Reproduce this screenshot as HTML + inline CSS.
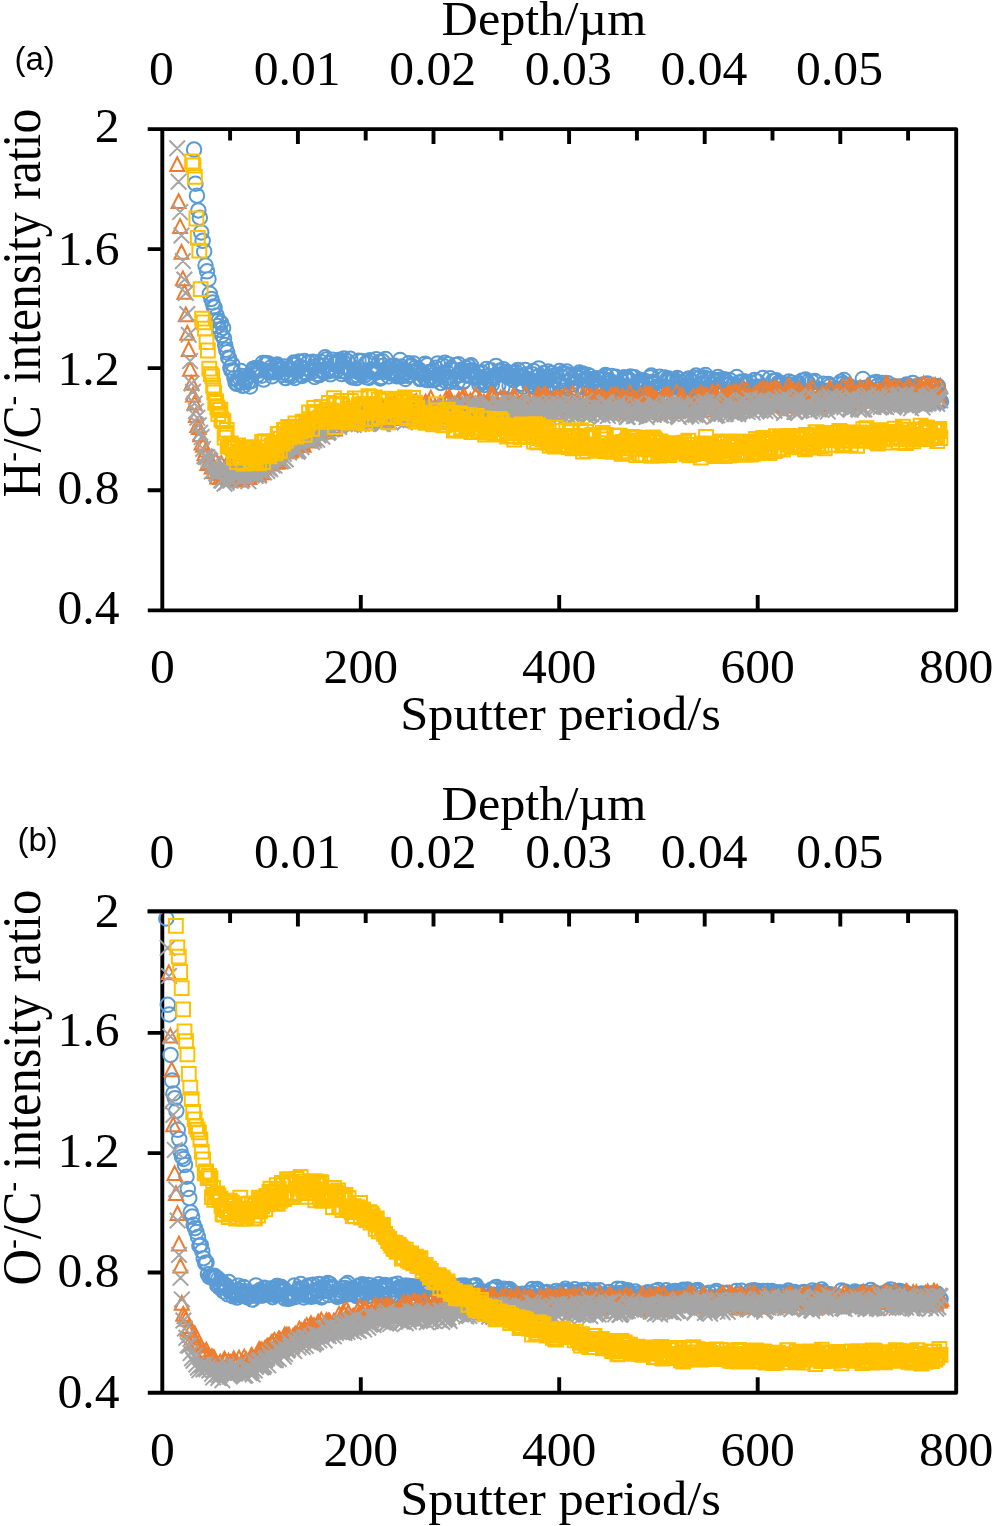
<!DOCTYPE html>
<html><head><meta charset="utf-8"><title>Figure</title>
<style>html,body{margin:0;padding:0;background:#fff}svg{display:block}</style></head>
<body><svg width="995" height="1526" viewBox="0 0 995 1526">
<rect width="995" height="1526" fill="#fff"/>
<defs><clipPath id="clipa"><rect x="152.3" y="127.14999999999999" width="803.9000000000001" height="485.19999999999993"/></clipPath></defs><g fill="none" stroke-width="2.0" stroke-linejoin="miter" clip-path="url(#clipa)"><path d="M186.8 149.6a7.25 7.25 0 1 0 14.5 0a7.25 7.25 0 1 0 -14.5 0zM188.2 183.7a7.25 7.25 0 1 0 14.5 0a7.25 7.25 0 1 0 -14.5 0zM189.7 195.7a7.25 7.25 0 1 0 14.5 0a7.25 7.25 0 1 0 -14.5 0zM191.1 210.4a7.25 7.25 0 1 0 14.5 0a7.25 7.25 0 1 0 -14.5 0zM192.6 217.7a7.25 7.25 0 1 0 14.5 0a7.25 7.25 0 1 0 -14.5 0zM194 232.4a7.25 7.25 0 1 0 14.5 0a7.25 7.25 0 1 0 -14.5 0zM195.4 240.8a7.25 7.25 0 1 0 14.5 0a7.25 7.25 0 1 0 -14.5 0zM196.9 251.3a7.25 7.25 0 1 0 14.5 0a7.25 7.25 0 1 0 -14.5 0zM198.3 265.5a7.25 7.25 0 1 0 14.5 0a7.25 7.25 0 1 0 -14.5 0zM199.8 271.3a7.25 7.25 0 1 0 14.5 0a7.25 7.25 0 1 0 -14.5 0zM201.2 279.2a7.25 7.25 0 1 0 14.5 0a7.25 7.25 0 1 0 -14.5 0zM202.6 293.8a7.25 7.25 0 1 0 14.5 0a7.25 7.25 0 1 0 -14.5 0zM204.1 298.9a7.25 7.25 0 1 0 14.5 0a7.25 7.25 0 1 0 -14.5 0zM205.4 302.6a7.25 7.25 0 1 0 14.5 0a7.25 7.25 0 1 0 -14.5 0zM206.4 306.5a7.25 7.25 0 1 0 14.5 0a7.25 7.25 0 1 0 -14.5 0zM207.4 307.6a7.25 7.25 0 1 0 14.5 0a7.25 7.25 0 1 0 -14.5 0zM208.5 320.3a7.25 7.25 0 1 0 14.5 0a7.25 7.25 0 1 0 -14.5 0zM209.5 315.6a7.25 7.25 0 1 0 14.5 0a7.25 7.25 0 1 0 -14.5 0zM210.6 326.1a7.25 7.25 0 1 0 14.5 0a7.25 7.25 0 1 0 -14.5 0zM211.6 320.5a7.25 7.25 0 1 0 14.5 0a7.25 7.25 0 1 0 -14.5 0zM212.7 330a7.25 7.25 0 1 0 14.5 0a7.25 7.25 0 1 0 -14.5 0zM213.7 322.8a7.25 7.25 0 1 0 14.5 0a7.25 7.25 0 1 0 -14.5 0zM214.7 335.1a7.25 7.25 0 1 0 14.5 0a7.25 7.25 0 1 0 -14.5 0zM215.8 327.9a7.25 7.25 0 1 0 14.5 0a7.25 7.25 0 1 0 -14.5 0zM216.8 338.4a7.25 7.25 0 1 0 14.5 0a7.25 7.25 0 1 0 -14.5 0zM217.9 345a7.25 7.25 0 1 0 14.5 0a7.25 7.25 0 1 0 -14.5 0zM218.9 349.8a7.25 7.25 0 1 0 14.5 0a7.25 7.25 0 1 0 -14.5 0zM220 352.3a7.25 7.25 0 1 0 14.5 0a7.25 7.25 0 1 0 -14.5 0zM221 357.7a7.25 7.25 0 1 0 14.5 0a7.25 7.25 0 1 0 -14.5 0zM222 358.5a7.25 7.25 0 1 0 14.5 0a7.25 7.25 0 1 0 -14.5 0zM223.1 367.5a7.25 7.25 0 1 0 14.5 0a7.25 7.25 0 1 0 -14.5 0zM224.1 370.5a7.25 7.25 0 1 0 14.5 0a7.25 7.25 0 1 0 -14.5 0zM225.2 364.6a7.25 7.25 0 1 0 14.5 0a7.25 7.25 0 1 0 -14.5 0zM226.2 371.5a7.25 7.25 0 1 0 14.5 0a7.25 7.25 0 1 0 -14.5 0zM227.2 377.9a7.25 7.25 0 1 0 14.5 0a7.25 7.25 0 1 0 -14.5 0zM228.3 382.6a7.25 7.25 0 1 0 14.5 0a7.25 7.25 0 1 0 -14.5 0zM229.3 383.8a7.25 7.25 0 1 0 14.5 0a7.25 7.25 0 1 0 -14.5 0zM230.4 383.9a7.25 7.25 0 1 0 14.5 0a7.25 7.25 0 1 0 -14.5 0zM231.4 381.2a7.25 7.25 0 1 0 14.5 0a7.25 7.25 0 1 0 -14.5 0zM232.5 378a7.25 7.25 0 1 0 14.5 0a7.25 7.25 0 1 0 -14.5 0zM233.5 371a7.25 7.25 0 1 0 14.5 0a7.25 7.25 0 1 0 -14.5 0zM234.5 376a7.25 7.25 0 1 0 14.5 0a7.25 7.25 0 1 0 -14.5 0zM235.6 385.8a7.25 7.25 0 1 0 14.5 0a7.25 7.25 0 1 0 -14.5 0zM236.6 385.6a7.25 7.25 0 1 0 14.5 0a7.25 7.25 0 1 0 -14.5 0zM237.7 381.1a7.25 7.25 0 1 0 14.5 0a7.25 7.25 0 1 0 -14.5 0zM238.7 380.2a7.25 7.25 0 1 0 14.5 0a7.25 7.25 0 1 0 -14.5 0zM239.7 377.7a7.25 7.25 0 1 0 14.5 0a7.25 7.25 0 1 0 -14.5 0zM240.8 382.1a7.25 7.25 0 1 0 14.5 0a7.25 7.25 0 1 0 -14.5 0zM241.8 376.5a7.25 7.25 0 1 0 14.5 0a7.25 7.25 0 1 0 -14.5 0zM242.9 386.5a7.25 7.25 0 1 0 14.5 0a7.25 7.25 0 1 0 -14.5 0zM243.9 381a7.25 7.25 0 1 0 14.5 0a7.25 7.25 0 1 0 -14.5 0zM245 371.3a7.25 7.25 0 1 0 14.5 0a7.25 7.25 0 1 0 -14.5 0zM246 368.8a7.25 7.25 0 1 0 14.5 0a7.25 7.25 0 1 0 -14.5 0zM247 369a7.25 7.25 0 1 0 14.5 0a7.25 7.25 0 1 0 -14.5 0zM248.1 368a7.25 7.25 0 1 0 14.5 0a7.25 7.25 0 1 0 -14.5 0zM249.1 370.6a7.25 7.25 0 1 0 14.5 0a7.25 7.25 0 1 0 -14.5 0zM250.2 375.2a7.25 7.25 0 1 0 14.5 0a7.25 7.25 0 1 0 -14.5 0zM251.2 367.9a7.25 7.25 0 1 0 14.5 0a7.25 7.25 0 1 0 -14.5 0zM252.3 370.4a7.25 7.25 0 1 0 14.5 0a7.25 7.25 0 1 0 -14.5 0zM253.3 370.3a7.25 7.25 0 1 0 14.5 0a7.25 7.25 0 1 0 -14.5 0zM254.3 375.7a7.25 7.25 0 1 0 14.5 0a7.25 7.25 0 1 0 -14.5 0zM255.4 363a7.25 7.25 0 1 0 14.5 0a7.25 7.25 0 1 0 -14.5 0zM256.4 379.6a7.25 7.25 0 1 0 14.5 0a7.25 7.25 0 1 0 -14.5 0zM257.5 364.6a7.25 7.25 0 1 0 14.5 0a7.25 7.25 0 1 0 -14.5 0zM258.5 363a7.25 7.25 0 1 0 14.5 0a7.25 7.25 0 1 0 -14.5 0zM259.5 371.6a7.25 7.25 0 1 0 14.5 0a7.25 7.25 0 1 0 -14.5 0zM260.6 363.2a7.25 7.25 0 1 0 14.5 0a7.25 7.25 0 1 0 -14.5 0zM261.6 372.6a7.25 7.25 0 1 0 14.5 0a7.25 7.25 0 1 0 -14.5 0zM262.7 370.9a7.25 7.25 0 1 0 14.5 0a7.25 7.25 0 1 0 -14.5 0zM263.7 367.5a7.25 7.25 0 1 0 14.5 0a7.25 7.25 0 1 0 -14.5 0zM264.8 376.3a7.25 7.25 0 1 0 14.5 0a7.25 7.25 0 1 0 -14.5 0zM265.8 371.2a7.25 7.25 0 1 0 14.5 0a7.25 7.25 0 1 0 -14.5 0zM266.8 372.3a7.25 7.25 0 1 0 14.5 0a7.25 7.25 0 1 0 -14.5 0zM267.9 368.7a7.25 7.25 0 1 0 14.5 0a7.25 7.25 0 1 0 -14.5 0zM268.9 365.9a7.25 7.25 0 1 0 14.5 0a7.25 7.25 0 1 0 -14.5 0zM270 364.6a7.25 7.25 0 1 0 14.5 0a7.25 7.25 0 1 0 -14.5 0zM271 367.1a7.25 7.25 0 1 0 14.5 0a7.25 7.25 0 1 0 -14.5 0zM272.1 369.7a7.25 7.25 0 1 0 14.5 0a7.25 7.25 0 1 0 -14.5 0zM273.1 369.9a7.25 7.25 0 1 0 14.5 0a7.25 7.25 0 1 0 -14.5 0zM274.1 369.7a7.25 7.25 0 1 0 14.5 0a7.25 7.25 0 1 0 -14.5 0zM275.2 374.9a7.25 7.25 0 1 0 14.5 0a7.25 7.25 0 1 0 -14.5 0zM276.2 372.7a7.25 7.25 0 1 0 14.5 0a7.25 7.25 0 1 0 -14.5 0zM277.3 366.6a7.25 7.25 0 1 0 14.5 0a7.25 7.25 0 1 0 -14.5 0zM278.3 378.1a7.25 7.25 0 1 0 14.5 0a7.25 7.25 0 1 0 -14.5 0zM279.3 368.8a7.25 7.25 0 1 0 14.5 0a7.25 7.25 0 1 0 -14.5 0zM280.4 373.8a7.25 7.25 0 1 0 14.5 0a7.25 7.25 0 1 0 -14.5 0zM281.4 375.6a7.25 7.25 0 1 0 14.5 0a7.25 7.25 0 1 0 -14.5 0zM282.5 369.5a7.25 7.25 0 1 0 14.5 0a7.25 7.25 0 1 0 -14.5 0zM283.5 368.9a7.25 7.25 0 1 0 14.5 0a7.25 7.25 0 1 0 -14.5 0zM284.6 376.2a7.25 7.25 0 1 0 14.5 0a7.25 7.25 0 1 0 -14.5 0zM285.6 364.7a7.25 7.25 0 1 0 14.5 0a7.25 7.25 0 1 0 -14.5 0zM286.6 362.6a7.25 7.25 0 1 0 14.5 0a7.25 7.25 0 1 0 -14.5 0zM287.7 378a7.25 7.25 0 1 0 14.5 0a7.25 7.25 0 1 0 -14.5 0zM288.7 364.4a7.25 7.25 0 1 0 14.5 0a7.25 7.25 0 1 0 -14.5 0zM289.8 371.7a7.25 7.25 0 1 0 14.5 0a7.25 7.25 0 1 0 -14.5 0zM290.8 370.5a7.25 7.25 0 1 0 14.5 0a7.25 7.25 0 1 0 -14.5 0zM291.8 361.5a7.25 7.25 0 1 0 14.5 0a7.25 7.25 0 1 0 -14.5 0zM292.9 366.8a7.25 7.25 0 1 0 14.5 0a7.25 7.25 0 1 0 -14.5 0zM293.9 374.6a7.25 7.25 0 1 0 14.5 0a7.25 7.25 0 1 0 -14.5 0zM295 376a7.25 7.25 0 1 0 14.5 0a7.25 7.25 0 1 0 -14.5 0zM296 372a7.25 7.25 0 1 0 14.5 0a7.25 7.25 0 1 0 -14.5 0zM297.1 361.1a7.25 7.25 0 1 0 14.5 0a7.25 7.25 0 1 0 -14.5 0zM298.1 372.5a7.25 7.25 0 1 0 14.5 0a7.25 7.25 0 1 0 -14.5 0zM299.1 368.7a7.25 7.25 0 1 0 14.5 0a7.25 7.25 0 1 0 -14.5 0zM300.2 373.7a7.25 7.25 0 1 0 14.5 0a7.25 7.25 0 1 0 -14.5 0zM301.2 362.4a7.25 7.25 0 1 0 14.5 0a7.25 7.25 0 1 0 -14.5 0zM302.3 370.2a7.25 7.25 0 1 0 14.5 0a7.25 7.25 0 1 0 -14.5 0zM303.3 369.3a7.25 7.25 0 1 0 14.5 0a7.25 7.25 0 1 0 -14.5 0zM304.4 372.2a7.25 7.25 0 1 0 14.5 0a7.25 7.25 0 1 0 -14.5 0zM305.4 361.8a7.25 7.25 0 1 0 14.5 0a7.25 7.25 0 1 0 -14.5 0zM306.4 366.7a7.25 7.25 0 1 0 14.5 0a7.25 7.25 0 1 0 -14.5 0zM307.5 377a7.25 7.25 0 1 0 14.5 0a7.25 7.25 0 1 0 -14.5 0zM308.5 362.2a7.25 7.25 0 1 0 14.5 0a7.25 7.25 0 1 0 -14.5 0zM309.6 374a7.25 7.25 0 1 0 14.5 0a7.25 7.25 0 1 0 -14.5 0zM310.6 374a7.25 7.25 0 1 0 14.5 0a7.25 7.25 0 1 0 -14.5 0zM311.6 375.3a7.25 7.25 0 1 0 14.5 0a7.25 7.25 0 1 0 -14.5 0zM312.7 365.6a7.25 7.25 0 1 0 14.5 0a7.25 7.25 0 1 0 -14.5 0zM313.7 361.9a7.25 7.25 0 1 0 14.5 0a7.25 7.25 0 1 0 -14.5 0zM314.8 371.4a7.25 7.25 0 1 0 14.5 0a7.25 7.25 0 1 0 -14.5 0zM315.8 370.1a7.25 7.25 0 1 0 14.5 0a7.25 7.25 0 1 0 -14.5 0zM316.9 365.6a7.25 7.25 0 1 0 14.5 0a7.25 7.25 0 1 0 -14.5 0zM317.9 357.3a7.25 7.25 0 1 0 14.5 0a7.25 7.25 0 1 0 -14.5 0zM318.9 359.5a7.25 7.25 0 1 0 14.5 0a7.25 7.25 0 1 0 -14.5 0zM320 369.6a7.25 7.25 0 1 0 14.5 0a7.25 7.25 0 1 0 -14.5 0zM321 371.4a7.25 7.25 0 1 0 14.5 0a7.25 7.25 0 1 0 -14.5 0zM322.1 370a7.25 7.25 0 1 0 14.5 0a7.25 7.25 0 1 0 -14.5 0zM323.1 374.3a7.25 7.25 0 1 0 14.5 0a7.25 7.25 0 1 0 -14.5 0zM324.2 362.7a7.25 7.25 0 1 0 14.5 0a7.25 7.25 0 1 0 -14.5 0zM325.2 359.8a7.25 7.25 0 1 0 14.5 0a7.25 7.25 0 1 0 -14.5 0zM326.2 370.4a7.25 7.25 0 1 0 14.5 0a7.25 7.25 0 1 0 -14.5 0zM327.3 364.4a7.25 7.25 0 1 0 14.5 0a7.25 7.25 0 1 0 -14.5 0zM328.3 362.5a7.25 7.25 0 1 0 14.5 0a7.25 7.25 0 1 0 -14.5 0zM329.4 370.5a7.25 7.25 0 1 0 14.5 0a7.25 7.25 0 1 0 -14.5 0zM330.4 361a7.25 7.25 0 1 0 14.5 0a7.25 7.25 0 1 0 -14.5 0zM331.4 360.6a7.25 7.25 0 1 0 14.5 0a7.25 7.25 0 1 0 -14.5 0zM332.5 359.7a7.25 7.25 0 1 0 14.5 0a7.25 7.25 0 1 0 -14.5 0zM333.5 371a7.25 7.25 0 1 0 14.5 0a7.25 7.25 0 1 0 -14.5 0zM334.6 374.1a7.25 7.25 0 1 0 14.5 0a7.25 7.25 0 1 0 -14.5 0zM335.6 361.7a7.25 7.25 0 1 0 14.5 0a7.25 7.25 0 1 0 -14.5 0zM336.7 358.5a7.25 7.25 0 1 0 14.5 0a7.25 7.25 0 1 0 -14.5 0zM337.7 367.4a7.25 7.25 0 1 0 14.5 0a7.25 7.25 0 1 0 -14.5 0zM338.7 372.2a7.25 7.25 0 1 0 14.5 0a7.25 7.25 0 1 0 -14.5 0zM339.8 360.9a7.25 7.25 0 1 0 14.5 0a7.25 7.25 0 1 0 -14.5 0zM340.8 361.6a7.25 7.25 0 1 0 14.5 0a7.25 7.25 0 1 0 -14.5 0zM341.9 369.6a7.25 7.25 0 1 0 14.5 0a7.25 7.25 0 1 0 -14.5 0zM342.9 358.8a7.25 7.25 0 1 0 14.5 0a7.25 7.25 0 1 0 -14.5 0zM343.9 370.5a7.25 7.25 0 1 0 14.5 0a7.25 7.25 0 1 0 -14.5 0zM345 377.5a7.25 7.25 0 1 0 14.5 0a7.25 7.25 0 1 0 -14.5 0zM346 375.9a7.25 7.25 0 1 0 14.5 0a7.25 7.25 0 1 0 -14.5 0zM347.1 369.7a7.25 7.25 0 1 0 14.5 0a7.25 7.25 0 1 0 -14.5 0zM348.1 370.8a7.25 7.25 0 1 0 14.5 0a7.25 7.25 0 1 0 -14.5 0zM349.2 378.1a7.25 7.25 0 1 0 14.5 0a7.25 7.25 0 1 0 -14.5 0zM350.2 375.3a7.25 7.25 0 1 0 14.5 0a7.25 7.25 0 1 0 -14.5 0zM351.2 360.8a7.25 7.25 0 1 0 14.5 0a7.25 7.25 0 1 0 -14.5 0zM352.3 373a7.25 7.25 0 1 0 14.5 0a7.25 7.25 0 1 0 -14.5 0zM353.3 373.1a7.25 7.25 0 1 0 14.5 0a7.25 7.25 0 1 0 -14.5 0zM354.4 361a7.25 7.25 0 1 0 14.5 0a7.25 7.25 0 1 0 -14.5 0zM355.4 374a7.25 7.25 0 1 0 14.5 0a7.25 7.25 0 1 0 -14.5 0zM356.5 370.7a7.25 7.25 0 1 0 14.5 0a7.25 7.25 0 1 0 -14.5 0zM357.5 375.3a7.25 7.25 0 1 0 14.5 0a7.25 7.25 0 1 0 -14.5 0zM358.5 363.5a7.25 7.25 0 1 0 14.5 0a7.25 7.25 0 1 0 -14.5 0zM359.6 377.3a7.25 7.25 0 1 0 14.5 0a7.25 7.25 0 1 0 -14.5 0zM360.6 362.2a7.25 7.25 0 1 0 14.5 0a7.25 7.25 0 1 0 -14.5 0zM361.7 377.8a7.25 7.25 0 1 0 14.5 0a7.25 7.25 0 1 0 -14.5 0zM362.7 360.2a7.25 7.25 0 1 0 14.5 0a7.25 7.25 0 1 0 -14.5 0zM363.7 369.5a7.25 7.25 0 1 0 14.5 0a7.25 7.25 0 1 0 -14.5 0zM364.8 371.5a7.25 7.25 0 1 0 14.5 0a7.25 7.25 0 1 0 -14.5 0zM365.8 369.9a7.25 7.25 0 1 0 14.5 0a7.25 7.25 0 1 0 -14.5 0zM366.9 371.2a7.25 7.25 0 1 0 14.5 0a7.25 7.25 0 1 0 -14.5 0zM367.9 373a7.25 7.25 0 1 0 14.5 0a7.25 7.25 0 1 0 -14.5 0zM369 359.2a7.25 7.25 0 1 0 14.5 0a7.25 7.25 0 1 0 -14.5 0zM370 370.8a7.25 7.25 0 1 0 14.5 0a7.25 7.25 0 1 0 -14.5 0zM371 372a7.25 7.25 0 1 0 14.5 0a7.25 7.25 0 1 0 -14.5 0zM372.1 362.1a7.25 7.25 0 1 0 14.5 0a7.25 7.25 0 1 0 -14.5 0zM373.1 378.4a7.25 7.25 0 1 0 14.5 0a7.25 7.25 0 1 0 -14.5 0zM374.2 377.1a7.25 7.25 0 1 0 14.5 0a7.25 7.25 0 1 0 -14.5 0zM375.2 361.3a7.25 7.25 0 1 0 14.5 0a7.25 7.25 0 1 0 -14.5 0zM376.3 365.7a7.25 7.25 0 1 0 14.5 0a7.25 7.25 0 1 0 -14.5 0zM377.3 372a7.25 7.25 0 1 0 14.5 0a7.25 7.25 0 1 0 -14.5 0zM378.3 359a7.25 7.25 0 1 0 14.5 0a7.25 7.25 0 1 0 -14.5 0zM379.4 368.7a7.25 7.25 0 1 0 14.5 0a7.25 7.25 0 1 0 -14.5 0zM380.4 369a7.25 7.25 0 1 0 14.5 0a7.25 7.25 0 1 0 -14.5 0zM381.5 376.4a7.25 7.25 0 1 0 14.5 0a7.25 7.25 0 1 0 -14.5 0zM382.5 366.7a7.25 7.25 0 1 0 14.5 0a7.25 7.25 0 1 0 -14.5 0zM383.5 373.5a7.25 7.25 0 1 0 14.5 0a7.25 7.25 0 1 0 -14.5 0zM384.6 365.7a7.25 7.25 0 1 0 14.5 0a7.25 7.25 0 1 0 -14.5 0zM385.6 373.5a7.25 7.25 0 1 0 14.5 0a7.25 7.25 0 1 0 -14.5 0zM386.7 365.4a7.25 7.25 0 1 0 14.5 0a7.25 7.25 0 1 0 -14.5 0zM387.7 371.2a7.25 7.25 0 1 0 14.5 0a7.25 7.25 0 1 0 -14.5 0zM388.8 373.9a7.25 7.25 0 1 0 14.5 0a7.25 7.25 0 1 0 -14.5 0zM389.8 376.3a7.25 7.25 0 1 0 14.5 0a7.25 7.25 0 1 0 -14.5 0zM390.8 375.2a7.25 7.25 0 1 0 14.5 0a7.25 7.25 0 1 0 -14.5 0zM391.9 371a7.25 7.25 0 1 0 14.5 0a7.25 7.25 0 1 0 -14.5 0zM392.9 360a7.25 7.25 0 1 0 14.5 0a7.25 7.25 0 1 0 -14.5 0zM394 366.5a7.25 7.25 0 1 0 14.5 0a7.25 7.25 0 1 0 -14.5 0zM395 376.1a7.25 7.25 0 1 0 14.5 0a7.25 7.25 0 1 0 -14.5 0zM396 369.8a7.25 7.25 0 1 0 14.5 0a7.25 7.25 0 1 0 -14.5 0zM397.1 372a7.25 7.25 0 1 0 14.5 0a7.25 7.25 0 1 0 -14.5 0zM398.1 379a7.25 7.25 0 1 0 14.5 0a7.25 7.25 0 1 0 -14.5 0zM399.2 373.2a7.25 7.25 0 1 0 14.5 0a7.25 7.25 0 1 0 -14.5 0zM400.2 375.8a7.25 7.25 0 1 0 14.5 0a7.25 7.25 0 1 0 -14.5 0zM401.3 363.3a7.25 7.25 0 1 0 14.5 0a7.25 7.25 0 1 0 -14.5 0zM402.3 366.8a7.25 7.25 0 1 0 14.5 0a7.25 7.25 0 1 0 -14.5 0zM403.3 374.8a7.25 7.25 0 1 0 14.5 0a7.25 7.25 0 1 0 -14.5 0zM404.4 365.8a7.25 7.25 0 1 0 14.5 0a7.25 7.25 0 1 0 -14.5 0zM405.4 371.5a7.25 7.25 0 1 0 14.5 0a7.25 7.25 0 1 0 -14.5 0zM406.5 363.6a7.25 7.25 0 1 0 14.5 0a7.25 7.25 0 1 0 -14.5 0zM407.5 368.1a7.25 7.25 0 1 0 14.5 0a7.25 7.25 0 1 0 -14.5 0zM408.6 371.5a7.25 7.25 0 1 0 14.5 0a7.25 7.25 0 1 0 -14.5 0zM409.6 370a7.25 7.25 0 1 0 14.5 0a7.25 7.25 0 1 0 -14.5 0zM410.6 370.8a7.25 7.25 0 1 0 14.5 0a7.25 7.25 0 1 0 -14.5 0zM411.7 369.5a7.25 7.25 0 1 0 14.5 0a7.25 7.25 0 1 0 -14.5 0zM412.7 379.1a7.25 7.25 0 1 0 14.5 0a7.25 7.25 0 1 0 -14.5 0zM413.8 378.6a7.25 7.25 0 1 0 14.5 0a7.25 7.25 0 1 0 -14.5 0zM414.8 374.3a7.25 7.25 0 1 0 14.5 0a7.25 7.25 0 1 0 -14.5 0zM415.8 372.5a7.25 7.25 0 1 0 14.5 0a7.25 7.25 0 1 0 -14.5 0zM416.9 377a7.25 7.25 0 1 0 14.5 0a7.25 7.25 0 1 0 -14.5 0zM417.9 363.7a7.25 7.25 0 1 0 14.5 0a7.25 7.25 0 1 0 -14.5 0zM419 379.9a7.25 7.25 0 1 0 14.5 0a7.25 7.25 0 1 0 -14.5 0zM420 365.3a7.25 7.25 0 1 0 14.5 0a7.25 7.25 0 1 0 -14.5 0zM421.1 380.1a7.25 7.25 0 1 0 14.5 0a7.25 7.25 0 1 0 -14.5 0zM422.1 372a7.25 7.25 0 1 0 14.5 0a7.25 7.25 0 1 0 -14.5 0zM423.1 377.7a7.25 7.25 0 1 0 14.5 0a7.25 7.25 0 1 0 -14.5 0zM424.2 372.5a7.25 7.25 0 1 0 14.5 0a7.25 7.25 0 1 0 -14.5 0zM425.2 380.3a7.25 7.25 0 1 0 14.5 0a7.25 7.25 0 1 0 -14.5 0zM426.3 370.7a7.25 7.25 0 1 0 14.5 0a7.25 7.25 0 1 0 -14.5 0zM427.3 379.9a7.25 7.25 0 1 0 14.5 0a7.25 7.25 0 1 0 -14.5 0zM428.4 367.8a7.25 7.25 0 1 0 14.5 0a7.25 7.25 0 1 0 -14.5 0zM429.4 379.1a7.25 7.25 0 1 0 14.5 0a7.25 7.25 0 1 0 -14.5 0zM430.4 363.4a7.25 7.25 0 1 0 14.5 0a7.25 7.25 0 1 0 -14.5 0zM431.5 374.4a7.25 7.25 0 1 0 14.5 0a7.25 7.25 0 1 0 -14.5 0zM432.5 377.7a7.25 7.25 0 1 0 14.5 0a7.25 7.25 0 1 0 -14.5 0zM433.6 382.9a7.25 7.25 0 1 0 14.5 0a7.25 7.25 0 1 0 -14.5 0zM434.6 376.1a7.25 7.25 0 1 0 14.5 0a7.25 7.25 0 1 0 -14.5 0zM435.6 365.7a7.25 7.25 0 1 0 14.5 0a7.25 7.25 0 1 0 -14.5 0zM436.7 374a7.25 7.25 0 1 0 14.5 0a7.25 7.25 0 1 0 -14.5 0zM437.7 362.7a7.25 7.25 0 1 0 14.5 0a7.25 7.25 0 1 0 -14.5 0zM438.8 381.4a7.25 7.25 0 1 0 14.5 0a7.25 7.25 0 1 0 -14.5 0zM439.8 378.5a7.25 7.25 0 1 0 14.5 0a7.25 7.25 0 1 0 -14.5 0zM440.9 364.2a7.25 7.25 0 1 0 14.5 0a7.25 7.25 0 1 0 -14.5 0zM441.9 377.9a7.25 7.25 0 1 0 14.5 0a7.25 7.25 0 1 0 -14.5 0zM442.9 382a7.25 7.25 0 1 0 14.5 0a7.25 7.25 0 1 0 -14.5 0zM444 368a7.25 7.25 0 1 0 14.5 0a7.25 7.25 0 1 0 -14.5 0zM445 369.3a7.25 7.25 0 1 0 14.5 0a7.25 7.25 0 1 0 -14.5 0zM446.1 378.8a7.25 7.25 0 1 0 14.5 0a7.25 7.25 0 1 0 -14.5 0zM447.1 370.2a7.25 7.25 0 1 0 14.5 0a7.25 7.25 0 1 0 -14.5 0zM448.1 364.9a7.25 7.25 0 1 0 14.5 0a7.25 7.25 0 1 0 -14.5 0zM449.2 376.3a7.25 7.25 0 1 0 14.5 0a7.25 7.25 0 1 0 -14.5 0zM450.2 382.1a7.25 7.25 0 1 0 14.5 0a7.25 7.25 0 1 0 -14.5 0zM451.3 364.3a7.25 7.25 0 1 0 14.5 0a7.25 7.25 0 1 0 -14.5 0zM452.3 374.9a7.25 7.25 0 1 0 14.5 0a7.25 7.25 0 1 0 -14.5 0zM453.4 372a7.25 7.25 0 1 0 14.5 0a7.25 7.25 0 1 0 -14.5 0zM454.4 369.7a7.25 7.25 0 1 0 14.5 0a7.25 7.25 0 1 0 -14.5 0zM455.4 382.4a7.25 7.25 0 1 0 14.5 0a7.25 7.25 0 1 0 -14.5 0zM456.5 381.1a7.25 7.25 0 1 0 14.5 0a7.25 7.25 0 1 0 -14.5 0zM457.5 370.6a7.25 7.25 0 1 0 14.5 0a7.25 7.25 0 1 0 -14.5 0zM458.6 367.9a7.25 7.25 0 1 0 14.5 0a7.25 7.25 0 1 0 -14.5 0zM459.6 375.7a7.25 7.25 0 1 0 14.5 0a7.25 7.25 0 1 0 -14.5 0zM460.7 374.3a7.25 7.25 0 1 0 14.5 0a7.25 7.25 0 1 0 -14.5 0zM461.7 366.5a7.25 7.25 0 1 0 14.5 0a7.25 7.25 0 1 0 -14.5 0zM462.7 371.8a7.25 7.25 0 1 0 14.5 0a7.25 7.25 0 1 0 -14.5 0zM463.8 365.3a7.25 7.25 0 1 0 14.5 0a7.25 7.25 0 1 0 -14.5 0zM464.8 370.2a7.25 7.25 0 1 0 14.5 0a7.25 7.25 0 1 0 -14.5 0zM465.9 371.8a7.25 7.25 0 1 0 14.5 0a7.25 7.25 0 1 0 -14.5 0zM466.9 375a7.25 7.25 0 1 0 14.5 0a7.25 7.25 0 1 0 -14.5 0zM467.9 376.3a7.25 7.25 0 1 0 14.5 0a7.25 7.25 0 1 0 -14.5 0zM469 377.6a7.25 7.25 0 1 0 14.5 0a7.25 7.25 0 1 0 -14.5 0zM470 377.1a7.25 7.25 0 1 0 14.5 0a7.25 7.25 0 1 0 -14.5 0zM471.1 372.9a7.25 7.25 0 1 0 14.5 0a7.25 7.25 0 1 0 -14.5 0zM472.1 384.6a7.25 7.25 0 1 0 14.5 0a7.25 7.25 0 1 0 -14.5 0zM473.2 381.9a7.25 7.25 0 1 0 14.5 0a7.25 7.25 0 1 0 -14.5 0zM474.2 372.2a7.25 7.25 0 1 0 14.5 0a7.25 7.25 0 1 0 -14.5 0zM475.2 377.2a7.25 7.25 0 1 0 14.5 0a7.25 7.25 0 1 0 -14.5 0zM476.3 381.2a7.25 7.25 0 1 0 14.5 0a7.25 7.25 0 1 0 -14.5 0zM477.3 385a7.25 7.25 0 1 0 14.5 0a7.25 7.25 0 1 0 -14.5 0zM478.4 382.1a7.25 7.25 0 1 0 14.5 0a7.25 7.25 0 1 0 -14.5 0zM479.4 368.9a7.25 7.25 0 1 0 14.5 0a7.25 7.25 0 1 0 -14.5 0zM480.4 375.9a7.25 7.25 0 1 0 14.5 0a7.25 7.25 0 1 0 -14.5 0zM481.5 380.7a7.25 7.25 0 1 0 14.5 0a7.25 7.25 0 1 0 -14.5 0zM482.5 382.7a7.25 7.25 0 1 0 14.5 0a7.25 7.25 0 1 0 -14.5 0zM483.6 370.2a7.25 7.25 0 1 0 14.5 0a7.25 7.25 0 1 0 -14.5 0zM484.6 384.5a7.25 7.25 0 1 0 14.5 0a7.25 7.25 0 1 0 -14.5 0zM485.7 377.7a7.25 7.25 0 1 0 14.5 0a7.25 7.25 0 1 0 -14.5 0zM486.7 378a7.25 7.25 0 1 0 14.5 0a7.25 7.25 0 1 0 -14.5 0zM487.7 375.4a7.25 7.25 0 1 0 14.5 0a7.25 7.25 0 1 0 -14.5 0zM488.8 365.9a7.25 7.25 0 1 0 14.5 0a7.25 7.25 0 1 0 -14.5 0zM489.8 375.8a7.25 7.25 0 1 0 14.5 0a7.25 7.25 0 1 0 -14.5 0zM490.9 385.7a7.25 7.25 0 1 0 14.5 0a7.25 7.25 0 1 0 -14.5 0zM491.9 371.4a7.25 7.25 0 1 0 14.5 0a7.25 7.25 0 1 0 -14.5 0zM493 370.6a7.25 7.25 0 1 0 14.5 0a7.25 7.25 0 1 0 -14.5 0zM494 371.2a7.25 7.25 0 1 0 14.5 0a7.25 7.25 0 1 0 -14.5 0zM495 387.4a7.25 7.25 0 1 0 14.5 0a7.25 7.25 0 1 0 -14.5 0zM496.1 369.2a7.25 7.25 0 1 0 14.5 0a7.25 7.25 0 1 0 -14.5 0zM497.1 372.7a7.25 7.25 0 1 0 14.5 0a7.25 7.25 0 1 0 -14.5 0zM498.2 374.8a7.25 7.25 0 1 0 14.5 0a7.25 7.25 0 1 0 -14.5 0zM499.2 372.1a7.25 7.25 0 1 0 14.5 0a7.25 7.25 0 1 0 -14.5 0zM500.2 375.7a7.25 7.25 0 1 0 14.5 0a7.25 7.25 0 1 0 -14.5 0zM501.3 376.3a7.25 7.25 0 1 0 14.5 0a7.25 7.25 0 1 0 -14.5 0zM502.3 386a7.25 7.25 0 1 0 14.5 0a7.25 7.25 0 1 0 -14.5 0zM503.4 378.2a7.25 7.25 0 1 0 14.5 0a7.25 7.25 0 1 0 -14.5 0zM504.4 373.1a7.25 7.25 0 1 0 14.5 0a7.25 7.25 0 1 0 -14.5 0zM505.5 372.4a7.25 7.25 0 1 0 14.5 0a7.25 7.25 0 1 0 -14.5 0zM506.5 380.2a7.25 7.25 0 1 0 14.5 0a7.25 7.25 0 1 0 -14.5 0zM507.5 376.8a7.25 7.25 0 1 0 14.5 0a7.25 7.25 0 1 0 -14.5 0zM508.6 372a7.25 7.25 0 1 0 14.5 0a7.25 7.25 0 1 0 -14.5 0zM509.6 375.5a7.25 7.25 0 1 0 14.5 0a7.25 7.25 0 1 0 -14.5 0zM510.7 369.9a7.25 7.25 0 1 0 14.5 0a7.25 7.25 0 1 0 -14.5 0zM511.7 377.1a7.25 7.25 0 1 0 14.5 0a7.25 7.25 0 1 0 -14.5 0zM512.8 377.6a7.25 7.25 0 1 0 14.5 0a7.25 7.25 0 1 0 -14.5 0zM513.8 383.7a7.25 7.25 0 1 0 14.5 0a7.25 7.25 0 1 0 -14.5 0zM514.8 377.6a7.25 7.25 0 1 0 14.5 0a7.25 7.25 0 1 0 -14.5 0zM515.9 386.6a7.25 7.25 0 1 0 14.5 0a7.25 7.25 0 1 0 -14.5 0zM516.9 377.2a7.25 7.25 0 1 0 14.5 0a7.25 7.25 0 1 0 -14.5 0zM518 370.1a7.25 7.25 0 1 0 14.5 0a7.25 7.25 0 1 0 -14.5 0zM519 374.4a7.25 7.25 0 1 0 14.5 0a7.25 7.25 0 1 0 -14.5 0zM520 378.6a7.25 7.25 0 1 0 14.5 0a7.25 7.25 0 1 0 -14.5 0zM521.1 379.1a7.25 7.25 0 1 0 14.5 0a7.25 7.25 0 1 0 -14.5 0zM522.1 384.9a7.25 7.25 0 1 0 14.5 0a7.25 7.25 0 1 0 -14.5 0zM523.2 381.1a7.25 7.25 0 1 0 14.5 0a7.25 7.25 0 1 0 -14.5 0zM524.2 386.5a7.25 7.25 0 1 0 14.5 0a7.25 7.25 0 1 0 -14.5 0zM525.3 374.3a7.25 7.25 0 1 0 14.5 0a7.25 7.25 0 1 0 -14.5 0zM526.3 371.1a7.25 7.25 0 1 0 14.5 0a7.25 7.25 0 1 0 -14.5 0zM527.3 382.3a7.25 7.25 0 1 0 14.5 0a7.25 7.25 0 1 0 -14.5 0zM528.4 387.6a7.25 7.25 0 1 0 14.5 0a7.25 7.25 0 1 0 -14.5 0zM529.4 377.2a7.25 7.25 0 1 0 14.5 0a7.25 7.25 0 1 0 -14.5 0zM530.5 381.6a7.25 7.25 0 1 0 14.5 0a7.25 7.25 0 1 0 -14.5 0zM531.5 368.4a7.25 7.25 0 1 0 14.5 0a7.25 7.25 0 1 0 -14.5 0zM532.5 375.4a7.25 7.25 0 1 0 14.5 0a7.25 7.25 0 1 0 -14.5 0zM533.6 389.3a7.25 7.25 0 1 0 14.5 0a7.25 7.25 0 1 0 -14.5 0zM534.6 378.2a7.25 7.25 0 1 0 14.5 0a7.25 7.25 0 1 0 -14.5 0zM535.7 381.7a7.25 7.25 0 1 0 14.5 0a7.25 7.25 0 1 0 -14.5 0zM536.7 373a7.25 7.25 0 1 0 14.5 0a7.25 7.25 0 1 0 -14.5 0zM537.8 377.4a7.25 7.25 0 1 0 14.5 0a7.25 7.25 0 1 0 -14.5 0zM538.8 389.7a7.25 7.25 0 1 0 14.5 0a7.25 7.25 0 1 0 -14.5 0zM539.8 380.6a7.25 7.25 0 1 0 14.5 0a7.25 7.25 0 1 0 -14.5 0zM540.9 371.4a7.25 7.25 0 1 0 14.5 0a7.25 7.25 0 1 0 -14.5 0zM541.9 377.1a7.25 7.25 0 1 0 14.5 0a7.25 7.25 0 1 0 -14.5 0zM543 384.7a7.25 7.25 0 1 0 14.5 0a7.25 7.25 0 1 0 -14.5 0zM544 387.1a7.25 7.25 0 1 0 14.5 0a7.25 7.25 0 1 0 -14.5 0zM545.1 373.3a7.25 7.25 0 1 0 14.5 0a7.25 7.25 0 1 0 -14.5 0zM546.1 389.3a7.25 7.25 0 1 0 14.5 0a7.25 7.25 0 1 0 -14.5 0zM547.1 379.3a7.25 7.25 0 1 0 14.5 0a7.25 7.25 0 1 0 -14.5 0zM548.2 375.1a7.25 7.25 0 1 0 14.5 0a7.25 7.25 0 1 0 -14.5 0zM549.2 375.4a7.25 7.25 0 1 0 14.5 0a7.25 7.25 0 1 0 -14.5 0zM550.3 390a7.25 7.25 0 1 0 14.5 0a7.25 7.25 0 1 0 -14.5 0zM551.3 381.8a7.25 7.25 0 1 0 14.5 0a7.25 7.25 0 1 0 -14.5 0zM552.3 371.1a7.25 7.25 0 1 0 14.5 0a7.25 7.25 0 1 0 -14.5 0zM553.4 384a7.25 7.25 0 1 0 14.5 0a7.25 7.25 0 1 0 -14.5 0zM554.4 376.5a7.25 7.25 0 1 0 14.5 0a7.25 7.25 0 1 0 -14.5 0zM555.5 373.1a7.25 7.25 0 1 0 14.5 0a7.25 7.25 0 1 0 -14.5 0zM556.5 381.6a7.25 7.25 0 1 0 14.5 0a7.25 7.25 0 1 0 -14.5 0zM557.6 385.8a7.25 7.25 0 1 0 14.5 0a7.25 7.25 0 1 0 -14.5 0zM558.6 373.9a7.25 7.25 0 1 0 14.5 0a7.25 7.25 0 1 0 -14.5 0zM559.6 371.5a7.25 7.25 0 1 0 14.5 0a7.25 7.25 0 1 0 -14.5 0zM560.7 382.1a7.25 7.25 0 1 0 14.5 0a7.25 7.25 0 1 0 -14.5 0zM561.7 375.4a7.25 7.25 0 1 0 14.5 0a7.25 7.25 0 1 0 -14.5 0zM562.8 374.9a7.25 7.25 0 1 0 14.5 0a7.25 7.25 0 1 0 -14.5 0zM563.8 389.8a7.25 7.25 0 1 0 14.5 0a7.25 7.25 0 1 0 -14.5 0zM564.9 378.6a7.25 7.25 0 1 0 14.5 0a7.25 7.25 0 1 0 -14.5 0zM565.9 384.2a7.25 7.25 0 1 0 14.5 0a7.25 7.25 0 1 0 -14.5 0zM566.9 381.3a7.25 7.25 0 1 0 14.5 0a7.25 7.25 0 1 0 -14.5 0zM568 375a7.25 7.25 0 1 0 14.5 0a7.25 7.25 0 1 0 -14.5 0zM569 388.1a7.25 7.25 0 1 0 14.5 0a7.25 7.25 0 1 0 -14.5 0zM570.1 391.3a7.25 7.25 0 1 0 14.5 0a7.25 7.25 0 1 0 -14.5 0zM571.1 378.2a7.25 7.25 0 1 0 14.5 0a7.25 7.25 0 1 0 -14.5 0zM572.1 372.6a7.25 7.25 0 1 0 14.5 0a7.25 7.25 0 1 0 -14.5 0zM573.2 386.9a7.25 7.25 0 1 0 14.5 0a7.25 7.25 0 1 0 -14.5 0zM574.2 374.2a7.25 7.25 0 1 0 14.5 0a7.25 7.25 0 1 0 -14.5 0zM575.3 373.4a7.25 7.25 0 1 0 14.5 0a7.25 7.25 0 1 0 -14.5 0zM576.3 375.2a7.25 7.25 0 1 0 14.5 0a7.25 7.25 0 1 0 -14.5 0zM577.4 378.9a7.25 7.25 0 1 0 14.5 0a7.25 7.25 0 1 0 -14.5 0zM578.4 380.4a7.25 7.25 0 1 0 14.5 0a7.25 7.25 0 1 0 -14.5 0zM579.4 378.9a7.25 7.25 0 1 0 14.5 0a7.25 7.25 0 1 0 -14.5 0zM580.5 374.9a7.25 7.25 0 1 0 14.5 0a7.25 7.25 0 1 0 -14.5 0zM581.5 388.8a7.25 7.25 0 1 0 14.5 0a7.25 7.25 0 1 0 -14.5 0zM582.6 376a7.25 7.25 0 1 0 14.5 0a7.25 7.25 0 1 0 -14.5 0zM583.6 390.4a7.25 7.25 0 1 0 14.5 0a7.25 7.25 0 1 0 -14.5 0zM584.6 379.7a7.25 7.25 0 1 0 14.5 0a7.25 7.25 0 1 0 -14.5 0zM585.7 381.7a7.25 7.25 0 1 0 14.5 0a7.25 7.25 0 1 0 -14.5 0zM586.7 378.7a7.25 7.25 0 1 0 14.5 0a7.25 7.25 0 1 0 -14.5 0zM587.8 384.6a7.25 7.25 0 1 0 14.5 0a7.25 7.25 0 1 0 -14.5 0zM588.8 389.4a7.25 7.25 0 1 0 14.5 0a7.25 7.25 0 1 0 -14.5 0zM589.9 378.3a7.25 7.25 0 1 0 14.5 0a7.25 7.25 0 1 0 -14.5 0zM590.9 386.2a7.25 7.25 0 1 0 14.5 0a7.25 7.25 0 1 0 -14.5 0zM591.9 379.6a7.25 7.25 0 1 0 14.5 0a7.25 7.25 0 1 0 -14.5 0zM593 386.6a7.25 7.25 0 1 0 14.5 0a7.25 7.25 0 1 0 -14.5 0zM594 383.3a7.25 7.25 0 1 0 14.5 0a7.25 7.25 0 1 0 -14.5 0zM595.1 378.2a7.25 7.25 0 1 0 14.5 0a7.25 7.25 0 1 0 -14.5 0zM596.1 389.1a7.25 7.25 0 1 0 14.5 0a7.25 7.25 0 1 0 -14.5 0zM597.2 379.2a7.25 7.25 0 1 0 14.5 0a7.25 7.25 0 1 0 -14.5 0zM598.2 375.1a7.25 7.25 0 1 0 14.5 0a7.25 7.25 0 1 0 -14.5 0zM599.2 376.3a7.25 7.25 0 1 0 14.5 0a7.25 7.25 0 1 0 -14.5 0zM600.3 390.4a7.25 7.25 0 1 0 14.5 0a7.25 7.25 0 1 0 -14.5 0zM601.3 386.6a7.25 7.25 0 1 0 14.5 0a7.25 7.25 0 1 0 -14.5 0zM602.4 380.4a7.25 7.25 0 1 0 14.5 0a7.25 7.25 0 1 0 -14.5 0zM603.4 382.6a7.25 7.25 0 1 0 14.5 0a7.25 7.25 0 1 0 -14.5 0zM604.4 376a7.25 7.25 0 1 0 14.5 0a7.25 7.25 0 1 0 -14.5 0zM605.5 390.3a7.25 7.25 0 1 0 14.5 0a7.25 7.25 0 1 0 -14.5 0zM606.5 388.4a7.25 7.25 0 1 0 14.5 0a7.25 7.25 0 1 0 -14.5 0zM607.6 395.3a7.25 7.25 0 1 0 14.5 0a7.25 7.25 0 1 0 -14.5 0zM608.6 376.8a7.25 7.25 0 1 0 14.5 0a7.25 7.25 0 1 0 -14.5 0zM609.7 392.6a7.25 7.25 0 1 0 14.5 0a7.25 7.25 0 1 0 -14.5 0zM610.7 386.9a7.25 7.25 0 1 0 14.5 0a7.25 7.25 0 1 0 -14.5 0zM611.7 384a7.25 7.25 0 1 0 14.5 0a7.25 7.25 0 1 0 -14.5 0zM612.8 395.7a7.25 7.25 0 1 0 14.5 0a7.25 7.25 0 1 0 -14.5 0zM613.8 385.2a7.25 7.25 0 1 0 14.5 0a7.25 7.25 0 1 0 -14.5 0zM614.9 381.3a7.25 7.25 0 1 0 14.5 0a7.25 7.25 0 1 0 -14.5 0zM615.9 390.4a7.25 7.25 0 1 0 14.5 0a7.25 7.25 0 1 0 -14.5 0zM617 377.2a7.25 7.25 0 1 0 14.5 0a7.25 7.25 0 1 0 -14.5 0zM618 378.6a7.25 7.25 0 1 0 14.5 0a7.25 7.25 0 1 0 -14.5 0zM619 387.8a7.25 7.25 0 1 0 14.5 0a7.25 7.25 0 1 0 -14.5 0zM620.1 378.4a7.25 7.25 0 1 0 14.5 0a7.25 7.25 0 1 0 -14.5 0zM621.1 381.1a7.25 7.25 0 1 0 14.5 0a7.25 7.25 0 1 0 -14.5 0zM622.2 379.8a7.25 7.25 0 1 0 14.5 0a7.25 7.25 0 1 0 -14.5 0zM623.2 376.5a7.25 7.25 0 1 0 14.5 0a7.25 7.25 0 1 0 -14.5 0zM624.2 391.9a7.25 7.25 0 1 0 14.5 0a7.25 7.25 0 1 0 -14.5 0zM625.3 386.7a7.25 7.25 0 1 0 14.5 0a7.25 7.25 0 1 0 -14.5 0zM626.3 377.3a7.25 7.25 0 1 0 14.5 0a7.25 7.25 0 1 0 -14.5 0zM627.4 377.3a7.25 7.25 0 1 0 14.5 0a7.25 7.25 0 1 0 -14.5 0zM628.4 386.4a7.25 7.25 0 1 0 14.5 0a7.25 7.25 0 1 0 -14.5 0zM629.5 383.6a7.25 7.25 0 1 0 14.5 0a7.25 7.25 0 1 0 -14.5 0zM630.5 388.3a7.25 7.25 0 1 0 14.5 0a7.25 7.25 0 1 0 -14.5 0zM631.5 382.9a7.25 7.25 0 1 0 14.5 0a7.25 7.25 0 1 0 -14.5 0zM632.6 381.8a7.25 7.25 0 1 0 14.5 0a7.25 7.25 0 1 0 -14.5 0zM633.6 380.1a7.25 7.25 0 1 0 14.5 0a7.25 7.25 0 1 0 -14.5 0zM634.7 381a7.25 7.25 0 1 0 14.5 0a7.25 7.25 0 1 0 -14.5 0zM635.7 385.8a7.25 7.25 0 1 0 14.5 0a7.25 7.25 0 1 0 -14.5 0zM636.7 388.7a7.25 7.25 0 1 0 14.5 0a7.25 7.25 0 1 0 -14.5 0zM637.8 380.9a7.25 7.25 0 1 0 14.5 0a7.25 7.25 0 1 0 -14.5 0zM638.8 392.8a7.25 7.25 0 1 0 14.5 0a7.25 7.25 0 1 0 -14.5 0zM639.9 393a7.25 7.25 0 1 0 14.5 0a7.25 7.25 0 1 0 -14.5 0zM640.9 388.3a7.25 7.25 0 1 0 14.5 0a7.25 7.25 0 1 0 -14.5 0zM642 392.3a7.25 7.25 0 1 0 14.5 0a7.25 7.25 0 1 0 -14.5 0zM643 377.4a7.25 7.25 0 1 0 14.5 0a7.25 7.25 0 1 0 -14.5 0zM644 375.5a7.25 7.25 0 1 0 14.5 0a7.25 7.25 0 1 0 -14.5 0zM645.1 381.7a7.25 7.25 0 1 0 14.5 0a7.25 7.25 0 1 0 -14.5 0zM646.1 382.9a7.25 7.25 0 1 0 14.5 0a7.25 7.25 0 1 0 -14.5 0zM647.2 384.2a7.25 7.25 0 1 0 14.5 0a7.25 7.25 0 1 0 -14.5 0zM648.2 390.7a7.25 7.25 0 1 0 14.5 0a7.25 7.25 0 1 0 -14.5 0zM649.3 388.6a7.25 7.25 0 1 0 14.5 0a7.25 7.25 0 1 0 -14.5 0zM650.3 386.2a7.25 7.25 0 1 0 14.5 0a7.25 7.25 0 1 0 -14.5 0zM651.3 393.1a7.25 7.25 0 1 0 14.5 0a7.25 7.25 0 1 0 -14.5 0zM652.4 376.7a7.25 7.25 0 1 0 14.5 0a7.25 7.25 0 1 0 -14.5 0zM653.4 388.6a7.25 7.25 0 1 0 14.5 0a7.25 7.25 0 1 0 -14.5 0zM654.5 386.7a7.25 7.25 0 1 0 14.5 0a7.25 7.25 0 1 0 -14.5 0zM655.5 393.4a7.25 7.25 0 1 0 14.5 0a7.25 7.25 0 1 0 -14.5 0zM656.5 389.7a7.25 7.25 0 1 0 14.5 0a7.25 7.25 0 1 0 -14.5 0zM657.6 377.6a7.25 7.25 0 1 0 14.5 0a7.25 7.25 0 1 0 -14.5 0zM658.6 387.1a7.25 7.25 0 1 0 14.5 0a7.25 7.25 0 1 0 -14.5 0zM659.7 379.5a7.25 7.25 0 1 0 14.5 0a7.25 7.25 0 1 0 -14.5 0zM660.7 378.3a7.25 7.25 0 1 0 14.5 0a7.25 7.25 0 1 0 -14.5 0zM661.8 388a7.25 7.25 0 1 0 14.5 0a7.25 7.25 0 1 0 -14.5 0zM662.8 378.9a7.25 7.25 0 1 0 14.5 0a7.25 7.25 0 1 0 -14.5 0zM663.8 387.8a7.25 7.25 0 1 0 14.5 0a7.25 7.25 0 1 0 -14.5 0zM664.9 379.4a7.25 7.25 0 1 0 14.5 0a7.25 7.25 0 1 0 -14.5 0zM665.9 392.4a7.25 7.25 0 1 0 14.5 0a7.25 7.25 0 1 0 -14.5 0zM667 379.5a7.25 7.25 0 1 0 14.5 0a7.25 7.25 0 1 0 -14.5 0zM668 393.8a7.25 7.25 0 1 0 14.5 0a7.25 7.25 0 1 0 -14.5 0zM669.1 387.6a7.25 7.25 0 1 0 14.5 0a7.25 7.25 0 1 0 -14.5 0zM670.1 378.1a7.25 7.25 0 1 0 14.5 0a7.25 7.25 0 1 0 -14.5 0zM671.1 378.8a7.25 7.25 0 1 0 14.5 0a7.25 7.25 0 1 0 -14.5 0zM672.2 384.1a7.25 7.25 0 1 0 14.5 0a7.25 7.25 0 1 0 -14.5 0zM673.2 387.9a7.25 7.25 0 1 0 14.5 0a7.25 7.25 0 1 0 -14.5 0zM674.3 386.8a7.25 7.25 0 1 0 14.5 0a7.25 7.25 0 1 0 -14.5 0zM675.3 386.4a7.25 7.25 0 1 0 14.5 0a7.25 7.25 0 1 0 -14.5 0zM676.3 388.4a7.25 7.25 0 1 0 14.5 0a7.25 7.25 0 1 0 -14.5 0zM677.4 385.3a7.25 7.25 0 1 0 14.5 0a7.25 7.25 0 1 0 -14.5 0zM678.4 380.4a7.25 7.25 0 1 0 14.5 0a7.25 7.25 0 1 0 -14.5 0zM679.5 392.2a7.25 7.25 0 1 0 14.5 0a7.25 7.25 0 1 0 -14.5 0zM680.5 385.5a7.25 7.25 0 1 0 14.5 0a7.25 7.25 0 1 0 -14.5 0zM681.6 378.4a7.25 7.25 0 1 0 14.5 0a7.25 7.25 0 1 0 -14.5 0zM682.6 391.6a7.25 7.25 0 1 0 14.5 0a7.25 7.25 0 1 0 -14.5 0zM683.6 381.1a7.25 7.25 0 1 0 14.5 0a7.25 7.25 0 1 0 -14.5 0zM684.7 394.9a7.25 7.25 0 1 0 14.5 0a7.25 7.25 0 1 0 -14.5 0zM685.7 389.3a7.25 7.25 0 1 0 14.5 0a7.25 7.25 0 1 0 -14.5 0zM686.8 377.8a7.25 7.25 0 1 0 14.5 0a7.25 7.25 0 1 0 -14.5 0zM687.8 382.6a7.25 7.25 0 1 0 14.5 0a7.25 7.25 0 1 0 -14.5 0zM688.8 375.6a7.25 7.25 0 1 0 14.5 0a7.25 7.25 0 1 0 -14.5 0zM689.9 385.5a7.25 7.25 0 1 0 14.5 0a7.25 7.25 0 1 0 -14.5 0zM690.9 392.4a7.25 7.25 0 1 0 14.5 0a7.25 7.25 0 1 0 -14.5 0zM692 397a7.25 7.25 0 1 0 14.5 0a7.25 7.25 0 1 0 -14.5 0zM693 377.6a7.25 7.25 0 1 0 14.5 0a7.25 7.25 0 1 0 -14.5 0zM694.1 394.6a7.25 7.25 0 1 0 14.5 0a7.25 7.25 0 1 0 -14.5 0zM695.1 380.1a7.25 7.25 0 1 0 14.5 0a7.25 7.25 0 1 0 -14.5 0zM696.1 384.5a7.25 7.25 0 1 0 14.5 0a7.25 7.25 0 1 0 -14.5 0zM697.2 377.4a7.25 7.25 0 1 0 14.5 0a7.25 7.25 0 1 0 -14.5 0zM698.2 375a7.25 7.25 0 1 0 14.5 0a7.25 7.25 0 1 0 -14.5 0zM699.3 388.5a7.25 7.25 0 1 0 14.5 0a7.25 7.25 0 1 0 -14.5 0zM700.3 390.7a7.25 7.25 0 1 0 14.5 0a7.25 7.25 0 1 0 -14.5 0zM701.4 379.6a7.25 7.25 0 1 0 14.5 0a7.25 7.25 0 1 0 -14.5 0zM702.4 389.4a7.25 7.25 0 1 0 14.5 0a7.25 7.25 0 1 0 -14.5 0zM703.4 395.8a7.25 7.25 0 1 0 14.5 0a7.25 7.25 0 1 0 -14.5 0zM704.5 378.9a7.25 7.25 0 1 0 14.5 0a7.25 7.25 0 1 0 -14.5 0zM705.5 384.2a7.25 7.25 0 1 0 14.5 0a7.25 7.25 0 1 0 -14.5 0zM706.6 380.6a7.25 7.25 0 1 0 14.5 0a7.25 7.25 0 1 0 -14.5 0zM707.6 393.1a7.25 7.25 0 1 0 14.5 0a7.25 7.25 0 1 0 -14.5 0zM708.6 387.8a7.25 7.25 0 1 0 14.5 0a7.25 7.25 0 1 0 -14.5 0zM709.7 380.2a7.25 7.25 0 1 0 14.5 0a7.25 7.25 0 1 0 -14.5 0zM710.7 377a7.25 7.25 0 1 0 14.5 0a7.25 7.25 0 1 0 -14.5 0zM711.8 389.1a7.25 7.25 0 1 0 14.5 0a7.25 7.25 0 1 0 -14.5 0zM712.8 387.8a7.25 7.25 0 1 0 14.5 0a7.25 7.25 0 1 0 -14.5 0zM713.9 379.6a7.25 7.25 0 1 0 14.5 0a7.25 7.25 0 1 0 -14.5 0zM714.9 395.3a7.25 7.25 0 1 0 14.5 0a7.25 7.25 0 1 0 -14.5 0zM715.9 391.9a7.25 7.25 0 1 0 14.5 0a7.25 7.25 0 1 0 -14.5 0zM717 379.3a7.25 7.25 0 1 0 14.5 0a7.25 7.25 0 1 0 -14.5 0zM718 379.9a7.25 7.25 0 1 0 14.5 0a7.25 7.25 0 1 0 -14.5 0zM719.1 381.4a7.25 7.25 0 1 0 14.5 0a7.25 7.25 0 1 0 -14.5 0zM720.1 395.2a7.25 7.25 0 1 0 14.5 0a7.25 7.25 0 1 0 -14.5 0zM721.2 389.6a7.25 7.25 0 1 0 14.5 0a7.25 7.25 0 1 0 -14.5 0zM722.2 379.9a7.25 7.25 0 1 0 14.5 0a7.25 7.25 0 1 0 -14.5 0zM723.2 383.9a7.25 7.25 0 1 0 14.5 0a7.25 7.25 0 1 0 -14.5 0zM724.3 396.2a7.25 7.25 0 1 0 14.5 0a7.25 7.25 0 1 0 -14.5 0zM725.3 385.3a7.25 7.25 0 1 0 14.5 0a7.25 7.25 0 1 0 -14.5 0zM726.4 390.6a7.25 7.25 0 1 0 14.5 0a7.25 7.25 0 1 0 -14.5 0zM727.4 395.7a7.25 7.25 0 1 0 14.5 0a7.25 7.25 0 1 0 -14.5 0zM728.4 395.1a7.25 7.25 0 1 0 14.5 0a7.25 7.25 0 1 0 -14.5 0zM729.5 377a7.25 7.25 0 1 0 14.5 0a7.25 7.25 0 1 0 -14.5 0zM730.5 392.1a7.25 7.25 0 1 0 14.5 0a7.25 7.25 0 1 0 -14.5 0zM731.6 386.6a7.25 7.25 0 1 0 14.5 0a7.25 7.25 0 1 0 -14.5 0zM732.6 382.3a7.25 7.25 0 1 0 14.5 0a7.25 7.25 0 1 0 -14.5 0zM733.7 396.5a7.25 7.25 0 1 0 14.5 0a7.25 7.25 0 1 0 -14.5 0zM734.7 381.6a7.25 7.25 0 1 0 14.5 0a7.25 7.25 0 1 0 -14.5 0zM735.7 393.5a7.25 7.25 0 1 0 14.5 0a7.25 7.25 0 1 0 -14.5 0zM736.8 381.2a7.25 7.25 0 1 0 14.5 0a7.25 7.25 0 1 0 -14.5 0zM737.8 391.8a7.25 7.25 0 1 0 14.5 0a7.25 7.25 0 1 0 -14.5 0zM738.9 382.5a7.25 7.25 0 1 0 14.5 0a7.25 7.25 0 1 0 -14.5 0zM739.9 383.6a7.25 7.25 0 1 0 14.5 0a7.25 7.25 0 1 0 -14.5 0zM740.9 396.4a7.25 7.25 0 1 0 14.5 0a7.25 7.25 0 1 0 -14.5 0zM742 395.4a7.25 7.25 0 1 0 14.5 0a7.25 7.25 0 1 0 -14.5 0zM743 382.2a7.25 7.25 0 1 0 14.5 0a7.25 7.25 0 1 0 -14.5 0zM744.1 390.1a7.25 7.25 0 1 0 14.5 0a7.25 7.25 0 1 0 -14.5 0zM745.1 387a7.25 7.25 0 1 0 14.5 0a7.25 7.25 0 1 0 -14.5 0zM746.2 388.9a7.25 7.25 0 1 0 14.5 0a7.25 7.25 0 1 0 -14.5 0zM747.2 379.9a7.25 7.25 0 1 0 14.5 0a7.25 7.25 0 1 0 -14.5 0zM748.2 394.8a7.25 7.25 0 1 0 14.5 0a7.25 7.25 0 1 0 -14.5 0zM749.3 389.6a7.25 7.25 0 1 0 14.5 0a7.25 7.25 0 1 0 -14.5 0zM750.3 381.6a7.25 7.25 0 1 0 14.5 0a7.25 7.25 0 1 0 -14.5 0zM751.4 390.4a7.25 7.25 0 1 0 14.5 0a7.25 7.25 0 1 0 -14.5 0zM752.4 388.2a7.25 7.25 0 1 0 14.5 0a7.25 7.25 0 1 0 -14.5 0zM753.5 386.6a7.25 7.25 0 1 0 14.5 0a7.25 7.25 0 1 0 -14.5 0zM754.5 389.2a7.25 7.25 0 1 0 14.5 0a7.25 7.25 0 1 0 -14.5 0zM755.5 378.1a7.25 7.25 0 1 0 14.5 0a7.25 7.25 0 1 0 -14.5 0zM756.6 395.4a7.25 7.25 0 1 0 14.5 0a7.25 7.25 0 1 0 -14.5 0zM757.6 394.2a7.25 7.25 0 1 0 14.5 0a7.25 7.25 0 1 0 -14.5 0zM758.7 395.3a7.25 7.25 0 1 0 14.5 0a7.25 7.25 0 1 0 -14.5 0zM759.7 389.3a7.25 7.25 0 1 0 14.5 0a7.25 7.25 0 1 0 -14.5 0zM760.7 396.7a7.25 7.25 0 1 0 14.5 0a7.25 7.25 0 1 0 -14.5 0zM761.8 390a7.25 7.25 0 1 0 14.5 0a7.25 7.25 0 1 0 -14.5 0zM762.8 378.3a7.25 7.25 0 1 0 14.5 0a7.25 7.25 0 1 0 -14.5 0zM763.9 395a7.25 7.25 0 1 0 14.5 0a7.25 7.25 0 1 0 -14.5 0zM764.9 393.9a7.25 7.25 0 1 0 14.5 0a7.25 7.25 0 1 0 -14.5 0zM766 380.9a7.25 7.25 0 1 0 14.5 0a7.25 7.25 0 1 0 -14.5 0zM767 388.1a7.25 7.25 0 1 0 14.5 0a7.25 7.25 0 1 0 -14.5 0zM768 381.1a7.25 7.25 0 1 0 14.5 0a7.25 7.25 0 1 0 -14.5 0zM769.1 380.3a7.25 7.25 0 1 0 14.5 0a7.25 7.25 0 1 0 -14.5 0zM770.1 385.5a7.25 7.25 0 1 0 14.5 0a7.25 7.25 0 1 0 -14.5 0zM771.2 382.9a7.25 7.25 0 1 0 14.5 0a7.25 7.25 0 1 0 -14.5 0zM772.2 385.7a7.25 7.25 0 1 0 14.5 0a7.25 7.25 0 1 0 -14.5 0zM773.3 397.9a7.25 7.25 0 1 0 14.5 0a7.25 7.25 0 1 0 -14.5 0zM774.3 383.2a7.25 7.25 0 1 0 14.5 0a7.25 7.25 0 1 0 -14.5 0zM775.3 397.6a7.25 7.25 0 1 0 14.5 0a7.25 7.25 0 1 0 -14.5 0zM776.4 394.5a7.25 7.25 0 1 0 14.5 0a7.25 7.25 0 1 0 -14.5 0zM777.4 393.6a7.25 7.25 0 1 0 14.5 0a7.25 7.25 0 1 0 -14.5 0zM778.5 386.6a7.25 7.25 0 1 0 14.5 0a7.25 7.25 0 1 0 -14.5 0zM779.5 395.3a7.25 7.25 0 1 0 14.5 0a7.25 7.25 0 1 0 -14.5 0zM780.5 390.1a7.25 7.25 0 1 0 14.5 0a7.25 7.25 0 1 0 -14.5 0zM781.6 381.6a7.25 7.25 0 1 0 14.5 0a7.25 7.25 0 1 0 -14.5 0zM782.6 385a7.25 7.25 0 1 0 14.5 0a7.25 7.25 0 1 0 -14.5 0zM783.7 387.6a7.25 7.25 0 1 0 14.5 0a7.25 7.25 0 1 0 -14.5 0zM784.7 382.7a7.25 7.25 0 1 0 14.5 0a7.25 7.25 0 1 0 -14.5 0zM785.8 391a7.25 7.25 0 1 0 14.5 0a7.25 7.25 0 1 0 -14.5 0zM786.8 398a7.25 7.25 0 1 0 14.5 0a7.25 7.25 0 1 0 -14.5 0zM787.8 393.5a7.25 7.25 0 1 0 14.5 0a7.25 7.25 0 1 0 -14.5 0zM788.9 394.8a7.25 7.25 0 1 0 14.5 0a7.25 7.25 0 1 0 -14.5 0zM789.9 384.5a7.25 7.25 0 1 0 14.5 0a7.25 7.25 0 1 0 -14.5 0zM791 383.1a7.25 7.25 0 1 0 14.5 0a7.25 7.25 0 1 0 -14.5 0zM792 388a7.25 7.25 0 1 0 14.5 0a7.25 7.25 0 1 0 -14.5 0zM793 396.6a7.25 7.25 0 1 0 14.5 0a7.25 7.25 0 1 0 -14.5 0zM794.1 390.3a7.25 7.25 0 1 0 14.5 0a7.25 7.25 0 1 0 -14.5 0zM795.1 380.4a7.25 7.25 0 1 0 14.5 0a7.25 7.25 0 1 0 -14.5 0zM796.2 391.1a7.25 7.25 0 1 0 14.5 0a7.25 7.25 0 1 0 -14.5 0zM797.2 380.4a7.25 7.25 0 1 0 14.5 0a7.25 7.25 0 1 0 -14.5 0zM798.3 379.6a7.25 7.25 0 1 0 14.5 0a7.25 7.25 0 1 0 -14.5 0zM799.3 396.5a7.25 7.25 0 1 0 14.5 0a7.25 7.25 0 1 0 -14.5 0zM800.3 382.1a7.25 7.25 0 1 0 14.5 0a7.25 7.25 0 1 0 -14.5 0zM801.4 398.4a7.25 7.25 0 1 0 14.5 0a7.25 7.25 0 1 0 -14.5 0zM802.4 391.5a7.25 7.25 0 1 0 14.5 0a7.25 7.25 0 1 0 -14.5 0zM803.5 393.8a7.25 7.25 0 1 0 14.5 0a7.25 7.25 0 1 0 -14.5 0zM804.5 381.7a7.25 7.25 0 1 0 14.5 0a7.25 7.25 0 1 0 -14.5 0zM805.6 389.2a7.25 7.25 0 1 0 14.5 0a7.25 7.25 0 1 0 -14.5 0zM806.6 392.1a7.25 7.25 0 1 0 14.5 0a7.25 7.25 0 1 0 -14.5 0zM807.6 381.1a7.25 7.25 0 1 0 14.5 0a7.25 7.25 0 1 0 -14.5 0zM808.7 396.1a7.25 7.25 0 1 0 14.5 0a7.25 7.25 0 1 0 -14.5 0zM809.7 395.7a7.25 7.25 0 1 0 14.5 0a7.25 7.25 0 1 0 -14.5 0zM810.8 390.8a7.25 7.25 0 1 0 14.5 0a7.25 7.25 0 1 0 -14.5 0zM811.8 393.9a7.25 7.25 0 1 0 14.5 0a7.25 7.25 0 1 0 -14.5 0zM812.8 389.5a7.25 7.25 0 1 0 14.5 0a7.25 7.25 0 1 0 -14.5 0zM813.9 398.3a7.25 7.25 0 1 0 14.5 0a7.25 7.25 0 1 0 -14.5 0zM814.9 395.5a7.25 7.25 0 1 0 14.5 0a7.25 7.25 0 1 0 -14.5 0zM816 383.8a7.25 7.25 0 1 0 14.5 0a7.25 7.25 0 1 0 -14.5 0zM817 390.5a7.25 7.25 0 1 0 14.5 0a7.25 7.25 0 1 0 -14.5 0zM818.1 395.4a7.25 7.25 0 1 0 14.5 0a7.25 7.25 0 1 0 -14.5 0zM819.1 392a7.25 7.25 0 1 0 14.5 0a7.25 7.25 0 1 0 -14.5 0zM820.1 395.1a7.25 7.25 0 1 0 14.5 0a7.25 7.25 0 1 0 -14.5 0zM821.2 383.9a7.25 7.25 0 1 0 14.5 0a7.25 7.25 0 1 0 -14.5 0zM822.2 386.3a7.25 7.25 0 1 0 14.5 0a7.25 7.25 0 1 0 -14.5 0zM823.3 396.3a7.25 7.25 0 1 0 14.5 0a7.25 7.25 0 1 0 -14.5 0zM824.3 399.3a7.25 7.25 0 1 0 14.5 0a7.25 7.25 0 1 0 -14.5 0zM825.3 390.7a7.25 7.25 0 1 0 14.5 0a7.25 7.25 0 1 0 -14.5 0zM826.4 392.9a7.25 7.25 0 1 0 14.5 0a7.25 7.25 0 1 0 -14.5 0zM827.4 389a7.25 7.25 0 1 0 14.5 0a7.25 7.25 0 1 0 -14.5 0zM828.5 389.4a7.25 7.25 0 1 0 14.5 0a7.25 7.25 0 1 0 -14.5 0zM829.5 394.7a7.25 7.25 0 1 0 14.5 0a7.25 7.25 0 1 0 -14.5 0zM830.6 388.8a7.25 7.25 0 1 0 14.5 0a7.25 7.25 0 1 0 -14.5 0zM831.6 389.2a7.25 7.25 0 1 0 14.5 0a7.25 7.25 0 1 0 -14.5 0zM832.6 392.2a7.25 7.25 0 1 0 14.5 0a7.25 7.25 0 1 0 -14.5 0zM833.7 381.7a7.25 7.25 0 1 0 14.5 0a7.25 7.25 0 1 0 -14.5 0zM834.7 389.8a7.25 7.25 0 1 0 14.5 0a7.25 7.25 0 1 0 -14.5 0zM835.8 383.7a7.25 7.25 0 1 0 14.5 0a7.25 7.25 0 1 0 -14.5 0zM836.8 380a7.25 7.25 0 1 0 14.5 0a7.25 7.25 0 1 0 -14.5 0zM837.9 388.2a7.25 7.25 0 1 0 14.5 0a7.25 7.25 0 1 0 -14.5 0zM838.9 384.6a7.25 7.25 0 1 0 14.5 0a7.25 7.25 0 1 0 -14.5 0zM839.9 390.3a7.25 7.25 0 1 0 14.5 0a7.25 7.25 0 1 0 -14.5 0zM841 385.4a7.25 7.25 0 1 0 14.5 0a7.25 7.25 0 1 0 -14.5 0zM842 396.1a7.25 7.25 0 1 0 14.5 0a7.25 7.25 0 1 0 -14.5 0zM843.1 394.5a7.25 7.25 0 1 0 14.5 0a7.25 7.25 0 1 0 -14.5 0zM844.1 391.8a7.25 7.25 0 1 0 14.5 0a7.25 7.25 0 1 0 -14.5 0zM845.1 393.9a7.25 7.25 0 1 0 14.5 0a7.25 7.25 0 1 0 -14.5 0zM846.2 391.1a7.25 7.25 0 1 0 14.5 0a7.25 7.25 0 1 0 -14.5 0zM847.2 389a7.25 7.25 0 1 0 14.5 0a7.25 7.25 0 1 0 -14.5 0zM848.3 396.6a7.25 7.25 0 1 0 14.5 0a7.25 7.25 0 1 0 -14.5 0zM849.3 393.8a7.25 7.25 0 1 0 14.5 0a7.25 7.25 0 1 0 -14.5 0zM850.4 388.5a7.25 7.25 0 1 0 14.5 0a7.25 7.25 0 1 0 -14.5 0zM851.4 394.6a7.25 7.25 0 1 0 14.5 0a7.25 7.25 0 1 0 -14.5 0zM852.4 395a7.25 7.25 0 1 0 14.5 0a7.25 7.25 0 1 0 -14.5 0zM853.5 388.1a7.25 7.25 0 1 0 14.5 0a7.25 7.25 0 1 0 -14.5 0zM854.5 398.8a7.25 7.25 0 1 0 14.5 0a7.25 7.25 0 1 0 -14.5 0zM855.6 379a7.25 7.25 0 1 0 14.5 0a7.25 7.25 0 1 0 -14.5 0zM856.6 399.6a7.25 7.25 0 1 0 14.5 0a7.25 7.25 0 1 0 -14.5 0zM857.7 400.1a7.25 7.25 0 1 0 14.5 0a7.25 7.25 0 1 0 -14.5 0zM858.7 391.5a7.25 7.25 0 1 0 14.5 0a7.25 7.25 0 1 0 -14.5 0zM859.7 387.4a7.25 7.25 0 1 0 14.5 0a7.25 7.25 0 1 0 -14.5 0zM860.8 396.8a7.25 7.25 0 1 0 14.5 0a7.25 7.25 0 1 0 -14.5 0zM861.8 395.6a7.25 7.25 0 1 0 14.5 0a7.25 7.25 0 1 0 -14.5 0zM862.9 390a7.25 7.25 0 1 0 14.5 0a7.25 7.25 0 1 0 -14.5 0zM863.9 395.9a7.25 7.25 0 1 0 14.5 0a7.25 7.25 0 1 0 -14.5 0zM864.9 384.1a7.25 7.25 0 1 0 14.5 0a7.25 7.25 0 1 0 -14.5 0zM866 398.5a7.25 7.25 0 1 0 14.5 0a7.25 7.25 0 1 0 -14.5 0zM867 382.5a7.25 7.25 0 1 0 14.5 0a7.25 7.25 0 1 0 -14.5 0zM868.1 401.1a7.25 7.25 0 1 0 14.5 0a7.25 7.25 0 1 0 -14.5 0zM869.1 382a7.25 7.25 0 1 0 14.5 0a7.25 7.25 0 1 0 -14.5 0zM870.2 385.9a7.25 7.25 0 1 0 14.5 0a7.25 7.25 0 1 0 -14.5 0zM871.2 389.4a7.25 7.25 0 1 0 14.5 0a7.25 7.25 0 1 0 -14.5 0zM872.2 394.9a7.25 7.25 0 1 0 14.5 0a7.25 7.25 0 1 0 -14.5 0zM873.3 400.1a7.25 7.25 0 1 0 14.5 0a7.25 7.25 0 1 0 -14.5 0zM874.3 393a7.25 7.25 0 1 0 14.5 0a7.25 7.25 0 1 0 -14.5 0zM875.4 383.1a7.25 7.25 0 1 0 14.5 0a7.25 7.25 0 1 0 -14.5 0zM876.4 390.3a7.25 7.25 0 1 0 14.5 0a7.25 7.25 0 1 0 -14.5 0zM877.4 388.8a7.25 7.25 0 1 0 14.5 0a7.25 7.25 0 1 0 -14.5 0zM878.5 393.9a7.25 7.25 0 1 0 14.5 0a7.25 7.25 0 1 0 -14.5 0zM879.5 385.5a7.25 7.25 0 1 0 14.5 0a7.25 7.25 0 1 0 -14.5 0zM880.6 383.3a7.25 7.25 0 1 0 14.5 0a7.25 7.25 0 1 0 -14.5 0zM881.6 395.9a7.25 7.25 0 1 0 14.5 0a7.25 7.25 0 1 0 -14.5 0zM882.7 387.7a7.25 7.25 0 1 0 14.5 0a7.25 7.25 0 1 0 -14.5 0zM883.7 397.5a7.25 7.25 0 1 0 14.5 0a7.25 7.25 0 1 0 -14.5 0zM884.7 393.5a7.25 7.25 0 1 0 14.5 0a7.25 7.25 0 1 0 -14.5 0zM885.8 400.6a7.25 7.25 0 1 0 14.5 0a7.25 7.25 0 1 0 -14.5 0zM886.8 402.9a7.25 7.25 0 1 0 14.5 0a7.25 7.25 0 1 0 -14.5 0zM887.9 386.3a7.25 7.25 0 1 0 14.5 0a7.25 7.25 0 1 0 -14.5 0zM888.9 403.3a7.25 7.25 0 1 0 14.5 0a7.25 7.25 0 1 0 -14.5 0zM890 387.7a7.25 7.25 0 1 0 14.5 0a7.25 7.25 0 1 0 -14.5 0zM891 389.2a7.25 7.25 0 1 0 14.5 0a7.25 7.25 0 1 0 -14.5 0zM892 386.5a7.25 7.25 0 1 0 14.5 0a7.25 7.25 0 1 0 -14.5 0zM893.1 394.9a7.25 7.25 0 1 0 14.5 0a7.25 7.25 0 1 0 -14.5 0zM894.1 387a7.25 7.25 0 1 0 14.5 0a7.25 7.25 0 1 0 -14.5 0zM895.2 388.4a7.25 7.25 0 1 0 14.5 0a7.25 7.25 0 1 0 -14.5 0zM896.2 392a7.25 7.25 0 1 0 14.5 0a7.25 7.25 0 1 0 -14.5 0zM897.2 391.1a7.25 7.25 0 1 0 14.5 0a7.25 7.25 0 1 0 -14.5 0zM898.3 390.3a7.25 7.25 0 1 0 14.5 0a7.25 7.25 0 1 0 -14.5 0zM899.3 384.6a7.25 7.25 0 1 0 14.5 0a7.25 7.25 0 1 0 -14.5 0zM900.4 385.2a7.25 7.25 0 1 0 14.5 0a7.25 7.25 0 1 0 -14.5 0zM901.4 388.6a7.25 7.25 0 1 0 14.5 0a7.25 7.25 0 1 0 -14.5 0zM902.5 391a7.25 7.25 0 1 0 14.5 0a7.25 7.25 0 1 0 -14.5 0zM903.5 392.6a7.25 7.25 0 1 0 14.5 0a7.25 7.25 0 1 0 -14.5 0zM904.5 392.5a7.25 7.25 0 1 0 14.5 0a7.25 7.25 0 1 0 -14.5 0zM905.6 382.9a7.25 7.25 0 1 0 14.5 0a7.25 7.25 0 1 0 -14.5 0zM906.6 396a7.25 7.25 0 1 0 14.5 0a7.25 7.25 0 1 0 -14.5 0zM907.7 388.9a7.25 7.25 0 1 0 14.5 0a7.25 7.25 0 1 0 -14.5 0zM908.7 401.3a7.25 7.25 0 1 0 14.5 0a7.25 7.25 0 1 0 -14.5 0zM909.8 386a7.25 7.25 0 1 0 14.5 0a7.25 7.25 0 1 0 -14.5 0zM910.8 387.1a7.25 7.25 0 1 0 14.5 0a7.25 7.25 0 1 0 -14.5 0zM911.8 389.1a7.25 7.25 0 1 0 14.5 0a7.25 7.25 0 1 0 -14.5 0zM912.9 385.1a7.25 7.25 0 1 0 14.5 0a7.25 7.25 0 1 0 -14.5 0zM913.9 393.2a7.25 7.25 0 1 0 14.5 0a7.25 7.25 0 1 0 -14.5 0zM915 402a7.25 7.25 0 1 0 14.5 0a7.25 7.25 0 1 0 -14.5 0zM916 395.9a7.25 7.25 0 1 0 14.5 0a7.25 7.25 0 1 0 -14.5 0zM917 384.3a7.25 7.25 0 1 0 14.5 0a7.25 7.25 0 1 0 -14.5 0zM918.1 400.3a7.25 7.25 0 1 0 14.5 0a7.25 7.25 0 1 0 -14.5 0zM919.1 402.6a7.25 7.25 0 1 0 14.5 0a7.25 7.25 0 1 0 -14.5 0zM920.2 383.5a7.25 7.25 0 1 0 14.5 0a7.25 7.25 0 1 0 -14.5 0zM921.2 401.6a7.25 7.25 0 1 0 14.5 0a7.25 7.25 0 1 0 -14.5 0zM922.3 403.2a7.25 7.25 0 1 0 14.5 0a7.25 7.25 0 1 0 -14.5 0zM923.3 402.9a7.25 7.25 0 1 0 14.5 0a7.25 7.25 0 1 0 -14.5 0zM924.3 387.4a7.25 7.25 0 1 0 14.5 0a7.25 7.25 0 1 0 -14.5 0zM925.4 401.5a7.25 7.25 0 1 0 14.5 0a7.25 7.25 0 1 0 -14.5 0zM926.4 386.3a7.25 7.25 0 1 0 14.5 0a7.25 7.25 0 1 0 -14.5 0zM927.5 388.5a7.25 7.25 0 1 0 14.5 0a7.25 7.25 0 1 0 -14.5 0zM928.5 394.4a7.25 7.25 0 1 0 14.5 0a7.25 7.25 0 1 0 -14.5 0zM929.5 392.1a7.25 7.25 0 1 0 14.5 0a7.25 7.25 0 1 0 -14.5 0zM930.6 386.1a7.25 7.25 0 1 0 14.5 0a7.25 7.25 0 1 0 -14.5 0zM931.6 400.4a7.25 7.25 0 1 0 14.5 0a7.25 7.25 0 1 0 -14.5 0zM932.7 401.2a7.25 7.25 0 1 0 14.5 0a7.25 7.25 0 1 0 -14.5 0zM933.7 401.7a7.25 7.25 0 1 0 14.5 0a7.25 7.25 0 1 0 -14.5 0z" stroke="#5B9BD5"/><path d="M177.2 157.2l7.0 13.8h-14zM178.6 194.3l7.0 13.8h-14zM180.1 219.1l7.0 13.8h-14zM181.5 245l7.0 13.8h-14zM182.9 271.4l7.0 13.8h-14zM184.4 285l7.0 13.8h-14zM185.8 307.4l7.0 13.8h-14zM187.3 325.9l7.0 13.8h-14zM188.7 342.3l7.0 13.8h-14zM190.1 361.9l7.0 13.8h-14zM191.6 375.9l7.0 13.8h-14zM193 387.7l7.0 13.8h-14zM194.5 395.8l7.0 13.8h-14zM195.9 408.2l7.0 13.8h-14zM197.3 418.2l7.0 13.8h-14zM198.8 420.3l7.0 13.8h-14zM200.2 427.5l7.0 13.8h-14zM201.6 435.6l7.0 13.8h-14zM203.1 438l7.0 13.8h-14zM204.5 446.4l7.0 13.8h-14zM206 442.7l7.0 13.8h-14zM207.4 456.3l7.0 13.8h-14zM208.8 454.7l7.0 13.8h-14zM210.3 454.9l7.0 13.8h-14zM211.7 459.7l7.0 13.8h-14zM213 457.5l7.0 13.8h-14zM214.1 464.2l7.0 13.8h-14zM215.1 452.7l7.0 13.8h-14zM216.1 453.1l7.0 13.8h-14zM217.2 469.6l7.0 13.8h-14zM218.2 462.1l7.0 13.8h-14zM219.3 466.2l7.0 13.8h-14zM220.3 470.1l7.0 13.8h-14zM221.3 456.1l7.0 13.8h-14zM222.4 465.8l7.0 13.8h-14zM223.4 468.6l7.0 13.8h-14zM224.5 461.3l7.0 13.8h-14zM225.5 469.3l7.0 13.8h-14zM226.6 457.2l7.0 13.8h-14zM227.6 469.8l7.0 13.8h-14zM228.6 471.7l7.0 13.8h-14zM229.7 469.2l7.0 13.8h-14zM230.7 467.8l7.0 13.8h-14zM231.8 465.9l7.0 13.8h-14zM232.8 457.5l7.0 13.8h-14zM233.9 459.7l7.0 13.8h-14zM234.9 467l7.0 13.8h-14zM235.9 472.7l7.0 13.8h-14zM237 470.6l7.0 13.8h-14zM238 455.3l7.0 13.8h-14zM239.1 464.4l7.0 13.8h-14zM240.1 462.3l7.0 13.8h-14zM241.1 469.9l7.0 13.8h-14zM242.2 472.6l7.0 13.8h-14zM243.2 457.6l7.0 13.8h-14zM244.3 460l7.0 13.8h-14zM245.3 466l7.0 13.8h-14zM246.4 465.8l7.0 13.8h-14zM247.4 470.3l7.0 13.8h-14zM248.4 469.7l7.0 13.8h-14zM249.5 470.2l7.0 13.8h-14zM250.5 454.2l7.0 13.8h-14zM251.6 462.9l7.0 13.8h-14zM252.6 466.3l7.0 13.8h-14zM253.6 457.6l7.0 13.8h-14zM254.7 466.6l7.0 13.8h-14zM255.7 467.2l7.0 13.8h-14zM256.8 457.7l7.0 13.8h-14zM257.8 451.2l7.0 13.8h-14zM258.9 467.5l7.0 13.8h-14zM259.9 453.5l7.0 13.8h-14zM260.9 464.6l7.0 13.8h-14zM262 465l7.0 13.8h-14zM263 465.5l7.0 13.8h-14zM264.1 460.4l7.0 13.8h-14zM265.1 450.3l7.0 13.8h-14zM266.2 454.7l7.0 13.8h-14zM267.2 449.1l7.0 13.8h-14zM268.2 454.8l7.0 13.8h-14zM269.3 455.9l7.0 13.8h-14zM270.3 456.6l7.0 13.8h-14zM271.4 440.7l7.0 13.8h-14zM272.4 440.7l7.0 13.8h-14zM273.4 453l7.0 13.8h-14zM274.5 451l7.0 13.8h-14zM275.5 452l7.0 13.8h-14zM276.6 441.6l7.0 13.8h-14zM277.6 454.9l7.0 13.8h-14zM278.7 454.3l7.0 13.8h-14zM279.7 446.9l7.0 13.8h-14zM280.7 447.7l7.0 13.8h-14zM281.8 439.2l7.0 13.8h-14zM282.8 439.3l7.0 13.8h-14zM283.9 443.1l7.0 13.8h-14zM284.9 436.6l7.0 13.8h-14zM285.9 435.8l7.0 13.8h-14zM287 434.4l7.0 13.8h-14zM288 432.3l7.0 13.8h-14zM289.1 444.4l7.0 13.8h-14zM290.1 438.2l7.0 13.8h-14zM291.2 443.4l7.0 13.8h-14zM292.2 439.2l7.0 13.8h-14zM293.2 432.5l7.0 13.8h-14zM294.3 429.2l7.0 13.8h-14zM295.3 430.5l7.0 13.8h-14zM296.4 441.5l7.0 13.8h-14zM297.4 435l7.0 13.8h-14zM298.5 438.2l7.0 13.8h-14zM299.5 424.1l7.0 13.8h-14zM300.5 436.7l7.0 13.8h-14zM301.6 435.1l7.0 13.8h-14zM302.6 431.1l7.0 13.8h-14zM303.7 437.9l7.0 13.8h-14zM304.7 425l7.0 13.8h-14zM305.7 426l7.0 13.8h-14zM306.8 431l7.0 13.8h-14zM307.8 426.2l7.0 13.8h-14zM308.9 433.7l7.0 13.8h-14zM309.9 422.6l7.0 13.8h-14zM311 429.1l7.0 13.8h-14zM312 432l7.0 13.8h-14zM313 431.1l7.0 13.8h-14zM314.1 422.2l7.0 13.8h-14zM315.1 420l7.0 13.8h-14zM316.2 425.9l7.0 13.8h-14zM317.2 420.2l7.0 13.8h-14zM318.3 423.5l7.0 13.8h-14zM319.3 425.9l7.0 13.8h-14zM320.3 422.4l7.0 13.8h-14zM321.4 420.6l7.0 13.8h-14zM322.4 410.9l7.0 13.8h-14zM323.5 422.2l7.0 13.8h-14zM324.5 424.6l7.0 13.8h-14zM325.5 414.8l7.0 13.8h-14zM326.6 406.2l7.0 13.8h-14zM327.6 408.6l7.0 13.8h-14zM328.7 411.5l7.0 13.8h-14zM329.7 421.4l7.0 13.8h-14zM330.8 407.1l7.0 13.8h-14zM331.8 410.2l7.0 13.8h-14zM332.8 419.2l7.0 13.8h-14zM333.9 413.3l7.0 13.8h-14zM334.9 421.6l7.0 13.8h-14zM336 405.2l7.0 13.8h-14zM337 407.7l7.0 13.8h-14zM338 407.3l7.0 13.8h-14zM339.1 406l7.0 13.8h-14zM340.1 416.1l7.0 13.8h-14zM341.2 405.6l7.0 13.8h-14zM342.2 413.8l7.0 13.8h-14zM343.3 416.4l7.0 13.8h-14zM344.3 409.5l7.0 13.8h-14zM345.3 410l7.0 13.8h-14zM346.4 411.6l7.0 13.8h-14zM347.4 405.3l7.0 13.8h-14zM348.5 404.2l7.0 13.8h-14zM349.5 411.1l7.0 13.8h-14zM350.6 404.7l7.0 13.8h-14zM351.6 409.5l7.0 13.8h-14zM352.6 402.7l7.0 13.8h-14zM353.7 409.3l7.0 13.8h-14zM354.7 402l7.0 13.8h-14zM355.8 407.5l7.0 13.8h-14zM356.8 405.5l7.0 13.8h-14zM357.8 402.9l7.0 13.8h-14zM358.9 406.1l7.0 13.8h-14zM359.9 408.1l7.0 13.8h-14zM361 398l7.0 13.8h-14zM362 412.8l7.0 13.8h-14zM363.1 408.6l7.0 13.8h-14zM364.1 404.1l7.0 13.8h-14zM365.1 413.6l7.0 13.8h-14zM366.2 411.2l7.0 13.8h-14zM367.2 398.9l7.0 13.8h-14zM368.3 401.8l7.0 13.8h-14zM369.3 402.7l7.0 13.8h-14zM370.4 399.2l7.0 13.8h-14zM371.4 400.2l7.0 13.8h-14zM372.4 409.9l7.0 13.8h-14zM373.5 403.3l7.0 13.8h-14zM374.5 407.7l7.0 13.8h-14zM375.6 398.7l7.0 13.8h-14zM376.6 406.1l7.0 13.8h-14zM377.6 410.5l7.0 13.8h-14zM378.7 396.2l7.0 13.8h-14zM379.7 402l7.0 13.8h-14zM380.8 402.2l7.0 13.8h-14zM381.8 403.7l7.0 13.8h-14zM382.9 399.4l7.0 13.8h-14zM383.9 403.8l7.0 13.8h-14zM384.9 400.6l7.0 13.8h-14zM386 413.4l7.0 13.8h-14zM387 400.3l7.0 13.8h-14zM388.1 396.6l7.0 13.8h-14zM389.1 399.2l7.0 13.8h-14zM390.1 397.9l7.0 13.8h-14zM391.2 401.2l7.0 13.8h-14zM392.2 396.7l7.0 13.8h-14zM393.3 411.2l7.0 13.8h-14zM394.3 396.6l7.0 13.8h-14zM395.4 407.3l7.0 13.8h-14zM396.4 410.3l7.0 13.8h-14zM397.4 401.3l7.0 13.8h-14zM398.5 403.7l7.0 13.8h-14zM399.5 404.1l7.0 13.8h-14zM400.6 397.9l7.0 13.8h-14zM401.6 408.1l7.0 13.8h-14zM402.7 401.9l7.0 13.8h-14zM403.7 403.5l7.0 13.8h-14zM404.7 404l7.0 13.8h-14zM405.8 402.3l7.0 13.8h-14zM406.8 410.1l7.0 13.8h-14zM407.9 402.3l7.0 13.8h-14zM408.9 396.6l7.0 13.8h-14zM409.9 410.7l7.0 13.8h-14zM411 412.3l7.0 13.8h-14zM412 409.9l7.0 13.8h-14zM413.1 402.2l7.0 13.8h-14zM414.1 395.1l7.0 13.8h-14zM415.2 412.5l7.0 13.8h-14zM416.2 394l7.0 13.8h-14zM417.2 401.4l7.0 13.8h-14zM418.3 409.3l7.0 13.8h-14zM419.3 404l7.0 13.8h-14zM420.4 405.9l7.0 13.8h-14zM421.4 396.6l7.0 13.8h-14zM422.5 399.8l7.0 13.8h-14zM423.5 406.1l7.0 13.8h-14zM424.5 405.5l7.0 13.8h-14zM425.6 394.7l7.0 13.8h-14zM426.6 397.8l7.0 13.8h-14zM427.7 401.2l7.0 13.8h-14zM428.7 402.5l7.0 13.8h-14zM429.7 397l7.0 13.8h-14zM430.8 390.7l7.0 13.8h-14zM431.8 407.4l7.0 13.8h-14zM432.9 405.7l7.0 13.8h-14zM433.9 401.6l7.0 13.8h-14zM435 399.4l7.0 13.8h-14zM436 409.4l7.0 13.8h-14zM437 408.7l7.0 13.8h-14zM438.1 404.1l7.0 13.8h-14zM439.1 402.9l7.0 13.8h-14zM440.2 395.6l7.0 13.8h-14zM441.2 397.4l7.0 13.8h-14zM442.2 406.7l7.0 13.8h-14zM443.3 406.5l7.0 13.8h-14zM444.3 399.5l7.0 13.8h-14zM445.4 392.9l7.0 13.8h-14zM446.4 390.9l7.0 13.8h-14zM447.5 401.2l7.0 13.8h-14zM448.5 392.4l7.0 13.8h-14zM449.5 389.9l7.0 13.8h-14zM450.6 400.2l7.0 13.8h-14zM451.6 395.4l7.0 13.8h-14zM452.7 400l7.0 13.8h-14zM453.7 405.4l7.0 13.8h-14zM454.8 396.7l7.0 13.8h-14zM455.8 407.8l7.0 13.8h-14zM456.8 395.7l7.0 13.8h-14zM457.9 393.9l7.0 13.8h-14zM458.9 392l7.0 13.8h-14zM460 401.3l7.0 13.8h-14zM461 402.8l7.0 13.8h-14zM462 391.1l7.0 13.8h-14zM463.1 391.2l7.0 13.8h-14zM464.1 388.4l7.0 13.8h-14zM465.2 396.4l7.0 13.8h-14zM466.2 394.2l7.0 13.8h-14zM467.3 401.6l7.0 13.8h-14zM468.3 403.2l7.0 13.8h-14zM469.3 401.9l7.0 13.8h-14zM470.4 393.1l7.0 13.8h-14zM471.4 400.5l7.0 13.8h-14zM472.5 395.5l7.0 13.8h-14zM473.5 399.3l7.0 13.8h-14zM474.6 399.3l7.0 13.8h-14zM475.6 388l7.0 13.8h-14zM476.6 402.7l7.0 13.8h-14zM477.7 396.9l7.0 13.8h-14zM478.7 405.3l7.0 13.8h-14zM479.8 392l7.0 13.8h-14zM480.8 397.8l7.0 13.8h-14zM481.8 400.2l7.0 13.8h-14zM482.9 403.4l7.0 13.8h-14zM483.9 394.6l7.0 13.8h-14zM485 398.6l7.0 13.8h-14zM486 404.6l7.0 13.8h-14zM487.1 405.9l7.0 13.8h-14zM488.1 398.2l7.0 13.8h-14zM489.1 394.8l7.0 13.8h-14zM490.2 396.1l7.0 13.8h-14zM491.2 386.6l7.0 13.8h-14zM492.3 389.1l7.0 13.8h-14zM493.3 388.2l7.0 13.8h-14zM494.3 391.8l7.0 13.8h-14zM495.4 396.9l7.0 13.8h-14zM496.4 395l7.0 13.8h-14zM497.5 397.2l7.0 13.8h-14zM498.5 397.9l7.0 13.8h-14zM499.6 403.7l7.0 13.8h-14zM500.6 390.4l7.0 13.8h-14zM501.6 402.4l7.0 13.8h-14zM502.7 407.8l7.0 13.8h-14zM503.7 393.8l7.0 13.8h-14zM504.8 390.8l7.0 13.8h-14zM505.8 396.8l7.0 13.8h-14zM506.9 399.9l7.0 13.8h-14zM507.9 394.1l7.0 13.8h-14zM508.9 400.1l7.0 13.8h-14zM510 407.3l7.0 13.8h-14zM511 394.1l7.0 13.8h-14zM512.1 393.9l7.0 13.8h-14zM513.1 388.6l7.0 13.8h-14zM514.1 396.1l7.0 13.8h-14zM515.2 390.3l7.0 13.8h-14zM516.2 401.4l7.0 13.8h-14zM517.3 404.9l7.0 13.8h-14zM518.3 395l7.0 13.8h-14zM519.4 399.9l7.0 13.8h-14zM520.4 401.5l7.0 13.8h-14zM521.4 402l7.0 13.8h-14zM522.5 396.3l7.0 13.8h-14zM523.5 398.7l7.0 13.8h-14zM524.6 395.3l7.0 13.8h-14zM525.6 386.6l7.0 13.8h-14zM526.7 395.9l7.0 13.8h-14zM527.7 399.2l7.0 13.8h-14zM528.7 394.2l7.0 13.8h-14zM529.8 405.4l7.0 13.8h-14zM530.8 398.5l7.0 13.8h-14zM531.9 398.7l7.0 13.8h-14zM532.9 396.5l7.0 13.8h-14zM533.9 402.7l7.0 13.8h-14zM535 395.7l7.0 13.8h-14zM536 392.7l7.0 13.8h-14zM537.1 390.6l7.0 13.8h-14zM538.1 386.8l7.0 13.8h-14zM539.2 397.8l7.0 13.8h-14zM540.2 392.5l7.0 13.8h-14zM541.2 395.5l7.0 13.8h-14zM542.3 400.1l7.0 13.8h-14zM543.3 387.9l7.0 13.8h-14zM544.4 391.4l7.0 13.8h-14zM545.4 386.7l7.0 13.8h-14zM546.4 389.5l7.0 13.8h-14zM547.5 389.9l7.0 13.8h-14zM548.5 401.3l7.0 13.8h-14zM549.6 404.2l7.0 13.8h-14zM550.6 399.6l7.0 13.8h-14zM551.7 396.9l7.0 13.8h-14zM552.7 391.9l7.0 13.8h-14zM553.7 396l7.0 13.8h-14zM554.8 394.9l7.0 13.8h-14zM555.8 390.9l7.0 13.8h-14zM556.9 404.8l7.0 13.8h-14zM557.9 389.9l7.0 13.8h-14zM559 405l7.0 13.8h-14zM560 400l7.0 13.8h-14zM561 390.4l7.0 13.8h-14zM562.1 391.4l7.0 13.8h-14zM563.1 396.2l7.0 13.8h-14zM564.2 398l7.0 13.8h-14zM565.2 387.8l7.0 13.8h-14zM566.2 398.9l7.0 13.8h-14zM567.3 400.5l7.0 13.8h-14zM568.3 400.8l7.0 13.8h-14zM569.4 403.5l7.0 13.8h-14zM570.4 389.9l7.0 13.8h-14zM571.5 402.5l7.0 13.8h-14zM572.5 386.3l7.0 13.8h-14zM573.5 398.7l7.0 13.8h-14zM574.6 399.4l7.0 13.8h-14zM575.6 394.4l7.0 13.8h-14zM576.7 397.8l7.0 13.8h-14zM577.7 396.7l7.0 13.8h-14zM578.8 400.2l7.0 13.8h-14zM579.8 396l7.0 13.8h-14zM580.8 403.5l7.0 13.8h-14zM581.9 400.5l7.0 13.8h-14zM582.9 387.5l7.0 13.8h-14zM584 399.3l7.0 13.8h-14zM585 400.8l7.0 13.8h-14zM586 391.9l7.0 13.8h-14zM587.1 388.4l7.0 13.8h-14zM588.1 399.1l7.0 13.8h-14zM589.2 397.8l7.0 13.8h-14zM590.2 389.4l7.0 13.8h-14zM591.3 389.1l7.0 13.8h-14zM592.3 392.1l7.0 13.8h-14zM593.3 401.6l7.0 13.8h-14zM594.4 402l7.0 13.8h-14zM595.4 390.8l7.0 13.8h-14zM596.5 391.1l7.0 13.8h-14zM597.5 388.4l7.0 13.8h-14zM598.5 390.3l7.0 13.8h-14zM599.6 395.5l7.0 13.8h-14zM600.6 401.4l7.0 13.8h-14zM601.7 389.2l7.0 13.8h-14zM602.7 392.1l7.0 13.8h-14zM603.8 394.5l7.0 13.8h-14zM604.8 391.7l7.0 13.8h-14zM605.8 398.5l7.0 13.8h-14zM606.9 398.2l7.0 13.8h-14zM607.9 393l7.0 13.8h-14zM609 395.4l7.0 13.8h-14zM610 392.4l7.0 13.8h-14zM611.1 387.9l7.0 13.8h-14zM612.1 388.7l7.0 13.8h-14zM613.1 396.6l7.0 13.8h-14zM614.2 396.5l7.0 13.8h-14zM615.2 387.6l7.0 13.8h-14zM616.3 398.5l7.0 13.8h-14zM617.3 388.2l7.0 13.8h-14zM618.3 402.2l7.0 13.8h-14zM619.4 395.6l7.0 13.8h-14zM620.4 394.5l7.0 13.8h-14zM621.5 390.7l7.0 13.8h-14zM622.5 388.7l7.0 13.8h-14zM623.6 401.1l7.0 13.8h-14zM624.6 391.9l7.0 13.8h-14zM625.6 392.7l7.0 13.8h-14zM626.7 404.8l7.0 13.8h-14zM627.7 389.4l7.0 13.8h-14zM628.8 393.8l7.0 13.8h-14zM629.8 385.4l7.0 13.8h-14zM630.8 400l7.0 13.8h-14zM631.9 392l7.0 13.8h-14zM632.9 396.8l7.0 13.8h-14zM634 391.1l7.0 13.8h-14zM635 392.2l7.0 13.8h-14zM636.1 396.4l7.0 13.8h-14zM637.1 397.4l7.0 13.8h-14zM638.1 394.4l7.0 13.8h-14zM639.2 398l7.0 13.8h-14zM640.2 387.5l7.0 13.8h-14zM641.3 395.4l7.0 13.8h-14zM642.3 396.1l7.0 13.8h-14zM643.4 399.6l7.0 13.8h-14zM644.4 399.9l7.0 13.8h-14zM645.4 386.7l7.0 13.8h-14zM646.5 399l7.0 13.8h-14zM647.5 387.9l7.0 13.8h-14zM648.6 395.5l7.0 13.8h-14zM649.6 386.8l7.0 13.8h-14zM650.6 403l7.0 13.8h-14zM651.7 387.7l7.0 13.8h-14zM652.7 389.7l7.0 13.8h-14zM653.8 393.9l7.0 13.8h-14zM654.8 391.5l7.0 13.8h-14zM655.9 391.1l7.0 13.8h-14zM656.9 394.4l7.0 13.8h-14zM657.9 393.9l7.0 13.8h-14zM659 399.1l7.0 13.8h-14zM660 405.4l7.0 13.8h-14zM661.1 392.5l7.0 13.8h-14zM662.1 395.4l7.0 13.8h-14zM663.2 388.7l7.0 13.8h-14zM664.2 399.2l7.0 13.8h-14zM665.2 388.6l7.0 13.8h-14zM666.3 387.6l7.0 13.8h-14zM667.3 388l7.0 13.8h-14zM668.4 387.1l7.0 13.8h-14zM669.4 403.3l7.0 13.8h-14zM670.4 401.3l7.0 13.8h-14zM671.5 400.8l7.0 13.8h-14zM672.5 396l7.0 13.8h-14zM673.6 402.9l7.0 13.8h-14zM674.6 399.4l7.0 13.8h-14zM675.7 404.2l7.0 13.8h-14zM676.7 385l7.0 13.8h-14zM677.7 396.8l7.0 13.8h-14zM678.8 392.1l7.0 13.8h-14zM679.8 394.8l7.0 13.8h-14zM680.9 389.4l7.0 13.8h-14zM681.9 387.7l7.0 13.8h-14zM682.9 394.9l7.0 13.8h-14zM684 394.4l7.0 13.8h-14zM685 403.3l7.0 13.8h-14zM686.1 401.4l7.0 13.8h-14zM687.1 400l7.0 13.8h-14zM688.2 397.1l7.0 13.8h-14zM689.2 397.2l7.0 13.8h-14zM690.2 393l7.0 13.8h-14zM691.3 397.8l7.0 13.8h-14zM692.3 398.2l7.0 13.8h-14zM693.4 388.6l7.0 13.8h-14zM694.4 402.6l7.0 13.8h-14zM695.5 405l7.0 13.8h-14zM696.5 401.4l7.0 13.8h-14zM697.5 389.1l7.0 13.8h-14zM698.6 391.8l7.0 13.8h-14zM699.6 390.6l7.0 13.8h-14zM700.7 386.1l7.0 13.8h-14zM701.7 400.1l7.0 13.8h-14zM702.7 387.5l7.0 13.8h-14zM703.8 398.7l7.0 13.8h-14zM704.8 394.6l7.0 13.8h-14zM705.9 387.8l7.0 13.8h-14zM706.9 388.7l7.0 13.8h-14zM708 398.8l7.0 13.8h-14zM709 394.5l7.0 13.8h-14zM710 402.8l7.0 13.8h-14zM711.1 399.9l7.0 13.8h-14zM712.1 385l7.0 13.8h-14zM713.2 385.7l7.0 13.8h-14zM714.2 393.4l7.0 13.8h-14zM715.3 388l7.0 13.8h-14zM716.3 387.2l7.0 13.8h-14zM717.3 396.1l7.0 13.8h-14zM718.4 383.9l7.0 13.8h-14zM719.4 393.3l7.0 13.8h-14zM720.5 398.6l7.0 13.8h-14zM721.5 393l7.0 13.8h-14zM722.5 390.1l7.0 13.8h-14zM723.6 389.7l7.0 13.8h-14zM724.6 389.2l7.0 13.8h-14zM725.7 400.1l7.0 13.8h-14zM726.7 390.3l7.0 13.8h-14zM727.8 386.2l7.0 13.8h-14zM728.8 388.6l7.0 13.8h-14zM729.8 384.9l7.0 13.8h-14zM730.9 393l7.0 13.8h-14zM731.9 387.8l7.0 13.8h-14zM733 397.7l7.0 13.8h-14zM734 385.1l7.0 13.8h-14zM735 395.5l7.0 13.8h-14zM736.1 384.3l7.0 13.8h-14zM737.1 392.8l7.0 13.8h-14zM738.2 387.6l7.0 13.8h-14zM739.2 386.1l7.0 13.8h-14zM740.3 387.7l7.0 13.8h-14zM741.3 388.9l7.0 13.8h-14zM742.3 382l7.0 13.8h-14zM743.4 398.8l7.0 13.8h-14zM744.4 399.7l7.0 13.8h-14zM745.5 389.6l7.0 13.8h-14zM746.5 382.4l7.0 13.8h-14zM747.6 389.3l7.0 13.8h-14zM748.6 395l7.0 13.8h-14zM749.6 397.8l7.0 13.8h-14zM750.7 391.9l7.0 13.8h-14zM751.7 390.7l7.0 13.8h-14zM752.8 390.6l7.0 13.8h-14zM753.8 388.1l7.0 13.8h-14zM754.8 395l7.0 13.8h-14zM755.9 385.3l7.0 13.8h-14zM756.9 393.8l7.0 13.8h-14zM758 396.1l7.0 13.8h-14zM759 391.1l7.0 13.8h-14zM760.1 382.6l7.0 13.8h-14zM761.1 396.6l7.0 13.8h-14zM762.1 392.8l7.0 13.8h-14zM763.2 381l7.0 13.8h-14zM764.2 392.6l7.0 13.8h-14zM765.3 383.2l7.0 13.8h-14zM766.3 399.1l7.0 13.8h-14zM767.4 382.4l7.0 13.8h-14zM768.4 395.6l7.0 13.8h-14zM769.4 395.9l7.0 13.8h-14zM770.5 385.6l7.0 13.8h-14zM771.5 381.5l7.0 13.8h-14zM772.6 383.8l7.0 13.8h-14zM773.6 386.1l7.0 13.8h-14zM774.6 381.8l7.0 13.8h-14zM775.7 380.9l7.0 13.8h-14zM776.7 389.1l7.0 13.8h-14zM777.8 395.5l7.0 13.8h-14zM778.8 382.4l7.0 13.8h-14zM779.9 390.4l7.0 13.8h-14zM780.9 393.7l7.0 13.8h-14zM781.9 389.3l7.0 13.8h-14zM783 398.1l7.0 13.8h-14zM784 398.9l7.0 13.8h-14zM785.1 395.1l7.0 13.8h-14zM786.1 387.6l7.0 13.8h-14zM787.1 385.6l7.0 13.8h-14zM788.2 378.5l7.0 13.8h-14zM789.2 383.4l7.0 13.8h-14zM790.3 381.3l7.0 13.8h-14zM791.3 387l7.0 13.8h-14zM792.4 382.7l7.0 13.8h-14zM793.4 388.4l7.0 13.8h-14zM794.4 396.6l7.0 13.8h-14zM795.5 397.6l7.0 13.8h-14zM796.5 384.3l7.0 13.8h-14zM797.6 394.2l7.0 13.8h-14zM798.6 382.3l7.0 13.8h-14zM799.7 390.9l7.0 13.8h-14zM800.7 397.6l7.0 13.8h-14zM801.7 385.8l7.0 13.8h-14zM802.8 390.2l7.0 13.8h-14zM803.8 396.5l7.0 13.8h-14zM804.9 393.8l7.0 13.8h-14zM805.9 394.8l7.0 13.8h-14zM806.9 391.4l7.0 13.8h-14zM808 383.4l7.0 13.8h-14zM809 394.9l7.0 13.8h-14zM810.1 391.4l7.0 13.8h-14zM811.1 386.1l7.0 13.8h-14zM812.2 380.1l7.0 13.8h-14zM813.2 394.1l7.0 13.8h-14zM814.2 394.8l7.0 13.8h-14zM815.3 394l7.0 13.8h-14zM816.3 392.8l7.0 13.8h-14zM817.4 396.1l7.0 13.8h-14zM818.4 394.5l7.0 13.8h-14zM819.5 393.1l7.0 13.8h-14zM820.5 391.8l7.0 13.8h-14zM821.5 387.2l7.0 13.8h-14zM822.6 385.6l7.0 13.8h-14zM823.6 390.5l7.0 13.8h-14zM824.7 394.8l7.0 13.8h-14zM825.7 397.4l7.0 13.8h-14zM826.7 392.2l7.0 13.8h-14zM827.8 393.5l7.0 13.8h-14zM828.8 389.2l7.0 13.8h-14zM829.9 380.2l7.0 13.8h-14zM830.9 383.6l7.0 13.8h-14zM832 392.5l7.0 13.8h-14zM833 396.8l7.0 13.8h-14zM834 397.3l7.0 13.8h-14zM835.1 387.8l7.0 13.8h-14zM836.1 389.3l7.0 13.8h-14zM837.2 384.3l7.0 13.8h-14zM838.2 395.4l7.0 13.8h-14zM839.2 392.1l7.0 13.8h-14zM840.3 384.1l7.0 13.8h-14zM841.3 386.6l7.0 13.8h-14zM842.4 389.2l7.0 13.8h-14zM843.4 379.2l7.0 13.8h-14zM844.5 395.8l7.0 13.8h-14zM845.5 393l7.0 13.8h-14zM846.5 386.3l7.0 13.8h-14zM847.6 385.7l7.0 13.8h-14zM848.6 380.2l7.0 13.8h-14zM849.7 377.1l7.0 13.8h-14zM850.7 384.7l7.0 13.8h-14zM851.8 381.5l7.0 13.8h-14zM852.8 382l7.0 13.8h-14zM853.8 394.4l7.0 13.8h-14zM854.9 388.4l7.0 13.8h-14zM855.9 390l7.0 13.8h-14zM857 388l7.0 13.8h-14zM858 391.7l7.0 13.8h-14zM859 396.2l7.0 13.8h-14zM860.1 380.5l7.0 13.8h-14zM861.1 382.5l7.0 13.8h-14zM862.2 384.1l7.0 13.8h-14zM863.2 391.2l7.0 13.8h-14zM864.3 388.8l7.0 13.8h-14zM865.3 390.7l7.0 13.8h-14zM866.3 385.4l7.0 13.8h-14zM867.4 378.7l7.0 13.8h-14zM868.4 381.4l7.0 13.8h-14zM869.5 380.4l7.0 13.8h-14zM870.5 388.3l7.0 13.8h-14zM871.6 383.8l7.0 13.8h-14zM872.6 392.4l7.0 13.8h-14zM873.6 383.8l7.0 13.8h-14zM874.7 393.9l7.0 13.8h-14zM875.7 386.9l7.0 13.8h-14zM876.8 384.4l7.0 13.8h-14zM877.8 388.9l7.0 13.8h-14zM878.8 390.2l7.0 13.8h-14zM879.9 383.5l7.0 13.8h-14zM880.9 386.9l7.0 13.8h-14zM882 386.7l7.0 13.8h-14zM883 393.4l7.0 13.8h-14zM884.1 389.3l7.0 13.8h-14zM885.1 378l7.0 13.8h-14zM886.1 376.1l7.0 13.8h-14zM887.2 386.7l7.0 13.8h-14zM888.2 377.9l7.0 13.8h-14zM889.3 380.9l7.0 13.8h-14zM890.3 389.6l7.0 13.8h-14zM891.3 389.6l7.0 13.8h-14zM892.4 382.4l7.0 13.8h-14zM893.4 390.5l7.0 13.8h-14zM894.5 379.3l7.0 13.8h-14zM895.5 389.4l7.0 13.8h-14zM896.6 381.6l7.0 13.8h-14zM897.6 383.2l7.0 13.8h-14zM898.6 391.7l7.0 13.8h-14zM899.7 379.7l7.0 13.8h-14zM900.7 388l7.0 13.8h-14zM901.8 392.9l7.0 13.8h-14zM902.8 393.8l7.0 13.8h-14zM903.9 385l7.0 13.8h-14zM904.9 383.4l7.0 13.8h-14zM905.9 389l7.0 13.8h-14zM907 380.4l7.0 13.8h-14zM908 389.3l7.0 13.8h-14zM909.1 379l7.0 13.8h-14zM910.1 393.6l7.0 13.8h-14zM911.1 390.1l7.0 13.8h-14zM912.2 392.6l7.0 13.8h-14zM913.2 386.6l7.0 13.8h-14zM914.3 388.5l7.0 13.8h-14zM915.3 386l7.0 13.8h-14zM916.4 377.9l7.0 13.8h-14zM917.4 385.1l7.0 13.8h-14zM918.4 382.6l7.0 13.8h-14zM919.5 387.7l7.0 13.8h-14zM920.5 379.1l7.0 13.8h-14zM921.6 385.6l7.0 13.8h-14zM922.6 382.2l7.0 13.8h-14zM923.7 376.5l7.0 13.8h-14zM924.7 382.5l7.0 13.8h-14zM925.7 387.5l7.0 13.8h-14zM926.8 391.3l7.0 13.8h-14zM927.8 378.1l7.0 13.8h-14zM928.9 381.5l7.0 13.8h-14zM929.9 379.9l7.0 13.8h-14zM930.9 389.3l7.0 13.8h-14zM932 384.4l7.0 13.8h-14zM933 378.3l7.0 13.8h-14zM934.1 387.9l7.0 13.8h-14zM935.1 377.9l7.0 13.8h-14zM936.2 384.6l7.0 13.8h-14zM937.2 391.7l7.0 13.8h-14zM938.2 386.1l7.0 13.8h-14zM939.3 391.7l7.0 13.8h-14zM940.3 379l7.0 13.8h-14z" stroke="#ED7D31"/><path d="M169.4 140.5l15.6 15.6m0 -15.6l-15.6 15.6M170.8 173.9l15.6 15.6m0 -15.6l-15.6 15.6M172.3 204.3l15.6 15.6m0 -15.6l-15.6 15.6M173.7 227.7l15.6 15.6m0 -15.6l-15.6 15.6M175.1 253.3l15.6 15.6m0 -15.6l-15.6 15.6M176.6 271.7l15.6 15.6m0 -15.6l-15.6 15.6M178 285.2l15.6 15.6m0 -15.6l-15.6 15.6M179.5 306.2l15.6 15.6m0 -15.6l-15.6 15.6M180.9 327l15.6 15.6m0 -15.6l-15.6 15.6M182.3 353.3l15.6 15.6m0 -15.6l-15.6 15.6M183.8 375.6l15.6 15.6m0 -15.6l-15.6 15.6M185.2 384l15.6 15.6m0 -15.6l-15.6 15.6M186.7 395.7l15.6 15.6m0 -15.6l-15.6 15.6M188.1 403.4l15.6 15.6m0 -15.6l-15.6 15.6M189.5 410l15.6 15.6m0 -15.6l-15.6 15.6M191 417.5l15.6 15.6m0 -15.6l-15.6 15.6M192.4 424.9l15.6 15.6m0 -15.6l-15.6 15.6M193.8 429.3l15.6 15.6m0 -15.6l-15.6 15.6M195.3 441l15.6 15.6m0 -15.6l-15.6 15.6M196.7 448.4l15.6 15.6m0 -15.6l-15.6 15.6M198.2 449.3l15.6 15.6m0 -15.6l-15.6 15.6M199.6 449.4l15.6 15.6m0 -15.6l-15.6 15.6M201 451.9l15.6 15.6m0 -15.6l-15.6 15.6M202.5 453.2l15.6 15.6m0 -15.6l-15.6 15.6M203.9 463.8l15.6 15.6m0 -15.6l-15.6 15.6M205.2 456l15.6 15.6m0 -15.6l-15.6 15.6M206.3 461.7l15.6 15.6m0 -15.6l-15.6 15.6M207.3 457.3l15.6 15.6m0 -15.6l-15.6 15.6M208.3 465.4l15.6 15.6m0 -15.6l-15.6 15.6M209.4 467.1l15.6 15.6m0 -15.6l-15.6 15.6M210.4 461l15.6 15.6m0 -15.6l-15.6 15.6M211.5 462.9l15.6 15.6m0 -15.6l-15.6 15.6M212.5 463.3l15.6 15.6m0 -15.6l-15.6 15.6M213.5 472.7l15.6 15.6m0 -15.6l-15.6 15.6M214.6 472.8l15.6 15.6m0 -15.6l-15.6 15.6M215.6 463.6l15.6 15.6m0 -15.6l-15.6 15.6M216.7 475.9l15.6 15.6m0 -15.6l-15.6 15.6M217.7 463.7l15.6 15.6m0 -15.6l-15.6 15.6M218.8 474.8l15.6 15.6m0 -15.6l-15.6 15.6M219.8 468.4l15.6 15.6m0 -15.6l-15.6 15.6M220.8 471.2l15.6 15.6m0 -15.6l-15.6 15.6M221.9 472.5l15.6 15.6m0 -15.6l-15.6 15.6M222.9 472.8l15.6 15.6m0 -15.6l-15.6 15.6M224 466.2l15.6 15.6m0 -15.6l-15.6 15.6M225 464.7l15.6 15.6m0 -15.6l-15.6 15.6M226.1 467.9l15.6 15.6m0 -15.6l-15.6 15.6M227.1 468.1l15.6 15.6m0 -15.6l-15.6 15.6M228.1 468.4l15.6 15.6m0 -15.6l-15.6 15.6M229.2 468.2l15.6 15.6m0 -15.6l-15.6 15.6M230.2 469l15.6 15.6m0 -15.6l-15.6 15.6M231.3 465l15.6 15.6m0 -15.6l-15.6 15.6M232.3 472.3l15.6 15.6m0 -15.6l-15.6 15.6M233.3 473.2l15.6 15.6m0 -15.6l-15.6 15.6M234.4 461.4l15.6 15.6m0 -15.6l-15.6 15.6M235.4 463.5l15.6 15.6m0 -15.6l-15.6 15.6M236.5 468.4l15.6 15.6m0 -15.6l-15.6 15.6M237.5 463.6l15.6 15.6m0 -15.6l-15.6 15.6M238.6 463.3l15.6 15.6m0 -15.6l-15.6 15.6M239.6 461.7l15.6 15.6m0 -15.6l-15.6 15.6M240.6 473.5l15.6 15.6m0 -15.6l-15.6 15.6M241.7 459.1l15.6 15.6m0 -15.6l-15.6 15.6M242.7 465.7l15.6 15.6m0 -15.6l-15.6 15.6M243.8 467.8l15.6 15.6m0 -15.6l-15.6 15.6M244.8 462.5l15.6 15.6m0 -15.6l-15.6 15.6M245.8 464.1l15.6 15.6m0 -15.6l-15.6 15.6M246.9 466.1l15.6 15.6m0 -15.6l-15.6 15.6M247.9 468.2l15.6 15.6m0 -15.6l-15.6 15.6M249 456.9l15.6 15.6m0 -15.6l-15.6 15.6M250 459.1l15.6 15.6m0 -15.6l-15.6 15.6M251.1 468l15.6 15.6m0 -15.6l-15.6 15.6M252.1 463.3l15.6 15.6m0 -15.6l-15.6 15.6M253.1 459l15.6 15.6m0 -15.6l-15.6 15.6M254.2 456.1l15.6 15.6m0 -15.6l-15.6 15.6M255.2 453l15.6 15.6m0 -15.6l-15.6 15.6M256.3 464.5l15.6 15.6m0 -15.6l-15.6 15.6M257.3 453.2l15.6 15.6m0 -15.6l-15.6 15.6M258.4 455.6l15.6 15.6m0 -15.6l-15.6 15.6M259.4 463.1l15.6 15.6m0 -15.6l-15.6 15.6M260.4 460.4l15.6 15.6m0 -15.6l-15.6 15.6M261.5 459.9l15.6 15.6m0 -15.6l-15.6 15.6M262.5 461.4l15.6 15.6m0 -15.6l-15.6 15.6M263.6 452l15.6 15.6m0 -15.6l-15.6 15.6M264.6 457.4l15.6 15.6m0 -15.6l-15.6 15.6M265.6 451.3l15.6 15.6m0 -15.6l-15.6 15.6M266.7 458l15.6 15.6m0 -15.6l-15.6 15.6M267.7 447.5l15.6 15.6m0 -15.6l-15.6 15.6M268.8 447.9l15.6 15.6m0 -15.6l-15.6 15.6M269.8 446.1l15.6 15.6m0 -15.6l-15.6 15.6M270.9 449.4l15.6 15.6m0 -15.6l-15.6 15.6M271.9 449.6l15.6 15.6m0 -15.6l-15.6 15.6M272.9 453.8l15.6 15.6m0 -15.6l-15.6 15.6M274 441.6l15.6 15.6m0 -15.6l-15.6 15.6M275 453l15.6 15.6m0 -15.6l-15.6 15.6M276.1 446l15.6 15.6m0 -15.6l-15.6 15.6M277.1 451l15.6 15.6m0 -15.6l-15.6 15.6M278.1 451.5l15.6 15.6m0 -15.6l-15.6 15.6M279.2 439.9l15.6 15.6m0 -15.6l-15.6 15.6M280.2 437.4l15.6 15.6m0 -15.6l-15.6 15.6M281.3 444.7l15.6 15.6m0 -15.6l-15.6 15.6M282.3 437.7l15.6 15.6m0 -15.6l-15.6 15.6M283.4 436.7l15.6 15.6m0 -15.6l-15.6 15.6M284.4 438.3l15.6 15.6m0 -15.6l-15.6 15.6M285.4 436l15.6 15.6m0 -15.6l-15.6 15.6M286.5 441.6l15.6 15.6m0 -15.6l-15.6 15.6M287.5 443.3l15.6 15.6m0 -15.6l-15.6 15.6M288.6 441.3l15.6 15.6m0 -15.6l-15.6 15.6M289.6 444l15.6 15.6m0 -15.6l-15.6 15.6M290.7 442.7l15.6 15.6m0 -15.6l-15.6 15.6M291.7 432.2l15.6 15.6m0 -15.6l-15.6 15.6M292.7 429.2l15.6 15.6m0 -15.6l-15.6 15.6M293.8 439.4l15.6 15.6m0 -15.6l-15.6 15.6M294.8 429.9l15.6 15.6m0 -15.6l-15.6 15.6M295.9 428.8l15.6 15.6m0 -15.6l-15.6 15.6M296.9 429.5l15.6 15.6m0 -15.6l-15.6 15.6M297.9 431.8l15.6 15.6m0 -15.6l-15.6 15.6M299 430.4l15.6 15.6m0 -15.6l-15.6 15.6M300 428.7l15.6 15.6m0 -15.6l-15.6 15.6M301.1 432.8l15.6 15.6m0 -15.6l-15.6 15.6M302.1 423.9l15.6 15.6m0 -15.6l-15.6 15.6M303.2 432.5l15.6 15.6m0 -15.6l-15.6 15.6M304.2 434.4l15.6 15.6m0 -15.6l-15.6 15.6M305.2 420.5l15.6 15.6m0 -15.6l-15.6 15.6M306.3 432.8l15.6 15.6m0 -15.6l-15.6 15.6M307.3 430.5l15.6 15.6m0 -15.6l-15.6 15.6M308.4 430.8l15.6 15.6m0 -15.6l-15.6 15.6M309.4 432l15.6 15.6m0 -15.6l-15.6 15.6M310.5 427.6l15.6 15.6m0 -15.6l-15.6 15.6M311.5 417l15.6 15.6m0 -15.6l-15.6 15.6M312.5 420.1l15.6 15.6m0 -15.6l-15.6 15.6M313.6 424.1l15.6 15.6m0 -15.6l-15.6 15.6M314.6 428.9l15.6 15.6m0 -15.6l-15.6 15.6M315.7 418.4l15.6 15.6m0 -15.6l-15.6 15.6M316.7 420.6l15.6 15.6m0 -15.6l-15.6 15.6M317.7 414.2l15.6 15.6m0 -15.6l-15.6 15.6M318.8 418.9l15.6 15.6m0 -15.6l-15.6 15.6M319.8 425.3l15.6 15.6m0 -15.6l-15.6 15.6M320.9 423.9l15.6 15.6m0 -15.6l-15.6 15.6M321.9 413.2l15.6 15.6m0 -15.6l-15.6 15.6M323 421.4l15.6 15.6m0 -15.6l-15.6 15.6M324 421.5l15.6 15.6m0 -15.6l-15.6 15.6M325 416.8l15.6 15.6m0 -15.6l-15.6 15.6M326.1 418.9l15.6 15.6m0 -15.6l-15.6 15.6M327.1 418.9l15.6 15.6m0 -15.6l-15.6 15.6M328.2 410.8l15.6 15.6m0 -15.6l-15.6 15.6M329.2 414.8l15.6 15.6m0 -15.6l-15.6 15.6M330.2 408.4l15.6 15.6m0 -15.6l-15.6 15.6M331.3 419.3l15.6 15.6m0 -15.6l-15.6 15.6M332.3 416.4l15.6 15.6m0 -15.6l-15.6 15.6M333.4 409.4l15.6 15.6m0 -15.6l-15.6 15.6M334.4 415l15.6 15.6m0 -15.6l-15.6 15.6M335.5 406.9l15.6 15.6m0 -15.6l-15.6 15.6M336.5 412.9l15.6 15.6m0 -15.6l-15.6 15.6M337.5 411.9l15.6 15.6m0 -15.6l-15.6 15.6M338.6 406.2l15.6 15.6m0 -15.6l-15.6 15.6M339.6 412.6l15.6 15.6m0 -15.6l-15.6 15.6M340.7 409.9l15.6 15.6m0 -15.6l-15.6 15.6M341.7 410.5l15.6 15.6m0 -15.6l-15.6 15.6M342.8 417.1l15.6 15.6m0 -15.6l-15.6 15.6M343.8 415.1l15.6 15.6m0 -15.6l-15.6 15.6M344.8 412.2l15.6 15.6m0 -15.6l-15.6 15.6M345.9 417.1l15.6 15.6m0 -15.6l-15.6 15.6M346.9 408l15.6 15.6m0 -15.6l-15.6 15.6M348 409.8l15.6 15.6m0 -15.6l-15.6 15.6M349 411.8l15.6 15.6m0 -15.6l-15.6 15.6M350 410.2l15.6 15.6m0 -15.6l-15.6 15.6M351.1 416.4l15.6 15.6m0 -15.6l-15.6 15.6M352.1 411.3l15.6 15.6m0 -15.6l-15.6 15.6M353.2 404.1l15.6 15.6m0 -15.6l-15.6 15.6M354.2 415.9l15.6 15.6m0 -15.6l-15.6 15.6M355.3 407l15.6 15.6m0 -15.6l-15.6 15.6M356.3 408l15.6 15.6m0 -15.6l-15.6 15.6M357.3 413.7l15.6 15.6m0 -15.6l-15.6 15.6M358.4 410.7l15.6 15.6m0 -15.6l-15.6 15.6M359.4 413.9l15.6 15.6m0 -15.6l-15.6 15.6M360.5 406.1l15.6 15.6m0 -15.6l-15.6 15.6M361.5 410.7l15.6 15.6m0 -15.6l-15.6 15.6M362.6 414.7l15.6 15.6m0 -15.6l-15.6 15.6M363.6 411.8l15.6 15.6m0 -15.6l-15.6 15.6M364.6 412.1l15.6 15.6m0 -15.6l-15.6 15.6M365.7 402.5l15.6 15.6m0 -15.6l-15.6 15.6M366.7 407l15.6 15.6m0 -15.6l-15.6 15.6M367.8 409.4l15.6 15.6m0 -15.6l-15.6 15.6M368.8 407.6l15.6 15.6m0 -15.6l-15.6 15.6M369.8 408l15.6 15.6m0 -15.6l-15.6 15.6M370.9 401.6l15.6 15.6m0 -15.6l-15.6 15.6M371.9 411.5l15.6 15.6m0 -15.6l-15.6 15.6M373 416.1l15.6 15.6m0 -15.6l-15.6 15.6M374 413.1l15.6 15.6m0 -15.6l-15.6 15.6M375.1 416.3l15.6 15.6m0 -15.6l-15.6 15.6M376.1 412.9l15.6 15.6m0 -15.6l-15.6 15.6M377.1 406.6l15.6 15.6m0 -15.6l-15.6 15.6M378.2 411.3l15.6 15.6m0 -15.6l-15.6 15.6M379.2 404.6l15.6 15.6m0 -15.6l-15.6 15.6M380.3 401.8l15.6 15.6m0 -15.6l-15.6 15.6M381.3 413l15.6 15.6m0 -15.6l-15.6 15.6M382.3 404.3l15.6 15.6m0 -15.6l-15.6 15.6M383.4 406.8l15.6 15.6m0 -15.6l-15.6 15.6M384.4 401.5l15.6 15.6m0 -15.6l-15.6 15.6M385.5 411l15.6 15.6m0 -15.6l-15.6 15.6M386.5 404l15.6 15.6m0 -15.6l-15.6 15.6M387.6 408.9l15.6 15.6m0 -15.6l-15.6 15.6M388.6 412.4l15.6 15.6m0 -15.6l-15.6 15.6M389.6 410.2l15.6 15.6m0 -15.6l-15.6 15.6M390.7 402.6l15.6 15.6m0 -15.6l-15.6 15.6M391.7 408.1l15.6 15.6m0 -15.6l-15.6 15.6M392.8 408.4l15.6 15.6m0 -15.6l-15.6 15.6M393.8 400.6l15.6 15.6m0 -15.6l-15.6 15.6M394.9 401.9l15.6 15.6m0 -15.6l-15.6 15.6M395.9 400.7l15.6 15.6m0 -15.6l-15.6 15.6M396.9 414.6l15.6 15.6m0 -15.6l-15.6 15.6M398 400.5l15.6 15.6m0 -15.6l-15.6 15.6M399 403.4l15.6 15.6m0 -15.6l-15.6 15.6M400.1 400.1l15.6 15.6m0 -15.6l-15.6 15.6M401.1 401.6l15.6 15.6m0 -15.6l-15.6 15.6M402.1 400.2l15.6 15.6m0 -15.6l-15.6 15.6M403.2 401.8l15.6 15.6m0 -15.6l-15.6 15.6M404.2 402.9l15.6 15.6m0 -15.6l-15.6 15.6M405.3 412.1l15.6 15.6m0 -15.6l-15.6 15.6M406.3 403.1l15.6 15.6m0 -15.6l-15.6 15.6M407.4 412.8l15.6 15.6m0 -15.6l-15.6 15.6M408.4 410.3l15.6 15.6m0 -15.6l-15.6 15.6M409.4 411.4l15.6 15.6m0 -15.6l-15.6 15.6M410.5 410.9l15.6 15.6m0 -15.6l-15.6 15.6M411.5 402.1l15.6 15.6m0 -15.6l-15.6 15.6M412.6 399.9l15.6 15.6m0 -15.6l-15.6 15.6M413.6 400.8l15.6 15.6m0 -15.6l-15.6 15.6M414.7 403.8l15.6 15.6m0 -15.6l-15.6 15.6M415.7 403.4l15.6 15.6m0 -15.6l-15.6 15.6M416.7 412.1l15.6 15.6m0 -15.6l-15.6 15.6M417.8 409.1l15.6 15.6m0 -15.6l-15.6 15.6M418.8 401.8l15.6 15.6m0 -15.6l-15.6 15.6M419.9 407.6l15.6 15.6m0 -15.6l-15.6 15.6M420.9 406.1l15.6 15.6m0 -15.6l-15.6 15.6M421.9 401.2l15.6 15.6m0 -15.6l-15.6 15.6M423 410.2l15.6 15.6m0 -15.6l-15.6 15.6M424 401.2l15.6 15.6m0 -15.6l-15.6 15.6M425.1 402.6l15.6 15.6m0 -15.6l-15.6 15.6M426.1 412.7l15.6 15.6m0 -15.6l-15.6 15.6M427.2 407.5l15.6 15.6m0 -15.6l-15.6 15.6M428.2 398.7l15.6 15.6m0 -15.6l-15.6 15.6M429.2 408.4l15.6 15.6m0 -15.6l-15.6 15.6M430.3 413.6l15.6 15.6m0 -15.6l-15.6 15.6M431.3 410.2l15.6 15.6m0 -15.6l-15.6 15.6M432.4 404.2l15.6 15.6m0 -15.6l-15.6 15.6M433.4 410.2l15.6 15.6m0 -15.6l-15.6 15.6M434.4 410.9l15.6 15.6m0 -15.6l-15.6 15.6M435.5 409.4l15.6 15.6m0 -15.6l-15.6 15.6M436.5 400.3l15.6 15.6m0 -15.6l-15.6 15.6M437.6 398.1l15.6 15.6m0 -15.6l-15.6 15.6M438.6 410.3l15.6 15.6m0 -15.6l-15.6 15.6M439.7 403l15.6 15.6m0 -15.6l-15.6 15.6M440.7 401.3l15.6 15.6m0 -15.6l-15.6 15.6M441.7 409.3l15.6 15.6m0 -15.6l-15.6 15.6M442.8 398.1l15.6 15.6m0 -15.6l-15.6 15.6M443.8 401.6l15.6 15.6m0 -15.6l-15.6 15.6M444.9 403.1l15.6 15.6m0 -15.6l-15.6 15.6M445.9 405.9l15.6 15.6m0 -15.6l-15.6 15.6M447 400.9l15.6 15.6m0 -15.6l-15.6 15.6M448 399l15.6 15.6m0 -15.6l-15.6 15.6M449 408.5l15.6 15.6m0 -15.6l-15.6 15.6M450.1 409.7l15.6 15.6m0 -15.6l-15.6 15.6M451.1 397.3l15.6 15.6m0 -15.6l-15.6 15.6M452.2 403.5l15.6 15.6m0 -15.6l-15.6 15.6M453.2 404.5l15.6 15.6m0 -15.6l-15.6 15.6M454.2 396.2l15.6 15.6m0 -15.6l-15.6 15.6M455.3 400.7l15.6 15.6m0 -15.6l-15.6 15.6M456.3 400.7l15.6 15.6m0 -15.6l-15.6 15.6M457.4 399.6l15.6 15.6m0 -15.6l-15.6 15.6M458.4 400l15.6 15.6m0 -15.6l-15.6 15.6M459.5 401.6l15.6 15.6m0 -15.6l-15.6 15.6M460.5 395.3l15.6 15.6m0 -15.6l-15.6 15.6M461.5 397.5l15.6 15.6m0 -15.6l-15.6 15.6M462.6 397.6l15.6 15.6m0 -15.6l-15.6 15.6M463.6 398.4l15.6 15.6m0 -15.6l-15.6 15.6M464.7 410.1l15.6 15.6m0 -15.6l-15.6 15.6M465.7 396l15.6 15.6m0 -15.6l-15.6 15.6M466.8 401.1l15.6 15.6m0 -15.6l-15.6 15.6M467.8 408.7l15.6 15.6m0 -15.6l-15.6 15.6M468.8 399.3l15.6 15.6m0 -15.6l-15.6 15.6M469.9 400.2l15.6 15.6m0 -15.6l-15.6 15.6M470.9 403.1l15.6 15.6m0 -15.6l-15.6 15.6M472 407.3l15.6 15.6m0 -15.6l-15.6 15.6M473 401.7l15.6 15.6m0 -15.6l-15.6 15.6M474 407.1l15.6 15.6m0 -15.6l-15.6 15.6M475.1 406.8l15.6 15.6m0 -15.6l-15.6 15.6M476.1 401.5l15.6 15.6m0 -15.6l-15.6 15.6M477.2 399.4l15.6 15.6m0 -15.6l-15.6 15.6M478.2 400.7l15.6 15.6m0 -15.6l-15.6 15.6M479.3 397.8l15.6 15.6m0 -15.6l-15.6 15.6M480.3 397l15.6 15.6m0 -15.6l-15.6 15.6M481.3 395.4l15.6 15.6m0 -15.6l-15.6 15.6M482.4 400.8l15.6 15.6m0 -15.6l-15.6 15.6M483.4 406.3l15.6 15.6m0 -15.6l-15.6 15.6M484.5 409.4l15.6 15.6m0 -15.6l-15.6 15.6M485.5 401.3l15.6 15.6m0 -15.6l-15.6 15.6M486.5 402.8l15.6 15.6m0 -15.6l-15.6 15.6M487.6 408.7l15.6 15.6m0 -15.6l-15.6 15.6M488.6 408.2l15.6 15.6m0 -15.6l-15.6 15.6M489.7 395l15.6 15.6m0 -15.6l-15.6 15.6M490.7 397.8l15.6 15.6m0 -15.6l-15.6 15.6M491.8 395.3l15.6 15.6m0 -15.6l-15.6 15.6M492.8 404.6l15.6 15.6m0 -15.6l-15.6 15.6M493.8 403.1l15.6 15.6m0 -15.6l-15.6 15.6M494.9 400.6l15.6 15.6m0 -15.6l-15.6 15.6M495.9 403.4l15.6 15.6m0 -15.6l-15.6 15.6M497 407.8l15.6 15.6m0 -15.6l-15.6 15.6M498 402.5l15.6 15.6m0 -15.6l-15.6 15.6M499.1 397.8l15.6 15.6m0 -15.6l-15.6 15.6M500.1 401.5l15.6 15.6m0 -15.6l-15.6 15.6M501.1 396.3l15.6 15.6m0 -15.6l-15.6 15.6M502.2 395.2l15.6 15.6m0 -15.6l-15.6 15.6M503.2 409.6l15.6 15.6m0 -15.6l-15.6 15.6M504.3 402.4l15.6 15.6m0 -15.6l-15.6 15.6M505.3 399.9l15.6 15.6m0 -15.6l-15.6 15.6M506.3 403.3l15.6 15.6m0 -15.6l-15.6 15.6M507.4 395.7l15.6 15.6m0 -15.6l-15.6 15.6M508.4 404.6l15.6 15.6m0 -15.6l-15.6 15.6M509.5 394.2l15.6 15.6m0 -15.6l-15.6 15.6M510.5 402.5l15.6 15.6m0 -15.6l-15.6 15.6M511.6 395.8l15.6 15.6m0 -15.6l-15.6 15.6M512.6 408l15.6 15.6m0 -15.6l-15.6 15.6M513.6 396.6l15.6 15.6m0 -15.6l-15.6 15.6M514.7 397.4l15.6 15.6m0 -15.6l-15.6 15.6M515.7 401.9l15.6 15.6m0 -15.6l-15.6 15.6M516.8 405.3l15.6 15.6m0 -15.6l-15.6 15.6M517.8 402.7l15.6 15.6m0 -15.6l-15.6 15.6M518.9 406.7l15.6 15.6m0 -15.6l-15.6 15.6M519.9 404.7l15.6 15.6m0 -15.6l-15.6 15.6M520.9 402.4l15.6 15.6m0 -15.6l-15.6 15.6M522 402.5l15.6 15.6m0 -15.6l-15.6 15.6M523 401.2l15.6 15.6m0 -15.6l-15.6 15.6M524.1 396.6l15.6 15.6m0 -15.6l-15.6 15.6M525.1 404.7l15.6 15.6m0 -15.6l-15.6 15.6M526.1 398.2l15.6 15.6m0 -15.6l-15.6 15.6M527.2 395.5l15.6 15.6m0 -15.6l-15.6 15.6M528.2 403.5l15.6 15.6m0 -15.6l-15.6 15.6M529.3 408.4l15.6 15.6m0 -15.6l-15.6 15.6M530.3 397.4l15.6 15.6m0 -15.6l-15.6 15.6M531.4 396.7l15.6 15.6m0 -15.6l-15.6 15.6M532.4 401l15.6 15.6m0 -15.6l-15.6 15.6M533.4 395.7l15.6 15.6m0 -15.6l-15.6 15.6M534.5 405l15.6 15.6m0 -15.6l-15.6 15.6M535.5 399.7l15.6 15.6m0 -15.6l-15.6 15.6M536.6 398l15.6 15.6m0 -15.6l-15.6 15.6M537.6 402.1l15.6 15.6m0 -15.6l-15.6 15.6M538.6 398l15.6 15.6m0 -15.6l-15.6 15.6M539.7 406.9l15.6 15.6m0 -15.6l-15.6 15.6M540.7 406.8l15.6 15.6m0 -15.6l-15.6 15.6M541.8 400.9l15.6 15.6m0 -15.6l-15.6 15.6M542.8 394.5l15.6 15.6m0 -15.6l-15.6 15.6M543.9 397.7l15.6 15.6m0 -15.6l-15.6 15.6M544.9 407.4l15.6 15.6m0 -15.6l-15.6 15.6M545.9 399.6l15.6 15.6m0 -15.6l-15.6 15.6M547 407.8l15.6 15.6m0 -15.6l-15.6 15.6M548 403.9l15.6 15.6m0 -15.6l-15.6 15.6M549.1 395.2l15.6 15.6m0 -15.6l-15.6 15.6M550.1 404.2l15.6 15.6m0 -15.6l-15.6 15.6M551.2 407.4l15.6 15.6m0 -15.6l-15.6 15.6M552.2 396.1l15.6 15.6m0 -15.6l-15.6 15.6M553.2 405.6l15.6 15.6m0 -15.6l-15.6 15.6M554.3 401.5l15.6 15.6m0 -15.6l-15.6 15.6M555.3 403.4l15.6 15.6m0 -15.6l-15.6 15.6M556.4 395.1l15.6 15.6m0 -15.6l-15.6 15.6M557.4 399l15.6 15.6m0 -15.6l-15.6 15.6M558.4 397.3l15.6 15.6m0 -15.6l-15.6 15.6M559.5 406.6l15.6 15.6m0 -15.6l-15.6 15.6M560.5 403.3l15.6 15.6m0 -15.6l-15.6 15.6M561.6 394.9l15.6 15.6m0 -15.6l-15.6 15.6M562.6 406l15.6 15.6m0 -15.6l-15.6 15.6M563.7 406.1l15.6 15.6m0 -15.6l-15.6 15.6M564.7 396.7l15.6 15.6m0 -15.6l-15.6 15.6M565.7 404.4l15.6 15.6m0 -15.6l-15.6 15.6M566.8 399l15.6 15.6m0 -15.6l-15.6 15.6M567.8 407.3l15.6 15.6m0 -15.6l-15.6 15.6M568.9 408.5l15.6 15.6m0 -15.6l-15.6 15.6M569.9 402.3l15.6 15.6m0 -15.6l-15.6 15.6M571 401.3l15.6 15.6m0 -15.6l-15.6 15.6M572 399.7l15.6 15.6m0 -15.6l-15.6 15.6M573 395.6l15.6 15.6m0 -15.6l-15.6 15.6M574.1 400.6l15.6 15.6m0 -15.6l-15.6 15.6M575.1 399.6l15.6 15.6m0 -15.6l-15.6 15.6M576.2 404.2l15.6 15.6m0 -15.6l-15.6 15.6M577.2 393l15.6 15.6m0 -15.6l-15.6 15.6M578.2 403.9l15.6 15.6m0 -15.6l-15.6 15.6M579.3 408.9l15.6 15.6m0 -15.6l-15.6 15.6M580.3 406.2l15.6 15.6m0 -15.6l-15.6 15.6M581.4 406.7l15.6 15.6m0 -15.6l-15.6 15.6M582.4 400.2l15.6 15.6m0 -15.6l-15.6 15.6M583.5 406.3l15.6 15.6m0 -15.6l-15.6 15.6M584.5 402.4l15.6 15.6m0 -15.6l-15.6 15.6M585.5 403.6l15.6 15.6m0 -15.6l-15.6 15.6M586.6 397.6l15.6 15.6m0 -15.6l-15.6 15.6M587.6 405.1l15.6 15.6m0 -15.6l-15.6 15.6M588.7 406.6l15.6 15.6m0 -15.6l-15.6 15.6M589.7 406.2l15.6 15.6m0 -15.6l-15.6 15.6M590.7 406.7l15.6 15.6m0 -15.6l-15.6 15.6M591.8 400.1l15.6 15.6m0 -15.6l-15.6 15.6M592.8 401.4l15.6 15.6m0 -15.6l-15.6 15.6M593.9 399.2l15.6 15.6m0 -15.6l-15.6 15.6M594.9 407.9l15.6 15.6m0 -15.6l-15.6 15.6M596 395.7l15.6 15.6m0 -15.6l-15.6 15.6M597 401.1l15.6 15.6m0 -15.6l-15.6 15.6M598 394.1l15.6 15.6m0 -15.6l-15.6 15.6M599.1 395.9l15.6 15.6m0 -15.6l-15.6 15.6M600.1 408.2l15.6 15.6m0 -15.6l-15.6 15.6M601.2 399.6l15.6 15.6m0 -15.6l-15.6 15.6M602.2 405.2l15.6 15.6m0 -15.6l-15.6 15.6M603.3 400l15.6 15.6m0 -15.6l-15.6 15.6M604.3 406.2l15.6 15.6m0 -15.6l-15.6 15.6M605.3 401.7l15.6 15.6m0 -15.6l-15.6 15.6M606.4 399.7l15.6 15.6m0 -15.6l-15.6 15.6M607.4 402.5l15.6 15.6m0 -15.6l-15.6 15.6M608.5 404.9l15.6 15.6m0 -15.6l-15.6 15.6M609.5 399l15.6 15.6m0 -15.6l-15.6 15.6M610.5 395.1l15.6 15.6m0 -15.6l-15.6 15.6M611.6 404.8l15.6 15.6m0 -15.6l-15.6 15.6M612.6 406.6l15.6 15.6m0 -15.6l-15.6 15.6M613.7 403.4l15.6 15.6m0 -15.6l-15.6 15.6M614.7 403.4l15.6 15.6m0 -15.6l-15.6 15.6M615.8 403.7l15.6 15.6m0 -15.6l-15.6 15.6M616.8 396.4l15.6 15.6m0 -15.6l-15.6 15.6M617.8 406.6l15.6 15.6m0 -15.6l-15.6 15.6M618.9 409.2l15.6 15.6m0 -15.6l-15.6 15.6M619.9 409l15.6 15.6m0 -15.6l-15.6 15.6M621 403.2l15.6 15.6m0 -15.6l-15.6 15.6M622 405.6l15.6 15.6m0 -15.6l-15.6 15.6M623 401.4l15.6 15.6m0 -15.6l-15.6 15.6M624.1 401.5l15.6 15.6m0 -15.6l-15.6 15.6M625.1 405.5l15.6 15.6m0 -15.6l-15.6 15.6M626.2 408.4l15.6 15.6m0 -15.6l-15.6 15.6M627.2 396.3l15.6 15.6m0 -15.6l-15.6 15.6M628.3 408.1l15.6 15.6m0 -15.6l-15.6 15.6M629.3 405.5l15.6 15.6m0 -15.6l-15.6 15.6M630.3 407.1l15.6 15.6m0 -15.6l-15.6 15.6M631.4 401.8l15.6 15.6m0 -15.6l-15.6 15.6M632.4 406.1l15.6 15.6m0 -15.6l-15.6 15.6M633.5 398.5l15.6 15.6m0 -15.6l-15.6 15.6M634.5 403.5l15.6 15.6m0 -15.6l-15.6 15.6M635.6 398.6l15.6 15.6m0 -15.6l-15.6 15.6M636.6 403.8l15.6 15.6m0 -15.6l-15.6 15.6M637.6 399.9l15.6 15.6m0 -15.6l-15.6 15.6M638.7 409.3l15.6 15.6m0 -15.6l-15.6 15.6M639.7 404.6l15.6 15.6m0 -15.6l-15.6 15.6M640.8 405.4l15.6 15.6m0 -15.6l-15.6 15.6M641.8 402.6l15.6 15.6m0 -15.6l-15.6 15.6M642.8 406.7l15.6 15.6m0 -15.6l-15.6 15.6M643.9 403.6l15.6 15.6m0 -15.6l-15.6 15.6M644.9 395.5l15.6 15.6m0 -15.6l-15.6 15.6M646 407l15.6 15.6m0 -15.6l-15.6 15.6M647 402l15.6 15.6m0 -15.6l-15.6 15.6M648.1 396.7l15.6 15.6m0 -15.6l-15.6 15.6M649.1 403.1l15.6 15.6m0 -15.6l-15.6 15.6M650.1 402.2l15.6 15.6m0 -15.6l-15.6 15.6M651.2 402.5l15.6 15.6m0 -15.6l-15.6 15.6M652.2 407.7l15.6 15.6m0 -15.6l-15.6 15.6M653.3 407.4l15.6 15.6m0 -15.6l-15.6 15.6M654.3 401.2l15.6 15.6m0 -15.6l-15.6 15.6M655.4 400.4l15.6 15.6m0 -15.6l-15.6 15.6M656.4 405.7l15.6 15.6m0 -15.6l-15.6 15.6M657.4 403.6l15.6 15.6m0 -15.6l-15.6 15.6M658.5 394.9l15.6 15.6m0 -15.6l-15.6 15.6M659.5 406.8l15.6 15.6m0 -15.6l-15.6 15.6M660.6 399.6l15.6 15.6m0 -15.6l-15.6 15.6M661.6 396.8l15.6 15.6m0 -15.6l-15.6 15.6M662.6 401.1l15.6 15.6m0 -15.6l-15.6 15.6M663.7 406.2l15.6 15.6m0 -15.6l-15.6 15.6M664.7 402.3l15.6 15.6m0 -15.6l-15.6 15.6M665.8 395.7l15.6 15.6m0 -15.6l-15.6 15.6M666.8 399.6l15.6 15.6m0 -15.6l-15.6 15.6M667.9 397.9l15.6 15.6m0 -15.6l-15.6 15.6M668.9 403.4l15.6 15.6m0 -15.6l-15.6 15.6M669.9 407.9l15.6 15.6m0 -15.6l-15.6 15.6M671 409.3l15.6 15.6m0 -15.6l-15.6 15.6M672 398.1l15.6 15.6m0 -15.6l-15.6 15.6M673.1 402.2l15.6 15.6m0 -15.6l-15.6 15.6M674.1 396.8l15.6 15.6m0 -15.6l-15.6 15.6M675.1 397.3l15.6 15.6m0 -15.6l-15.6 15.6M676.2 399.5l15.6 15.6m0 -15.6l-15.6 15.6M677.2 400.1l15.6 15.6m0 -15.6l-15.6 15.6M678.3 397.6l15.6 15.6m0 -15.6l-15.6 15.6M679.3 405.8l15.6 15.6m0 -15.6l-15.6 15.6M680.4 404.1l15.6 15.6m0 -15.6l-15.6 15.6M681.4 400.6l15.6 15.6m0 -15.6l-15.6 15.6M682.4 401.5l15.6 15.6m0 -15.6l-15.6 15.6M683.5 408.3l15.6 15.6m0 -15.6l-15.6 15.6M684.5 403.5l15.6 15.6m0 -15.6l-15.6 15.6M685.6 406.4l15.6 15.6m0 -15.6l-15.6 15.6M686.6 396.3l15.6 15.6m0 -15.6l-15.6 15.6M687.7 407.1l15.6 15.6m0 -15.6l-15.6 15.6M688.7 399.8l15.6 15.6m0 -15.6l-15.6 15.6M689.7 406.2l15.6 15.6m0 -15.6l-15.6 15.6M690.8 407.7l15.6 15.6m0 -15.6l-15.6 15.6M691.8 409l15.6 15.6m0 -15.6l-15.6 15.6M692.9 403.6l15.6 15.6m0 -15.6l-15.6 15.6M693.9 396.3l15.6 15.6m0 -15.6l-15.6 15.6M694.9 396l15.6 15.6m0 -15.6l-15.6 15.6M696 399.8l15.6 15.6m0 -15.6l-15.6 15.6M697 394l15.6 15.6m0 -15.6l-15.6 15.6M698.1 398.4l15.6 15.6m0 -15.6l-15.6 15.6M699.1 394.7l15.6 15.6m0 -15.6l-15.6 15.6M700.2 405.6l15.6 15.6m0 -15.6l-15.6 15.6M701.2 403.1l15.6 15.6m0 -15.6l-15.6 15.6M702.2 404l15.6 15.6m0 -15.6l-15.6 15.6M703.3 395.8l15.6 15.6m0 -15.6l-15.6 15.6M704.3 394.4l15.6 15.6m0 -15.6l-15.6 15.6M705.4 397.4l15.6 15.6m0 -15.6l-15.6 15.6M706.4 392.8l15.6 15.6m0 -15.6l-15.6 15.6M707.5 408.1l15.6 15.6m0 -15.6l-15.6 15.6M708.5 405.4l15.6 15.6m0 -15.6l-15.6 15.6M709.5 407.5l15.6 15.6m0 -15.6l-15.6 15.6M710.6 401.2l15.6 15.6m0 -15.6l-15.6 15.6M711.6 401.8l15.6 15.6m0 -15.6l-15.6 15.6M712.7 402l15.6 15.6m0 -15.6l-15.6 15.6M713.7 406.1l15.6 15.6m0 -15.6l-15.6 15.6M714.7 400.6l15.6 15.6m0 -15.6l-15.6 15.6M715.8 399.6l15.6 15.6m0 -15.6l-15.6 15.6M716.8 395.4l15.6 15.6m0 -15.6l-15.6 15.6M717.9 406.1l15.6 15.6m0 -15.6l-15.6 15.6M718.9 392.8l15.6 15.6m0 -15.6l-15.6 15.6M720 403.2l15.6 15.6m0 -15.6l-15.6 15.6M721 399.6l15.6 15.6m0 -15.6l-15.6 15.6M722 394.1l15.6 15.6m0 -15.6l-15.6 15.6M723.1 404.8l15.6 15.6m0 -15.6l-15.6 15.6M724.1 400.6l15.6 15.6m0 -15.6l-15.6 15.6M725.2 402.6l15.6 15.6m0 -15.6l-15.6 15.6M726.2 406l15.6 15.6m0 -15.6l-15.6 15.6M727.2 406.1l15.6 15.6m0 -15.6l-15.6 15.6M728.3 402.9l15.6 15.6m0 -15.6l-15.6 15.6M729.3 398.8l15.6 15.6m0 -15.6l-15.6 15.6M730.4 406.4l15.6 15.6m0 -15.6l-15.6 15.6M731.4 402.8l15.6 15.6m0 -15.6l-15.6 15.6M732.5 393.4l15.6 15.6m0 -15.6l-15.6 15.6M733.5 401l15.6 15.6m0 -15.6l-15.6 15.6M734.5 401.3l15.6 15.6m0 -15.6l-15.6 15.6M735.6 392.4l15.6 15.6m0 -15.6l-15.6 15.6M736.6 396.6l15.6 15.6m0 -15.6l-15.6 15.6M737.7 402.5l15.6 15.6m0 -15.6l-15.6 15.6M738.7 394.6l15.6 15.6m0 -15.6l-15.6 15.6M739.8 404.3l15.6 15.6m0 -15.6l-15.6 15.6M740.8 401.7l15.6 15.6m0 -15.6l-15.6 15.6M741.8 390.6l15.6 15.6m0 -15.6l-15.6 15.6M742.9 398.5l15.6 15.6m0 -15.6l-15.6 15.6M743.9 403.7l15.6 15.6m0 -15.6l-15.6 15.6M745 404.8l15.6 15.6m0 -15.6l-15.6 15.6M746 392.8l15.6 15.6m0 -15.6l-15.6 15.6M747 400.8l15.6 15.6m0 -15.6l-15.6 15.6M748.1 393.3l15.6 15.6m0 -15.6l-15.6 15.6M749.1 403.2l15.6 15.6m0 -15.6l-15.6 15.6M750.2 398.4l15.6 15.6m0 -15.6l-15.6 15.6M751.2 402l15.6 15.6m0 -15.6l-15.6 15.6M752.3 392.4l15.6 15.6m0 -15.6l-15.6 15.6M753.3 394.1l15.6 15.6m0 -15.6l-15.6 15.6M754.3 391.5l15.6 15.6m0 -15.6l-15.6 15.6M755.4 399.3l15.6 15.6m0 -15.6l-15.6 15.6M756.4 393.5l15.6 15.6m0 -15.6l-15.6 15.6M757.5 403.2l15.6 15.6m0 -15.6l-15.6 15.6M758.5 397.6l15.6 15.6m0 -15.6l-15.6 15.6M759.6 394.6l15.6 15.6m0 -15.6l-15.6 15.6M760.6 394.8l15.6 15.6m0 -15.6l-15.6 15.6M761.6 402.6l15.6 15.6m0 -15.6l-15.6 15.6M762.7 403.6l15.6 15.6m0 -15.6l-15.6 15.6M763.7 395.3l15.6 15.6m0 -15.6l-15.6 15.6M764.8 393.9l15.6 15.6m0 -15.6l-15.6 15.6M765.8 396.1l15.6 15.6m0 -15.6l-15.6 15.6M766.8 402.9l15.6 15.6m0 -15.6l-15.6 15.6M767.9 398.9l15.6 15.6m0 -15.6l-15.6 15.6M768.9 400.5l15.6 15.6m0 -15.6l-15.6 15.6M770 392.5l15.6 15.6m0 -15.6l-15.6 15.6M771 394.8l15.6 15.6m0 -15.6l-15.6 15.6M772.1 396.9l15.6 15.6m0 -15.6l-15.6 15.6M773.1 393.8l15.6 15.6m0 -15.6l-15.6 15.6M774.1 389.6l15.6 15.6m0 -15.6l-15.6 15.6M775.2 391.7l15.6 15.6m0 -15.6l-15.6 15.6M776.2 405.2l15.6 15.6m0 -15.6l-15.6 15.6M777.3 404.1l15.6 15.6m0 -15.6l-15.6 15.6M778.3 389.1l15.6 15.6m0 -15.6l-15.6 15.6M779.3 399.7l15.6 15.6m0 -15.6l-15.6 15.6M780.4 394.7l15.6 15.6m0 -15.6l-15.6 15.6M781.4 399.2l15.6 15.6m0 -15.6l-15.6 15.6M782.5 392l15.6 15.6m0 -15.6l-15.6 15.6M783.5 395l15.6 15.6m0 -15.6l-15.6 15.6M784.6 400.3l15.6 15.6m0 -15.6l-15.6 15.6M785.6 392.8l15.6 15.6m0 -15.6l-15.6 15.6M786.6 404.1l15.6 15.6m0 -15.6l-15.6 15.6M787.7 403.9l15.6 15.6m0 -15.6l-15.6 15.6M788.7 396.2l15.6 15.6m0 -15.6l-15.6 15.6M789.8 392.1l15.6 15.6m0 -15.6l-15.6 15.6M790.8 388.1l15.6 15.6m0 -15.6l-15.6 15.6M791.9 403.1l15.6 15.6m0 -15.6l-15.6 15.6M792.9 399.8l15.6 15.6m0 -15.6l-15.6 15.6M793.9 402.2l15.6 15.6m0 -15.6l-15.6 15.6M795 391.4l15.6 15.6m0 -15.6l-15.6 15.6M796 398.6l15.6 15.6m0 -15.6l-15.6 15.6M797.1 400.6l15.6 15.6m0 -15.6l-15.6 15.6M798.1 398l15.6 15.6m0 -15.6l-15.6 15.6M799.1 400l15.6 15.6m0 -15.6l-15.6 15.6M800.2 395.2l15.6 15.6m0 -15.6l-15.6 15.6M801.2 403.8l15.6 15.6m0 -15.6l-15.6 15.6M802.3 403.2l15.6 15.6m0 -15.6l-15.6 15.6M803.3 400.7l15.6 15.6m0 -15.6l-15.6 15.6M804.4 401.5l15.6 15.6m0 -15.6l-15.6 15.6M805.4 390l15.6 15.6m0 -15.6l-15.6 15.6M806.4 400.3l15.6 15.6m0 -15.6l-15.6 15.6M807.5 391.3l15.6 15.6m0 -15.6l-15.6 15.6M808.5 399.3l15.6 15.6m0 -15.6l-15.6 15.6M809.6 389.4l15.6 15.6m0 -15.6l-15.6 15.6M810.6 401.8l15.6 15.6m0 -15.6l-15.6 15.6M811.7 394.4l15.6 15.6m0 -15.6l-15.6 15.6M812.7 392.4l15.6 15.6m0 -15.6l-15.6 15.6M813.7 402.1l15.6 15.6m0 -15.6l-15.6 15.6M814.8 396.8l15.6 15.6m0 -15.6l-15.6 15.6M815.8 396l15.6 15.6m0 -15.6l-15.6 15.6M816.9 392.9l15.6 15.6m0 -15.6l-15.6 15.6M817.9 399.2l15.6 15.6m0 -15.6l-15.6 15.6M818.9 397.9l15.6 15.6m0 -15.6l-15.6 15.6M820 403.8l15.6 15.6m0 -15.6l-15.6 15.6M821 392.8l15.6 15.6m0 -15.6l-15.6 15.6M822.1 388.2l15.6 15.6m0 -15.6l-15.6 15.6M823.1 390.5l15.6 15.6m0 -15.6l-15.6 15.6M824.2 392.5l15.6 15.6m0 -15.6l-15.6 15.6M825.2 392.9l15.6 15.6m0 -15.6l-15.6 15.6M826.2 399.7l15.6 15.6m0 -15.6l-15.6 15.6M827.3 389.5l15.6 15.6m0 -15.6l-15.6 15.6M828.3 401.8l15.6 15.6m0 -15.6l-15.6 15.6M829.4 397.8l15.6 15.6m0 -15.6l-15.6 15.6M830.4 391.4l15.6 15.6m0 -15.6l-15.6 15.6M831.4 392l15.6 15.6m0 -15.6l-15.6 15.6M832.5 399.3l15.6 15.6m0 -15.6l-15.6 15.6M833.5 398.8l15.6 15.6m0 -15.6l-15.6 15.6M834.6 395.8l15.6 15.6m0 -15.6l-15.6 15.6M835.6 397.5l15.6 15.6m0 -15.6l-15.6 15.6M836.7 399.4l15.6 15.6m0 -15.6l-15.6 15.6M837.7 398.4l15.6 15.6m0 -15.6l-15.6 15.6M838.7 391.2l15.6 15.6m0 -15.6l-15.6 15.6M839.8 394.8l15.6 15.6m0 -15.6l-15.6 15.6M840.8 396.3l15.6 15.6m0 -15.6l-15.6 15.6M841.9 400.4l15.6 15.6m0 -15.6l-15.6 15.6M842.9 402l15.6 15.6m0 -15.6l-15.6 15.6M844 388.4l15.6 15.6m0 -15.6l-15.6 15.6M845 390.7l15.6 15.6m0 -15.6l-15.6 15.6M846 395.7l15.6 15.6m0 -15.6l-15.6 15.6M847.1 393.7l15.6 15.6m0 -15.6l-15.6 15.6M848.1 392.7l15.6 15.6m0 -15.6l-15.6 15.6M849.2 396.3l15.6 15.6m0 -15.6l-15.6 15.6M850.2 401.2l15.6 15.6m0 -15.6l-15.6 15.6M851.2 401.9l15.6 15.6m0 -15.6l-15.6 15.6M852.3 392l15.6 15.6m0 -15.6l-15.6 15.6M853.3 391.4l15.6 15.6m0 -15.6l-15.6 15.6M854.4 401.8l15.6 15.6m0 -15.6l-15.6 15.6M855.4 391.1l15.6 15.6m0 -15.6l-15.6 15.6M856.5 401.7l15.6 15.6m0 -15.6l-15.6 15.6M857.5 388.5l15.6 15.6m0 -15.6l-15.6 15.6M858.5 395.3l15.6 15.6m0 -15.6l-15.6 15.6M859.6 397.2l15.6 15.6m0 -15.6l-15.6 15.6M860.6 387.3l15.6 15.6m0 -15.6l-15.6 15.6M861.7 391.6l15.6 15.6m0 -15.6l-15.6 15.6M862.7 395.3l15.6 15.6m0 -15.6l-15.6 15.6M863.8 390.1l15.6 15.6m0 -15.6l-15.6 15.6M864.8 394l15.6 15.6m0 -15.6l-15.6 15.6M865.8 399.3l15.6 15.6m0 -15.6l-15.6 15.6M866.9 391.5l15.6 15.6m0 -15.6l-15.6 15.6M867.9 390.2l15.6 15.6m0 -15.6l-15.6 15.6M869 395.8l15.6 15.6m0 -15.6l-15.6 15.6M870 398.4l15.6 15.6m0 -15.6l-15.6 15.6M871 386.9l15.6 15.6m0 -15.6l-15.6 15.6M872.1 389.7l15.6 15.6m0 -15.6l-15.6 15.6M873.1 399.1l15.6 15.6m0 -15.6l-15.6 15.6M874.2 392.7l15.6 15.6m0 -15.6l-15.6 15.6M875.2 393.6l15.6 15.6m0 -15.6l-15.6 15.6M876.3 398.8l15.6 15.6m0 -15.6l-15.6 15.6M877.3 391.8l15.6 15.6m0 -15.6l-15.6 15.6M878.3 399.3l15.6 15.6m0 -15.6l-15.6 15.6M879.4 393l15.6 15.6m0 -15.6l-15.6 15.6M880.4 392.2l15.6 15.6m0 -15.6l-15.6 15.6M881.5 388.6l15.6 15.6m0 -15.6l-15.6 15.6M882.5 397.3l15.6 15.6m0 -15.6l-15.6 15.6M883.5 395.1l15.6 15.6m0 -15.6l-15.6 15.6M884.6 391.4l15.6 15.6m0 -15.6l-15.6 15.6M885.6 399.6l15.6 15.6m0 -15.6l-15.6 15.6M886.7 398.2l15.6 15.6m0 -15.6l-15.6 15.6M887.7 393.5l15.6 15.6m0 -15.6l-15.6 15.6M888.8 388.3l15.6 15.6m0 -15.6l-15.6 15.6M889.8 396.9l15.6 15.6m0 -15.6l-15.6 15.6M890.8 387.1l15.6 15.6m0 -15.6l-15.6 15.6M891.9 386.7l15.6 15.6m0 -15.6l-15.6 15.6M892.9 396.2l15.6 15.6m0 -15.6l-15.6 15.6M894 396.9l15.6 15.6m0 -15.6l-15.6 15.6M895 393.3l15.6 15.6m0 -15.6l-15.6 15.6M896.1 392.1l15.6 15.6m0 -15.6l-15.6 15.6M897.1 386.5l15.6 15.6m0 -15.6l-15.6 15.6M898.1 397.6l15.6 15.6m0 -15.6l-15.6 15.6M899.2 387.5l15.6 15.6m0 -15.6l-15.6 15.6M900.2 393.5l15.6 15.6m0 -15.6l-15.6 15.6M901.3 397.3l15.6 15.6m0 -15.6l-15.6 15.6M902.3 395l15.6 15.6m0 -15.6l-15.6 15.6M903.3 400.5l15.6 15.6m0 -15.6l-15.6 15.6M904.4 397.2l15.6 15.6m0 -15.6l-15.6 15.6M905.4 390.4l15.6 15.6m0 -15.6l-15.6 15.6M906.5 395.8l15.6 15.6m0 -15.6l-15.6 15.6M907.5 388.3l15.6 15.6m0 -15.6l-15.6 15.6M908.6 390.8l15.6 15.6m0 -15.6l-15.6 15.6M909.6 395.6l15.6 15.6m0 -15.6l-15.6 15.6M910.6 394.3l15.6 15.6m0 -15.6l-15.6 15.6M911.7 392.7l15.6 15.6m0 -15.6l-15.6 15.6M912.7 391.4l15.6 15.6m0 -15.6l-15.6 15.6M913.8 396.3l15.6 15.6m0 -15.6l-15.6 15.6M914.8 399.7l15.6 15.6m0 -15.6l-15.6 15.6M915.9 392.2l15.6 15.6m0 -15.6l-15.6 15.6M916.9 396.6l15.6 15.6m0 -15.6l-15.6 15.6M917.9 389.3l15.6 15.6m0 -15.6l-15.6 15.6M919 389l15.6 15.6m0 -15.6l-15.6 15.6M920 395.6l15.6 15.6m0 -15.6l-15.6 15.6M921.1 395.1l15.6 15.6m0 -15.6l-15.6 15.6M922.1 386.6l15.6 15.6m0 -15.6l-15.6 15.6M923.1 389.3l15.6 15.6m0 -15.6l-15.6 15.6M924.2 388.4l15.6 15.6m0 -15.6l-15.6 15.6M925.2 396l15.6 15.6m0 -15.6l-15.6 15.6M926.3 385.9l15.6 15.6m0 -15.6l-15.6 15.6M927.3 392.4l15.6 15.6m0 -15.6l-15.6 15.6M928.4 394l15.6 15.6m0 -15.6l-15.6 15.6M929.4 396.2l15.6 15.6m0 -15.6l-15.6 15.6M930.4 389.6l15.6 15.6m0 -15.6l-15.6 15.6M931.5 390.5l15.6 15.6m0 -15.6l-15.6 15.6M932.5 392.7l15.6 15.6m0 -15.6l-15.6 15.6" stroke="#A5A5A5"/><path d="M185.2 154.6h13.8v13.8h-13.8zM186.6 158.6h13.8v13.8h-13.8zM188 169.9h13.8v13.8h-13.8zM189.5 211.6h13.8v13.8h-13.8zM190.9 231h13.8v13.8h-13.8zM192.4 243.8h13.8v13.8h-13.8zM193.8 282.3h13.8v13.8h-13.8zM195.2 311.8h13.8v13.8h-13.8zM196.7 315.4h13.8v13.8h-13.8zM198.1 321.8h13.8v13.8h-13.8zM199.6 335.3h13.8v13.8h-13.8zM201 343.6h13.8v13.8h-13.8zM202.4 361.8h13.8v13.8h-13.8zM203.9 367.3h13.8v13.8h-13.8zM205.2 369.5h13.8v13.8h-13.8zM206.2 378.6h13.8v13.8h-13.8zM207.3 385.5h13.8v13.8h-13.8zM208.3 395.9h13.8v13.8h-13.8zM209.3 394.5h13.8v13.8h-13.8zM210.4 400.5h13.8v13.8h-13.8zM211.4 407.1h13.8v13.8h-13.8zM212.5 403.1h13.8v13.8h-13.8zM213.5 402.8h13.8v13.8h-13.8zM214.5 412.4h13.8v13.8h-13.8zM215.6 413.6h13.8v13.8h-13.8zM216.6 414.5h13.8v13.8h-13.8zM217.7 430.8h13.8v13.8h-13.8zM218.7 426h13.8v13.8h-13.8zM219.8 423h13.8v13.8h-13.8zM220.8 439.7h13.8v13.8h-13.8zM221.8 438.9h13.8v13.8h-13.8zM222.9 437.6h13.8v13.8h-13.8zM223.9 436.5h13.8v13.8h-13.8zM225 440.5h13.8v13.8h-13.8zM226 441.8h13.8v13.8h-13.8zM227 450.8h13.8v13.8h-13.8zM228.1 440.9h13.8v13.8h-13.8zM229.1 447.6h13.8v13.8h-13.8zM230.2 455.2h13.8v13.8h-13.8zM231.2 438.6h13.8v13.8h-13.8zM232.3 444.7h13.8v13.8h-13.8zM233.3 450.8h13.8v13.8h-13.8zM234.3 446.3h13.8v13.8h-13.8zM235.4 450.1h13.8v13.8h-13.8zM236.4 456.7h13.8v13.8h-13.8zM237.5 447.1h13.8v13.8h-13.8zM238.5 445.8h13.8v13.8h-13.8zM239.6 443.5h13.8v13.8h-13.8zM240.6 449.8h13.8v13.8h-13.8zM241.6 442.9h13.8v13.8h-13.8zM242.7 440.3h13.8v13.8h-13.8zM243.7 441.7h13.8v13.8h-13.8zM244.8 454.5h13.8v13.8h-13.8zM245.8 454.2h13.8v13.8h-13.8zM246.8 451h13.8v13.8h-13.8zM247.9 446.4h13.8v13.8h-13.8zM248.9 453.2h13.8v13.8h-13.8zM250 445.6h13.8v13.8h-13.8zM251 448.1h13.8v13.8h-13.8zM252.1 456.5h13.8v13.8h-13.8zM253.1 449.1h13.8v13.8h-13.8zM254.1 447.5h13.8v13.8h-13.8zM255.2 435.1h13.8v13.8h-13.8zM256.2 455.2h13.8v13.8h-13.8zM257.3 434.9h13.8v13.8h-13.8zM258.3 434.3h13.8v13.8h-13.8zM259.4 440.5h13.8v13.8h-13.8zM260.4 448.2h13.8v13.8h-13.8zM261.4 435.7h13.8v13.8h-13.8zM262.5 449.4h13.8v13.8h-13.8zM263.5 444h13.8v13.8h-13.8zM264.6 438.5h13.8v13.8h-13.8zM265.6 441.4h13.8v13.8h-13.8zM266.6 437.7h13.8v13.8h-13.8zM267.7 439.5h13.8v13.8h-13.8zM268.7 446.4h13.8v13.8h-13.8zM269.8 442.5h13.8v13.8h-13.8zM270.8 426.9h13.8v13.8h-13.8zM271.9 427.3h13.8v13.8h-13.8zM272.9 443.9h13.8v13.8h-13.8zM273.9 431.8h13.8v13.8h-13.8zM275 435.8h13.8v13.8h-13.8zM276 436.6h13.8v13.8h-13.8zM277.1 423.1h13.8v13.8h-13.8zM278.1 423.4h13.8v13.8h-13.8zM279.1 433.9h13.8v13.8h-13.8zM280.2 429.5h13.8v13.8h-13.8zM281.2 420.1h13.8v13.8h-13.8zM282.3 430.8h13.8v13.8h-13.8zM283.3 420h13.8v13.8h-13.8zM284.4 421.1h13.8v13.8h-13.8zM285.4 420.1h13.8v13.8h-13.8zM286.4 426.8h13.8v13.8h-13.8zM287.5 421.4h13.8v13.8h-13.8zM288.5 416.6h13.8v13.8h-13.8zM289.6 429.8h13.8v13.8h-13.8zM290.6 419.8h13.8v13.8h-13.8zM291.7 424.4h13.8v13.8h-13.8zM292.7 424.7h13.8v13.8h-13.8zM293.7 424.2h13.8v13.8h-13.8zM294.8 422h13.8v13.8h-13.8zM295.8 414.8h13.8v13.8h-13.8zM296.9 423.3h13.8v13.8h-13.8zM297.9 428h13.8v13.8h-13.8zM298.9 414.8h13.8v13.8h-13.8zM300 421.3h13.8v13.8h-13.8zM301 416.7h13.8v13.8h-13.8zM302.1 405.4h13.8v13.8h-13.8zM303.1 412.2h13.8v13.8h-13.8zM304.2 414.5h13.8v13.8h-13.8zM305.2 421.9h13.8v13.8h-13.8zM306.2 406.4h13.8v13.8h-13.8zM307.3 401h13.8v13.8h-13.8zM308.3 406.8h13.8v13.8h-13.8zM309.4 405.1h13.8v13.8h-13.8zM310.4 414.1h13.8v13.8h-13.8zM311.5 412.4h13.8v13.8h-13.8zM312.5 411.6h13.8v13.8h-13.8zM313.5 410.7h13.8v13.8h-13.8zM314.6 400.1h13.8v13.8h-13.8zM315.6 411.8h13.8v13.8h-13.8zM316.7 415h13.8v13.8h-13.8zM317.7 404.9h13.8v13.8h-13.8zM318.7 410.7h13.8v13.8h-13.8zM319.8 402.7h13.8v13.8h-13.8zM320.8 409h13.8v13.8h-13.8zM321.9 395.9h13.8v13.8h-13.8zM322.9 406.6h13.8v13.8h-13.8zM324 403.7h13.8v13.8h-13.8zM325 404.3h13.8v13.8h-13.8zM326 410.1h13.8v13.8h-13.8zM327.1 391.2h13.8v13.8h-13.8zM328.1 420.2h13.8v13.8h-13.8zM329.2 397.7h13.8v13.8h-13.8zM330.2 412h13.8v13.8h-13.8zM331.2 415h13.8v13.8h-13.8zM332.3 413.6h13.8v13.8h-13.8zM333.3 396.7h13.8v13.8h-13.8zM334.4 394h13.8v13.8h-13.8zM335.4 398.6h13.8v13.8h-13.8zM336.5 410.4h13.8v13.8h-13.8zM337.5 406.5h13.8v13.8h-13.8zM338.5 413.4h13.8v13.8h-13.8zM339.6 404.2h13.8v13.8h-13.8zM340.6 409.3h13.8v13.8h-13.8zM341.7 415.7h13.8v13.8h-13.8zM342.7 406.9h13.8v13.8h-13.8zM343.8 393.9h13.8v13.8h-13.8zM344.8 401.6h13.8v13.8h-13.8zM345.8 409.2h13.8v13.8h-13.8zM346.9 414.1h13.8v13.8h-13.8zM347.9 391.6h13.8v13.8h-13.8zM349 415.7h13.8v13.8h-13.8zM350 415.5h13.8v13.8h-13.8zM351 412.7h13.8v13.8h-13.8zM352.1 397.9h13.8v13.8h-13.8zM353.1 391.5h13.8v13.8h-13.8zM354.2 412.7h13.8v13.8h-13.8zM355.2 397.4h13.8v13.8h-13.8zM356.3 400h13.8v13.8h-13.8zM357.3 400.4h13.8v13.8h-13.8zM358.3 416.4h13.8v13.8h-13.8zM359.4 397.1h13.8v13.8h-13.8zM360.4 405.2h13.8v13.8h-13.8zM361.5 389.3h13.8v13.8h-13.8zM362.5 389.9h13.8v13.8h-13.8zM363.6 398h13.8v13.8h-13.8zM364.6 412h13.8v13.8h-13.8zM365.6 405.9h13.8v13.8h-13.8zM366.7 400.2h13.8v13.8h-13.8zM367.7 390.6h13.8v13.8h-13.8zM368.8 404.1h13.8v13.8h-13.8zM369.8 403.4h13.8v13.8h-13.8zM370.8 399.5h13.8v13.8h-13.8zM371.9 393h13.8v13.8h-13.8zM372.9 410.3h13.8v13.8h-13.8zM374 399.6h13.8v13.8h-13.8zM375 398.8h13.8v13.8h-13.8zM376.1 404.4h13.8v13.8h-13.8zM377.1 408.9h13.8v13.8h-13.8zM378.1 391.8h13.8v13.8h-13.8zM379.2 394h13.8v13.8h-13.8zM380.2 410.1h13.8v13.8h-13.8zM381.3 415.4h13.8v13.8h-13.8zM382.3 409.5h13.8v13.8h-13.8zM383.3 403.8h13.8v13.8h-13.8zM384.4 410.3h13.8v13.8h-13.8zM385.4 401.3h13.8v13.8h-13.8zM386.5 394.6h13.8v13.8h-13.8zM387.5 394.8h13.8v13.8h-13.8zM388.6 395.3h13.8v13.8h-13.8zM389.6 393.4h13.8v13.8h-13.8zM390.6 406.5h13.8v13.8h-13.8zM391.7 399.7h13.8v13.8h-13.8zM392.7 392h13.8v13.8h-13.8zM393.8 398.6h13.8v13.8h-13.8zM394.8 402.5h13.8v13.8h-13.8zM395.9 393.8h13.8v13.8h-13.8zM396.9 393h13.8v13.8h-13.8zM397.9 390.5h13.8v13.8h-13.8zM399 406.1h13.8v13.8h-13.8zM400 411.2h13.8v13.8h-13.8zM401.1 409.9h13.8v13.8h-13.8zM402.1 395.4h13.8v13.8h-13.8zM403.1 405.5h13.8v13.8h-13.8zM404.2 398.5h13.8v13.8h-13.8zM405.2 401.9h13.8v13.8h-13.8zM406.3 391.1h13.8v13.8h-13.8zM407.3 412.4h13.8v13.8h-13.8zM408.4 396h13.8v13.8h-13.8zM409.4 414.8h13.8v13.8h-13.8zM410.4 401h13.8v13.8h-13.8zM411.5 404.9h13.8v13.8h-13.8zM412.5 411.4h13.8v13.8h-13.8zM413.6 410.7h13.8v13.8h-13.8zM414.6 410h13.8v13.8h-13.8zM415.7 406.2h13.8v13.8h-13.8zM416.7 414.3h13.8v13.8h-13.8zM417.7 407.4h13.8v13.8h-13.8zM418.8 416h13.8v13.8h-13.8zM419.8 408.6h13.8v13.8h-13.8zM420.9 408.2h13.8v13.8h-13.8zM421.9 409.9h13.8v13.8h-13.8zM422.9 408.3h13.8v13.8h-13.8zM424 406.4h13.8v13.8h-13.8zM425 408.6h13.8v13.8h-13.8zM426.1 417.5h13.8v13.8h-13.8zM427.1 414.7h13.8v13.8h-13.8zM428.2 414.4h13.8v13.8h-13.8zM429.2 397.2h13.8v13.8h-13.8zM430.2 407.9h13.8v13.8h-13.8zM431.3 403.6h13.8v13.8h-13.8zM432.3 415.1h13.8v13.8h-13.8zM433.4 410.9h13.8v13.8h-13.8zM434.4 414.4h13.8v13.8h-13.8zM435.4 417.8h13.8v13.8h-13.8zM436.5 418.4h13.8v13.8h-13.8zM437.5 418.3h13.8v13.8h-13.8zM438.6 405.2h13.8v13.8h-13.8zM439.6 408.3h13.8v13.8h-13.8zM440.7 402.7h13.8v13.8h-13.8zM441.7 413.9h13.8v13.8h-13.8zM442.7 408.3h13.8v13.8h-13.8zM443.8 406.2h13.8v13.8h-13.8zM444.8 408.6h13.8v13.8h-13.8zM445.9 406h13.8v13.8h-13.8zM446.9 423.7h13.8v13.8h-13.8zM448 407.9h13.8v13.8h-13.8zM449 422.6h13.8v13.8h-13.8zM450 411.9h13.8v13.8h-13.8zM451.1 416.3h13.8v13.8h-13.8zM452.1 417.4h13.8v13.8h-13.8zM453.2 406.6h13.8v13.8h-13.8zM454.2 424h13.8v13.8h-13.8zM455.2 420.6h13.8v13.8h-13.8zM456.3 407.9h13.8v13.8h-13.8zM457.3 416.3h13.8v13.8h-13.8zM458.4 416.7h13.8v13.8h-13.8zM459.4 422.2h13.8v13.8h-13.8zM460.5 417.4h13.8v13.8h-13.8zM461.5 412.5h13.8v13.8h-13.8zM462.5 408.2h13.8v13.8h-13.8zM463.6 417.8h13.8v13.8h-13.8zM464.6 425.3h13.8v13.8h-13.8zM465.7 412.4h13.8v13.8h-13.8zM466.7 420.6h13.8v13.8h-13.8zM467.8 411.9h13.8v13.8h-13.8zM468.8 411.2h13.8v13.8h-13.8zM469.8 408.9h13.8v13.8h-13.8zM470.9 424.2h13.8v13.8h-13.8zM471.9 420.5h13.8v13.8h-13.8zM473 420.9h13.8v13.8h-13.8zM474 411.7h13.8v13.8h-13.8zM475 421.9h13.8v13.8h-13.8zM476.1 417.7h13.8v13.8h-13.8zM477.1 411.6h13.8v13.8h-13.8zM478.2 427.8h13.8v13.8h-13.8zM479.2 425.5h13.8v13.8h-13.8zM480.3 425.1h13.8v13.8h-13.8zM481.3 418.1h13.8v13.8h-13.8zM482.3 424.7h13.8v13.8h-13.8zM483.4 421.2h13.8v13.8h-13.8zM484.4 420.7h13.8v13.8h-13.8zM485.5 419.6h13.8v13.8h-13.8zM486.5 422.4h13.8v13.8h-13.8zM487.5 426.8h13.8v13.8h-13.8zM488.6 415.7h13.8v13.8h-13.8zM489.6 412.3h13.8v13.8h-13.8zM490.7 419.6h13.8v13.8h-13.8zM491.7 425.9h13.8v13.8h-13.8zM492.8 412.1h13.8v13.8h-13.8zM493.8 427.7h13.8v13.8h-13.8zM494.8 414.3h13.8v13.8h-13.8zM495.9 418h13.8v13.8h-13.8zM496.9 426.4h13.8v13.8h-13.8zM498 421h13.8v13.8h-13.8zM499 420.5h13.8v13.8h-13.8zM500.1 429.6h13.8v13.8h-13.8zM501.1 424h13.8v13.8h-13.8zM502.1 419.2h13.8v13.8h-13.8zM503.2 420.9h13.8v13.8h-13.8zM504.2 429.5h13.8v13.8h-13.8zM505.3 429.2h13.8v13.8h-13.8zM506.3 419.4h13.8v13.8h-13.8zM507.3 432.6h13.8v13.8h-13.8zM508.4 419h13.8v13.8h-13.8zM509.4 424.2h13.8v13.8h-13.8zM510.5 426.8h13.8v13.8h-13.8zM511.5 425.2h13.8v13.8h-13.8zM512.6 423.7h13.8v13.8h-13.8zM513.6 430.3h13.8v13.8h-13.8zM514.6 417.5h13.8v13.8h-13.8zM515.7 425.9h13.8v13.8h-13.8zM516.7 421.2h13.8v13.8h-13.8zM517.8 430.3h13.8v13.8h-13.8zM518.8 419.3h13.8v13.8h-13.8zM519.8 423h13.8v13.8h-13.8zM520.9 429.1h13.8v13.8h-13.8zM521.9 418.7h13.8v13.8h-13.8zM523 417.6h13.8v13.8h-13.8zM524 426.4h13.8v13.8h-13.8zM525.1 429.5h13.8v13.8h-13.8zM526.1 421.2h13.8v13.8h-13.8zM527.1 434.7h13.8v13.8h-13.8zM528.2 417.2h13.8v13.8h-13.8zM529.2 418.7h13.8v13.8h-13.8zM530.3 435.5h13.8v13.8h-13.8zM531.3 418.2h13.8v13.8h-13.8zM532.4 431.3h13.8v13.8h-13.8zM533.4 421.7h13.8v13.8h-13.8zM534.4 421.7h13.8v13.8h-13.8zM535.5 432.5h13.8v13.8h-13.8zM536.5 431.5h13.8v13.8h-13.8zM537.6 420.3h13.8v13.8h-13.8zM538.6 423h13.8v13.8h-13.8zM539.6 424.9h13.8v13.8h-13.8zM540.7 435.9h13.8v13.8h-13.8zM541.7 424h13.8v13.8h-13.8zM542.8 438.7h13.8v13.8h-13.8zM543.8 433.2h13.8v13.8h-13.8zM544.9 434.3h13.8v13.8h-13.8zM545.9 437.8h13.8v13.8h-13.8zM546.9 431h13.8v13.8h-13.8zM548 439.7h13.8v13.8h-13.8zM549 420.8h13.8v13.8h-13.8zM550.1 430.1h13.8v13.8h-13.8zM551.1 424.1h13.8v13.8h-13.8zM552.2 429.3h13.8v13.8h-13.8zM553.2 438.6h13.8v13.8h-13.8zM554.2 430.4h13.8v13.8h-13.8zM555.3 437.9h13.8v13.8h-13.8zM556.3 434.2h13.8v13.8h-13.8zM557.4 429h13.8v13.8h-13.8zM558.4 438.8h13.8v13.8h-13.8zM559.4 423.6h13.8v13.8h-13.8zM560.5 430.9h13.8v13.8h-13.8zM561.5 440.3h13.8v13.8h-13.8zM562.6 434h13.8v13.8h-13.8zM563.6 425.3h13.8v13.8h-13.8zM564.7 436.9h13.8v13.8h-13.8zM565.7 441.5h13.8v13.8h-13.8zM566.7 439.2h13.8v13.8h-13.8zM567.8 433.7h13.8v13.8h-13.8zM568.8 433.7h13.8v13.8h-13.8zM569.9 439.3h13.8v13.8h-13.8zM570.9 433h13.8v13.8h-13.8zM571.9 436h13.8v13.8h-13.8zM573 429.8h13.8v13.8h-13.8zM574 423.2h13.8v13.8h-13.8zM575.1 429.1h13.8v13.8h-13.8zM576.1 444.6h13.8v13.8h-13.8zM577.2 441.2h13.8v13.8h-13.8zM578.2 439.4h13.8v13.8h-13.8zM579.2 425.1h13.8v13.8h-13.8zM580.3 444h13.8v13.8h-13.8zM581.3 431.4h13.8v13.8h-13.8zM582.4 437.6h13.8v13.8h-13.8zM583.4 440.7h13.8v13.8h-13.8zM584.5 431.5h13.8v13.8h-13.8zM585.5 428h13.8v13.8h-13.8zM586.5 429.4h13.8v13.8h-13.8zM587.6 440.8h13.8v13.8h-13.8zM588.6 442.1h13.8v13.8h-13.8zM589.7 439.7h13.8v13.8h-13.8zM590.7 443.4h13.8v13.8h-13.8zM591.7 443.7h13.8v13.8h-13.8zM592.8 436.2h13.8v13.8h-13.8zM593.8 438.9h13.8v13.8h-13.8zM594.9 432.4h13.8v13.8h-13.8zM595.9 425.9h13.8v13.8h-13.8zM597 429.4h13.8v13.8h-13.8zM598 444.1h13.8v13.8h-13.8zM599 428h13.8v13.8h-13.8zM600.1 439.8h13.8v13.8h-13.8zM601.1 442.2h13.8v13.8h-13.8zM602.2 442.6h13.8v13.8h-13.8zM603.2 444.8h13.8v13.8h-13.8zM604.3 440h13.8v13.8h-13.8zM605.3 438.1h13.8v13.8h-13.8zM606.3 445h13.8v13.8h-13.8zM607.4 428.5h13.8v13.8h-13.8zM608.4 437.6h13.8v13.8h-13.8zM609.5 436.1h13.8v13.8h-13.8zM610.5 441.4h13.8v13.8h-13.8zM611.5 429.1h13.8v13.8h-13.8zM612.6 428.7h13.8v13.8h-13.8zM613.6 437.4h13.8v13.8h-13.8zM614.7 446.9h13.8v13.8h-13.8zM615.7 434.9h13.8v13.8h-13.8zM616.8 441.8h13.8v13.8h-13.8zM617.8 444.5h13.8v13.8h-13.8zM618.8 438.4h13.8v13.8h-13.8zM619.9 433.8h13.8v13.8h-13.8zM620.9 433.5h13.8v13.8h-13.8zM622 445.8h13.8v13.8h-13.8zM623 430.4h13.8v13.8h-13.8zM624 438.2h13.8v13.8h-13.8zM625.1 429.9h13.8v13.8h-13.8zM626.1 441.7h13.8v13.8h-13.8zM627.2 430.4h13.8v13.8h-13.8zM628.2 430.6h13.8v13.8h-13.8zM629.3 448.2h13.8v13.8h-13.8zM630.3 430.9h13.8v13.8h-13.8zM631.3 435.8h13.8v13.8h-13.8zM632.4 438.2h13.8v13.8h-13.8zM633.4 447.5h13.8v13.8h-13.8zM634.5 436.4h13.8v13.8h-13.8zM635.5 438.4h13.8v13.8h-13.8zM636.6 432.8h13.8v13.8h-13.8zM637.6 440h13.8v13.8h-13.8zM638.6 447.5h13.8v13.8h-13.8zM639.7 435.5h13.8v13.8h-13.8zM640.7 441.9h13.8v13.8h-13.8zM641.8 442.7h13.8v13.8h-13.8zM642.8 435.3h13.8v13.8h-13.8zM643.8 448.4h13.8v13.8h-13.8zM644.9 448.9h13.8v13.8h-13.8zM645.9 430.4h13.8v13.8h-13.8zM647 431.7h13.8v13.8h-13.8zM648 433.3h13.8v13.8h-13.8zM649.1 438.9h13.8v13.8h-13.8zM650.1 442.2h13.8v13.8h-13.8zM651.1 446.7h13.8v13.8h-13.8zM652.2 448.6h13.8v13.8h-13.8zM653.2 434.5h13.8v13.8h-13.8zM654.3 445.8h13.8v13.8h-13.8zM655.3 435.7h13.8v13.8h-13.8zM656.4 446.9h13.8v13.8h-13.8zM657.4 445h13.8v13.8h-13.8zM658.4 439.1h13.8v13.8h-13.8zM659.5 441.3h13.8v13.8h-13.8zM660.5 446.3h13.8v13.8h-13.8zM661.6 436.4h13.8v13.8h-13.8zM662.6 448.2h13.8v13.8h-13.8zM663.6 437.5h13.8v13.8h-13.8zM664.7 438.6h13.8v13.8h-13.8zM665.7 440.4h13.8v13.8h-13.8zM666.8 445.5h13.8v13.8h-13.8zM667.8 437h13.8v13.8h-13.8zM668.9 436.2h13.8v13.8h-13.8zM669.9 440.9h13.8v13.8h-13.8zM670.9 440.2h13.8v13.8h-13.8zM672 440.7h13.8v13.8h-13.8zM673 443.4h13.8v13.8h-13.8zM674.1 438.4h13.8v13.8h-13.8zM675.1 441h13.8v13.8h-13.8zM676.1 444.9h13.8v13.8h-13.8zM677.2 435.7h13.8v13.8h-13.8zM678.2 443.1h13.8v13.8h-13.8zM679.3 447h13.8v13.8h-13.8zM680.3 438.1h13.8v13.8h-13.8zM681.4 433.7h13.8v13.8h-13.8zM682.4 448.4h13.8v13.8h-13.8zM683.4 447.3h13.8v13.8h-13.8zM684.5 441.6h13.8v13.8h-13.8zM685.5 445.4h13.8v13.8h-13.8zM686.6 447.2h13.8v13.8h-13.8zM687.6 444.2h13.8v13.8h-13.8zM688.7 441.2h13.8v13.8h-13.8zM689.7 446.1h13.8v13.8h-13.8zM690.7 441.5h13.8v13.8h-13.8zM691.8 440.7h13.8v13.8h-13.8zM692.8 443.6h13.8v13.8h-13.8zM693.9 450.6h13.8v13.8h-13.8zM694.9 436.5h13.8v13.8h-13.8zM695.9 438.4h13.8v13.8h-13.8zM697 438.8h13.8v13.8h-13.8zM698 442.8h13.8v13.8h-13.8zM699.1 430.1h13.8v13.8h-13.8zM700.1 438.2h13.8v13.8h-13.8zM701.2 436.9h13.8v13.8h-13.8zM702.2 442h13.8v13.8h-13.8zM703.2 437.9h13.8v13.8h-13.8zM704.3 438.8h13.8v13.8h-13.8zM705.3 446.9h13.8v13.8h-13.8zM706.4 447.7h13.8v13.8h-13.8zM707.4 437h13.8v13.8h-13.8zM708.5 445.1h13.8v13.8h-13.8zM709.5 449.2h13.8v13.8h-13.8zM710.5 443.1h13.8v13.8h-13.8zM711.6 436.4h13.8v13.8h-13.8zM712.6 442.5h13.8v13.8h-13.8zM713.7 440.8h13.8v13.8h-13.8zM714.7 434.4h13.8v13.8h-13.8zM715.7 447.6h13.8v13.8h-13.8zM716.8 447.2h13.8v13.8h-13.8zM717.8 449.3h13.8v13.8h-13.8zM718.9 444.4h13.8v13.8h-13.8zM719.9 447.6h13.8v13.8h-13.8zM721 439.9h13.8v13.8h-13.8zM722 444.9h13.8v13.8h-13.8zM723 448.5h13.8v13.8h-13.8zM724.1 437.6h13.8v13.8h-13.8zM725.1 436.5h13.8v13.8h-13.8zM726.2 434.4h13.8v13.8h-13.8zM727.2 443.5h13.8v13.8h-13.8zM728.2 440.1h13.8v13.8h-13.8zM729.3 439.3h13.8v13.8h-13.8zM730.3 434.6h13.8v13.8h-13.8zM731.4 434.5h13.8v13.8h-13.8zM732.4 445.6h13.8v13.8h-13.8zM733.5 445.3h13.8v13.8h-13.8zM734.5 446.6h13.8v13.8h-13.8zM735.5 444.9h13.8v13.8h-13.8zM736.6 434.7h13.8v13.8h-13.8zM737.6 437.9h13.8v13.8h-13.8zM738.7 447.9h13.8v13.8h-13.8zM739.7 437.7h13.8v13.8h-13.8zM740.8 437.5h13.8v13.8h-13.8zM741.8 441.3h13.8v13.8h-13.8zM742.8 436.4h13.8v13.8h-13.8zM743.9 447.8h13.8v13.8h-13.8zM744.9 437.3h13.8v13.8h-13.8zM746 447h13.8v13.8h-13.8zM747 435.6h13.8v13.8h-13.8zM748 438.4h13.8v13.8h-13.8zM749.1 432.1h13.8v13.8h-13.8zM750.1 445.6h13.8v13.8h-13.8zM751.2 445.4h13.8v13.8h-13.8zM752.2 434.3h13.8v13.8h-13.8zM753.3 444.9h13.8v13.8h-13.8zM754.3 442.7h13.8v13.8h-13.8zM755.3 434h13.8v13.8h-13.8zM756.4 430.9h13.8v13.8h-13.8zM757.4 445.5h13.8v13.8h-13.8zM758.5 445.8h13.8v13.8h-13.8zM759.5 437h13.8v13.8h-13.8zM760.6 443.4h13.8v13.8h-13.8zM761.6 441.5h13.8v13.8h-13.8zM762.6 446.2h13.8v13.8h-13.8zM763.7 439.9h13.8v13.8h-13.8zM764.7 432.5h13.8v13.8h-13.8zM765.8 435.3h13.8v13.8h-13.8zM766.8 444.5h13.8v13.8h-13.8zM767.8 443.9h13.8v13.8h-13.8zM768.9 429.3h13.8v13.8h-13.8zM769.9 435h13.8v13.8h-13.8zM771 441.5h13.8v13.8h-13.8zM772 435.4h13.8v13.8h-13.8zM773.1 430.3h13.8v13.8h-13.8zM774.1 431.8h13.8v13.8h-13.8zM775.1 432.9h13.8v13.8h-13.8zM776.2 442.7h13.8v13.8h-13.8zM777.2 430.1h13.8v13.8h-13.8zM778.3 434.1h13.8v13.8h-13.8zM779.3 431.2h13.8v13.8h-13.8zM780.3 437h13.8v13.8h-13.8zM781.4 429.1h13.8v13.8h-13.8zM782.4 430h13.8v13.8h-13.8zM783.5 437.4h13.8v13.8h-13.8zM784.5 440.5h13.8v13.8h-13.8zM785.6 433.3h13.8v13.8h-13.8zM786.6 439.2h13.8v13.8h-13.8zM787.6 435.9h13.8v13.8h-13.8zM788.7 439.6h13.8v13.8h-13.8zM789.7 437.2h13.8v13.8h-13.8zM790.8 436.5h13.8v13.8h-13.8zM791.8 429.3h13.8v13.8h-13.8zM792.9 432.8h13.8v13.8h-13.8zM793.9 440h13.8v13.8h-13.8zM794.9 432.7h13.8v13.8h-13.8zM796 430.7h13.8v13.8h-13.8zM797 435.8h13.8v13.8h-13.8zM798.1 442.5h13.8v13.8h-13.8zM799.1 428.1h13.8v13.8h-13.8zM800.1 429h13.8v13.8h-13.8zM801.2 440.7h13.8v13.8h-13.8zM802.2 437.2h13.8v13.8h-13.8zM803.3 428.5h13.8v13.8h-13.8zM804.3 431.3h13.8v13.8h-13.8zM805.4 439.1h13.8v13.8h-13.8zM806.4 435.3h13.8v13.8h-13.8zM807.4 440.7h13.8v13.8h-13.8zM808.5 425.5h13.8v13.8h-13.8zM809.5 425.3h13.8v13.8h-13.8zM810.6 437.1h13.8v13.8h-13.8zM811.6 434h13.8v13.8h-13.8zM812.6 429.7h13.8v13.8h-13.8zM813.7 432.7h13.8v13.8h-13.8zM814.7 439.1h13.8v13.8h-13.8zM815.8 427.6h13.8v13.8h-13.8zM816.8 429.2h13.8v13.8h-13.8zM817.9 441.4h13.8v13.8h-13.8zM818.9 426.2h13.8v13.8h-13.8zM819.9 433.2h13.8v13.8h-13.8zM821 430.5h13.8v13.8h-13.8zM822 429.5h13.8v13.8h-13.8zM823.1 426h13.8v13.8h-13.8zM824.1 432.1h13.8v13.8h-13.8zM825.2 438h13.8v13.8h-13.8zM826.2 432.2h13.8v13.8h-13.8zM827.2 426.7h13.8v13.8h-13.8zM828.3 429.3h13.8v13.8h-13.8zM829.3 430.4h13.8v13.8h-13.8zM830.4 431.4h13.8v13.8h-13.8zM831.4 433h13.8v13.8h-13.8zM832.4 424h13.8v13.8h-13.8zM833.5 425.1h13.8v13.8h-13.8zM834.5 434h13.8v13.8h-13.8zM835.6 438.8h13.8v13.8h-13.8zM836.6 437.1h13.8v13.8h-13.8zM837.7 436.8h13.8v13.8h-13.8zM838.7 433.2h13.8v13.8h-13.8zM839.7 427.7h13.8v13.8h-13.8zM840.8 429.1h13.8v13.8h-13.8zM841.8 430.4h13.8v13.8h-13.8zM842.9 425.5h13.8v13.8h-13.8zM843.9 438h13.8v13.8h-13.8zM845 433.8h13.8v13.8h-13.8zM846 426.6h13.8v13.8h-13.8zM847 426.3h13.8v13.8h-13.8zM848.1 429.3h13.8v13.8h-13.8zM849.1 427.7h13.8v13.8h-13.8zM850.2 439h13.8v13.8h-13.8zM851.2 425.9h13.8v13.8h-13.8zM852.2 430.2h13.8v13.8h-13.8zM853.3 425.6h13.8v13.8h-13.8zM854.3 433.9h13.8v13.8h-13.8zM855.4 433h13.8v13.8h-13.8zM856.4 422.3h13.8v13.8h-13.8zM857.5 432.4h13.8v13.8h-13.8zM858.5 426.1h13.8v13.8h-13.8zM859.5 421.3h13.8v13.8h-13.8zM860.6 428.4h13.8v13.8h-13.8zM861.6 430.2h13.8v13.8h-13.8zM862.7 428.3h13.8v13.8h-13.8zM863.7 433.3h13.8v13.8h-13.8zM864.7 430.6h13.8v13.8h-13.8zM865.8 427.1h13.8v13.8h-13.8zM866.8 430.3h13.8v13.8h-13.8zM867.9 434.3h13.8v13.8h-13.8zM868.9 430.6h13.8v13.8h-13.8zM870 435.3h13.8v13.8h-13.8zM871 436.7h13.8v13.8h-13.8zM872 423.2h13.8v13.8h-13.8zM873.1 431.2h13.8v13.8h-13.8zM874.1 424.4h13.8v13.8h-13.8zM875.2 426h13.8v13.8h-13.8zM876.2 432.7h13.8v13.8h-13.8zM877.3 432.7h13.8v13.8h-13.8zM878.3 426.6h13.8v13.8h-13.8zM879.3 427.7h13.8v13.8h-13.8zM880.4 426.3h13.8v13.8h-13.8zM881.4 425.3h13.8v13.8h-13.8zM882.5 426.8h13.8v13.8h-13.8zM883.5 425.8h13.8v13.8h-13.8zM884.5 430.9h13.8v13.8h-13.8zM885.6 435.7h13.8v13.8h-13.8zM886.6 426.8h13.8v13.8h-13.8zM887.7 421.8h13.8v13.8h-13.8zM888.7 425.1h13.8v13.8h-13.8zM889.8 431.9h13.8v13.8h-13.8zM890.8 425.6h13.8v13.8h-13.8zM891.8 434.9h13.8v13.8h-13.8zM892.9 427.2h13.8v13.8h-13.8zM893.9 429.7h13.8v13.8h-13.8zM895 426.2h13.8v13.8h-13.8zM896 419.8h13.8v13.8h-13.8zM897.1 426.1h13.8v13.8h-13.8zM898.1 422.8h13.8v13.8h-13.8zM899.1 436.1h13.8v13.8h-13.8zM900.2 429.7h13.8v13.8h-13.8zM901.2 426.4h13.8v13.8h-13.8zM902.3 432.1h13.8v13.8h-13.8zM903.3 427.5h13.8v13.8h-13.8zM904.3 428.7h13.8v13.8h-13.8zM905.4 427.7h13.8v13.8h-13.8zM906.4 434.4h13.8v13.8h-13.8zM907.5 423.9h13.8v13.8h-13.8zM908.5 432.2h13.8v13.8h-13.8zM909.6 430.5h13.8v13.8h-13.8zM910.6 431.8h13.8v13.8h-13.8zM911.6 430.5h13.8v13.8h-13.8zM912.7 431.9h13.8v13.8h-13.8zM913.7 418.7h13.8v13.8h-13.8zM914.8 422.4h13.8v13.8h-13.8zM915.8 422.9h13.8v13.8h-13.8zM916.8 431.7h13.8v13.8h-13.8zM917.9 430.9h13.8v13.8h-13.8zM918.9 421.7h13.8v13.8h-13.8zM920 420.6h13.8v13.8h-13.8zM921 432.2h13.8v13.8h-13.8zM922.1 425.4h13.8v13.8h-13.8zM923.1 424h13.8v13.8h-13.8zM924.1 428.9h13.8v13.8h-13.8zM925.2 428.9h13.8v13.8h-13.8zM926.2 430.6h13.8v13.8h-13.8zM927.3 422.7h13.8v13.8h-13.8zM928.3 429.9h13.8v13.8h-13.8zM929.4 423.9h13.8v13.8h-13.8zM930.4 434.3h13.8v13.8h-13.8zM931.4 424.3h13.8v13.8h-13.8zM932.5 422h13.8v13.8h-13.8zM933.5 431.1h13.8v13.8h-13.8z" stroke="#FFC000"/></g><g fill="none" stroke="#000" stroke-width="3.9"><path d="M147.70000000000002 129.1H956.2V610.4H147.8M162.3 129.1V610.4" stroke-linejoin="round"/><path d="M230.1 129.1v11.5M297.9 129.1v15M365.7 129.1v11.5M433.5 129.1v15M501.3 129.1v11.5M569.1 129.1v15M636.9 129.1v11.5M704.7 129.1v15M772.5 129.1v11.5M840.3 129.1v15M908.1 129.1v11.5M360.8 610.4v-15.5M559.2 610.4v-15.5M757.7 610.4v-15.5M162.3 249.1h-14.6M162.3 368.1h-14.6M162.3 490.3h-14.6"/></g><g font-family="Liberation Serif, serif" font-size="48" fill="#000"><text x="14.5" y="70.4" font-family="Liberation Sans, sans-serif" font-size="33">(a)</text><text transform="translate(161.5 85.1) scale(1.035 1)" text-anchor="middle">0</text><text transform="translate(297.1 85.1) scale(1.035 1)" text-anchor="middle">0.01</text><text transform="translate(432.7 85.1) scale(1.035 1)" text-anchor="middle">0.02</text><text transform="translate(568.3 85.1) scale(1.035 1)" text-anchor="middle">0.03</text><text transform="translate(703.9 85.1) scale(1.035 1)" text-anchor="middle">0.04</text><text transform="translate(839.5 85.1) scale(1.035 1)" text-anchor="middle">0.05</text><text transform="translate(544.0 35.4) scale(1.047 1)" text-anchor="middle">Depth/µm</text><text transform="translate(162.3 683.0) scale(1.035 1)" text-anchor="middle">0</text><text transform="translate(360.8 683.0) scale(1.035 1)" text-anchor="middle">200</text><text transform="translate(559.2 683.0) scale(1.035 1)" text-anchor="middle">400</text><text transform="translate(757.7 683.0) scale(1.035 1)" text-anchor="middle">600</text><text transform="translate(956.2 683.0) scale(1.035 1)" text-anchor="middle">800</text><text transform="translate(560.5 730.4) scale(1.05 1)" text-anchor="middle">Sputter period/s</text><text transform="translate(119.5 142.3) scale(1.035 1)" text-anchor="end">2</text><text transform="translate(119.5 264.7) scale(1.035 1)" text-anchor="end">1.6</text><text transform="translate(119.5 384.6) scale(1.035 1)" text-anchor="end">1.2</text><text transform="translate(119.5 503.8) scale(1.035 1)" text-anchor="end">0.8</text><text transform="translate(119.5 623.9) scale(1.035 1)" text-anchor="end">0.4</text><text transform="translate(40.4 303.1) rotate(-90) scale(1.036 1.16)" text-anchor="middle">H<tspan font-size="27" dy="-15.5">-</tspan><tspan dy="15.5">/C</tspan><tspan font-size="27" dy="-15.5">-</tspan><tspan dy="15.5"> intensity ratio</tspan></text></g><defs><clipPath id="clipb"><rect x="152.3" y="909.4499999999999" width="803.9000000000001" height="485.29999999999995"/></clipPath></defs><g fill="none" stroke="#000" stroke-width="3.9"><path d="M147.70000000000002 911.4H956.2V1392.8H147.8M162.3 911.4V1392.8" stroke-linejoin="round"/><path d="M230.1 911.4v11.5M297.9 911.4v15M365.7 911.4v11.5M433.5 911.4v15M501.3 911.4v11.5M569.1 911.4v15M636.9 911.4v11.5M704.7 911.4v15M772.5 911.4v11.5M840.3 911.4v15M908.1 911.4v11.5M360.8 1392.8v-15.5M559.2 1392.8v-15.5M757.7 1392.8v-15.5M162.3 1032.9h-14.6M162.3 1153.1h-14.6M162.3 1272.5h-14.6"/></g><g fill="none" stroke-width="2.0" stroke-linejoin="miter" clip-path="url(#clipb)"><path d="M159 918.5a7.25 7.25 0 1 0 14.5 0a7.25 7.25 0 1 0 -14.5 0zM160.5 1004.8a7.25 7.25 0 1 0 14.5 0a7.25 7.25 0 1 0 -14.5 0zM161.9 1014.5a7.25 7.25 0 1 0 14.5 0a7.25 7.25 0 1 0 -14.5 0zM163.3 1054.9a7.25 7.25 0 1 0 14.5 0a7.25 7.25 0 1 0 -14.5 0zM164.8 1080.5a7.25 7.25 0 1 0 14.5 0a7.25 7.25 0 1 0 -14.5 0zM166.2 1093.5a7.25 7.25 0 1 0 14.5 0a7.25 7.25 0 1 0 -14.5 0zM167.7 1098.2a7.25 7.25 0 1 0 14.5 0a7.25 7.25 0 1 0 -14.5 0zM169.1 1110.8a7.25 7.25 0 1 0 14.5 0a7.25 7.25 0 1 0 -14.5 0zM170.5 1129.8a7.25 7.25 0 1 0 14.5 0a7.25 7.25 0 1 0 -14.5 0zM172 1139.1a7.25 7.25 0 1 0 14.5 0a7.25 7.25 0 1 0 -14.5 0zM173.4 1151.6a7.25 7.25 0 1 0 14.5 0a7.25 7.25 0 1 0 -14.5 0zM174.8 1156.7a7.25 7.25 0 1 0 14.5 0a7.25 7.25 0 1 0 -14.5 0zM176.3 1159a7.25 7.25 0 1 0 14.5 0a7.25 7.25 0 1 0 -14.5 0zM177.7 1164.9a7.25 7.25 0 1 0 14.5 0a7.25 7.25 0 1 0 -14.5 0zM179.2 1176.7a7.25 7.25 0 1 0 14.5 0a7.25 7.25 0 1 0 -14.5 0zM180.6 1189a7.25 7.25 0 1 0 14.5 0a7.25 7.25 0 1 0 -14.5 0zM182 1198.1a7.25 7.25 0 1 0 14.5 0a7.25 7.25 0 1 0 -14.5 0zM183.5 1212.3a7.25 7.25 0 1 0 14.5 0a7.25 7.25 0 1 0 -14.5 0zM184.9 1216.6a7.25 7.25 0 1 0 14.5 0a7.25 7.25 0 1 0 -14.5 0zM186.4 1224.7a7.25 7.25 0 1 0 14.5 0a7.25 7.25 0 1 0 -14.5 0zM187.8 1228.2a7.25 7.25 0 1 0 14.5 0a7.25 7.25 0 1 0 -14.5 0zM189.2 1232a7.25 7.25 0 1 0 14.5 0a7.25 7.25 0 1 0 -14.5 0zM190.7 1237a7.25 7.25 0 1 0 14.5 0a7.25 7.25 0 1 0 -14.5 0zM192.1 1245.7a7.25 7.25 0 1 0 14.5 0a7.25 7.25 0 1 0 -14.5 0zM193.6 1245a7.25 7.25 0 1 0 14.5 0a7.25 7.25 0 1 0 -14.5 0zM195 1251.2a7.25 7.25 0 1 0 14.5 0a7.25 7.25 0 1 0 -14.5 0zM196.4 1258.2a7.25 7.25 0 1 0 14.5 0a7.25 7.25 0 1 0 -14.5 0zM197.9 1263.1a7.25 7.25 0 1 0 14.5 0a7.25 7.25 0 1 0 -14.5 0zM199.3 1262.4a7.25 7.25 0 1 0 14.5 0a7.25 7.25 0 1 0 -14.5 0zM200.7 1274.3a7.25 7.25 0 1 0 14.5 0a7.25 7.25 0 1 0 -14.5 0zM202.2 1277a7.25 7.25 0 1 0 14.5 0a7.25 7.25 0 1 0 -14.5 0zM203.6 1276.1a7.25 7.25 0 1 0 14.5 0a7.25 7.25 0 1 0 -14.5 0zM204.9 1278a7.25 7.25 0 1 0 14.5 0a7.25 7.25 0 1 0 -14.5 0zM206 1276a7.25 7.25 0 1 0 14.5 0a7.25 7.25 0 1 0 -14.5 0zM207 1275.7a7.25 7.25 0 1 0 14.5 0a7.25 7.25 0 1 0 -14.5 0zM208 1278.2a7.25 7.25 0 1 0 14.5 0a7.25 7.25 0 1 0 -14.5 0zM209.1 1277.3a7.25 7.25 0 1 0 14.5 0a7.25 7.25 0 1 0 -14.5 0zM210.1 1285.4a7.25 7.25 0 1 0 14.5 0a7.25 7.25 0 1 0 -14.5 0zM211.2 1279a7.25 7.25 0 1 0 14.5 0a7.25 7.25 0 1 0 -14.5 0zM212.2 1287.5a7.25 7.25 0 1 0 14.5 0a7.25 7.25 0 1 0 -14.5 0zM213.3 1283.6a7.25 7.25 0 1 0 14.5 0a7.25 7.25 0 1 0 -14.5 0zM214.3 1287.6a7.25 7.25 0 1 0 14.5 0a7.25 7.25 0 1 0 -14.5 0zM215.3 1282.3a7.25 7.25 0 1 0 14.5 0a7.25 7.25 0 1 0 -14.5 0zM216.4 1291.4a7.25 7.25 0 1 0 14.5 0a7.25 7.25 0 1 0 -14.5 0zM217.4 1287.8a7.25 7.25 0 1 0 14.5 0a7.25 7.25 0 1 0 -14.5 0zM218.5 1285.8a7.25 7.25 0 1 0 14.5 0a7.25 7.25 0 1 0 -14.5 0zM219.5 1285.8a7.25 7.25 0 1 0 14.5 0a7.25 7.25 0 1 0 -14.5 0zM220.5 1294.3a7.25 7.25 0 1 0 14.5 0a7.25 7.25 0 1 0 -14.5 0zM221.6 1282.1a7.25 7.25 0 1 0 14.5 0a7.25 7.25 0 1 0 -14.5 0zM222.6 1291.4a7.25 7.25 0 1 0 14.5 0a7.25 7.25 0 1 0 -14.5 0zM223.7 1290.4a7.25 7.25 0 1 0 14.5 0a7.25 7.25 0 1 0 -14.5 0zM224.7 1292.4a7.25 7.25 0 1 0 14.5 0a7.25 7.25 0 1 0 -14.5 0zM225.8 1296.3a7.25 7.25 0 1 0 14.5 0a7.25 7.25 0 1 0 -14.5 0zM226.8 1293.6a7.25 7.25 0 1 0 14.5 0a7.25 7.25 0 1 0 -14.5 0zM227.8 1294.9a7.25 7.25 0 1 0 14.5 0a7.25 7.25 0 1 0 -14.5 0zM228.9 1290.6a7.25 7.25 0 1 0 14.5 0a7.25 7.25 0 1 0 -14.5 0zM229.9 1297.6a7.25 7.25 0 1 0 14.5 0a7.25 7.25 0 1 0 -14.5 0zM231 1285.7a7.25 7.25 0 1 0 14.5 0a7.25 7.25 0 1 0 -14.5 0zM232 1295.3a7.25 7.25 0 1 0 14.5 0a7.25 7.25 0 1 0 -14.5 0zM233.1 1290.7a7.25 7.25 0 1 0 14.5 0a7.25 7.25 0 1 0 -14.5 0zM234.1 1293.3a7.25 7.25 0 1 0 14.5 0a7.25 7.25 0 1 0 -14.5 0zM235.1 1293.6a7.25 7.25 0 1 0 14.5 0a7.25 7.25 0 1 0 -14.5 0zM236.2 1286.9a7.25 7.25 0 1 0 14.5 0a7.25 7.25 0 1 0 -14.5 0zM237.2 1287.7a7.25 7.25 0 1 0 14.5 0a7.25 7.25 0 1 0 -14.5 0zM238.3 1291.3a7.25 7.25 0 1 0 14.5 0a7.25 7.25 0 1 0 -14.5 0zM239.3 1294.1a7.25 7.25 0 1 0 14.5 0a7.25 7.25 0 1 0 -14.5 0zM240.3 1297.5a7.25 7.25 0 1 0 14.5 0a7.25 7.25 0 1 0 -14.5 0zM241.4 1293.3a7.25 7.25 0 1 0 14.5 0a7.25 7.25 0 1 0 -14.5 0zM242.4 1296a7.25 7.25 0 1 0 14.5 0a7.25 7.25 0 1 0 -14.5 0zM243.5 1292.5a7.25 7.25 0 1 0 14.5 0a7.25 7.25 0 1 0 -14.5 0zM244.5 1299.4a7.25 7.25 0 1 0 14.5 0a7.25 7.25 0 1 0 -14.5 0zM245.6 1299.5a7.25 7.25 0 1 0 14.5 0a7.25 7.25 0 1 0 -14.5 0zM246.6 1293.2a7.25 7.25 0 1 0 14.5 0a7.25 7.25 0 1 0 -14.5 0zM247.6 1295.7a7.25 7.25 0 1 0 14.5 0a7.25 7.25 0 1 0 -14.5 0zM248.7 1285.4a7.25 7.25 0 1 0 14.5 0a7.25 7.25 0 1 0 -14.5 0zM249.7 1292.9a7.25 7.25 0 1 0 14.5 0a7.25 7.25 0 1 0 -14.5 0zM250.8 1291.4a7.25 7.25 0 1 0 14.5 0a7.25 7.25 0 1 0 -14.5 0zM251.8 1295.3a7.25 7.25 0 1 0 14.5 0a7.25 7.25 0 1 0 -14.5 0zM252.8 1290.1a7.25 7.25 0 1 0 14.5 0a7.25 7.25 0 1 0 -14.5 0zM253.9 1293.6a7.25 7.25 0 1 0 14.5 0a7.25 7.25 0 1 0 -14.5 0zM254.9 1295.7a7.25 7.25 0 1 0 14.5 0a7.25 7.25 0 1 0 -14.5 0zM256 1292.8a7.25 7.25 0 1 0 14.5 0a7.25 7.25 0 1 0 -14.5 0zM257 1287.8a7.25 7.25 0 1 0 14.5 0a7.25 7.25 0 1 0 -14.5 0zM258.1 1292.7a7.25 7.25 0 1 0 14.5 0a7.25 7.25 0 1 0 -14.5 0zM259.1 1288.6a7.25 7.25 0 1 0 14.5 0a7.25 7.25 0 1 0 -14.5 0zM260.1 1291.8a7.25 7.25 0 1 0 14.5 0a7.25 7.25 0 1 0 -14.5 0zM261.2 1294.9a7.25 7.25 0 1 0 14.5 0a7.25 7.25 0 1 0 -14.5 0zM262.2 1292.6a7.25 7.25 0 1 0 14.5 0a7.25 7.25 0 1 0 -14.5 0zM263.3 1294.5a7.25 7.25 0 1 0 14.5 0a7.25 7.25 0 1 0 -14.5 0zM264.3 1288.2a7.25 7.25 0 1 0 14.5 0a7.25 7.25 0 1 0 -14.5 0zM265.4 1297.2a7.25 7.25 0 1 0 14.5 0a7.25 7.25 0 1 0 -14.5 0zM266.4 1289.3a7.25 7.25 0 1 0 14.5 0a7.25 7.25 0 1 0 -14.5 0zM267.4 1294.2a7.25 7.25 0 1 0 14.5 0a7.25 7.25 0 1 0 -14.5 0zM268.5 1295.4a7.25 7.25 0 1 0 14.5 0a7.25 7.25 0 1 0 -14.5 0zM269.5 1286.1a7.25 7.25 0 1 0 14.5 0a7.25 7.25 0 1 0 -14.5 0zM270.6 1286a7.25 7.25 0 1 0 14.5 0a7.25 7.25 0 1 0 -14.5 0zM271.6 1291.2a7.25 7.25 0 1 0 14.5 0a7.25 7.25 0 1 0 -14.5 0zM272.6 1288.2a7.25 7.25 0 1 0 14.5 0a7.25 7.25 0 1 0 -14.5 0zM273.7 1286.7a7.25 7.25 0 1 0 14.5 0a7.25 7.25 0 1 0 -14.5 0zM274.7 1288.6a7.25 7.25 0 1 0 14.5 0a7.25 7.25 0 1 0 -14.5 0zM275.8 1291.3a7.25 7.25 0 1 0 14.5 0a7.25 7.25 0 1 0 -14.5 0zM276.8 1289a7.25 7.25 0 1 0 14.5 0a7.25 7.25 0 1 0 -14.5 0zM277.9 1298.6a7.25 7.25 0 1 0 14.5 0a7.25 7.25 0 1 0 -14.5 0zM278.9 1295.6a7.25 7.25 0 1 0 14.5 0a7.25 7.25 0 1 0 -14.5 0zM279.9 1293.4a7.25 7.25 0 1 0 14.5 0a7.25 7.25 0 1 0 -14.5 0zM281 1298.9a7.25 7.25 0 1 0 14.5 0a7.25 7.25 0 1 0 -14.5 0zM282 1295.9a7.25 7.25 0 1 0 14.5 0a7.25 7.25 0 1 0 -14.5 0zM283.1 1298.3a7.25 7.25 0 1 0 14.5 0a7.25 7.25 0 1 0 -14.5 0zM284.1 1294.6a7.25 7.25 0 1 0 14.5 0a7.25 7.25 0 1 0 -14.5 0zM285.2 1294a7.25 7.25 0 1 0 14.5 0a7.25 7.25 0 1 0 -14.5 0zM286.2 1294.8a7.25 7.25 0 1 0 14.5 0a7.25 7.25 0 1 0 -14.5 0zM287.2 1285.4a7.25 7.25 0 1 0 14.5 0a7.25 7.25 0 1 0 -14.5 0zM288.3 1297a7.25 7.25 0 1 0 14.5 0a7.25 7.25 0 1 0 -14.5 0zM289.3 1291.3a7.25 7.25 0 1 0 14.5 0a7.25 7.25 0 1 0 -14.5 0zM290.4 1290.4a7.25 7.25 0 1 0 14.5 0a7.25 7.25 0 1 0 -14.5 0zM291.4 1288.6a7.25 7.25 0 1 0 14.5 0a7.25 7.25 0 1 0 -14.5 0zM292.4 1294.6a7.25 7.25 0 1 0 14.5 0a7.25 7.25 0 1 0 -14.5 0zM293.5 1284.1a7.25 7.25 0 1 0 14.5 0a7.25 7.25 0 1 0 -14.5 0zM294.5 1290.8a7.25 7.25 0 1 0 14.5 0a7.25 7.25 0 1 0 -14.5 0zM295.6 1288.4a7.25 7.25 0 1 0 14.5 0a7.25 7.25 0 1 0 -14.5 0zM296.6 1297.5a7.25 7.25 0 1 0 14.5 0a7.25 7.25 0 1 0 -14.5 0zM297.7 1293.3a7.25 7.25 0 1 0 14.5 0a7.25 7.25 0 1 0 -14.5 0zM298.7 1295.4a7.25 7.25 0 1 0 14.5 0a7.25 7.25 0 1 0 -14.5 0zM299.7 1286.6a7.25 7.25 0 1 0 14.5 0a7.25 7.25 0 1 0 -14.5 0zM300.8 1292.9a7.25 7.25 0 1 0 14.5 0a7.25 7.25 0 1 0 -14.5 0zM301.8 1295a7.25 7.25 0 1 0 14.5 0a7.25 7.25 0 1 0 -14.5 0zM302.9 1285.2a7.25 7.25 0 1 0 14.5 0a7.25 7.25 0 1 0 -14.5 0zM303.9 1296.8a7.25 7.25 0 1 0 14.5 0a7.25 7.25 0 1 0 -14.5 0zM304.9 1291.8a7.25 7.25 0 1 0 14.5 0a7.25 7.25 0 1 0 -14.5 0zM306 1284.7a7.25 7.25 0 1 0 14.5 0a7.25 7.25 0 1 0 -14.5 0zM307 1296.2a7.25 7.25 0 1 0 14.5 0a7.25 7.25 0 1 0 -14.5 0zM308.1 1295.6a7.25 7.25 0 1 0 14.5 0a7.25 7.25 0 1 0 -14.5 0zM309.1 1289.9a7.25 7.25 0 1 0 14.5 0a7.25 7.25 0 1 0 -14.5 0zM310.2 1291.3a7.25 7.25 0 1 0 14.5 0a7.25 7.25 0 1 0 -14.5 0zM311.2 1284.2a7.25 7.25 0 1 0 14.5 0a7.25 7.25 0 1 0 -14.5 0zM312.2 1284a7.25 7.25 0 1 0 14.5 0a7.25 7.25 0 1 0 -14.5 0zM313.3 1288.1a7.25 7.25 0 1 0 14.5 0a7.25 7.25 0 1 0 -14.5 0zM314.3 1297.4a7.25 7.25 0 1 0 14.5 0a7.25 7.25 0 1 0 -14.5 0zM315.4 1296a7.25 7.25 0 1 0 14.5 0a7.25 7.25 0 1 0 -14.5 0zM316.4 1289a7.25 7.25 0 1 0 14.5 0a7.25 7.25 0 1 0 -14.5 0zM317.5 1290.8a7.25 7.25 0 1 0 14.5 0a7.25 7.25 0 1 0 -14.5 0zM318.5 1285.4a7.25 7.25 0 1 0 14.5 0a7.25 7.25 0 1 0 -14.5 0zM319.5 1291.1a7.25 7.25 0 1 0 14.5 0a7.25 7.25 0 1 0 -14.5 0zM320.6 1283a7.25 7.25 0 1 0 14.5 0a7.25 7.25 0 1 0 -14.5 0zM321.6 1295a7.25 7.25 0 1 0 14.5 0a7.25 7.25 0 1 0 -14.5 0zM322.7 1284.1a7.25 7.25 0 1 0 14.5 0a7.25 7.25 0 1 0 -14.5 0zM323.7 1288.1a7.25 7.25 0 1 0 14.5 0a7.25 7.25 0 1 0 -14.5 0zM324.7 1286.4a7.25 7.25 0 1 0 14.5 0a7.25 7.25 0 1 0 -14.5 0zM325.8 1288.2a7.25 7.25 0 1 0 14.5 0a7.25 7.25 0 1 0 -14.5 0zM326.8 1287.9a7.25 7.25 0 1 0 14.5 0a7.25 7.25 0 1 0 -14.5 0zM327.9 1294.5a7.25 7.25 0 1 0 14.5 0a7.25 7.25 0 1 0 -14.5 0zM328.9 1294.9a7.25 7.25 0 1 0 14.5 0a7.25 7.25 0 1 0 -14.5 0zM330 1297a7.25 7.25 0 1 0 14.5 0a7.25 7.25 0 1 0 -14.5 0zM331 1295.5a7.25 7.25 0 1 0 14.5 0a7.25 7.25 0 1 0 -14.5 0zM332 1292.7a7.25 7.25 0 1 0 14.5 0a7.25 7.25 0 1 0 -14.5 0zM333.1 1293.9a7.25 7.25 0 1 0 14.5 0a7.25 7.25 0 1 0 -14.5 0zM334.1 1295.8a7.25 7.25 0 1 0 14.5 0a7.25 7.25 0 1 0 -14.5 0zM335.2 1291.2a7.25 7.25 0 1 0 14.5 0a7.25 7.25 0 1 0 -14.5 0zM336.2 1288.7a7.25 7.25 0 1 0 14.5 0a7.25 7.25 0 1 0 -14.5 0zM337.3 1288a7.25 7.25 0 1 0 14.5 0a7.25 7.25 0 1 0 -14.5 0zM338.3 1284.8a7.25 7.25 0 1 0 14.5 0a7.25 7.25 0 1 0 -14.5 0zM339.3 1294.6a7.25 7.25 0 1 0 14.5 0a7.25 7.25 0 1 0 -14.5 0zM340.4 1283.1a7.25 7.25 0 1 0 14.5 0a7.25 7.25 0 1 0 -14.5 0zM341.4 1289.1a7.25 7.25 0 1 0 14.5 0a7.25 7.25 0 1 0 -14.5 0zM342.5 1292.6a7.25 7.25 0 1 0 14.5 0a7.25 7.25 0 1 0 -14.5 0zM343.5 1288.7a7.25 7.25 0 1 0 14.5 0a7.25 7.25 0 1 0 -14.5 0zM344.5 1293.1a7.25 7.25 0 1 0 14.5 0a7.25 7.25 0 1 0 -14.5 0zM345.6 1288.5a7.25 7.25 0 1 0 14.5 0a7.25 7.25 0 1 0 -14.5 0zM346.6 1294.6a7.25 7.25 0 1 0 14.5 0a7.25 7.25 0 1 0 -14.5 0zM347.7 1290a7.25 7.25 0 1 0 14.5 0a7.25 7.25 0 1 0 -14.5 0zM348.7 1295.9a7.25 7.25 0 1 0 14.5 0a7.25 7.25 0 1 0 -14.5 0zM349.8 1286.6a7.25 7.25 0 1 0 14.5 0a7.25 7.25 0 1 0 -14.5 0zM350.8 1295.5a7.25 7.25 0 1 0 14.5 0a7.25 7.25 0 1 0 -14.5 0zM351.8 1285.4a7.25 7.25 0 1 0 14.5 0a7.25 7.25 0 1 0 -14.5 0zM352.9 1293.6a7.25 7.25 0 1 0 14.5 0a7.25 7.25 0 1 0 -14.5 0zM353.9 1293.2a7.25 7.25 0 1 0 14.5 0a7.25 7.25 0 1 0 -14.5 0zM355 1284.3a7.25 7.25 0 1 0 14.5 0a7.25 7.25 0 1 0 -14.5 0zM356 1296.1a7.25 7.25 0 1 0 14.5 0a7.25 7.25 0 1 0 -14.5 0zM357 1286.2a7.25 7.25 0 1 0 14.5 0a7.25 7.25 0 1 0 -14.5 0zM358.1 1287.8a7.25 7.25 0 1 0 14.5 0a7.25 7.25 0 1 0 -14.5 0zM359.1 1293a7.25 7.25 0 1 0 14.5 0a7.25 7.25 0 1 0 -14.5 0zM360.2 1296.2a7.25 7.25 0 1 0 14.5 0a7.25 7.25 0 1 0 -14.5 0zM361.2 1284.9a7.25 7.25 0 1 0 14.5 0a7.25 7.25 0 1 0 -14.5 0zM362.3 1289.1a7.25 7.25 0 1 0 14.5 0a7.25 7.25 0 1 0 -14.5 0zM363.3 1285.4a7.25 7.25 0 1 0 14.5 0a7.25 7.25 0 1 0 -14.5 0zM364.3 1291.9a7.25 7.25 0 1 0 14.5 0a7.25 7.25 0 1 0 -14.5 0zM365.4 1292.6a7.25 7.25 0 1 0 14.5 0a7.25 7.25 0 1 0 -14.5 0zM366.4 1288.2a7.25 7.25 0 1 0 14.5 0a7.25 7.25 0 1 0 -14.5 0zM367.5 1286.9a7.25 7.25 0 1 0 14.5 0a7.25 7.25 0 1 0 -14.5 0zM368.5 1293.6a7.25 7.25 0 1 0 14.5 0a7.25 7.25 0 1 0 -14.5 0zM369.6 1290.7a7.25 7.25 0 1 0 14.5 0a7.25 7.25 0 1 0 -14.5 0zM370.6 1291.6a7.25 7.25 0 1 0 14.5 0a7.25 7.25 0 1 0 -14.5 0zM371.6 1284.3a7.25 7.25 0 1 0 14.5 0a7.25 7.25 0 1 0 -14.5 0zM372.7 1295.5a7.25 7.25 0 1 0 14.5 0a7.25 7.25 0 1 0 -14.5 0zM373.7 1287.8a7.25 7.25 0 1 0 14.5 0a7.25 7.25 0 1 0 -14.5 0zM374.8 1290.8a7.25 7.25 0 1 0 14.5 0a7.25 7.25 0 1 0 -14.5 0zM375.8 1286.1a7.25 7.25 0 1 0 14.5 0a7.25 7.25 0 1 0 -14.5 0zM376.8 1294.7a7.25 7.25 0 1 0 14.5 0a7.25 7.25 0 1 0 -14.5 0zM377.9 1284.9a7.25 7.25 0 1 0 14.5 0a7.25 7.25 0 1 0 -14.5 0zM378.9 1285.6a7.25 7.25 0 1 0 14.5 0a7.25 7.25 0 1 0 -14.5 0zM380 1286a7.25 7.25 0 1 0 14.5 0a7.25 7.25 0 1 0 -14.5 0zM381 1287.4a7.25 7.25 0 1 0 14.5 0a7.25 7.25 0 1 0 -14.5 0zM382.1 1294.9a7.25 7.25 0 1 0 14.5 0a7.25 7.25 0 1 0 -14.5 0zM383.1 1293.7a7.25 7.25 0 1 0 14.5 0a7.25 7.25 0 1 0 -14.5 0zM384.1 1296.4a7.25 7.25 0 1 0 14.5 0a7.25 7.25 0 1 0 -14.5 0zM385.2 1289.4a7.25 7.25 0 1 0 14.5 0a7.25 7.25 0 1 0 -14.5 0zM386.2 1284.8a7.25 7.25 0 1 0 14.5 0a7.25 7.25 0 1 0 -14.5 0zM387.3 1295.9a7.25 7.25 0 1 0 14.5 0a7.25 7.25 0 1 0 -14.5 0zM388.3 1295.6a7.25 7.25 0 1 0 14.5 0a7.25 7.25 0 1 0 -14.5 0zM389.3 1290a7.25 7.25 0 1 0 14.5 0a7.25 7.25 0 1 0 -14.5 0zM390.4 1283.8a7.25 7.25 0 1 0 14.5 0a7.25 7.25 0 1 0 -14.5 0zM391.4 1288.7a7.25 7.25 0 1 0 14.5 0a7.25 7.25 0 1 0 -14.5 0zM392.5 1286.8a7.25 7.25 0 1 0 14.5 0a7.25 7.25 0 1 0 -14.5 0zM393.5 1289.9a7.25 7.25 0 1 0 14.5 0a7.25 7.25 0 1 0 -14.5 0zM394.6 1287a7.25 7.25 0 1 0 14.5 0a7.25 7.25 0 1 0 -14.5 0zM395.6 1289.9a7.25 7.25 0 1 0 14.5 0a7.25 7.25 0 1 0 -14.5 0zM396.6 1286.4a7.25 7.25 0 1 0 14.5 0a7.25 7.25 0 1 0 -14.5 0zM397.7 1294.2a7.25 7.25 0 1 0 14.5 0a7.25 7.25 0 1 0 -14.5 0zM398.7 1285.6a7.25 7.25 0 1 0 14.5 0a7.25 7.25 0 1 0 -14.5 0zM399.8 1287.4a7.25 7.25 0 1 0 14.5 0a7.25 7.25 0 1 0 -14.5 0zM400.8 1292.4a7.25 7.25 0 1 0 14.5 0a7.25 7.25 0 1 0 -14.5 0zM401.9 1293.8a7.25 7.25 0 1 0 14.5 0a7.25 7.25 0 1 0 -14.5 0zM402.9 1286a7.25 7.25 0 1 0 14.5 0a7.25 7.25 0 1 0 -14.5 0zM403.9 1292.6a7.25 7.25 0 1 0 14.5 0a7.25 7.25 0 1 0 -14.5 0zM405 1291.4a7.25 7.25 0 1 0 14.5 0a7.25 7.25 0 1 0 -14.5 0zM406 1286.3a7.25 7.25 0 1 0 14.5 0a7.25 7.25 0 1 0 -14.5 0zM407.1 1292.1a7.25 7.25 0 1 0 14.5 0a7.25 7.25 0 1 0 -14.5 0zM408.1 1289.6a7.25 7.25 0 1 0 14.5 0a7.25 7.25 0 1 0 -14.5 0zM409.1 1287.6a7.25 7.25 0 1 0 14.5 0a7.25 7.25 0 1 0 -14.5 0zM410.2 1292.9a7.25 7.25 0 1 0 14.5 0a7.25 7.25 0 1 0 -14.5 0zM411.2 1294.4a7.25 7.25 0 1 0 14.5 0a7.25 7.25 0 1 0 -14.5 0zM412.3 1286.7a7.25 7.25 0 1 0 14.5 0a7.25 7.25 0 1 0 -14.5 0zM413.3 1288.2a7.25 7.25 0 1 0 14.5 0a7.25 7.25 0 1 0 -14.5 0zM414.4 1291.8a7.25 7.25 0 1 0 14.5 0a7.25 7.25 0 1 0 -14.5 0zM415.4 1288.2a7.25 7.25 0 1 0 14.5 0a7.25 7.25 0 1 0 -14.5 0zM416.4 1288.4a7.25 7.25 0 1 0 14.5 0a7.25 7.25 0 1 0 -14.5 0zM417.5 1289.9a7.25 7.25 0 1 0 14.5 0a7.25 7.25 0 1 0 -14.5 0zM418.5 1286.6a7.25 7.25 0 1 0 14.5 0a7.25 7.25 0 1 0 -14.5 0zM419.6 1288.2a7.25 7.25 0 1 0 14.5 0a7.25 7.25 0 1 0 -14.5 0zM420.6 1286.9a7.25 7.25 0 1 0 14.5 0a7.25 7.25 0 1 0 -14.5 0zM421.7 1287.7a7.25 7.25 0 1 0 14.5 0a7.25 7.25 0 1 0 -14.5 0zM422.7 1296.8a7.25 7.25 0 1 0 14.5 0a7.25 7.25 0 1 0 -14.5 0zM423.7 1287.6a7.25 7.25 0 1 0 14.5 0a7.25 7.25 0 1 0 -14.5 0zM424.8 1295.5a7.25 7.25 0 1 0 14.5 0a7.25 7.25 0 1 0 -14.5 0zM425.8 1297.5a7.25 7.25 0 1 0 14.5 0a7.25 7.25 0 1 0 -14.5 0zM426.9 1297.2a7.25 7.25 0 1 0 14.5 0a7.25 7.25 0 1 0 -14.5 0zM427.9 1299.9a7.25 7.25 0 1 0 14.5 0a7.25 7.25 0 1 0 -14.5 0zM428.9 1296.9a7.25 7.25 0 1 0 14.5 0a7.25 7.25 0 1 0 -14.5 0zM430 1287.4a7.25 7.25 0 1 0 14.5 0a7.25 7.25 0 1 0 -14.5 0zM431 1289.7a7.25 7.25 0 1 0 14.5 0a7.25 7.25 0 1 0 -14.5 0zM432.1 1287.3a7.25 7.25 0 1 0 14.5 0a7.25 7.25 0 1 0 -14.5 0zM433.1 1292.7a7.25 7.25 0 1 0 14.5 0a7.25 7.25 0 1 0 -14.5 0zM434.2 1291.1a7.25 7.25 0 1 0 14.5 0a7.25 7.25 0 1 0 -14.5 0zM435.2 1289.5a7.25 7.25 0 1 0 14.5 0a7.25 7.25 0 1 0 -14.5 0zM436.2 1294.8a7.25 7.25 0 1 0 14.5 0a7.25 7.25 0 1 0 -14.5 0zM437.3 1297.9a7.25 7.25 0 1 0 14.5 0a7.25 7.25 0 1 0 -14.5 0zM438.3 1296.6a7.25 7.25 0 1 0 14.5 0a7.25 7.25 0 1 0 -14.5 0zM439.4 1294a7.25 7.25 0 1 0 14.5 0a7.25 7.25 0 1 0 -14.5 0zM440.4 1294.6a7.25 7.25 0 1 0 14.5 0a7.25 7.25 0 1 0 -14.5 0zM441.4 1287.3a7.25 7.25 0 1 0 14.5 0a7.25 7.25 0 1 0 -14.5 0zM442.5 1284.9a7.25 7.25 0 1 0 14.5 0a7.25 7.25 0 1 0 -14.5 0zM443.5 1296.2a7.25 7.25 0 1 0 14.5 0a7.25 7.25 0 1 0 -14.5 0zM444.6 1284.7a7.25 7.25 0 1 0 14.5 0a7.25 7.25 0 1 0 -14.5 0zM445.6 1286.2a7.25 7.25 0 1 0 14.5 0a7.25 7.25 0 1 0 -14.5 0zM446.7 1286.1a7.25 7.25 0 1 0 14.5 0a7.25 7.25 0 1 0 -14.5 0zM447.7 1292.6a7.25 7.25 0 1 0 14.5 0a7.25 7.25 0 1 0 -14.5 0zM448.7 1292.9a7.25 7.25 0 1 0 14.5 0a7.25 7.25 0 1 0 -14.5 0zM449.8 1293.6a7.25 7.25 0 1 0 14.5 0a7.25 7.25 0 1 0 -14.5 0zM450.8 1286.7a7.25 7.25 0 1 0 14.5 0a7.25 7.25 0 1 0 -14.5 0zM451.9 1299a7.25 7.25 0 1 0 14.5 0a7.25 7.25 0 1 0 -14.5 0zM452.9 1292.7a7.25 7.25 0 1 0 14.5 0a7.25 7.25 0 1 0 -14.5 0zM454 1285.4a7.25 7.25 0 1 0 14.5 0a7.25 7.25 0 1 0 -14.5 0zM455 1289.2a7.25 7.25 0 1 0 14.5 0a7.25 7.25 0 1 0 -14.5 0zM456 1288a7.25 7.25 0 1 0 14.5 0a7.25 7.25 0 1 0 -14.5 0zM457.1 1285.4a7.25 7.25 0 1 0 14.5 0a7.25 7.25 0 1 0 -14.5 0zM458.1 1295.3a7.25 7.25 0 1 0 14.5 0a7.25 7.25 0 1 0 -14.5 0zM459.2 1290.3a7.25 7.25 0 1 0 14.5 0a7.25 7.25 0 1 0 -14.5 0zM460.2 1296.9a7.25 7.25 0 1 0 14.5 0a7.25 7.25 0 1 0 -14.5 0zM461.2 1291.6a7.25 7.25 0 1 0 14.5 0a7.25 7.25 0 1 0 -14.5 0zM462.3 1294.9a7.25 7.25 0 1 0 14.5 0a7.25 7.25 0 1 0 -14.5 0zM463.3 1298.8a7.25 7.25 0 1 0 14.5 0a7.25 7.25 0 1 0 -14.5 0zM464.4 1286.3a7.25 7.25 0 1 0 14.5 0a7.25 7.25 0 1 0 -14.5 0zM465.4 1298.7a7.25 7.25 0 1 0 14.5 0a7.25 7.25 0 1 0 -14.5 0zM466.5 1295.4a7.25 7.25 0 1 0 14.5 0a7.25 7.25 0 1 0 -14.5 0zM467.5 1286.3a7.25 7.25 0 1 0 14.5 0a7.25 7.25 0 1 0 -14.5 0zM468.5 1285.2a7.25 7.25 0 1 0 14.5 0a7.25 7.25 0 1 0 -14.5 0zM469.6 1289.9a7.25 7.25 0 1 0 14.5 0a7.25 7.25 0 1 0 -14.5 0zM470.6 1294.3a7.25 7.25 0 1 0 14.5 0a7.25 7.25 0 1 0 -14.5 0zM471.7 1294.2a7.25 7.25 0 1 0 14.5 0a7.25 7.25 0 1 0 -14.5 0zM472.7 1295a7.25 7.25 0 1 0 14.5 0a7.25 7.25 0 1 0 -14.5 0zM473.8 1291a7.25 7.25 0 1 0 14.5 0a7.25 7.25 0 1 0 -14.5 0zM474.8 1291.2a7.25 7.25 0 1 0 14.5 0a7.25 7.25 0 1 0 -14.5 0zM475.8 1297.3a7.25 7.25 0 1 0 14.5 0a7.25 7.25 0 1 0 -14.5 0zM476.9 1292.8a7.25 7.25 0 1 0 14.5 0a7.25 7.25 0 1 0 -14.5 0zM477.9 1292.8a7.25 7.25 0 1 0 14.5 0a7.25 7.25 0 1 0 -14.5 0zM479 1299.6a7.25 7.25 0 1 0 14.5 0a7.25 7.25 0 1 0 -14.5 0zM480 1296.8a7.25 7.25 0 1 0 14.5 0a7.25 7.25 0 1 0 -14.5 0zM481 1293.8a7.25 7.25 0 1 0 14.5 0a7.25 7.25 0 1 0 -14.5 0zM482.1 1300.5a7.25 7.25 0 1 0 14.5 0a7.25 7.25 0 1 0 -14.5 0zM483.1 1296a7.25 7.25 0 1 0 14.5 0a7.25 7.25 0 1 0 -14.5 0zM484.2 1289.6a7.25 7.25 0 1 0 14.5 0a7.25 7.25 0 1 0 -14.5 0zM485.2 1296.3a7.25 7.25 0 1 0 14.5 0a7.25 7.25 0 1 0 -14.5 0zM486.3 1294.8a7.25 7.25 0 1 0 14.5 0a7.25 7.25 0 1 0 -14.5 0zM487.3 1289.3a7.25 7.25 0 1 0 14.5 0a7.25 7.25 0 1 0 -14.5 0zM488.3 1287.3a7.25 7.25 0 1 0 14.5 0a7.25 7.25 0 1 0 -14.5 0zM489.4 1287.1a7.25 7.25 0 1 0 14.5 0a7.25 7.25 0 1 0 -14.5 0zM490.4 1296.7a7.25 7.25 0 1 0 14.5 0a7.25 7.25 0 1 0 -14.5 0zM491.5 1297.2a7.25 7.25 0 1 0 14.5 0a7.25 7.25 0 1 0 -14.5 0zM492.5 1294.7a7.25 7.25 0 1 0 14.5 0a7.25 7.25 0 1 0 -14.5 0zM493.5 1295.2a7.25 7.25 0 1 0 14.5 0a7.25 7.25 0 1 0 -14.5 0zM494.6 1298.6a7.25 7.25 0 1 0 14.5 0a7.25 7.25 0 1 0 -14.5 0zM495.6 1293.6a7.25 7.25 0 1 0 14.5 0a7.25 7.25 0 1 0 -14.5 0zM496.7 1288.8a7.25 7.25 0 1 0 14.5 0a7.25 7.25 0 1 0 -14.5 0zM497.7 1298.6a7.25 7.25 0 1 0 14.5 0a7.25 7.25 0 1 0 -14.5 0zM498.8 1296.4a7.25 7.25 0 1 0 14.5 0a7.25 7.25 0 1 0 -14.5 0zM499.8 1291.6a7.25 7.25 0 1 0 14.5 0a7.25 7.25 0 1 0 -14.5 0zM500.8 1290.1a7.25 7.25 0 1 0 14.5 0a7.25 7.25 0 1 0 -14.5 0zM501.9 1288.9a7.25 7.25 0 1 0 14.5 0a7.25 7.25 0 1 0 -14.5 0zM502.9 1289.6a7.25 7.25 0 1 0 14.5 0a7.25 7.25 0 1 0 -14.5 0zM504 1293a7.25 7.25 0 1 0 14.5 0a7.25 7.25 0 1 0 -14.5 0zM505 1296.4a7.25 7.25 0 1 0 14.5 0a7.25 7.25 0 1 0 -14.5 0zM506.1 1300.5a7.25 7.25 0 1 0 14.5 0a7.25 7.25 0 1 0 -14.5 0zM507.1 1296.6a7.25 7.25 0 1 0 14.5 0a7.25 7.25 0 1 0 -14.5 0zM508.1 1293.6a7.25 7.25 0 1 0 14.5 0a7.25 7.25 0 1 0 -14.5 0zM509.2 1300.5a7.25 7.25 0 1 0 14.5 0a7.25 7.25 0 1 0 -14.5 0zM510.2 1297.6a7.25 7.25 0 1 0 14.5 0a7.25 7.25 0 1 0 -14.5 0zM511.3 1294.9a7.25 7.25 0 1 0 14.5 0a7.25 7.25 0 1 0 -14.5 0zM512.3 1298.3a7.25 7.25 0 1 0 14.5 0a7.25 7.25 0 1 0 -14.5 0zM513.3 1300a7.25 7.25 0 1 0 14.5 0a7.25 7.25 0 1 0 -14.5 0zM514.4 1300.7a7.25 7.25 0 1 0 14.5 0a7.25 7.25 0 1 0 -14.5 0zM515.4 1293.7a7.25 7.25 0 1 0 14.5 0a7.25 7.25 0 1 0 -14.5 0zM516.5 1298.8a7.25 7.25 0 1 0 14.5 0a7.25 7.25 0 1 0 -14.5 0zM517.5 1299.2a7.25 7.25 0 1 0 14.5 0a7.25 7.25 0 1 0 -14.5 0zM518.6 1296a7.25 7.25 0 1 0 14.5 0a7.25 7.25 0 1 0 -14.5 0zM519.6 1298.2a7.25 7.25 0 1 0 14.5 0a7.25 7.25 0 1 0 -14.5 0zM520.6 1300.1a7.25 7.25 0 1 0 14.5 0a7.25 7.25 0 1 0 -14.5 0zM521.7 1292.9a7.25 7.25 0 1 0 14.5 0a7.25 7.25 0 1 0 -14.5 0zM522.7 1292.7a7.25 7.25 0 1 0 14.5 0a7.25 7.25 0 1 0 -14.5 0zM523.8 1296.4a7.25 7.25 0 1 0 14.5 0a7.25 7.25 0 1 0 -14.5 0zM524.8 1289.1a7.25 7.25 0 1 0 14.5 0a7.25 7.25 0 1 0 -14.5 0zM525.9 1301.3a7.25 7.25 0 1 0 14.5 0a7.25 7.25 0 1 0 -14.5 0zM526.9 1298.2a7.25 7.25 0 1 0 14.5 0a7.25 7.25 0 1 0 -14.5 0zM527.9 1292.7a7.25 7.25 0 1 0 14.5 0a7.25 7.25 0 1 0 -14.5 0zM529 1290.3a7.25 7.25 0 1 0 14.5 0a7.25 7.25 0 1 0 -14.5 0zM530 1288.9a7.25 7.25 0 1 0 14.5 0a7.25 7.25 0 1 0 -14.5 0zM531.1 1299.4a7.25 7.25 0 1 0 14.5 0a7.25 7.25 0 1 0 -14.5 0zM532.1 1298.6a7.25 7.25 0 1 0 14.5 0a7.25 7.25 0 1 0 -14.5 0zM533.1 1296.5a7.25 7.25 0 1 0 14.5 0a7.25 7.25 0 1 0 -14.5 0zM534.2 1301.9a7.25 7.25 0 1 0 14.5 0a7.25 7.25 0 1 0 -14.5 0zM535.2 1301.5a7.25 7.25 0 1 0 14.5 0a7.25 7.25 0 1 0 -14.5 0zM536.3 1299.2a7.25 7.25 0 1 0 14.5 0a7.25 7.25 0 1 0 -14.5 0zM537.3 1292.7a7.25 7.25 0 1 0 14.5 0a7.25 7.25 0 1 0 -14.5 0zM538.4 1301.9a7.25 7.25 0 1 0 14.5 0a7.25 7.25 0 1 0 -14.5 0zM539.4 1291.9a7.25 7.25 0 1 0 14.5 0a7.25 7.25 0 1 0 -14.5 0zM540.4 1297.9a7.25 7.25 0 1 0 14.5 0a7.25 7.25 0 1 0 -14.5 0zM541.5 1301.8a7.25 7.25 0 1 0 14.5 0a7.25 7.25 0 1 0 -14.5 0zM542.5 1298.3a7.25 7.25 0 1 0 14.5 0a7.25 7.25 0 1 0 -14.5 0zM543.6 1296.4a7.25 7.25 0 1 0 14.5 0a7.25 7.25 0 1 0 -14.5 0zM544.6 1293.8a7.25 7.25 0 1 0 14.5 0a7.25 7.25 0 1 0 -14.5 0zM545.6 1295.2a7.25 7.25 0 1 0 14.5 0a7.25 7.25 0 1 0 -14.5 0zM546.7 1301.4a7.25 7.25 0 1 0 14.5 0a7.25 7.25 0 1 0 -14.5 0zM547.7 1301.4a7.25 7.25 0 1 0 14.5 0a7.25 7.25 0 1 0 -14.5 0zM548.8 1290.9a7.25 7.25 0 1 0 14.5 0a7.25 7.25 0 1 0 -14.5 0zM549.8 1297.5a7.25 7.25 0 1 0 14.5 0a7.25 7.25 0 1 0 -14.5 0zM550.9 1293a7.25 7.25 0 1 0 14.5 0a7.25 7.25 0 1 0 -14.5 0zM551.9 1299.8a7.25 7.25 0 1 0 14.5 0a7.25 7.25 0 1 0 -14.5 0zM552.9 1301.2a7.25 7.25 0 1 0 14.5 0a7.25 7.25 0 1 0 -14.5 0zM554 1299.9a7.25 7.25 0 1 0 14.5 0a7.25 7.25 0 1 0 -14.5 0zM555 1296.1a7.25 7.25 0 1 0 14.5 0a7.25 7.25 0 1 0 -14.5 0zM556.1 1298.2a7.25 7.25 0 1 0 14.5 0a7.25 7.25 0 1 0 -14.5 0zM557.1 1291.2a7.25 7.25 0 1 0 14.5 0a7.25 7.25 0 1 0 -14.5 0zM558.2 1288.8a7.25 7.25 0 1 0 14.5 0a7.25 7.25 0 1 0 -14.5 0zM559.2 1292.2a7.25 7.25 0 1 0 14.5 0a7.25 7.25 0 1 0 -14.5 0zM560.2 1293.2a7.25 7.25 0 1 0 14.5 0a7.25 7.25 0 1 0 -14.5 0zM561.3 1290.8a7.25 7.25 0 1 0 14.5 0a7.25 7.25 0 1 0 -14.5 0zM562.3 1291.1a7.25 7.25 0 1 0 14.5 0a7.25 7.25 0 1 0 -14.5 0zM563.4 1301.7a7.25 7.25 0 1 0 14.5 0a7.25 7.25 0 1 0 -14.5 0zM564.4 1298.1a7.25 7.25 0 1 0 14.5 0a7.25 7.25 0 1 0 -14.5 0zM565.4 1300.3a7.25 7.25 0 1 0 14.5 0a7.25 7.25 0 1 0 -14.5 0zM566.5 1293.7a7.25 7.25 0 1 0 14.5 0a7.25 7.25 0 1 0 -14.5 0zM567.5 1289.3a7.25 7.25 0 1 0 14.5 0a7.25 7.25 0 1 0 -14.5 0zM568.6 1302.7a7.25 7.25 0 1 0 14.5 0a7.25 7.25 0 1 0 -14.5 0zM569.6 1292.2a7.25 7.25 0 1 0 14.5 0a7.25 7.25 0 1 0 -14.5 0zM570.7 1297.4a7.25 7.25 0 1 0 14.5 0a7.25 7.25 0 1 0 -14.5 0zM571.7 1297.2a7.25 7.25 0 1 0 14.5 0a7.25 7.25 0 1 0 -14.5 0zM572.7 1300.5a7.25 7.25 0 1 0 14.5 0a7.25 7.25 0 1 0 -14.5 0zM573.8 1299.2a7.25 7.25 0 1 0 14.5 0a7.25 7.25 0 1 0 -14.5 0zM574.8 1290.3a7.25 7.25 0 1 0 14.5 0a7.25 7.25 0 1 0 -14.5 0zM575.9 1292a7.25 7.25 0 1 0 14.5 0a7.25 7.25 0 1 0 -14.5 0zM576.9 1303a7.25 7.25 0 1 0 14.5 0a7.25 7.25 0 1 0 -14.5 0zM578 1292.2a7.25 7.25 0 1 0 14.5 0a7.25 7.25 0 1 0 -14.5 0zM579 1299a7.25 7.25 0 1 0 14.5 0a7.25 7.25 0 1 0 -14.5 0zM580 1289.7a7.25 7.25 0 1 0 14.5 0a7.25 7.25 0 1 0 -14.5 0zM581.1 1299.7a7.25 7.25 0 1 0 14.5 0a7.25 7.25 0 1 0 -14.5 0zM582.1 1301.2a7.25 7.25 0 1 0 14.5 0a7.25 7.25 0 1 0 -14.5 0zM583.2 1302a7.25 7.25 0 1 0 14.5 0a7.25 7.25 0 1 0 -14.5 0zM584.2 1299.2a7.25 7.25 0 1 0 14.5 0a7.25 7.25 0 1 0 -14.5 0zM585.2 1300.8a7.25 7.25 0 1 0 14.5 0a7.25 7.25 0 1 0 -14.5 0zM586.3 1294.9a7.25 7.25 0 1 0 14.5 0a7.25 7.25 0 1 0 -14.5 0zM587.3 1290.2a7.25 7.25 0 1 0 14.5 0a7.25 7.25 0 1 0 -14.5 0zM588.4 1291.4a7.25 7.25 0 1 0 14.5 0a7.25 7.25 0 1 0 -14.5 0zM589.4 1292.8a7.25 7.25 0 1 0 14.5 0a7.25 7.25 0 1 0 -14.5 0zM590.5 1300.6a7.25 7.25 0 1 0 14.5 0a7.25 7.25 0 1 0 -14.5 0zM591.5 1296.6a7.25 7.25 0 1 0 14.5 0a7.25 7.25 0 1 0 -14.5 0zM592.5 1290.3a7.25 7.25 0 1 0 14.5 0a7.25 7.25 0 1 0 -14.5 0zM593.6 1297.2a7.25 7.25 0 1 0 14.5 0a7.25 7.25 0 1 0 -14.5 0zM594.6 1295.4a7.25 7.25 0 1 0 14.5 0a7.25 7.25 0 1 0 -14.5 0zM595.7 1301.3a7.25 7.25 0 1 0 14.5 0a7.25 7.25 0 1 0 -14.5 0zM596.7 1300.7a7.25 7.25 0 1 0 14.5 0a7.25 7.25 0 1 0 -14.5 0zM597.7 1296.2a7.25 7.25 0 1 0 14.5 0a7.25 7.25 0 1 0 -14.5 0zM598.8 1303.4a7.25 7.25 0 1 0 14.5 0a7.25 7.25 0 1 0 -14.5 0zM599.8 1295.2a7.25 7.25 0 1 0 14.5 0a7.25 7.25 0 1 0 -14.5 0zM600.9 1292.4a7.25 7.25 0 1 0 14.5 0a7.25 7.25 0 1 0 -14.5 0zM601.9 1292a7.25 7.25 0 1 0 14.5 0a7.25 7.25 0 1 0 -14.5 0zM603 1297.5a7.25 7.25 0 1 0 14.5 0a7.25 7.25 0 1 0 -14.5 0zM604 1294.6a7.25 7.25 0 1 0 14.5 0a7.25 7.25 0 1 0 -14.5 0zM605 1302a7.25 7.25 0 1 0 14.5 0a7.25 7.25 0 1 0 -14.5 0zM606.1 1298.1a7.25 7.25 0 1 0 14.5 0a7.25 7.25 0 1 0 -14.5 0zM607.1 1293.6a7.25 7.25 0 1 0 14.5 0a7.25 7.25 0 1 0 -14.5 0zM608.2 1303a7.25 7.25 0 1 0 14.5 0a7.25 7.25 0 1 0 -14.5 0zM609.2 1296.9a7.25 7.25 0 1 0 14.5 0a7.25 7.25 0 1 0 -14.5 0zM610.3 1288.7a7.25 7.25 0 1 0 14.5 0a7.25 7.25 0 1 0 -14.5 0zM611.3 1293.2a7.25 7.25 0 1 0 14.5 0a7.25 7.25 0 1 0 -14.5 0zM612.3 1295.2a7.25 7.25 0 1 0 14.5 0a7.25 7.25 0 1 0 -14.5 0zM613.4 1294.2a7.25 7.25 0 1 0 14.5 0a7.25 7.25 0 1 0 -14.5 0zM614.4 1288.9a7.25 7.25 0 1 0 14.5 0a7.25 7.25 0 1 0 -14.5 0zM615.5 1292.8a7.25 7.25 0 1 0 14.5 0a7.25 7.25 0 1 0 -14.5 0zM616.5 1296.7a7.25 7.25 0 1 0 14.5 0a7.25 7.25 0 1 0 -14.5 0zM617.5 1296.5a7.25 7.25 0 1 0 14.5 0a7.25 7.25 0 1 0 -14.5 0zM618.6 1300.9a7.25 7.25 0 1 0 14.5 0a7.25 7.25 0 1 0 -14.5 0zM619.6 1291.9a7.25 7.25 0 1 0 14.5 0a7.25 7.25 0 1 0 -14.5 0zM620.7 1290.2a7.25 7.25 0 1 0 14.5 0a7.25 7.25 0 1 0 -14.5 0zM621.7 1292.2a7.25 7.25 0 1 0 14.5 0a7.25 7.25 0 1 0 -14.5 0zM622.8 1293.9a7.25 7.25 0 1 0 14.5 0a7.25 7.25 0 1 0 -14.5 0zM623.8 1299.3a7.25 7.25 0 1 0 14.5 0a7.25 7.25 0 1 0 -14.5 0zM624.8 1295.3a7.25 7.25 0 1 0 14.5 0a7.25 7.25 0 1 0 -14.5 0zM625.9 1302.5a7.25 7.25 0 1 0 14.5 0a7.25 7.25 0 1 0 -14.5 0zM626.9 1297.4a7.25 7.25 0 1 0 14.5 0a7.25 7.25 0 1 0 -14.5 0zM628 1291.4a7.25 7.25 0 1 0 14.5 0a7.25 7.25 0 1 0 -14.5 0zM629 1296.6a7.25 7.25 0 1 0 14.5 0a7.25 7.25 0 1 0 -14.5 0zM630.1 1293.9a7.25 7.25 0 1 0 14.5 0a7.25 7.25 0 1 0 -14.5 0zM631.1 1298.7a7.25 7.25 0 1 0 14.5 0a7.25 7.25 0 1 0 -14.5 0zM632.1 1300.2a7.25 7.25 0 1 0 14.5 0a7.25 7.25 0 1 0 -14.5 0zM633.2 1302.3a7.25 7.25 0 1 0 14.5 0a7.25 7.25 0 1 0 -14.5 0zM634.2 1299.4a7.25 7.25 0 1 0 14.5 0a7.25 7.25 0 1 0 -14.5 0zM635.3 1294.5a7.25 7.25 0 1 0 14.5 0a7.25 7.25 0 1 0 -14.5 0zM636.3 1298.8a7.25 7.25 0 1 0 14.5 0a7.25 7.25 0 1 0 -14.5 0zM637.3 1303.4a7.25 7.25 0 1 0 14.5 0a7.25 7.25 0 1 0 -14.5 0zM638.4 1296.7a7.25 7.25 0 1 0 14.5 0a7.25 7.25 0 1 0 -14.5 0zM639.4 1300.4a7.25 7.25 0 1 0 14.5 0a7.25 7.25 0 1 0 -14.5 0zM640.5 1292.3a7.25 7.25 0 1 0 14.5 0a7.25 7.25 0 1 0 -14.5 0zM641.5 1293.4a7.25 7.25 0 1 0 14.5 0a7.25 7.25 0 1 0 -14.5 0zM642.6 1295.8a7.25 7.25 0 1 0 14.5 0a7.25 7.25 0 1 0 -14.5 0zM643.6 1296a7.25 7.25 0 1 0 14.5 0a7.25 7.25 0 1 0 -14.5 0zM644.6 1297.3a7.25 7.25 0 1 0 14.5 0a7.25 7.25 0 1 0 -14.5 0zM645.7 1296.3a7.25 7.25 0 1 0 14.5 0a7.25 7.25 0 1 0 -14.5 0zM646.7 1294.2a7.25 7.25 0 1 0 14.5 0a7.25 7.25 0 1 0 -14.5 0zM647.8 1291.2a7.25 7.25 0 1 0 14.5 0a7.25 7.25 0 1 0 -14.5 0zM648.8 1297.8a7.25 7.25 0 1 0 14.5 0a7.25 7.25 0 1 0 -14.5 0zM649.8 1297.3a7.25 7.25 0 1 0 14.5 0a7.25 7.25 0 1 0 -14.5 0zM650.9 1289.9a7.25 7.25 0 1 0 14.5 0a7.25 7.25 0 1 0 -14.5 0zM651.9 1300.9a7.25 7.25 0 1 0 14.5 0a7.25 7.25 0 1 0 -14.5 0zM653 1299.5a7.25 7.25 0 1 0 14.5 0a7.25 7.25 0 1 0 -14.5 0zM654 1301.2a7.25 7.25 0 1 0 14.5 0a7.25 7.25 0 1 0 -14.5 0zM655.1 1300.8a7.25 7.25 0 1 0 14.5 0a7.25 7.25 0 1 0 -14.5 0zM656.1 1293.7a7.25 7.25 0 1 0 14.5 0a7.25 7.25 0 1 0 -14.5 0zM657.1 1293.7a7.25 7.25 0 1 0 14.5 0a7.25 7.25 0 1 0 -14.5 0zM658.2 1295.2a7.25 7.25 0 1 0 14.5 0a7.25 7.25 0 1 0 -14.5 0zM659.2 1290.3a7.25 7.25 0 1 0 14.5 0a7.25 7.25 0 1 0 -14.5 0zM660.3 1296.6a7.25 7.25 0 1 0 14.5 0a7.25 7.25 0 1 0 -14.5 0zM661.3 1299.5a7.25 7.25 0 1 0 14.5 0a7.25 7.25 0 1 0 -14.5 0zM662.4 1299.3a7.25 7.25 0 1 0 14.5 0a7.25 7.25 0 1 0 -14.5 0zM663.4 1292a7.25 7.25 0 1 0 14.5 0a7.25 7.25 0 1 0 -14.5 0zM664.4 1295.2a7.25 7.25 0 1 0 14.5 0a7.25 7.25 0 1 0 -14.5 0zM665.5 1291.9a7.25 7.25 0 1 0 14.5 0a7.25 7.25 0 1 0 -14.5 0zM666.5 1292a7.25 7.25 0 1 0 14.5 0a7.25 7.25 0 1 0 -14.5 0zM667.6 1290.9a7.25 7.25 0 1 0 14.5 0a7.25 7.25 0 1 0 -14.5 0zM668.6 1300.5a7.25 7.25 0 1 0 14.5 0a7.25 7.25 0 1 0 -14.5 0zM669.6 1291.2a7.25 7.25 0 1 0 14.5 0a7.25 7.25 0 1 0 -14.5 0zM670.7 1293.3a7.25 7.25 0 1 0 14.5 0a7.25 7.25 0 1 0 -14.5 0zM671.7 1294.2a7.25 7.25 0 1 0 14.5 0a7.25 7.25 0 1 0 -14.5 0zM672.8 1294.5a7.25 7.25 0 1 0 14.5 0a7.25 7.25 0 1 0 -14.5 0zM673.8 1298a7.25 7.25 0 1 0 14.5 0a7.25 7.25 0 1 0 -14.5 0zM674.9 1295.9a7.25 7.25 0 1 0 14.5 0a7.25 7.25 0 1 0 -14.5 0zM675.9 1289.8a7.25 7.25 0 1 0 14.5 0a7.25 7.25 0 1 0 -14.5 0zM676.9 1291.2a7.25 7.25 0 1 0 14.5 0a7.25 7.25 0 1 0 -14.5 0zM678 1295.6a7.25 7.25 0 1 0 14.5 0a7.25 7.25 0 1 0 -14.5 0zM679 1293a7.25 7.25 0 1 0 14.5 0a7.25 7.25 0 1 0 -14.5 0zM680.1 1289.4a7.25 7.25 0 1 0 14.5 0a7.25 7.25 0 1 0 -14.5 0zM681.1 1298.6a7.25 7.25 0 1 0 14.5 0a7.25 7.25 0 1 0 -14.5 0zM682.1 1297.1a7.25 7.25 0 1 0 14.5 0a7.25 7.25 0 1 0 -14.5 0zM683.2 1291.3a7.25 7.25 0 1 0 14.5 0a7.25 7.25 0 1 0 -14.5 0zM684.2 1303.3a7.25 7.25 0 1 0 14.5 0a7.25 7.25 0 1 0 -14.5 0zM685.3 1301.5a7.25 7.25 0 1 0 14.5 0a7.25 7.25 0 1 0 -14.5 0zM686.3 1290.9a7.25 7.25 0 1 0 14.5 0a7.25 7.25 0 1 0 -14.5 0zM687.4 1300.6a7.25 7.25 0 1 0 14.5 0a7.25 7.25 0 1 0 -14.5 0zM688.4 1298.9a7.25 7.25 0 1 0 14.5 0a7.25 7.25 0 1 0 -14.5 0zM689.4 1291.2a7.25 7.25 0 1 0 14.5 0a7.25 7.25 0 1 0 -14.5 0zM690.5 1290a7.25 7.25 0 1 0 14.5 0a7.25 7.25 0 1 0 -14.5 0zM691.5 1303.5a7.25 7.25 0 1 0 14.5 0a7.25 7.25 0 1 0 -14.5 0zM692.6 1302.1a7.25 7.25 0 1 0 14.5 0a7.25 7.25 0 1 0 -14.5 0zM693.6 1294.7a7.25 7.25 0 1 0 14.5 0a7.25 7.25 0 1 0 -14.5 0zM694.7 1300.4a7.25 7.25 0 1 0 14.5 0a7.25 7.25 0 1 0 -14.5 0zM695.7 1302.6a7.25 7.25 0 1 0 14.5 0a7.25 7.25 0 1 0 -14.5 0zM696.7 1298.2a7.25 7.25 0 1 0 14.5 0a7.25 7.25 0 1 0 -14.5 0zM697.8 1298.2a7.25 7.25 0 1 0 14.5 0a7.25 7.25 0 1 0 -14.5 0zM698.8 1294.4a7.25 7.25 0 1 0 14.5 0a7.25 7.25 0 1 0 -14.5 0zM699.9 1299.6a7.25 7.25 0 1 0 14.5 0a7.25 7.25 0 1 0 -14.5 0zM700.9 1299.4a7.25 7.25 0 1 0 14.5 0a7.25 7.25 0 1 0 -14.5 0zM701.9 1292.7a7.25 7.25 0 1 0 14.5 0a7.25 7.25 0 1 0 -14.5 0zM703 1298.2a7.25 7.25 0 1 0 14.5 0a7.25 7.25 0 1 0 -14.5 0zM704 1301.5a7.25 7.25 0 1 0 14.5 0a7.25 7.25 0 1 0 -14.5 0zM705.1 1298.2a7.25 7.25 0 1 0 14.5 0a7.25 7.25 0 1 0 -14.5 0zM706.1 1302.6a7.25 7.25 0 1 0 14.5 0a7.25 7.25 0 1 0 -14.5 0zM707.2 1297.2a7.25 7.25 0 1 0 14.5 0a7.25 7.25 0 1 0 -14.5 0zM708.2 1292.9a7.25 7.25 0 1 0 14.5 0a7.25 7.25 0 1 0 -14.5 0zM709.2 1290.9a7.25 7.25 0 1 0 14.5 0a7.25 7.25 0 1 0 -14.5 0zM710.3 1301.3a7.25 7.25 0 1 0 14.5 0a7.25 7.25 0 1 0 -14.5 0zM711.3 1300a7.25 7.25 0 1 0 14.5 0a7.25 7.25 0 1 0 -14.5 0zM712.4 1297.3a7.25 7.25 0 1 0 14.5 0a7.25 7.25 0 1 0 -14.5 0zM713.4 1299.7a7.25 7.25 0 1 0 14.5 0a7.25 7.25 0 1 0 -14.5 0zM714.5 1304.3a7.25 7.25 0 1 0 14.5 0a7.25 7.25 0 1 0 -14.5 0zM715.5 1302.1a7.25 7.25 0 1 0 14.5 0a7.25 7.25 0 1 0 -14.5 0zM716.5 1293.3a7.25 7.25 0 1 0 14.5 0a7.25 7.25 0 1 0 -14.5 0zM717.6 1297a7.25 7.25 0 1 0 14.5 0a7.25 7.25 0 1 0 -14.5 0zM718.6 1299a7.25 7.25 0 1 0 14.5 0a7.25 7.25 0 1 0 -14.5 0zM719.7 1292.7a7.25 7.25 0 1 0 14.5 0a7.25 7.25 0 1 0 -14.5 0zM720.7 1300.9a7.25 7.25 0 1 0 14.5 0a7.25 7.25 0 1 0 -14.5 0zM721.7 1301.5a7.25 7.25 0 1 0 14.5 0a7.25 7.25 0 1 0 -14.5 0zM722.8 1300.5a7.25 7.25 0 1 0 14.5 0a7.25 7.25 0 1 0 -14.5 0zM723.8 1298a7.25 7.25 0 1 0 14.5 0a7.25 7.25 0 1 0 -14.5 0zM724.9 1296.1a7.25 7.25 0 1 0 14.5 0a7.25 7.25 0 1 0 -14.5 0zM725.9 1298.4a7.25 7.25 0 1 0 14.5 0a7.25 7.25 0 1 0 -14.5 0zM727 1299a7.25 7.25 0 1 0 14.5 0a7.25 7.25 0 1 0 -14.5 0zM728 1300.4a7.25 7.25 0 1 0 14.5 0a7.25 7.25 0 1 0 -14.5 0zM729 1290.9a7.25 7.25 0 1 0 14.5 0a7.25 7.25 0 1 0 -14.5 0zM730.1 1302.5a7.25 7.25 0 1 0 14.5 0a7.25 7.25 0 1 0 -14.5 0zM731.1 1298.6a7.25 7.25 0 1 0 14.5 0a7.25 7.25 0 1 0 -14.5 0zM732.2 1294.3a7.25 7.25 0 1 0 14.5 0a7.25 7.25 0 1 0 -14.5 0zM733.2 1297.1a7.25 7.25 0 1 0 14.5 0a7.25 7.25 0 1 0 -14.5 0zM734.2 1290.8a7.25 7.25 0 1 0 14.5 0a7.25 7.25 0 1 0 -14.5 0zM735.3 1297.2a7.25 7.25 0 1 0 14.5 0a7.25 7.25 0 1 0 -14.5 0zM736.3 1302.7a7.25 7.25 0 1 0 14.5 0a7.25 7.25 0 1 0 -14.5 0zM737.4 1302.4a7.25 7.25 0 1 0 14.5 0a7.25 7.25 0 1 0 -14.5 0zM738.4 1298.7a7.25 7.25 0 1 0 14.5 0a7.25 7.25 0 1 0 -14.5 0zM739.5 1300.4a7.25 7.25 0 1 0 14.5 0a7.25 7.25 0 1 0 -14.5 0zM740.5 1296.8a7.25 7.25 0 1 0 14.5 0a7.25 7.25 0 1 0 -14.5 0zM741.5 1303a7.25 7.25 0 1 0 14.5 0a7.25 7.25 0 1 0 -14.5 0zM742.6 1304.1a7.25 7.25 0 1 0 14.5 0a7.25 7.25 0 1 0 -14.5 0zM743.6 1290.7a7.25 7.25 0 1 0 14.5 0a7.25 7.25 0 1 0 -14.5 0zM744.7 1302.5a7.25 7.25 0 1 0 14.5 0a7.25 7.25 0 1 0 -14.5 0zM745.7 1291.5a7.25 7.25 0 1 0 14.5 0a7.25 7.25 0 1 0 -14.5 0zM746.8 1290.2a7.25 7.25 0 1 0 14.5 0a7.25 7.25 0 1 0 -14.5 0zM747.8 1302.9a7.25 7.25 0 1 0 14.5 0a7.25 7.25 0 1 0 -14.5 0zM748.8 1295a7.25 7.25 0 1 0 14.5 0a7.25 7.25 0 1 0 -14.5 0zM749.9 1290.8a7.25 7.25 0 1 0 14.5 0a7.25 7.25 0 1 0 -14.5 0zM750.9 1296.9a7.25 7.25 0 1 0 14.5 0a7.25 7.25 0 1 0 -14.5 0zM752 1302.9a7.25 7.25 0 1 0 14.5 0a7.25 7.25 0 1 0 -14.5 0zM753 1300.5a7.25 7.25 0 1 0 14.5 0a7.25 7.25 0 1 0 -14.5 0zM754 1300.2a7.25 7.25 0 1 0 14.5 0a7.25 7.25 0 1 0 -14.5 0zM755.1 1303.3a7.25 7.25 0 1 0 14.5 0a7.25 7.25 0 1 0 -14.5 0zM756.1 1291a7.25 7.25 0 1 0 14.5 0a7.25 7.25 0 1 0 -14.5 0zM757.2 1293.7a7.25 7.25 0 1 0 14.5 0a7.25 7.25 0 1 0 -14.5 0zM758.2 1297.8a7.25 7.25 0 1 0 14.5 0a7.25 7.25 0 1 0 -14.5 0zM759.3 1302.3a7.25 7.25 0 1 0 14.5 0a7.25 7.25 0 1 0 -14.5 0zM760.3 1291a7.25 7.25 0 1 0 14.5 0a7.25 7.25 0 1 0 -14.5 0zM761.3 1294.6a7.25 7.25 0 1 0 14.5 0a7.25 7.25 0 1 0 -14.5 0zM762.4 1301.1a7.25 7.25 0 1 0 14.5 0a7.25 7.25 0 1 0 -14.5 0zM763.4 1303.1a7.25 7.25 0 1 0 14.5 0a7.25 7.25 0 1 0 -14.5 0zM764.5 1291.1a7.25 7.25 0 1 0 14.5 0a7.25 7.25 0 1 0 -14.5 0zM765.5 1297.7a7.25 7.25 0 1 0 14.5 0a7.25 7.25 0 1 0 -14.5 0zM766.6 1295.2a7.25 7.25 0 1 0 14.5 0a7.25 7.25 0 1 0 -14.5 0zM767.6 1291.9a7.25 7.25 0 1 0 14.5 0a7.25 7.25 0 1 0 -14.5 0zM768.6 1294a7.25 7.25 0 1 0 14.5 0a7.25 7.25 0 1 0 -14.5 0zM769.7 1302.3a7.25 7.25 0 1 0 14.5 0a7.25 7.25 0 1 0 -14.5 0zM770.7 1303.4a7.25 7.25 0 1 0 14.5 0a7.25 7.25 0 1 0 -14.5 0zM771.8 1302.6a7.25 7.25 0 1 0 14.5 0a7.25 7.25 0 1 0 -14.5 0zM772.8 1292.3a7.25 7.25 0 1 0 14.5 0a7.25 7.25 0 1 0 -14.5 0zM773.8 1294.1a7.25 7.25 0 1 0 14.5 0a7.25 7.25 0 1 0 -14.5 0zM774.9 1294a7.25 7.25 0 1 0 14.5 0a7.25 7.25 0 1 0 -14.5 0zM775.9 1302.7a7.25 7.25 0 1 0 14.5 0a7.25 7.25 0 1 0 -14.5 0zM777 1303.2a7.25 7.25 0 1 0 14.5 0a7.25 7.25 0 1 0 -14.5 0zM778 1300.3a7.25 7.25 0 1 0 14.5 0a7.25 7.25 0 1 0 -14.5 0zM779.1 1300.1a7.25 7.25 0 1 0 14.5 0a7.25 7.25 0 1 0 -14.5 0zM780.1 1292.4a7.25 7.25 0 1 0 14.5 0a7.25 7.25 0 1 0 -14.5 0zM781.1 1290.5a7.25 7.25 0 1 0 14.5 0a7.25 7.25 0 1 0 -14.5 0zM782.2 1304.4a7.25 7.25 0 1 0 14.5 0a7.25 7.25 0 1 0 -14.5 0zM783.2 1292.3a7.25 7.25 0 1 0 14.5 0a7.25 7.25 0 1 0 -14.5 0zM784.3 1302a7.25 7.25 0 1 0 14.5 0a7.25 7.25 0 1 0 -14.5 0zM785.3 1292.6a7.25 7.25 0 1 0 14.5 0a7.25 7.25 0 1 0 -14.5 0zM786.3 1302a7.25 7.25 0 1 0 14.5 0a7.25 7.25 0 1 0 -14.5 0zM787.4 1292.1a7.25 7.25 0 1 0 14.5 0a7.25 7.25 0 1 0 -14.5 0zM788.4 1296.8a7.25 7.25 0 1 0 14.5 0a7.25 7.25 0 1 0 -14.5 0zM789.5 1297a7.25 7.25 0 1 0 14.5 0a7.25 7.25 0 1 0 -14.5 0zM790.5 1295.2a7.25 7.25 0 1 0 14.5 0a7.25 7.25 0 1 0 -14.5 0zM791.6 1301.6a7.25 7.25 0 1 0 14.5 0a7.25 7.25 0 1 0 -14.5 0zM792.6 1293.1a7.25 7.25 0 1 0 14.5 0a7.25 7.25 0 1 0 -14.5 0zM793.6 1292.9a7.25 7.25 0 1 0 14.5 0a7.25 7.25 0 1 0 -14.5 0zM794.7 1303.4a7.25 7.25 0 1 0 14.5 0a7.25 7.25 0 1 0 -14.5 0zM795.7 1301.9a7.25 7.25 0 1 0 14.5 0a7.25 7.25 0 1 0 -14.5 0zM796.8 1292.1a7.25 7.25 0 1 0 14.5 0a7.25 7.25 0 1 0 -14.5 0zM797.8 1299.5a7.25 7.25 0 1 0 14.5 0a7.25 7.25 0 1 0 -14.5 0zM798.9 1297a7.25 7.25 0 1 0 14.5 0a7.25 7.25 0 1 0 -14.5 0zM799.9 1297.9a7.25 7.25 0 1 0 14.5 0a7.25 7.25 0 1 0 -14.5 0zM800.9 1303.5a7.25 7.25 0 1 0 14.5 0a7.25 7.25 0 1 0 -14.5 0zM802 1293.4a7.25 7.25 0 1 0 14.5 0a7.25 7.25 0 1 0 -14.5 0zM803 1299.7a7.25 7.25 0 1 0 14.5 0a7.25 7.25 0 1 0 -14.5 0zM804.1 1294.2a7.25 7.25 0 1 0 14.5 0a7.25 7.25 0 1 0 -14.5 0zM805.1 1290.6a7.25 7.25 0 1 0 14.5 0a7.25 7.25 0 1 0 -14.5 0zM806.1 1292.7a7.25 7.25 0 1 0 14.5 0a7.25 7.25 0 1 0 -14.5 0zM807.2 1296.1a7.25 7.25 0 1 0 14.5 0a7.25 7.25 0 1 0 -14.5 0zM808.2 1298.8a7.25 7.25 0 1 0 14.5 0a7.25 7.25 0 1 0 -14.5 0zM809.3 1305.1a7.25 7.25 0 1 0 14.5 0a7.25 7.25 0 1 0 -14.5 0zM810.3 1291.8a7.25 7.25 0 1 0 14.5 0a7.25 7.25 0 1 0 -14.5 0zM811.4 1293.4a7.25 7.25 0 1 0 14.5 0a7.25 7.25 0 1 0 -14.5 0zM812.4 1301.8a7.25 7.25 0 1 0 14.5 0a7.25 7.25 0 1 0 -14.5 0zM813.4 1295.7a7.25 7.25 0 1 0 14.5 0a7.25 7.25 0 1 0 -14.5 0zM814.5 1289.5a7.25 7.25 0 1 0 14.5 0a7.25 7.25 0 1 0 -14.5 0zM815.5 1297.5a7.25 7.25 0 1 0 14.5 0a7.25 7.25 0 1 0 -14.5 0zM816.6 1292.1a7.25 7.25 0 1 0 14.5 0a7.25 7.25 0 1 0 -14.5 0zM817.6 1292.8a7.25 7.25 0 1 0 14.5 0a7.25 7.25 0 1 0 -14.5 0zM818.7 1302.9a7.25 7.25 0 1 0 14.5 0a7.25 7.25 0 1 0 -14.5 0zM819.7 1303.7a7.25 7.25 0 1 0 14.5 0a7.25 7.25 0 1 0 -14.5 0zM820.7 1300.4a7.25 7.25 0 1 0 14.5 0a7.25 7.25 0 1 0 -14.5 0zM821.8 1302.8a7.25 7.25 0 1 0 14.5 0a7.25 7.25 0 1 0 -14.5 0zM822.8 1294.3a7.25 7.25 0 1 0 14.5 0a7.25 7.25 0 1 0 -14.5 0zM823.9 1300.8a7.25 7.25 0 1 0 14.5 0a7.25 7.25 0 1 0 -14.5 0zM824.9 1302.5a7.25 7.25 0 1 0 14.5 0a7.25 7.25 0 1 0 -14.5 0zM825.9 1298.7a7.25 7.25 0 1 0 14.5 0a7.25 7.25 0 1 0 -14.5 0zM827 1300.8a7.25 7.25 0 1 0 14.5 0a7.25 7.25 0 1 0 -14.5 0zM828 1301.8a7.25 7.25 0 1 0 14.5 0a7.25 7.25 0 1 0 -14.5 0zM829.1 1296.1a7.25 7.25 0 1 0 14.5 0a7.25 7.25 0 1 0 -14.5 0zM830.1 1301a7.25 7.25 0 1 0 14.5 0a7.25 7.25 0 1 0 -14.5 0zM831.2 1302.7a7.25 7.25 0 1 0 14.5 0a7.25 7.25 0 1 0 -14.5 0zM832.2 1303.9a7.25 7.25 0 1 0 14.5 0a7.25 7.25 0 1 0 -14.5 0zM833.2 1303.7a7.25 7.25 0 1 0 14.5 0a7.25 7.25 0 1 0 -14.5 0zM834.3 1290.4a7.25 7.25 0 1 0 14.5 0a7.25 7.25 0 1 0 -14.5 0zM835.3 1300.9a7.25 7.25 0 1 0 14.5 0a7.25 7.25 0 1 0 -14.5 0zM836.4 1299.2a7.25 7.25 0 1 0 14.5 0a7.25 7.25 0 1 0 -14.5 0zM837.4 1291.5a7.25 7.25 0 1 0 14.5 0a7.25 7.25 0 1 0 -14.5 0zM838.4 1300.9a7.25 7.25 0 1 0 14.5 0a7.25 7.25 0 1 0 -14.5 0zM839.5 1298.6a7.25 7.25 0 1 0 14.5 0a7.25 7.25 0 1 0 -14.5 0zM840.5 1304.2a7.25 7.25 0 1 0 14.5 0a7.25 7.25 0 1 0 -14.5 0zM841.6 1292.7a7.25 7.25 0 1 0 14.5 0a7.25 7.25 0 1 0 -14.5 0zM842.6 1301.2a7.25 7.25 0 1 0 14.5 0a7.25 7.25 0 1 0 -14.5 0zM843.7 1302.3a7.25 7.25 0 1 0 14.5 0a7.25 7.25 0 1 0 -14.5 0zM844.7 1301.5a7.25 7.25 0 1 0 14.5 0a7.25 7.25 0 1 0 -14.5 0zM845.7 1292.7a7.25 7.25 0 1 0 14.5 0a7.25 7.25 0 1 0 -14.5 0zM846.8 1302.7a7.25 7.25 0 1 0 14.5 0a7.25 7.25 0 1 0 -14.5 0zM847.8 1291.6a7.25 7.25 0 1 0 14.5 0a7.25 7.25 0 1 0 -14.5 0zM848.9 1299.8a7.25 7.25 0 1 0 14.5 0a7.25 7.25 0 1 0 -14.5 0zM849.9 1293.3a7.25 7.25 0 1 0 14.5 0a7.25 7.25 0 1 0 -14.5 0zM851 1295.4a7.25 7.25 0 1 0 14.5 0a7.25 7.25 0 1 0 -14.5 0zM852 1293.3a7.25 7.25 0 1 0 14.5 0a7.25 7.25 0 1 0 -14.5 0zM853 1300.9a7.25 7.25 0 1 0 14.5 0a7.25 7.25 0 1 0 -14.5 0zM854.1 1293.8a7.25 7.25 0 1 0 14.5 0a7.25 7.25 0 1 0 -14.5 0zM855.1 1299.7a7.25 7.25 0 1 0 14.5 0a7.25 7.25 0 1 0 -14.5 0zM856.2 1292.1a7.25 7.25 0 1 0 14.5 0a7.25 7.25 0 1 0 -14.5 0zM857.2 1292.3a7.25 7.25 0 1 0 14.5 0a7.25 7.25 0 1 0 -14.5 0zM858.2 1297.3a7.25 7.25 0 1 0 14.5 0a7.25 7.25 0 1 0 -14.5 0zM859.3 1302.4a7.25 7.25 0 1 0 14.5 0a7.25 7.25 0 1 0 -14.5 0zM860.3 1298a7.25 7.25 0 1 0 14.5 0a7.25 7.25 0 1 0 -14.5 0zM861.4 1298.2a7.25 7.25 0 1 0 14.5 0a7.25 7.25 0 1 0 -14.5 0zM862.4 1303.7a7.25 7.25 0 1 0 14.5 0a7.25 7.25 0 1 0 -14.5 0zM863.5 1290.1a7.25 7.25 0 1 0 14.5 0a7.25 7.25 0 1 0 -14.5 0zM864.5 1298.4a7.25 7.25 0 1 0 14.5 0a7.25 7.25 0 1 0 -14.5 0zM865.5 1292.5a7.25 7.25 0 1 0 14.5 0a7.25 7.25 0 1 0 -14.5 0zM866.6 1294.9a7.25 7.25 0 1 0 14.5 0a7.25 7.25 0 1 0 -14.5 0zM867.6 1292.6a7.25 7.25 0 1 0 14.5 0a7.25 7.25 0 1 0 -14.5 0zM868.7 1303.7a7.25 7.25 0 1 0 14.5 0a7.25 7.25 0 1 0 -14.5 0zM869.7 1295.6a7.25 7.25 0 1 0 14.5 0a7.25 7.25 0 1 0 -14.5 0zM870.8 1293.9a7.25 7.25 0 1 0 14.5 0a7.25 7.25 0 1 0 -14.5 0zM871.8 1301.7a7.25 7.25 0 1 0 14.5 0a7.25 7.25 0 1 0 -14.5 0zM872.8 1302.3a7.25 7.25 0 1 0 14.5 0a7.25 7.25 0 1 0 -14.5 0zM873.9 1302.2a7.25 7.25 0 1 0 14.5 0a7.25 7.25 0 1 0 -14.5 0zM874.9 1294.2a7.25 7.25 0 1 0 14.5 0a7.25 7.25 0 1 0 -14.5 0zM876 1293.2a7.25 7.25 0 1 0 14.5 0a7.25 7.25 0 1 0 -14.5 0zM877 1300.1a7.25 7.25 0 1 0 14.5 0a7.25 7.25 0 1 0 -14.5 0zM878 1302.2a7.25 7.25 0 1 0 14.5 0a7.25 7.25 0 1 0 -14.5 0zM879.1 1291.9a7.25 7.25 0 1 0 14.5 0a7.25 7.25 0 1 0 -14.5 0zM880.1 1302.4a7.25 7.25 0 1 0 14.5 0a7.25 7.25 0 1 0 -14.5 0zM881.2 1291.5a7.25 7.25 0 1 0 14.5 0a7.25 7.25 0 1 0 -14.5 0zM882.2 1304.3a7.25 7.25 0 1 0 14.5 0a7.25 7.25 0 1 0 -14.5 0zM883.3 1289.4a7.25 7.25 0 1 0 14.5 0a7.25 7.25 0 1 0 -14.5 0zM884.3 1295.6a7.25 7.25 0 1 0 14.5 0a7.25 7.25 0 1 0 -14.5 0zM885.3 1296.4a7.25 7.25 0 1 0 14.5 0a7.25 7.25 0 1 0 -14.5 0zM886.4 1295a7.25 7.25 0 1 0 14.5 0a7.25 7.25 0 1 0 -14.5 0zM887.4 1302a7.25 7.25 0 1 0 14.5 0a7.25 7.25 0 1 0 -14.5 0zM888.5 1300.8a7.25 7.25 0 1 0 14.5 0a7.25 7.25 0 1 0 -14.5 0zM889.5 1291.7a7.25 7.25 0 1 0 14.5 0a7.25 7.25 0 1 0 -14.5 0zM890.5 1295.9a7.25 7.25 0 1 0 14.5 0a7.25 7.25 0 1 0 -14.5 0zM891.6 1290.9a7.25 7.25 0 1 0 14.5 0a7.25 7.25 0 1 0 -14.5 0zM892.6 1290.9a7.25 7.25 0 1 0 14.5 0a7.25 7.25 0 1 0 -14.5 0zM893.7 1293a7.25 7.25 0 1 0 14.5 0a7.25 7.25 0 1 0 -14.5 0zM894.7 1292.2a7.25 7.25 0 1 0 14.5 0a7.25 7.25 0 1 0 -14.5 0zM895.8 1293.3a7.25 7.25 0 1 0 14.5 0a7.25 7.25 0 1 0 -14.5 0zM896.8 1293.9a7.25 7.25 0 1 0 14.5 0a7.25 7.25 0 1 0 -14.5 0zM897.8 1292.3a7.25 7.25 0 1 0 14.5 0a7.25 7.25 0 1 0 -14.5 0zM898.9 1293.8a7.25 7.25 0 1 0 14.5 0a7.25 7.25 0 1 0 -14.5 0zM899.9 1293.7a7.25 7.25 0 1 0 14.5 0a7.25 7.25 0 1 0 -14.5 0zM901 1301a7.25 7.25 0 1 0 14.5 0a7.25 7.25 0 1 0 -14.5 0zM902 1300.1a7.25 7.25 0 1 0 14.5 0a7.25 7.25 0 1 0 -14.5 0zM903.1 1296.3a7.25 7.25 0 1 0 14.5 0a7.25 7.25 0 1 0 -14.5 0zM904.1 1295.8a7.25 7.25 0 1 0 14.5 0a7.25 7.25 0 1 0 -14.5 0zM905.1 1300.8a7.25 7.25 0 1 0 14.5 0a7.25 7.25 0 1 0 -14.5 0zM906.2 1302.3a7.25 7.25 0 1 0 14.5 0a7.25 7.25 0 1 0 -14.5 0zM907.2 1295.9a7.25 7.25 0 1 0 14.5 0a7.25 7.25 0 1 0 -14.5 0zM908.3 1301.3a7.25 7.25 0 1 0 14.5 0a7.25 7.25 0 1 0 -14.5 0zM909.3 1303.5a7.25 7.25 0 1 0 14.5 0a7.25 7.25 0 1 0 -14.5 0zM910.3 1304.3a7.25 7.25 0 1 0 14.5 0a7.25 7.25 0 1 0 -14.5 0zM911.4 1303.6a7.25 7.25 0 1 0 14.5 0a7.25 7.25 0 1 0 -14.5 0zM912.4 1298.4a7.25 7.25 0 1 0 14.5 0a7.25 7.25 0 1 0 -14.5 0zM913.5 1303.4a7.25 7.25 0 1 0 14.5 0a7.25 7.25 0 1 0 -14.5 0zM914.5 1293.6a7.25 7.25 0 1 0 14.5 0a7.25 7.25 0 1 0 -14.5 0zM915.6 1294a7.25 7.25 0 1 0 14.5 0a7.25 7.25 0 1 0 -14.5 0zM916.6 1298.4a7.25 7.25 0 1 0 14.5 0a7.25 7.25 0 1 0 -14.5 0zM917.6 1294.9a7.25 7.25 0 1 0 14.5 0a7.25 7.25 0 1 0 -14.5 0zM918.7 1303.8a7.25 7.25 0 1 0 14.5 0a7.25 7.25 0 1 0 -14.5 0zM919.7 1300.9a7.25 7.25 0 1 0 14.5 0a7.25 7.25 0 1 0 -14.5 0zM920.8 1302.6a7.25 7.25 0 1 0 14.5 0a7.25 7.25 0 1 0 -14.5 0zM921.8 1294.1a7.25 7.25 0 1 0 14.5 0a7.25 7.25 0 1 0 -14.5 0zM922.9 1301.7a7.25 7.25 0 1 0 14.5 0a7.25 7.25 0 1 0 -14.5 0zM923.9 1293.6a7.25 7.25 0 1 0 14.5 0a7.25 7.25 0 1 0 -14.5 0zM924.9 1303.8a7.25 7.25 0 1 0 14.5 0a7.25 7.25 0 1 0 -14.5 0zM926 1300.9a7.25 7.25 0 1 0 14.5 0a7.25 7.25 0 1 0 -14.5 0zM927 1295.9a7.25 7.25 0 1 0 14.5 0a7.25 7.25 0 1 0 -14.5 0zM928.1 1294.6a7.25 7.25 0 1 0 14.5 0a7.25 7.25 0 1 0 -14.5 0zM929.1 1301a7.25 7.25 0 1 0 14.5 0a7.25 7.25 0 1 0 -14.5 0zM930.1 1293.8a7.25 7.25 0 1 0 14.5 0a7.25 7.25 0 1 0 -14.5 0zM931.2 1302.2a7.25 7.25 0 1 0 14.5 0a7.25 7.25 0 1 0 -14.5 0zM932.2 1298a7.25 7.25 0 1 0 14.5 0a7.25 7.25 0 1 0 -14.5 0zM933.3 1299a7.25 7.25 0 1 0 14.5 0a7.25 7.25 0 1 0 -14.5 0z" stroke="#5B9BD5"/><path d="M168.8 965.4l7.0 13.8h-14zM170.3 1028.6l7.0 13.8h-14zM171.7 1062.5l7.0 13.8h-14zM173.2 1117.5l7.0 13.8h-14zM174.6 1166.1l7.0 13.8h-14zM176 1186.2l7.0 13.8h-14zM177.5 1206.2l7.0 13.8h-14zM178.9 1236.8l7.0 13.8h-14zM180.4 1258.8l7.0 13.8h-14zM181.8 1296l7.0 13.8h-14zM183.2 1306.9l7.0 13.8h-14zM184.7 1309.2l7.0 13.8h-14zM186.1 1311.6l7.0 13.8h-14zM187.6 1322l7.0 13.8h-14zM189 1319.2l7.0 13.8h-14zM190.4 1323.6l7.0 13.8h-14zM191.9 1330.8l7.0 13.8h-14zM193.3 1334.5l7.0 13.8h-14zM194.8 1326.5l7.0 13.8h-14zM196.2 1336.6l7.0 13.8h-14zM197.6 1337.4l7.0 13.8h-14zM199.1 1335.1l7.0 13.8h-14zM200.5 1338.6l7.0 13.8h-14zM201.9 1347.8l7.0 13.8h-14zM203.4 1345.1l7.0 13.8h-14zM204.8 1344.6l7.0 13.8h-14zM206.3 1342.7l7.0 13.8h-14zM207.7 1348.4l7.0 13.8h-14zM209.1 1352l7.0 13.8h-14zM210.6 1354.7l7.0 13.8h-14zM211.9 1349.1l7.0 13.8h-14zM212.9 1357.7l7.0 13.8h-14zM214 1350.2l7.0 13.8h-14zM215 1353.8l7.0 13.8h-14zM216 1354.4l7.0 13.8h-14zM217.1 1356.8l7.0 13.8h-14zM218.1 1358.9l7.0 13.8h-14zM219.2 1360l7.0 13.8h-14zM220.2 1354.6l7.0 13.8h-14zM221.2 1358.3l7.0 13.8h-14zM222.3 1362.5l7.0 13.8h-14zM223.3 1361.3l7.0 13.8h-14zM224.4 1351.7l7.0 13.8h-14zM225.4 1353.5l7.0 13.8h-14zM226.5 1358.3l7.0 13.8h-14zM227.5 1358.8l7.0 13.8h-14zM228.5 1353.8l7.0 13.8h-14zM229.6 1361.6l7.0 13.8h-14zM230.6 1355.3l7.0 13.8h-14zM231.7 1364.4l7.0 13.8h-14zM232.7 1353.4l7.0 13.8h-14zM233.8 1351.5l7.0 13.8h-14zM234.8 1354.6l7.0 13.8h-14zM235.8 1364.6l7.0 13.8h-14zM236.9 1355.2l7.0 13.8h-14zM237.9 1360l7.0 13.8h-14zM239 1350.7l7.0 13.8h-14zM240 1361.8l7.0 13.8h-14zM241 1361.5l7.0 13.8h-14zM242.1 1360.5l7.0 13.8h-14zM243.1 1356.1l7.0 13.8h-14zM244.2 1349.6l7.0 13.8h-14zM245.2 1353.9l7.0 13.8h-14zM246.3 1352.6l7.0 13.8h-14zM247.3 1358.9l7.0 13.8h-14zM248.3 1355.5l7.0 13.8h-14zM249.4 1354.1l7.0 13.8h-14zM250.4 1350l7.0 13.8h-14zM251.5 1348l7.0 13.8h-14zM252.5 1349.3l7.0 13.8h-14zM253.5 1354.6l7.0 13.8h-14zM254.6 1353.2l7.0 13.8h-14zM255.6 1349.2l7.0 13.8h-14zM256.7 1352.3l7.0 13.8h-14zM257.7 1345.1l7.0 13.8h-14zM258.8 1342.6l7.0 13.8h-14zM259.8 1342.1l7.0 13.8h-14zM260.8 1350.1l7.0 13.8h-14zM261.9 1342.5l7.0 13.8h-14zM262.9 1352.9l7.0 13.8h-14zM264 1349.4l7.0 13.8h-14zM265 1341l7.0 13.8h-14zM266.1 1345.3l7.0 13.8h-14zM267.1 1339l7.0 13.8h-14zM268.1 1339.2l7.0 13.8h-14zM269.2 1339l7.0 13.8h-14zM270.2 1341.3l7.0 13.8h-14zM271.3 1335.4l7.0 13.8h-14zM272.3 1335.2l7.0 13.8h-14zM273.3 1345.4l7.0 13.8h-14zM274.4 1333l7.0 13.8h-14zM275.4 1341.1l7.0 13.8h-14zM276.5 1341.4l7.0 13.8h-14zM277.5 1333.6l7.0 13.8h-14zM278.6 1331.7l7.0 13.8h-14zM279.6 1331.9l7.0 13.8h-14zM280.6 1333.4l7.0 13.8h-14zM281.7 1341.9l7.0 13.8h-14zM282.7 1338.8l7.0 13.8h-14zM283.8 1329.3l7.0 13.8h-14zM284.8 1327.5l7.0 13.8h-14zM285.9 1337.1l7.0 13.8h-14zM286.9 1327.7l7.0 13.8h-14zM287.9 1337.2l7.0 13.8h-14zM289 1327.8l7.0 13.8h-14zM290 1334.8l7.0 13.8h-14zM291.1 1335.3l7.0 13.8h-14zM292.1 1333.3l7.0 13.8h-14zM293.1 1329l7.0 13.8h-14zM294.2 1329.9l7.0 13.8h-14zM295.2 1326.8l7.0 13.8h-14zM296.3 1329.6l7.0 13.8h-14zM297.3 1327.9l7.0 13.8h-14zM298.4 1329l7.0 13.8h-14zM299.4 1321.8l7.0 13.8h-14zM300.4 1333.3l7.0 13.8h-14zM301.5 1323.5l7.0 13.8h-14zM302.5 1324.7l7.0 13.8h-14zM303.6 1331.8l7.0 13.8h-14zM304.6 1320.7l7.0 13.8h-14zM305.6 1322.9l7.0 13.8h-14zM306.7 1318.1l7.0 13.8h-14zM307.7 1328.6l7.0 13.8h-14zM308.8 1325.6l7.0 13.8h-14zM309.8 1318.5l7.0 13.8h-14zM310.9 1316.2l7.0 13.8h-14zM311.9 1319.1l7.0 13.8h-14zM312.9 1324.3l7.0 13.8h-14zM314 1318.2l7.0 13.8h-14zM315 1322.9l7.0 13.8h-14zM316.1 1320.8l7.0 13.8h-14zM317.1 1318.5l7.0 13.8h-14zM318.2 1314.6l7.0 13.8h-14zM319.2 1326.8l7.0 13.8h-14zM320.2 1316.7l7.0 13.8h-14zM321.3 1312.6l7.0 13.8h-14zM322.3 1320.1l7.0 13.8h-14zM323.4 1321.8l7.0 13.8h-14zM324.4 1318.3l7.0 13.8h-14zM325.4 1325l7.0 13.8h-14zM326.5 1313.3l7.0 13.8h-14zM327.5 1317.2l7.0 13.8h-14zM328.6 1313.8l7.0 13.8h-14zM329.6 1313.9l7.0 13.8h-14zM330.7 1322.3l7.0 13.8h-14zM331.7 1319.5l7.0 13.8h-14zM332.7 1316.4l7.0 13.8h-14zM333.8 1313.7l7.0 13.8h-14zM334.8 1315.7l7.0 13.8h-14zM335.9 1316.8l7.0 13.8h-14zM336.9 1319.3l7.0 13.8h-14zM338 1315.4l7.0 13.8h-14zM339 1307l7.0 13.8h-14zM340 1317.1l7.0 13.8h-14zM341.1 1309.9l7.0 13.8h-14zM342.1 1315.7l7.0 13.8h-14zM343.2 1304.5l7.0 13.8h-14zM344.2 1307.1l7.0 13.8h-14zM345.2 1312.6l7.0 13.8h-14zM346.3 1301.9l7.0 13.8h-14zM347.3 1311.1l7.0 13.8h-14zM348.4 1305.3l7.0 13.8h-14zM349.4 1311.5l7.0 13.8h-14zM350.5 1310.2l7.0 13.8h-14zM351.5 1313.7l7.0 13.8h-14zM352.5 1309.6l7.0 13.8h-14zM353.6 1309l7.0 13.8h-14zM354.6 1314.1l7.0 13.8h-14zM355.7 1314.5l7.0 13.8h-14zM356.7 1314.3l7.0 13.8h-14zM357.7 1303l7.0 13.8h-14zM358.8 1306.8l7.0 13.8h-14zM359.8 1299.6l7.0 13.8h-14zM360.9 1306.1l7.0 13.8h-14zM361.9 1304.6l7.0 13.8h-14zM363 1307.6l7.0 13.8h-14zM364 1301.6l7.0 13.8h-14zM365 1309l7.0 13.8h-14zM366.1 1301.4l7.0 13.8h-14zM367.1 1308.4l7.0 13.8h-14zM368.2 1311l7.0 13.8h-14zM369.2 1306.5l7.0 13.8h-14zM370.3 1311.8l7.0 13.8h-14zM371.3 1307.3l7.0 13.8h-14zM372.3 1305.3l7.0 13.8h-14zM373.4 1301l7.0 13.8h-14zM374.4 1298.1l7.0 13.8h-14zM375.5 1310.2l7.0 13.8h-14zM376.5 1303.2l7.0 13.8h-14zM377.5 1298.7l7.0 13.8h-14zM378.6 1303.1l7.0 13.8h-14zM379.6 1307l7.0 13.8h-14zM380.7 1305.1l7.0 13.8h-14zM381.7 1298.1l7.0 13.8h-14zM382.8 1302.5l7.0 13.8h-14zM383.8 1301.1l7.0 13.8h-14zM384.8 1306.4l7.0 13.8h-14zM385.9 1298.3l7.0 13.8h-14zM386.9 1303.8l7.0 13.8h-14zM388 1297.9l7.0 13.8h-14zM389 1306.9l7.0 13.8h-14zM390.1 1307.4l7.0 13.8h-14zM391.1 1306.1l7.0 13.8h-14zM392.1 1298.8l7.0 13.8h-14zM393.2 1307.6l7.0 13.8h-14zM394.2 1305.5l7.0 13.8h-14zM395.3 1302.1l7.0 13.8h-14zM396.3 1305.4l7.0 13.8h-14zM397.3 1305.7l7.0 13.8h-14zM398.4 1306.4l7.0 13.8h-14zM399.4 1302.7l7.0 13.8h-14zM400.5 1299.1l7.0 13.8h-14zM401.5 1304.5l7.0 13.8h-14zM402.6 1301.4l7.0 13.8h-14zM403.6 1295.1l7.0 13.8h-14zM404.6 1303.4l7.0 13.8h-14zM405.7 1304.4l7.0 13.8h-14zM406.7 1297.8l7.0 13.8h-14zM407.8 1294.9l7.0 13.8h-14zM408.8 1297.6l7.0 13.8h-14zM409.8 1304.9l7.0 13.8h-14zM410.9 1301l7.0 13.8h-14zM411.9 1304l7.0 13.8h-14zM413 1294.1l7.0 13.8h-14zM414 1306.6l7.0 13.8h-14zM415.1 1294l7.0 13.8h-14zM416.1 1303.9l7.0 13.8h-14zM417.1 1304.2l7.0 13.8h-14zM418.2 1296l7.0 13.8h-14zM419.2 1295.1l7.0 13.8h-14zM420.3 1305.8l7.0 13.8h-14zM421.3 1301.7l7.0 13.8h-14zM422.4 1304.6l7.0 13.8h-14zM423.4 1294.5l7.0 13.8h-14zM424.4 1293.3l7.0 13.8h-14zM425.5 1301.5l7.0 13.8h-14zM426.5 1299.1l7.0 13.8h-14zM427.6 1304.6l7.0 13.8h-14zM428.6 1303.9l7.0 13.8h-14zM429.6 1304.6l7.0 13.8h-14zM430.7 1294.5l7.0 13.8h-14zM431.7 1301.6l7.0 13.8h-14zM432.8 1297.3l7.0 13.8h-14zM433.8 1300.5l7.0 13.8h-14zM434.9 1296.2l7.0 13.8h-14zM435.9 1296.3l7.0 13.8h-14zM436.9 1297.5l7.0 13.8h-14zM438 1299.9l7.0 13.8h-14zM439 1290.3l7.0 13.8h-14zM440.1 1290l7.0 13.8h-14zM441.1 1297.7l7.0 13.8h-14zM442.1 1296.6l7.0 13.8h-14zM443.2 1296l7.0 13.8h-14zM444.2 1294.5l7.0 13.8h-14zM445.3 1291l7.0 13.8h-14zM446.3 1298.1l7.0 13.8h-14zM447.4 1299.3l7.0 13.8h-14zM448.4 1290.7l7.0 13.8h-14zM449.4 1293.6l7.0 13.8h-14zM450.5 1300.3l7.0 13.8h-14zM451.5 1295.3l7.0 13.8h-14zM452.6 1291l7.0 13.8h-14zM453.6 1294.7l7.0 13.8h-14zM454.7 1297.6l7.0 13.8h-14zM455.7 1296.2l7.0 13.8h-14zM456.7 1291.5l7.0 13.8h-14zM457.8 1293.5l7.0 13.8h-14zM458.8 1300.1l7.0 13.8h-14zM459.9 1296.7l7.0 13.8h-14zM460.9 1292.7l7.0 13.8h-14zM461.9 1301l7.0 13.8h-14zM463 1296.4l7.0 13.8h-14zM464 1293.3l7.0 13.8h-14zM465.1 1297.1l7.0 13.8h-14zM466.1 1291.4l7.0 13.8h-14zM467.2 1302l7.0 13.8h-14zM468.2 1287.5l7.0 13.8h-14zM469.2 1291.2l7.0 13.8h-14zM470.3 1288.7l7.0 13.8h-14zM471.3 1293.9l7.0 13.8h-14zM472.4 1295.8l7.0 13.8h-14zM473.4 1297.9l7.0 13.8h-14zM474.5 1299.6l7.0 13.8h-14zM475.5 1293.4l7.0 13.8h-14zM476.5 1297.9l7.0 13.8h-14zM477.6 1290.5l7.0 13.8h-14zM478.6 1300.9l7.0 13.8h-14zM479.7 1301.7l7.0 13.8h-14zM480.7 1291.1l7.0 13.8h-14zM481.7 1288.1l7.0 13.8h-14zM482.8 1295l7.0 13.8h-14zM483.8 1289.8l7.0 13.8h-14zM484.9 1292.4l7.0 13.8h-14zM485.9 1290.8l7.0 13.8h-14zM487 1293.3l7.0 13.8h-14zM488 1294.2l7.0 13.8h-14zM489 1292.5l7.0 13.8h-14zM490.1 1290.5l7.0 13.8h-14zM491.1 1287.7l7.0 13.8h-14zM492.2 1289.3l7.0 13.8h-14zM493.2 1292l7.0 13.8h-14zM494.2 1288.6l7.0 13.8h-14zM495.3 1299.4l7.0 13.8h-14zM496.3 1301.8l7.0 13.8h-14zM497.4 1295.8l7.0 13.8h-14zM498.4 1301.6l7.0 13.8h-14zM499.5 1292.9l7.0 13.8h-14zM500.5 1299.8l7.0 13.8h-14zM501.5 1289.2l7.0 13.8h-14zM502.6 1298.7l7.0 13.8h-14zM503.6 1291.5l7.0 13.8h-14zM504.7 1301l7.0 13.8h-14zM505.7 1288l7.0 13.8h-14zM506.8 1295.9l7.0 13.8h-14zM507.8 1298.5l7.0 13.8h-14zM508.8 1297.8l7.0 13.8h-14zM509.9 1291.2l7.0 13.8h-14zM510.9 1288.9l7.0 13.8h-14zM512 1291.3l7.0 13.8h-14zM513 1299.3l7.0 13.8h-14zM514 1295.4l7.0 13.8h-14zM515.1 1293.4l7.0 13.8h-14zM516.1 1298.3l7.0 13.8h-14zM517.2 1287.3l7.0 13.8h-14zM518.2 1290.7l7.0 13.8h-14zM519.3 1290.3l7.0 13.8h-14zM520.3 1298l7.0 13.8h-14zM521.3 1293.8l7.0 13.8h-14zM522.4 1297.8l7.0 13.8h-14zM523.4 1297l7.0 13.8h-14zM524.5 1289.5l7.0 13.8h-14zM525.5 1297.4l7.0 13.8h-14zM526.6 1292.4l7.0 13.8h-14zM527.6 1297.5l7.0 13.8h-14zM528.6 1290.9l7.0 13.8h-14zM529.7 1300.1l7.0 13.8h-14zM530.7 1289.6l7.0 13.8h-14zM531.8 1300.3l7.0 13.8h-14zM532.8 1297.9l7.0 13.8h-14zM533.8 1292l7.0 13.8h-14zM534.9 1295.6l7.0 13.8h-14zM535.9 1297.2l7.0 13.8h-14zM537 1299.8l7.0 13.8h-14zM538 1293.4l7.0 13.8h-14zM539.1 1296.5l7.0 13.8h-14zM540.1 1289.4l7.0 13.8h-14zM541.1 1291l7.0 13.8h-14zM542.2 1294l7.0 13.8h-14zM543.2 1291.9l7.0 13.8h-14zM544.3 1298.5l7.0 13.8h-14zM545.3 1294.3l7.0 13.8h-14zM546.3 1289.5l7.0 13.8h-14zM547.4 1287.9l7.0 13.8h-14zM548.4 1297.6l7.0 13.8h-14zM549.5 1297.5l7.0 13.8h-14zM550.5 1289.4l7.0 13.8h-14zM551.6 1296.5l7.0 13.8h-14zM552.6 1296.9l7.0 13.8h-14zM553.6 1299.6l7.0 13.8h-14zM554.7 1289.6l7.0 13.8h-14zM555.7 1300.3l7.0 13.8h-14zM556.8 1290.9l7.0 13.8h-14zM557.8 1300.2l7.0 13.8h-14zM558.9 1298.8l7.0 13.8h-14zM559.9 1287.4l7.0 13.8h-14zM560.9 1299.6l7.0 13.8h-14zM562 1289.7l7.0 13.8h-14zM563 1297.7l7.0 13.8h-14zM564.1 1289.7l7.0 13.8h-14zM565.1 1296.5l7.0 13.8h-14zM566.1 1295.4l7.0 13.8h-14zM567.2 1289.9l7.0 13.8h-14zM568.2 1300.5l7.0 13.8h-14zM569.3 1295.1l7.0 13.8h-14zM570.3 1288.9l7.0 13.8h-14zM571.4 1297.7l7.0 13.8h-14zM572.4 1292.9l7.0 13.8h-14zM573.4 1289.1l7.0 13.8h-14zM574.5 1291.6l7.0 13.8h-14zM575.5 1288.5l7.0 13.8h-14zM576.6 1292.8l7.0 13.8h-14zM577.6 1292.7l7.0 13.8h-14zM578.7 1299.3l7.0 13.8h-14zM579.7 1287.8l7.0 13.8h-14zM580.7 1295.3l7.0 13.8h-14zM581.8 1293.1l7.0 13.8h-14zM582.8 1292.6l7.0 13.8h-14zM583.9 1295.5l7.0 13.8h-14zM584.9 1288.3l7.0 13.8h-14zM585.9 1290.6l7.0 13.8h-14zM587 1293.4l7.0 13.8h-14zM588 1297.6l7.0 13.8h-14zM589.1 1291.5l7.0 13.8h-14zM590.1 1292l7.0 13.8h-14zM591.2 1287.7l7.0 13.8h-14zM592.2 1293.9l7.0 13.8h-14zM593.2 1296.5l7.0 13.8h-14zM594.3 1291.3l7.0 13.8h-14zM595.3 1297.8l7.0 13.8h-14zM596.4 1297l7.0 13.8h-14zM597.4 1292.5l7.0 13.8h-14zM598.4 1292.1l7.0 13.8h-14zM599.5 1285.7l7.0 13.8h-14zM600.5 1301.3l7.0 13.8h-14zM601.6 1289.5l7.0 13.8h-14zM602.6 1295.7l7.0 13.8h-14zM603.7 1300.1l7.0 13.8h-14zM604.7 1295.6l7.0 13.8h-14zM605.7 1291.8l7.0 13.8h-14zM606.8 1296.8l7.0 13.8h-14zM607.8 1295.1l7.0 13.8h-14zM608.9 1288l7.0 13.8h-14zM609.9 1294.1l7.0 13.8h-14zM611 1287.6l7.0 13.8h-14zM612 1297.6l7.0 13.8h-14zM613 1298.4l7.0 13.8h-14zM614.1 1295.3l7.0 13.8h-14zM615.1 1291.2l7.0 13.8h-14zM616.2 1297.1l7.0 13.8h-14zM617.2 1297.4l7.0 13.8h-14zM618.2 1291.4l7.0 13.8h-14zM619.3 1289.6l7.0 13.8h-14zM620.3 1291.8l7.0 13.8h-14zM621.4 1293.2l7.0 13.8h-14zM622.4 1295.6l7.0 13.8h-14zM623.5 1292l7.0 13.8h-14zM624.5 1289.2l7.0 13.8h-14zM625.5 1300.2l7.0 13.8h-14zM626.6 1287.6l7.0 13.8h-14zM627.6 1294.6l7.0 13.8h-14zM628.7 1293l7.0 13.8h-14zM629.7 1293.7l7.0 13.8h-14zM630.8 1289l7.0 13.8h-14zM631.8 1293.7l7.0 13.8h-14zM632.8 1292.4l7.0 13.8h-14zM633.9 1295.5l7.0 13.8h-14zM634.9 1297.5l7.0 13.8h-14zM636 1294.2l7.0 13.8h-14zM637 1298.8l7.0 13.8h-14zM638 1301.1l7.0 13.8h-14zM639.1 1291.7l7.0 13.8h-14zM640.1 1299.2l7.0 13.8h-14zM641.2 1291.9l7.0 13.8h-14zM642.2 1286.9l7.0 13.8h-14zM643.3 1288l7.0 13.8h-14zM644.3 1299.2l7.0 13.8h-14zM645.3 1293.9l7.0 13.8h-14zM646.4 1293.1l7.0 13.8h-14zM647.4 1296.8l7.0 13.8h-14zM648.5 1295.1l7.0 13.8h-14zM649.5 1287.8l7.0 13.8h-14zM650.5 1297.7l7.0 13.8h-14zM651.6 1289.1l7.0 13.8h-14zM652.6 1290.4l7.0 13.8h-14zM653.7 1297.6l7.0 13.8h-14zM654.7 1295.8l7.0 13.8h-14zM655.8 1294.2l7.0 13.8h-14zM656.8 1287.1l7.0 13.8h-14zM657.8 1300.2l7.0 13.8h-14zM658.9 1287.8l7.0 13.8h-14zM659.9 1299.6l7.0 13.8h-14zM661 1296.7l7.0 13.8h-14zM662 1302.6l7.0 13.8h-14zM663.1 1287.4l7.0 13.8h-14zM664.1 1287.4l7.0 13.8h-14zM665.1 1294l7.0 13.8h-14zM666.2 1291.6l7.0 13.8h-14zM667.2 1299.3l7.0 13.8h-14zM668.3 1292.6l7.0 13.8h-14zM669.3 1294.3l7.0 13.8h-14zM670.3 1293.3l7.0 13.8h-14zM671.4 1296.1l7.0 13.8h-14zM672.4 1290.9l7.0 13.8h-14zM673.5 1293.2l7.0 13.8h-14zM674.5 1292.4l7.0 13.8h-14zM675.6 1293.1l7.0 13.8h-14zM676.6 1296.6l7.0 13.8h-14zM677.6 1291.9l7.0 13.8h-14zM678.7 1291.9l7.0 13.8h-14zM679.7 1291l7.0 13.8h-14zM680.8 1297.3l7.0 13.8h-14zM681.8 1291.6l7.0 13.8h-14zM682.9 1297.5l7.0 13.8h-14zM683.9 1291.3l7.0 13.8h-14zM684.9 1290.9l7.0 13.8h-14zM686 1291l7.0 13.8h-14zM687 1290l7.0 13.8h-14zM688.1 1294.3l7.0 13.8h-14zM689.1 1286l7.0 13.8h-14zM690.1 1287l7.0 13.8h-14zM691.2 1291.7l7.0 13.8h-14zM692.2 1295.6l7.0 13.8h-14zM693.3 1286.8l7.0 13.8h-14zM694.3 1292.3l7.0 13.8h-14zM695.4 1298.1l7.0 13.8h-14zM696.4 1293.7l7.0 13.8h-14zM697.4 1297.8l7.0 13.8h-14zM698.5 1292.9l7.0 13.8h-14zM699.5 1296.4l7.0 13.8h-14zM700.6 1297.1l7.0 13.8h-14zM701.6 1290.4l7.0 13.8h-14zM702.6 1296.1l7.0 13.8h-14zM703.7 1286.6l7.0 13.8h-14zM704.7 1289.6l7.0 13.8h-14zM705.8 1295.7l7.0 13.8h-14zM706.8 1296.8l7.0 13.8h-14zM707.9 1299l7.0 13.8h-14zM708.9 1294.5l7.0 13.8h-14zM709.9 1291.7l7.0 13.8h-14zM711 1298.5l7.0 13.8h-14zM712 1290.2l7.0 13.8h-14zM713.1 1298l7.0 13.8h-14zM714.1 1297.8l7.0 13.8h-14zM715.2 1298.2l7.0 13.8h-14zM716.2 1296.8l7.0 13.8h-14zM717.2 1291.4l7.0 13.8h-14zM718.3 1296.8l7.0 13.8h-14zM719.3 1290.5l7.0 13.8h-14zM720.4 1293.3l7.0 13.8h-14zM721.4 1296.1l7.0 13.8h-14zM722.4 1286.1l7.0 13.8h-14zM723.5 1286.5l7.0 13.8h-14zM724.5 1297.4l7.0 13.8h-14zM725.6 1295.1l7.0 13.8h-14zM726.6 1294l7.0 13.8h-14zM727.7 1296.1l7.0 13.8h-14zM728.7 1294.4l7.0 13.8h-14zM729.7 1286l7.0 13.8h-14zM730.8 1291.5l7.0 13.8h-14zM731.8 1286.8l7.0 13.8h-14zM732.9 1297l7.0 13.8h-14zM733.9 1290.5l7.0 13.8h-14zM734.9 1292.7l7.0 13.8h-14zM736 1289l7.0 13.8h-14zM737 1297.5l7.0 13.8h-14zM738.1 1300.8l7.0 13.8h-14zM739.1 1287.9l7.0 13.8h-14zM740.2 1287.1l7.0 13.8h-14zM741.2 1299.9l7.0 13.8h-14zM742.2 1288.8l7.0 13.8h-14zM743.3 1293.6l7.0 13.8h-14zM744.3 1297.9l7.0 13.8h-14zM745.4 1295.7l7.0 13.8h-14zM746.4 1297.3l7.0 13.8h-14zM747.5 1291.7l7.0 13.8h-14zM748.5 1285.6l7.0 13.8h-14zM749.5 1294.9l7.0 13.8h-14zM750.6 1289.5l7.0 13.8h-14zM751.6 1295.5l7.0 13.8h-14zM752.7 1298.4l7.0 13.8h-14zM753.7 1285.1l7.0 13.8h-14zM754.7 1287l7.0 13.8h-14zM755.8 1299.3l7.0 13.8h-14zM756.8 1295.4l7.0 13.8h-14zM757.9 1291.9l7.0 13.8h-14zM758.9 1289.5l7.0 13.8h-14zM760 1295.6l7.0 13.8h-14zM761 1299.6l7.0 13.8h-14zM762 1296.9l7.0 13.8h-14zM763.1 1291.4l7.0 13.8h-14zM764.1 1287.2l7.0 13.8h-14zM765.2 1299.4l7.0 13.8h-14zM766.2 1289.4l7.0 13.8h-14zM767.3 1291.3l7.0 13.8h-14zM768.3 1295.1l7.0 13.8h-14zM769.3 1292.5l7.0 13.8h-14zM770.4 1298.5l7.0 13.8h-14zM771.4 1291.5l7.0 13.8h-14zM772.5 1289.1l7.0 13.8h-14zM773.5 1294.8l7.0 13.8h-14zM774.5 1291.7l7.0 13.8h-14zM775.6 1289.8l7.0 13.8h-14zM776.6 1296.7l7.0 13.8h-14zM777.7 1293.2l7.0 13.8h-14zM778.7 1295.9l7.0 13.8h-14zM779.8 1296.4l7.0 13.8h-14zM780.8 1291.5l7.0 13.8h-14zM781.8 1298.8l7.0 13.8h-14zM782.9 1292.7l7.0 13.8h-14zM783.9 1289.6l7.0 13.8h-14zM785 1296.4l7.0 13.8h-14zM786 1298.5l7.0 13.8h-14zM787 1287.9l7.0 13.8h-14zM788.1 1287.3l7.0 13.8h-14zM789.1 1294.5l7.0 13.8h-14zM790.2 1286.7l7.0 13.8h-14zM791.2 1295.8l7.0 13.8h-14zM792.3 1296l7.0 13.8h-14zM793.3 1289.1l7.0 13.8h-14zM794.3 1296.4l7.0 13.8h-14zM795.4 1294.3l7.0 13.8h-14zM796.4 1291.3l7.0 13.8h-14zM797.5 1295.2l7.0 13.8h-14zM798.5 1299.8l7.0 13.8h-14zM799.6 1288.3l7.0 13.8h-14zM800.6 1294.2l7.0 13.8h-14zM801.6 1295.4l7.0 13.8h-14zM802.7 1291.7l7.0 13.8h-14zM803.7 1287.2l7.0 13.8h-14zM804.8 1293.4l7.0 13.8h-14zM805.8 1290.8l7.0 13.8h-14zM806.8 1288.1l7.0 13.8h-14zM807.9 1285.8l7.0 13.8h-14zM808.9 1290.3l7.0 13.8h-14zM810 1289.3l7.0 13.8h-14zM811 1295.3l7.0 13.8h-14zM812.1 1297l7.0 13.8h-14zM813.1 1297.2l7.0 13.8h-14zM814.1 1295.3l7.0 13.8h-14zM815.2 1295.6l7.0 13.8h-14zM816.2 1288.3l7.0 13.8h-14zM817.3 1284.4l7.0 13.8h-14zM818.3 1299l7.0 13.8h-14zM819.4 1289.9l7.0 13.8h-14zM820.4 1285.9l7.0 13.8h-14zM821.4 1287.3l7.0 13.8h-14zM822.5 1294.8l7.0 13.8h-14zM823.5 1290.5l7.0 13.8h-14zM824.6 1287.4l7.0 13.8h-14zM825.6 1297.9l7.0 13.8h-14zM826.6 1297.3l7.0 13.8h-14zM827.7 1288.3l7.0 13.8h-14zM828.7 1292.7l7.0 13.8h-14zM829.8 1290.4l7.0 13.8h-14zM830.8 1296.1l7.0 13.8h-14zM831.9 1295.4l7.0 13.8h-14zM832.9 1288.5l7.0 13.8h-14zM833.9 1293.3l7.0 13.8h-14zM835 1291.8l7.0 13.8h-14zM836 1287.1l7.0 13.8h-14zM837.1 1297.2l7.0 13.8h-14zM838.1 1297.6l7.0 13.8h-14zM839.1 1291.1l7.0 13.8h-14zM840.2 1290l7.0 13.8h-14zM841.2 1293.6l7.0 13.8h-14zM842.3 1291.9l7.0 13.8h-14zM843.3 1290.6l7.0 13.8h-14zM844.4 1285.3l7.0 13.8h-14zM845.4 1295.8l7.0 13.8h-14zM846.4 1287.6l7.0 13.8h-14zM847.5 1295l7.0 13.8h-14zM848.5 1292.3l7.0 13.8h-14zM849.6 1289.2l7.0 13.8h-14zM850.6 1292.5l7.0 13.8h-14zM851.7 1289.7l7.0 13.8h-14zM852.7 1293.7l7.0 13.8h-14zM853.7 1289.5l7.0 13.8h-14zM854.8 1290.9l7.0 13.8h-14zM855.8 1292.4l7.0 13.8h-14zM856.9 1297.6l7.0 13.8h-14zM857.9 1293.6l7.0 13.8h-14zM858.9 1287.2l7.0 13.8h-14zM860 1296.9l7.0 13.8h-14zM861 1287.8l7.0 13.8h-14zM862.1 1287l7.0 13.8h-14zM863.1 1284.7l7.0 13.8h-14zM864.2 1289.8l7.0 13.8h-14zM865.2 1292.8l7.0 13.8h-14zM866.2 1291.3l7.0 13.8h-14zM867.3 1289.2l7.0 13.8h-14zM868.3 1287.3l7.0 13.8h-14zM869.4 1291.3l7.0 13.8h-14zM870.4 1289.5l7.0 13.8h-14zM871.5 1287.3l7.0 13.8h-14zM872.5 1294.4l7.0 13.8h-14zM873.5 1297.6l7.0 13.8h-14zM874.6 1284.7l7.0 13.8h-14zM875.6 1292.7l7.0 13.8h-14zM876.7 1291l7.0 13.8h-14zM877.7 1291.4l7.0 13.8h-14zM878.7 1288l7.0 13.8h-14zM879.8 1294.9l7.0 13.8h-14zM880.8 1294.2l7.0 13.8h-14zM881.9 1294.9l7.0 13.8h-14zM882.9 1287.2l7.0 13.8h-14zM884 1292.3l7.0 13.8h-14zM885 1284.6l7.0 13.8h-14zM886 1286.9l7.0 13.8h-14zM887.1 1285.2l7.0 13.8h-14zM888.1 1294.9l7.0 13.8h-14zM889.2 1295.2l7.0 13.8h-14zM890.2 1286.9l7.0 13.8h-14zM891.2 1289.9l7.0 13.8h-14zM892.3 1294.2l7.0 13.8h-14zM893.3 1294.1l7.0 13.8h-14zM894.4 1297.9l7.0 13.8h-14zM895.4 1283.6l7.0 13.8h-14zM896.5 1296l7.0 13.8h-14zM897.5 1287l7.0 13.8h-14zM898.5 1291.1l7.0 13.8h-14zM899.6 1287.6l7.0 13.8h-14zM900.6 1297.4l7.0 13.8h-14zM901.7 1291.3l7.0 13.8h-14zM902.7 1292l7.0 13.8h-14zM903.8 1287.7l7.0 13.8h-14zM904.8 1295.3l7.0 13.8h-14zM905.8 1284.5l7.0 13.8h-14zM906.9 1284.2l7.0 13.8h-14zM907.9 1293.3l7.0 13.8h-14zM909 1296.7l7.0 13.8h-14zM910 1289.9l7.0 13.8h-14zM911 1291.4l7.0 13.8h-14zM912.1 1287.9l7.0 13.8h-14zM913.1 1285.3l7.0 13.8h-14zM914.2 1287.2l7.0 13.8h-14zM915.2 1287.8l7.0 13.8h-14zM916.3 1285.3l7.0 13.8h-14zM917.3 1289.9l7.0 13.8h-14zM918.3 1293.6l7.0 13.8h-14zM919.4 1294.7l7.0 13.8h-14zM920.4 1293.1l7.0 13.8h-14zM921.5 1290.3l7.0 13.8h-14zM922.5 1294.1l7.0 13.8h-14zM923.6 1294.2l7.0 13.8h-14zM924.6 1287.1l7.0 13.8h-14zM925.6 1286l7.0 13.8h-14zM926.7 1292.8l7.0 13.8h-14zM927.7 1284.5l7.0 13.8h-14zM928.8 1286.7l7.0 13.8h-14zM929.8 1293.1l7.0 13.8h-14zM930.8 1292.1l7.0 13.8h-14zM931.9 1296l7.0 13.8h-14zM932.9 1285.6l7.0 13.8h-14zM934 1283.7l7.0 13.8h-14zM935 1287.1l7.0 13.8h-14zM936.1 1296.7l7.0 13.8h-14zM937.1 1284.9l7.0 13.8h-14zM938.1 1293.1l7.0 13.8h-14zM939.2 1290l7.0 13.8h-14zM940.2 1293.8l7.0 13.8h-14zM941.3 1292l7.0 13.8h-14z" stroke="#ED7D31"/><path d="M159.8 940.1l15.6 15.6m0 -15.6l-15.6 15.6M161.2 968.3l15.6 15.6m0 -15.6l-15.6 15.6M162.6 1028.6l15.6 15.6m0 -15.6l-15.6 15.6M164.1 1093.1l15.6 15.6m0 -15.6l-15.6 15.6M165.5 1107.1l15.6 15.6m0 -15.6l-15.6 15.6M167 1142.1l15.6 15.6m0 -15.6l-15.6 15.6M168.4 1181.6l15.6 15.6m0 -15.6l-15.6 15.6M169.8 1212.7l15.6 15.6m0 -15.6l-15.6 15.6M171.3 1247.1l15.6 15.6m0 -15.6l-15.6 15.6M172.7 1270l15.6 15.6m0 -15.6l-15.6 15.6M174.1 1291.6l15.6 15.6m0 -15.6l-15.6 15.6M175.6 1312.8l15.6 15.6m0 -15.6l-15.6 15.6M177 1320.8l15.6 15.6m0 -15.6l-15.6 15.6M178.5 1330l15.6 15.6m0 -15.6l-15.6 15.6M179.9 1337.5l15.6 15.6m0 -15.6l-15.6 15.6M181.3 1337.9l15.6 15.6m0 -15.6l-15.6 15.6M182.8 1345.3l15.6 15.6m0 -15.6l-15.6 15.6M184.2 1350.5l15.6 15.6m0 -15.6l-15.6 15.6M185.7 1352.9l15.6 15.6m0 -15.6l-15.6 15.6M187.1 1347.8l15.6 15.6m0 -15.6l-15.6 15.6M188.5 1356.6l15.6 15.6m0 -15.6l-15.6 15.6M190 1359.9l15.6 15.6m0 -15.6l-15.6 15.6M191.4 1362.5l15.6 15.6m0 -15.6l-15.6 15.6M192.9 1357.2l15.6 15.6m0 -15.6l-15.6 15.6M194.3 1357l15.6 15.6m0 -15.6l-15.6 15.6M195.7 1361.6l15.6 15.6m0 -15.6l-15.6 15.6M197.2 1356.4l15.6 15.6m0 -15.6l-15.6 15.6M198.6 1361.4l15.6 15.6m0 -15.6l-15.6 15.6M200.1 1358.9l15.6 15.6m0 -15.6l-15.6 15.6M201.5 1362.6l15.6 15.6m0 -15.6l-15.6 15.6M202.9 1361.6l15.6 15.6m0 -15.6l-15.6 15.6M204.2 1366l15.6 15.6m0 -15.6l-15.6 15.6M205.3 1369.8l15.6 15.6m0 -15.6l-15.6 15.6M206.3 1362.4l15.6 15.6m0 -15.6l-15.6 15.6M207.3 1360l15.6 15.6m0 -15.6l-15.6 15.6M208.4 1360.3l15.6 15.6m0 -15.6l-15.6 15.6M209.4 1366.4l15.6 15.6m0 -15.6l-15.6 15.6M210.5 1370.1l15.6 15.6m0 -15.6l-15.6 15.6M211.5 1367.5l15.6 15.6m0 -15.6l-15.6 15.6M212.6 1363.9l15.6 15.6m0 -15.6l-15.6 15.6M213.6 1363l15.6 15.6m0 -15.6l-15.6 15.6M214.6 1372.4l15.6 15.6m0 -15.6l-15.6 15.6M215.7 1361.2l15.6 15.6m0 -15.6l-15.6 15.6M216.7 1363.1l15.6 15.6m0 -15.6l-15.6 15.6M217.8 1363l15.6 15.6m0 -15.6l-15.6 15.6M218.8 1357.8l15.6 15.6m0 -15.6l-15.6 15.6M219.8 1363.2l15.6 15.6m0 -15.6l-15.6 15.6M220.9 1366.6l15.6 15.6m0 -15.6l-15.6 15.6M221.9 1368.8l15.6 15.6m0 -15.6l-15.6 15.6M223 1363.5l15.6 15.6m0 -15.6l-15.6 15.6M224 1361.2l15.6 15.6m0 -15.6l-15.6 15.6M225.1 1358l15.6 15.6m0 -15.6l-15.6 15.6M226.1 1358.9l15.6 15.6m0 -15.6l-15.6 15.6M227.1 1365.9l15.6 15.6m0 -15.6l-15.6 15.6M228.2 1359l15.6 15.6m0 -15.6l-15.6 15.6M229.2 1358.2l15.6 15.6m0 -15.6l-15.6 15.6M230.3 1365.3l15.6 15.6m0 -15.6l-15.6 15.6M231.3 1363l15.6 15.6m0 -15.6l-15.6 15.6M232.4 1363.7l15.6 15.6m0 -15.6l-15.6 15.6M233.4 1364.1l15.6 15.6m0 -15.6l-15.6 15.6M234.4 1365.4l15.6 15.6m0 -15.6l-15.6 15.6M235.5 1367.2l15.6 15.6m0 -15.6l-15.6 15.6M236.5 1368l15.6 15.6m0 -15.6l-15.6 15.6M237.6 1367.5l15.6 15.6m0 -15.6l-15.6 15.6M238.6 1361.6l15.6 15.6m0 -15.6l-15.6 15.6M239.6 1360.8l15.6 15.6m0 -15.6l-15.6 15.6M240.7 1358.6l15.6 15.6m0 -15.6l-15.6 15.6M241.7 1365.3l15.6 15.6m0 -15.6l-15.6 15.6M242.8 1361.1l15.6 15.6m0 -15.6l-15.6 15.6M243.8 1363.2l15.6 15.6m0 -15.6l-15.6 15.6M244.9 1366.7l15.6 15.6m0 -15.6l-15.6 15.6M245.9 1353.8l15.6 15.6m0 -15.6l-15.6 15.6M246.9 1362.7l15.6 15.6m0 -15.6l-15.6 15.6M248 1359.1l15.6 15.6m0 -15.6l-15.6 15.6M249 1357.2l15.6 15.6m0 -15.6l-15.6 15.6M250.1 1357.1l15.6 15.6m0 -15.6l-15.6 15.6M251.1 1353.8l15.6 15.6m0 -15.6l-15.6 15.6M252.1 1352.1l15.6 15.6m0 -15.6l-15.6 15.6M253.2 1359.7l15.6 15.6m0 -15.6l-15.6 15.6M254.2 1356l15.6 15.6m0 -15.6l-15.6 15.6M255.3 1359.4l15.6 15.6m0 -15.6l-15.6 15.6M256.3 1357.6l15.6 15.6m0 -15.6l-15.6 15.6M257.4 1352.1l15.6 15.6m0 -15.6l-15.6 15.6M258.4 1350.4l15.6 15.6m0 -15.6l-15.6 15.6M259.4 1350.4l15.6 15.6m0 -15.6l-15.6 15.6M260.5 1357.5l15.6 15.6m0 -15.6l-15.6 15.6M261.5 1346.2l15.6 15.6m0 -15.6l-15.6 15.6M262.6 1348.9l15.6 15.6m0 -15.6l-15.6 15.6M263.6 1350.5l15.6 15.6m0 -15.6l-15.6 15.6M264.7 1343.4l15.6 15.6m0 -15.6l-15.6 15.6M265.7 1352.1l15.6 15.6m0 -15.6l-15.6 15.6M266.7 1351.1l15.6 15.6m0 -15.6l-15.6 15.6M267.8 1352.4l15.6 15.6m0 -15.6l-15.6 15.6M268.8 1350.3l15.6 15.6m0 -15.6l-15.6 15.6M269.9 1341.2l15.6 15.6m0 -15.6l-15.6 15.6M270.9 1351l15.6 15.6m0 -15.6l-15.6 15.6M271.9 1341.2l15.6 15.6m0 -15.6l-15.6 15.6M273 1344.4l15.6 15.6m0 -15.6l-15.6 15.6M274 1346.7l15.6 15.6m0 -15.6l-15.6 15.6M275.1 1338.4l15.6 15.6m0 -15.6l-15.6 15.6M276.1 1349l15.6 15.6m0 -15.6l-15.6 15.6M277.2 1346.3l15.6 15.6m0 -15.6l-15.6 15.6M278.2 1341.3l15.6 15.6m0 -15.6l-15.6 15.6M279.2 1342.8l15.6 15.6m0 -15.6l-15.6 15.6M280.3 1341.7l15.6 15.6m0 -15.6l-15.6 15.6M281.3 1333.9l15.6 15.6m0 -15.6l-15.6 15.6M282.4 1338.8l15.6 15.6m0 -15.6l-15.6 15.6M283.4 1337.6l15.6 15.6m0 -15.6l-15.6 15.6M284.5 1338.5l15.6 15.6m0 -15.6l-15.6 15.6M285.5 1342.5l15.6 15.6m0 -15.6l-15.6 15.6M286.5 1343.3l15.6 15.6m0 -15.6l-15.6 15.6M287.6 1334.4l15.6 15.6m0 -15.6l-15.6 15.6M288.6 1333.1l15.6 15.6m0 -15.6l-15.6 15.6M289.7 1329.7l15.6 15.6m0 -15.6l-15.6 15.6M290.7 1339.6l15.6 15.6m0 -15.6l-15.6 15.6M291.7 1335.9l15.6 15.6m0 -15.6l-15.6 15.6M292.8 1337.4l15.6 15.6m0 -15.6l-15.6 15.6M293.8 1332.8l15.6 15.6m0 -15.6l-15.6 15.6M294.9 1339.1l15.6 15.6m0 -15.6l-15.6 15.6M295.9 1331.1l15.6 15.6m0 -15.6l-15.6 15.6M297 1329.4l15.6 15.6m0 -15.6l-15.6 15.6M298 1338l15.6 15.6m0 -15.6l-15.6 15.6M299 1329.4l15.6 15.6m0 -15.6l-15.6 15.6M300.1 1333.9l15.6 15.6m0 -15.6l-15.6 15.6M301.1 1333.5l15.6 15.6m0 -15.6l-15.6 15.6M302.2 1334.8l15.6 15.6m0 -15.6l-15.6 15.6M303.2 1328l15.6 15.6m0 -15.6l-15.6 15.6M304.2 1330.5l15.6 15.6m0 -15.6l-15.6 15.6M305.3 1336.6l15.6 15.6m0 -15.6l-15.6 15.6M306.3 1335.3l15.6 15.6m0 -15.6l-15.6 15.6M307.4 1325.8l15.6 15.6m0 -15.6l-15.6 15.6M308.4 1334.4l15.6 15.6m0 -15.6l-15.6 15.6M309.5 1328.7l15.6 15.6m0 -15.6l-15.6 15.6M310.5 1326.8l15.6 15.6m0 -15.6l-15.6 15.6M311.5 1332.5l15.6 15.6m0 -15.6l-15.6 15.6M312.6 1327.5l15.6 15.6m0 -15.6l-15.6 15.6M313.6 1328l15.6 15.6m0 -15.6l-15.6 15.6M314.7 1330.4l15.6 15.6m0 -15.6l-15.6 15.6M315.7 1320.3l15.6 15.6m0 -15.6l-15.6 15.6M316.8 1332.6l15.6 15.6m0 -15.6l-15.6 15.6M317.8 1320.1l15.6 15.6m0 -15.6l-15.6 15.6M318.8 1327.6l15.6 15.6m0 -15.6l-15.6 15.6M319.9 1326.8l15.6 15.6m0 -15.6l-15.6 15.6M320.9 1328.3l15.6 15.6m0 -15.6l-15.6 15.6M322 1319.1l15.6 15.6m0 -15.6l-15.6 15.6M323 1316.8l15.6 15.6m0 -15.6l-15.6 15.6M324 1326.8l15.6 15.6m0 -15.6l-15.6 15.6M325.1 1320l15.6 15.6m0 -15.6l-15.6 15.6M326.1 1328.5l15.6 15.6m0 -15.6l-15.6 15.6M327.2 1323.5l15.6 15.6m0 -15.6l-15.6 15.6M328.2 1325.2l15.6 15.6m0 -15.6l-15.6 15.6M329.3 1319.3l15.6 15.6m0 -15.6l-15.6 15.6M330.3 1323.8l15.6 15.6m0 -15.6l-15.6 15.6M331.3 1320.1l15.6 15.6m0 -15.6l-15.6 15.6M332.4 1315.3l15.6 15.6m0 -15.6l-15.6 15.6M333.4 1323.9l15.6 15.6m0 -15.6l-15.6 15.6M334.5 1324.8l15.6 15.6m0 -15.6l-15.6 15.6M335.5 1314.9l15.6 15.6m0 -15.6l-15.6 15.6M336.6 1325.3l15.6 15.6m0 -15.6l-15.6 15.6M337.6 1317.9l15.6 15.6m0 -15.6l-15.6 15.6M338.6 1314l15.6 15.6m0 -15.6l-15.6 15.6M339.7 1324.1l15.6 15.6m0 -15.6l-15.6 15.6M340.7 1319.1l15.6 15.6m0 -15.6l-15.6 15.6M341.8 1311.9l15.6 15.6m0 -15.6l-15.6 15.6M342.8 1322.7l15.6 15.6m0 -15.6l-15.6 15.6M343.8 1312.6l15.6 15.6m0 -15.6l-15.6 15.6M344.9 1315.6l15.6 15.6m0 -15.6l-15.6 15.6M345.9 1324.3l15.6 15.6m0 -15.6l-15.6 15.6M347 1321l15.6 15.6m0 -15.6l-15.6 15.6M348 1309.1l15.6 15.6m0 -15.6l-15.6 15.6M349.1 1322.2l15.6 15.6m0 -15.6l-15.6 15.6M350.1 1318l15.6 15.6m0 -15.6l-15.6 15.6M351.1 1323.1l15.6 15.6m0 -15.6l-15.6 15.6M352.2 1318.8l15.6 15.6m0 -15.6l-15.6 15.6M353.2 1318.1l15.6 15.6m0 -15.6l-15.6 15.6M354.3 1312.8l15.6 15.6m0 -15.6l-15.6 15.6M355.3 1320l15.6 15.6m0 -15.6l-15.6 15.6M356.3 1321.8l15.6 15.6m0 -15.6l-15.6 15.6M357.4 1312.8l15.6 15.6m0 -15.6l-15.6 15.6M358.4 1317.9l15.6 15.6m0 -15.6l-15.6 15.6M359.5 1314.2l15.6 15.6m0 -15.6l-15.6 15.6M360.5 1319.9l15.6 15.6m0 -15.6l-15.6 15.6M361.6 1316.7l15.6 15.6m0 -15.6l-15.6 15.6M362.6 1316.6l15.6 15.6m0 -15.6l-15.6 15.6M363.6 1309.4l15.6 15.6m0 -15.6l-15.6 15.6M364.7 1308.2l15.6 15.6m0 -15.6l-15.6 15.6M365.7 1317.2l15.6 15.6m0 -15.6l-15.6 15.6M366.8 1311.5l15.6 15.6m0 -15.6l-15.6 15.6M367.8 1309l15.6 15.6m0 -15.6l-15.6 15.6M368.9 1312l15.6 15.6m0 -15.6l-15.6 15.6M369.9 1309.1l15.6 15.6m0 -15.6l-15.6 15.6M370.9 1307.1l15.6 15.6m0 -15.6l-15.6 15.6M372 1313.6l15.6 15.6m0 -15.6l-15.6 15.6M373 1311.2l15.6 15.6m0 -15.6l-15.6 15.6M374.1 1310.5l15.6 15.6m0 -15.6l-15.6 15.6M375.1 1314.8l15.6 15.6m0 -15.6l-15.6 15.6M376.1 1308.1l15.6 15.6m0 -15.6l-15.6 15.6M377.2 1305.4l15.6 15.6m0 -15.6l-15.6 15.6M378.2 1315.8l15.6 15.6m0 -15.6l-15.6 15.6M379.3 1303.5l15.6 15.6m0 -15.6l-15.6 15.6M380.3 1314.7l15.6 15.6m0 -15.6l-15.6 15.6M381.4 1311.8l15.6 15.6m0 -15.6l-15.6 15.6M382.4 1316.3l15.6 15.6m0 -15.6l-15.6 15.6M383.4 1309.9l15.6 15.6m0 -15.6l-15.6 15.6M384.5 1309.2l15.6 15.6m0 -15.6l-15.6 15.6M385.5 1307.9l15.6 15.6m0 -15.6l-15.6 15.6M386.6 1310.8l15.6 15.6m0 -15.6l-15.6 15.6M387.6 1307.8l15.6 15.6m0 -15.6l-15.6 15.6M388.7 1306l15.6 15.6m0 -15.6l-15.6 15.6M389.7 1305.4l15.6 15.6m0 -15.6l-15.6 15.6M390.7 1312l15.6 15.6m0 -15.6l-15.6 15.6M391.8 1306.5l15.6 15.6m0 -15.6l-15.6 15.6M392.8 1313.8l15.6 15.6m0 -15.6l-15.6 15.6M393.9 1307.2l15.6 15.6m0 -15.6l-15.6 15.6M394.9 1313.6l15.6 15.6m0 -15.6l-15.6 15.6M395.9 1307.1l15.6 15.6m0 -15.6l-15.6 15.6M397 1310.6l15.6 15.6m0 -15.6l-15.6 15.6M398 1315.4l15.6 15.6m0 -15.6l-15.6 15.6M399.1 1307.7l15.6 15.6m0 -15.6l-15.6 15.6M400.1 1310.9l15.6 15.6m0 -15.6l-15.6 15.6M401.2 1313.9l15.6 15.6m0 -15.6l-15.6 15.6M402.2 1303.1l15.6 15.6m0 -15.6l-15.6 15.6M403.2 1310.7l15.6 15.6m0 -15.6l-15.6 15.6M404.3 1304.3l15.6 15.6m0 -15.6l-15.6 15.6M405.3 1308.4l15.6 15.6m0 -15.6l-15.6 15.6M406.4 1303.2l15.6 15.6m0 -15.6l-15.6 15.6M407.4 1310.1l15.6 15.6m0 -15.6l-15.6 15.6M408.4 1313.6l15.6 15.6m0 -15.6l-15.6 15.6M409.5 1308.8l15.6 15.6m0 -15.6l-15.6 15.6M410.5 1305.7l15.6 15.6m0 -15.6l-15.6 15.6M411.6 1310.5l15.6 15.6m0 -15.6l-15.6 15.6M412.6 1302.6l15.6 15.6m0 -15.6l-15.6 15.6M413.7 1310l15.6 15.6m0 -15.6l-15.6 15.6M414.7 1312l15.6 15.6m0 -15.6l-15.6 15.6M415.7 1308.3l15.6 15.6m0 -15.6l-15.6 15.6M416.8 1307.1l15.6 15.6m0 -15.6l-15.6 15.6M417.8 1307.1l15.6 15.6m0 -15.6l-15.6 15.6M418.9 1314.4l15.6 15.6m0 -15.6l-15.6 15.6M419.9 1306.4l15.6 15.6m0 -15.6l-15.6 15.6M421 1306.2l15.6 15.6m0 -15.6l-15.6 15.6M422 1312.2l15.6 15.6m0 -15.6l-15.6 15.6M423 1313.4l15.6 15.6m0 -15.6l-15.6 15.6M424.1 1306.7l15.6 15.6m0 -15.6l-15.6 15.6M425.1 1304.4l15.6 15.6m0 -15.6l-15.6 15.6M426.2 1313.2l15.6 15.6m0 -15.6l-15.6 15.6M427.2 1303.2l15.6 15.6m0 -15.6l-15.6 15.6M428.2 1308.6l15.6 15.6m0 -15.6l-15.6 15.6M429.3 1310.3l15.6 15.6m0 -15.6l-15.6 15.6M430.3 1305.9l15.6 15.6m0 -15.6l-15.6 15.6M431.4 1312.3l15.6 15.6m0 -15.6l-15.6 15.6M432.4 1302.9l15.6 15.6m0 -15.6l-15.6 15.6M433.5 1302l15.6 15.6m0 -15.6l-15.6 15.6M434.5 1314.2l15.6 15.6m0 -15.6l-15.6 15.6M435.5 1309.1l15.6 15.6m0 -15.6l-15.6 15.6M436.6 1312.1l15.6 15.6m0 -15.6l-15.6 15.6M437.6 1311.1l15.6 15.6m0 -15.6l-15.6 15.6M438.7 1302.9l15.6 15.6m0 -15.6l-15.6 15.6M439.7 1303.3l15.6 15.6m0 -15.6l-15.6 15.6M440.8 1309.8l15.6 15.6m0 -15.6l-15.6 15.6M441.8 1313.1l15.6 15.6m0 -15.6l-15.6 15.6M442.8 1302l15.6 15.6m0 -15.6l-15.6 15.6M443.9 1306.7l15.6 15.6m0 -15.6l-15.6 15.6M444.9 1303.1l15.6 15.6m0 -15.6l-15.6 15.6M446 1301.5l15.6 15.6m0 -15.6l-15.6 15.6M447 1299.4l15.6 15.6m0 -15.6l-15.6 15.6M448 1306.1l15.6 15.6m0 -15.6l-15.6 15.6M449.1 1302.5l15.6 15.6m0 -15.6l-15.6 15.6M450.1 1299.7l15.6 15.6m0 -15.6l-15.6 15.6M451.2 1306.2l15.6 15.6m0 -15.6l-15.6 15.6M452.2 1304.8l15.6 15.6m0 -15.6l-15.6 15.6M453.3 1306.8l15.6 15.6m0 -15.6l-15.6 15.6M454.3 1302.1l15.6 15.6m0 -15.6l-15.6 15.6M455.3 1303.2l15.6 15.6m0 -15.6l-15.6 15.6M456.4 1300.9l15.6 15.6m0 -15.6l-15.6 15.6M457.4 1301l15.6 15.6m0 -15.6l-15.6 15.6M458.5 1308.7l15.6 15.6m0 -15.6l-15.6 15.6M459.5 1298.7l15.6 15.6m0 -15.6l-15.6 15.6M460.5 1300.1l15.6 15.6m0 -15.6l-15.6 15.6M461.6 1308.2l15.6 15.6m0 -15.6l-15.6 15.6M462.6 1304.7l15.6 15.6m0 -15.6l-15.6 15.6M463.7 1306.3l15.6 15.6m0 -15.6l-15.6 15.6M464.7 1299.6l15.6 15.6m0 -15.6l-15.6 15.6M465.8 1296.9l15.6 15.6m0 -15.6l-15.6 15.6M466.8 1305.9l15.6 15.6m0 -15.6l-15.6 15.6M467.8 1306.1l15.6 15.6m0 -15.6l-15.6 15.6M468.9 1304.5l15.6 15.6m0 -15.6l-15.6 15.6M469.9 1298.6l15.6 15.6m0 -15.6l-15.6 15.6M471 1307.9l15.6 15.6m0 -15.6l-15.6 15.6M472 1300.3l15.6 15.6m0 -15.6l-15.6 15.6M473.1 1305.6l15.6 15.6m0 -15.6l-15.6 15.6M474.1 1300l15.6 15.6m0 -15.6l-15.6 15.6M475.1 1297.7l15.6 15.6m0 -15.6l-15.6 15.6M476.2 1304.9l15.6 15.6m0 -15.6l-15.6 15.6M477.2 1298.1l15.6 15.6m0 -15.6l-15.6 15.6M478.3 1301.6l15.6 15.6m0 -15.6l-15.6 15.6M479.3 1302.2l15.6 15.6m0 -15.6l-15.6 15.6M480.3 1301.5l15.6 15.6m0 -15.6l-15.6 15.6M481.4 1308.9l15.6 15.6m0 -15.6l-15.6 15.6M482.4 1307.5l15.6 15.6m0 -15.6l-15.6 15.6M483.5 1300.5l15.6 15.6m0 -15.6l-15.6 15.6M484.5 1297.2l15.6 15.6m0 -15.6l-15.6 15.6M485.6 1309.2l15.6 15.6m0 -15.6l-15.6 15.6M486.6 1301.5l15.6 15.6m0 -15.6l-15.6 15.6M487.6 1296.3l15.6 15.6m0 -15.6l-15.6 15.6M488.7 1301l15.6 15.6m0 -15.6l-15.6 15.6M489.7 1297.4l15.6 15.6m0 -15.6l-15.6 15.6M490.8 1296.9l15.6 15.6m0 -15.6l-15.6 15.6M491.8 1302.7l15.6 15.6m0 -15.6l-15.6 15.6M492.9 1301l15.6 15.6m0 -15.6l-15.6 15.6M493.9 1296.9l15.6 15.6m0 -15.6l-15.6 15.6M494.9 1308l15.6 15.6m0 -15.6l-15.6 15.6M496 1300.4l15.6 15.6m0 -15.6l-15.6 15.6M497 1299.3l15.6 15.6m0 -15.6l-15.6 15.6M498.1 1297.8l15.6 15.6m0 -15.6l-15.6 15.6M499.1 1301.9l15.6 15.6m0 -15.6l-15.6 15.6M500.1 1298.3l15.6 15.6m0 -15.6l-15.6 15.6M501.2 1297.6l15.6 15.6m0 -15.6l-15.6 15.6M502.2 1309.4l15.6 15.6m0 -15.6l-15.6 15.6M503.3 1308.7l15.6 15.6m0 -15.6l-15.6 15.6M504.3 1307.4l15.6 15.6m0 -15.6l-15.6 15.6M505.4 1298.2l15.6 15.6m0 -15.6l-15.6 15.6M506.4 1305.8l15.6 15.6m0 -15.6l-15.6 15.6M507.4 1308.9l15.6 15.6m0 -15.6l-15.6 15.6M508.5 1300.1l15.6 15.6m0 -15.6l-15.6 15.6M509.5 1307.6l15.6 15.6m0 -15.6l-15.6 15.6M510.6 1305.6l15.6 15.6m0 -15.6l-15.6 15.6M511.6 1298.7l15.6 15.6m0 -15.6l-15.6 15.6M512.6 1302l15.6 15.6m0 -15.6l-15.6 15.6M513.7 1299.9l15.6 15.6m0 -15.6l-15.6 15.6M514.7 1304.6l15.6 15.6m0 -15.6l-15.6 15.6M515.8 1299.7l15.6 15.6m0 -15.6l-15.6 15.6M516.8 1299.2l15.6 15.6m0 -15.6l-15.6 15.6M517.9 1309.5l15.6 15.6m0 -15.6l-15.6 15.6M518.9 1301l15.6 15.6m0 -15.6l-15.6 15.6M519.9 1301.8l15.6 15.6m0 -15.6l-15.6 15.6M521 1301.6l15.6 15.6m0 -15.6l-15.6 15.6M522 1303l15.6 15.6m0 -15.6l-15.6 15.6M523.1 1294.6l15.6 15.6m0 -15.6l-15.6 15.6M524.1 1301.7l15.6 15.6m0 -15.6l-15.6 15.6M525.2 1307.1l15.6 15.6m0 -15.6l-15.6 15.6M526.2 1295.2l15.6 15.6m0 -15.6l-15.6 15.6M527.2 1307.6l15.6 15.6m0 -15.6l-15.6 15.6M528.3 1303.6l15.6 15.6m0 -15.6l-15.6 15.6M529.3 1298l15.6 15.6m0 -15.6l-15.6 15.6M530.4 1300l15.6 15.6m0 -15.6l-15.6 15.6M531.4 1306l15.6 15.6m0 -15.6l-15.6 15.6M532.4 1298.4l15.6 15.6m0 -15.6l-15.6 15.6M533.5 1304.3l15.6 15.6m0 -15.6l-15.6 15.6M534.5 1300.3l15.6 15.6m0 -15.6l-15.6 15.6M535.6 1302.1l15.6 15.6m0 -15.6l-15.6 15.6M536.6 1301.7l15.6 15.6m0 -15.6l-15.6 15.6M537.7 1298.8l15.6 15.6m0 -15.6l-15.6 15.6M538.7 1308l15.6 15.6m0 -15.6l-15.6 15.6M539.7 1298.9l15.6 15.6m0 -15.6l-15.6 15.6M540.8 1303.9l15.6 15.6m0 -15.6l-15.6 15.6M541.8 1308.6l15.6 15.6m0 -15.6l-15.6 15.6M542.9 1306.4l15.6 15.6m0 -15.6l-15.6 15.6M543.9 1307.7l15.6 15.6m0 -15.6l-15.6 15.6M544.9 1308.3l15.6 15.6m0 -15.6l-15.6 15.6M546 1298l15.6 15.6m0 -15.6l-15.6 15.6M547 1305.4l15.6 15.6m0 -15.6l-15.6 15.6M548.1 1299.5l15.6 15.6m0 -15.6l-15.6 15.6M549.1 1295.9l15.6 15.6m0 -15.6l-15.6 15.6M550.2 1308.1l15.6 15.6m0 -15.6l-15.6 15.6M551.2 1303.9l15.6 15.6m0 -15.6l-15.6 15.6M552.2 1296.4l15.6 15.6m0 -15.6l-15.6 15.6M553.3 1304.1l15.6 15.6m0 -15.6l-15.6 15.6M554.3 1302.5l15.6 15.6m0 -15.6l-15.6 15.6M555.4 1303.9l15.6 15.6m0 -15.6l-15.6 15.6M556.4 1297.2l15.6 15.6m0 -15.6l-15.6 15.6M557.5 1297.5l15.6 15.6m0 -15.6l-15.6 15.6M558.5 1302.6l15.6 15.6m0 -15.6l-15.6 15.6M559.5 1308.9l15.6 15.6m0 -15.6l-15.6 15.6M560.6 1296.8l15.6 15.6m0 -15.6l-15.6 15.6M561.6 1304.9l15.6 15.6m0 -15.6l-15.6 15.6M562.7 1298.4l15.6 15.6m0 -15.6l-15.6 15.6M563.7 1296.8l15.6 15.6m0 -15.6l-15.6 15.6M564.7 1302l15.6 15.6m0 -15.6l-15.6 15.6M565.8 1306.8l15.6 15.6m0 -15.6l-15.6 15.6M566.8 1303.7l15.6 15.6m0 -15.6l-15.6 15.6M567.9 1305.9l15.6 15.6m0 -15.6l-15.6 15.6M568.9 1304.5l15.6 15.6m0 -15.6l-15.6 15.6M570 1294.6l15.6 15.6m0 -15.6l-15.6 15.6M571 1295.5l15.6 15.6m0 -15.6l-15.6 15.6M572 1305.7l15.6 15.6m0 -15.6l-15.6 15.6M573.1 1300.3l15.6 15.6m0 -15.6l-15.6 15.6M574.1 1301.1l15.6 15.6m0 -15.6l-15.6 15.6M575.2 1307.4l15.6 15.6m0 -15.6l-15.6 15.6M576.2 1295.2l15.6 15.6m0 -15.6l-15.6 15.6M577.3 1304.7l15.6 15.6m0 -15.6l-15.6 15.6M578.3 1307l15.6 15.6m0 -15.6l-15.6 15.6M579.3 1295.5l15.6 15.6m0 -15.6l-15.6 15.6M580.4 1299l15.6 15.6m0 -15.6l-15.6 15.6M581.4 1291.9l15.6 15.6m0 -15.6l-15.6 15.6M582.5 1308.4l15.6 15.6m0 -15.6l-15.6 15.6M583.5 1302.8l15.6 15.6m0 -15.6l-15.6 15.6M584.5 1296.7l15.6 15.6m0 -15.6l-15.6 15.6M585.6 1300.2l15.6 15.6m0 -15.6l-15.6 15.6M586.6 1295l15.6 15.6m0 -15.6l-15.6 15.6M587.7 1306.6l15.6 15.6m0 -15.6l-15.6 15.6M588.7 1298.9l15.6 15.6m0 -15.6l-15.6 15.6M589.8 1300.3l15.6 15.6m0 -15.6l-15.6 15.6M590.8 1306.8l15.6 15.6m0 -15.6l-15.6 15.6M591.8 1303.5l15.6 15.6m0 -15.6l-15.6 15.6M592.9 1302.7l15.6 15.6m0 -15.6l-15.6 15.6M593.9 1297.2l15.6 15.6m0 -15.6l-15.6 15.6M595 1304l15.6 15.6m0 -15.6l-15.6 15.6M596 1297.8l15.6 15.6m0 -15.6l-15.6 15.6M597 1296.5l15.6 15.6m0 -15.6l-15.6 15.6M598.1 1294.2l15.6 15.6m0 -15.6l-15.6 15.6M599.1 1301.8l15.6 15.6m0 -15.6l-15.6 15.6M600.2 1302.5l15.6 15.6m0 -15.6l-15.6 15.6M601.2 1294.6l15.6 15.6m0 -15.6l-15.6 15.6M602.3 1305.2l15.6 15.6m0 -15.6l-15.6 15.6M603.3 1303.5l15.6 15.6m0 -15.6l-15.6 15.6M604.3 1293.6l15.6 15.6m0 -15.6l-15.6 15.6M605.4 1302.7l15.6 15.6m0 -15.6l-15.6 15.6M606.4 1301.4l15.6 15.6m0 -15.6l-15.6 15.6M607.5 1306.4l15.6 15.6m0 -15.6l-15.6 15.6M608.5 1296.2l15.6 15.6m0 -15.6l-15.6 15.6M609.6 1302.6l15.6 15.6m0 -15.6l-15.6 15.6M610.6 1302.6l15.6 15.6m0 -15.6l-15.6 15.6M611.6 1306.9l15.6 15.6m0 -15.6l-15.6 15.6M612.7 1306.9l15.6 15.6m0 -15.6l-15.6 15.6M613.7 1305.1l15.6 15.6m0 -15.6l-15.6 15.6M614.8 1302.3l15.6 15.6m0 -15.6l-15.6 15.6M615.8 1303.8l15.6 15.6m0 -15.6l-15.6 15.6M616.8 1302l15.6 15.6m0 -15.6l-15.6 15.6M617.9 1303.6l15.6 15.6m0 -15.6l-15.6 15.6M618.9 1293.4l15.6 15.6m0 -15.6l-15.6 15.6M620 1303l15.6 15.6m0 -15.6l-15.6 15.6M621 1298.1l15.6 15.6m0 -15.6l-15.6 15.6M622.1 1299.8l15.6 15.6m0 -15.6l-15.6 15.6M623.1 1297.5l15.6 15.6m0 -15.6l-15.6 15.6M624.1 1293.9l15.6 15.6m0 -15.6l-15.6 15.6M625.2 1296.1l15.6 15.6m0 -15.6l-15.6 15.6M626.2 1302.3l15.6 15.6m0 -15.6l-15.6 15.6M627.3 1299.7l15.6 15.6m0 -15.6l-15.6 15.6M628.3 1302l15.6 15.6m0 -15.6l-15.6 15.6M629.4 1297l15.6 15.6m0 -15.6l-15.6 15.6M630.4 1303.5l15.6 15.6m0 -15.6l-15.6 15.6M631.4 1298.3l15.6 15.6m0 -15.6l-15.6 15.6M632.5 1297.2l15.6 15.6m0 -15.6l-15.6 15.6M633.5 1299.2l15.6 15.6m0 -15.6l-15.6 15.6M634.6 1297.5l15.6 15.6m0 -15.6l-15.6 15.6M635.6 1297.8l15.6 15.6m0 -15.6l-15.6 15.6M636.6 1301.5l15.6 15.6m0 -15.6l-15.6 15.6M637.7 1301.8l15.6 15.6m0 -15.6l-15.6 15.6M638.7 1297.4l15.6 15.6m0 -15.6l-15.6 15.6M639.8 1301.5l15.6 15.6m0 -15.6l-15.6 15.6M640.8 1296.3l15.6 15.6m0 -15.6l-15.6 15.6M641.9 1297.2l15.6 15.6m0 -15.6l-15.6 15.6M642.9 1303.9l15.6 15.6m0 -15.6l-15.6 15.6M643.9 1303.3l15.6 15.6m0 -15.6l-15.6 15.6M645 1303.8l15.6 15.6m0 -15.6l-15.6 15.6M646 1300.7l15.6 15.6m0 -15.6l-15.6 15.6M647.1 1306.1l15.6 15.6m0 -15.6l-15.6 15.6M648.1 1299.8l15.6 15.6m0 -15.6l-15.6 15.6M649.1 1300.9l15.6 15.6m0 -15.6l-15.6 15.6M650.2 1305l15.6 15.6m0 -15.6l-15.6 15.6M651.2 1296l15.6 15.6m0 -15.6l-15.6 15.6M652.3 1306.7l15.6 15.6m0 -15.6l-15.6 15.6M653.3 1296.7l15.6 15.6m0 -15.6l-15.6 15.6M654.4 1303.1l15.6 15.6m0 -15.6l-15.6 15.6M655.4 1296l15.6 15.6m0 -15.6l-15.6 15.6M656.4 1293.7l15.6 15.6m0 -15.6l-15.6 15.6M657.5 1303.3l15.6 15.6m0 -15.6l-15.6 15.6M658.5 1295.7l15.6 15.6m0 -15.6l-15.6 15.6M659.6 1300.2l15.6 15.6m0 -15.6l-15.6 15.6M660.6 1295.1l15.6 15.6m0 -15.6l-15.6 15.6M661.7 1304.1l15.6 15.6m0 -15.6l-15.6 15.6M662.7 1304.3l15.6 15.6m0 -15.6l-15.6 15.6M663.7 1297.6l15.6 15.6m0 -15.6l-15.6 15.6M664.8 1298.4l15.6 15.6m0 -15.6l-15.6 15.6M665.8 1305.1l15.6 15.6m0 -15.6l-15.6 15.6M666.9 1297.9l15.6 15.6m0 -15.6l-15.6 15.6M667.9 1297.6l15.6 15.6m0 -15.6l-15.6 15.6M668.9 1303.4l15.6 15.6m0 -15.6l-15.6 15.6M670 1297.9l15.6 15.6m0 -15.6l-15.6 15.6M671 1303.1l15.6 15.6m0 -15.6l-15.6 15.6M672.1 1292.1l15.6 15.6m0 -15.6l-15.6 15.6M673.1 1297.4l15.6 15.6m0 -15.6l-15.6 15.6M674.2 1299.3l15.6 15.6m0 -15.6l-15.6 15.6M675.2 1298.7l15.6 15.6m0 -15.6l-15.6 15.6M676.2 1298.2l15.6 15.6m0 -15.6l-15.6 15.6M677.3 1298.2l15.6 15.6m0 -15.6l-15.6 15.6M678.3 1296.8l15.6 15.6m0 -15.6l-15.6 15.6M679.4 1294.7l15.6 15.6m0 -15.6l-15.6 15.6M680.4 1298.6l15.6 15.6m0 -15.6l-15.6 15.6M681.5 1294.2l15.6 15.6m0 -15.6l-15.6 15.6M682.5 1293.6l15.6 15.6m0 -15.6l-15.6 15.6M683.5 1291.2l15.6 15.6m0 -15.6l-15.6 15.6M684.6 1295.7l15.6 15.6m0 -15.6l-15.6 15.6M685.6 1296l15.6 15.6m0 -15.6l-15.6 15.6M686.7 1304.9l15.6 15.6m0 -15.6l-15.6 15.6M687.7 1302.8l15.6 15.6m0 -15.6l-15.6 15.6M688.7 1293l15.6 15.6m0 -15.6l-15.6 15.6M689.8 1297.8l15.6 15.6m0 -15.6l-15.6 15.6M690.8 1295l15.6 15.6m0 -15.6l-15.6 15.6M691.9 1294.9l15.6 15.6m0 -15.6l-15.6 15.6M692.9 1291.3l15.6 15.6m0 -15.6l-15.6 15.6M694 1300.1l15.6 15.6m0 -15.6l-15.6 15.6M695 1294.8l15.6 15.6m0 -15.6l-15.6 15.6M696 1294.6l15.6 15.6m0 -15.6l-15.6 15.6M697.1 1305.1l15.6 15.6m0 -15.6l-15.6 15.6M698.1 1294.3l15.6 15.6m0 -15.6l-15.6 15.6M699.2 1302.1l15.6 15.6m0 -15.6l-15.6 15.6M700.2 1298.8l15.6 15.6m0 -15.6l-15.6 15.6M701.2 1303.6l15.6 15.6m0 -15.6l-15.6 15.6M702.3 1305.9l15.6 15.6m0 -15.6l-15.6 15.6M703.3 1300l15.6 15.6m0 -15.6l-15.6 15.6M704.4 1297.1l15.6 15.6m0 -15.6l-15.6 15.6M705.4 1295.4l15.6 15.6m0 -15.6l-15.6 15.6M706.5 1297.2l15.6 15.6m0 -15.6l-15.6 15.6M707.5 1292.8l15.6 15.6m0 -15.6l-15.6 15.6M708.5 1302.1l15.6 15.6m0 -15.6l-15.6 15.6M709.6 1303.5l15.6 15.6m0 -15.6l-15.6 15.6M710.6 1292.1l15.6 15.6m0 -15.6l-15.6 15.6M711.7 1300.8l15.6 15.6m0 -15.6l-15.6 15.6M712.7 1301.4l15.6 15.6m0 -15.6l-15.6 15.6M713.8 1303.2l15.6 15.6m0 -15.6l-15.6 15.6M714.8 1304.4l15.6 15.6m0 -15.6l-15.6 15.6M715.8 1292.5l15.6 15.6m0 -15.6l-15.6 15.6M716.9 1301.6l15.6 15.6m0 -15.6l-15.6 15.6M717.9 1293.5l15.6 15.6m0 -15.6l-15.6 15.6M719 1297.1l15.6 15.6m0 -15.6l-15.6 15.6M720 1304l15.6 15.6m0 -15.6l-15.6 15.6M721 1298.5l15.6 15.6m0 -15.6l-15.6 15.6M722.1 1300.1l15.6 15.6m0 -15.6l-15.6 15.6M723.1 1296l15.6 15.6m0 -15.6l-15.6 15.6M724.2 1291.8l15.6 15.6m0 -15.6l-15.6 15.6M725.2 1296.2l15.6 15.6m0 -15.6l-15.6 15.6M726.3 1292.1l15.6 15.6m0 -15.6l-15.6 15.6M727.3 1294.6l15.6 15.6m0 -15.6l-15.6 15.6M728.3 1295.2l15.6 15.6m0 -15.6l-15.6 15.6M729.4 1292.8l15.6 15.6m0 -15.6l-15.6 15.6M730.4 1298.2l15.6 15.6m0 -15.6l-15.6 15.6M731.5 1296.7l15.6 15.6m0 -15.6l-15.6 15.6M732.5 1296.9l15.6 15.6m0 -15.6l-15.6 15.6M733.6 1293.3l15.6 15.6m0 -15.6l-15.6 15.6M734.6 1292.7l15.6 15.6m0 -15.6l-15.6 15.6M735.6 1295.6l15.6 15.6m0 -15.6l-15.6 15.6M736.7 1295.3l15.6 15.6m0 -15.6l-15.6 15.6M737.7 1299.3l15.6 15.6m0 -15.6l-15.6 15.6M738.8 1298.3l15.6 15.6m0 -15.6l-15.6 15.6M739.8 1301.7l15.6 15.6m0 -15.6l-15.6 15.6M740.8 1293.7l15.6 15.6m0 -15.6l-15.6 15.6M741.9 1301.7l15.6 15.6m0 -15.6l-15.6 15.6M742.9 1300.5l15.6 15.6m0 -15.6l-15.6 15.6M744 1295.6l15.6 15.6m0 -15.6l-15.6 15.6M745 1296.4l15.6 15.6m0 -15.6l-15.6 15.6M746.1 1295.4l15.6 15.6m0 -15.6l-15.6 15.6M747.1 1302.1l15.6 15.6m0 -15.6l-15.6 15.6M748.1 1297l15.6 15.6m0 -15.6l-15.6 15.6M749.2 1290.6l15.6 15.6m0 -15.6l-15.6 15.6M750.2 1297.3l15.6 15.6m0 -15.6l-15.6 15.6M751.3 1292.9l15.6 15.6m0 -15.6l-15.6 15.6M752.3 1300.3l15.6 15.6m0 -15.6l-15.6 15.6M753.3 1291.2l15.6 15.6m0 -15.6l-15.6 15.6M754.4 1298.3l15.6 15.6m0 -15.6l-15.6 15.6M755.4 1301l15.6 15.6m0 -15.6l-15.6 15.6M756.5 1303.9l15.6 15.6m0 -15.6l-15.6 15.6M757.5 1302.7l15.6 15.6m0 -15.6l-15.6 15.6M758.6 1299.7l15.6 15.6m0 -15.6l-15.6 15.6M759.6 1290.8l15.6 15.6m0 -15.6l-15.6 15.6M760.6 1299.8l15.6 15.6m0 -15.6l-15.6 15.6M761.7 1297l15.6 15.6m0 -15.6l-15.6 15.6M762.7 1292l15.6 15.6m0 -15.6l-15.6 15.6M763.8 1288.8l15.6 15.6m0 -15.6l-15.6 15.6M764.8 1291.3l15.6 15.6m0 -15.6l-15.6 15.6M765.9 1299.7l15.6 15.6m0 -15.6l-15.6 15.6M766.9 1293.3l15.6 15.6m0 -15.6l-15.6 15.6M767.9 1299.4l15.6 15.6m0 -15.6l-15.6 15.6M769 1294.2l15.6 15.6m0 -15.6l-15.6 15.6M770 1296.2l15.6 15.6m0 -15.6l-15.6 15.6M771.1 1291.1l15.6 15.6m0 -15.6l-15.6 15.6M772.1 1298.4l15.6 15.6m0 -15.6l-15.6 15.6M773.1 1297.4l15.6 15.6m0 -15.6l-15.6 15.6M774.2 1297.5l15.6 15.6m0 -15.6l-15.6 15.6M775.2 1290.3l15.6 15.6m0 -15.6l-15.6 15.6M776.3 1290.8l15.6 15.6m0 -15.6l-15.6 15.6M777.3 1300.1l15.6 15.6m0 -15.6l-15.6 15.6M778.4 1291.2l15.6 15.6m0 -15.6l-15.6 15.6M779.4 1299.5l15.6 15.6m0 -15.6l-15.6 15.6M780.4 1293.9l15.6 15.6m0 -15.6l-15.6 15.6M781.5 1296.8l15.6 15.6m0 -15.6l-15.6 15.6M782.5 1290.3l15.6 15.6m0 -15.6l-15.6 15.6M783.6 1301.4l15.6 15.6m0 -15.6l-15.6 15.6M784.6 1300.8l15.6 15.6m0 -15.6l-15.6 15.6M785.7 1289l15.6 15.6m0 -15.6l-15.6 15.6M786.7 1298.2l15.6 15.6m0 -15.6l-15.6 15.6M787.7 1298.2l15.6 15.6m0 -15.6l-15.6 15.6M788.8 1298.1l15.6 15.6m0 -15.6l-15.6 15.6M789.8 1298.7l15.6 15.6m0 -15.6l-15.6 15.6M790.9 1294.2l15.6 15.6m0 -15.6l-15.6 15.6M791.9 1294l15.6 15.6m0 -15.6l-15.6 15.6M792.9 1289.7l15.6 15.6m0 -15.6l-15.6 15.6M794 1292.7l15.6 15.6m0 -15.6l-15.6 15.6M795 1288.8l15.6 15.6m0 -15.6l-15.6 15.6M796.1 1292.4l15.6 15.6m0 -15.6l-15.6 15.6M797.1 1300.5l15.6 15.6m0 -15.6l-15.6 15.6M798.2 1301.4l15.6 15.6m0 -15.6l-15.6 15.6M799.2 1300.9l15.6 15.6m0 -15.6l-15.6 15.6M800.2 1297.8l15.6 15.6m0 -15.6l-15.6 15.6M801.3 1297.3l15.6 15.6m0 -15.6l-15.6 15.6M802.3 1299.4l15.6 15.6m0 -15.6l-15.6 15.6M803.4 1302.1l15.6 15.6m0 -15.6l-15.6 15.6M804.4 1303.1l15.6 15.6m0 -15.6l-15.6 15.6M805.4 1299.6l15.6 15.6m0 -15.6l-15.6 15.6M806.5 1295.8l15.6 15.6m0 -15.6l-15.6 15.6M807.5 1300.1l15.6 15.6m0 -15.6l-15.6 15.6M808.6 1296l15.6 15.6m0 -15.6l-15.6 15.6M809.6 1290.4l15.6 15.6m0 -15.6l-15.6 15.6M810.7 1290.8l15.6 15.6m0 -15.6l-15.6 15.6M811.7 1296.7l15.6 15.6m0 -15.6l-15.6 15.6M812.7 1292.7l15.6 15.6m0 -15.6l-15.6 15.6M813.8 1299.9l15.6 15.6m0 -15.6l-15.6 15.6M814.8 1290.6l15.6 15.6m0 -15.6l-15.6 15.6M815.9 1292.7l15.6 15.6m0 -15.6l-15.6 15.6M816.9 1291.2l15.6 15.6m0 -15.6l-15.6 15.6M818 1301.1l15.6 15.6m0 -15.6l-15.6 15.6M819 1295.1l15.6 15.6m0 -15.6l-15.6 15.6M820 1293.6l15.6 15.6m0 -15.6l-15.6 15.6M821.1 1287.5l15.6 15.6m0 -15.6l-15.6 15.6M822.1 1291.9l15.6 15.6m0 -15.6l-15.6 15.6M823.2 1299.5l15.6 15.6m0 -15.6l-15.6 15.6M824.2 1289.4l15.6 15.6m0 -15.6l-15.6 15.6M825.2 1289.9l15.6 15.6m0 -15.6l-15.6 15.6M826.3 1298.5l15.6 15.6m0 -15.6l-15.6 15.6M827.3 1296.3l15.6 15.6m0 -15.6l-15.6 15.6M828.4 1297.8l15.6 15.6m0 -15.6l-15.6 15.6M829.4 1298.4l15.6 15.6m0 -15.6l-15.6 15.6M830.5 1298.4l15.6 15.6m0 -15.6l-15.6 15.6M831.5 1298.6l15.6 15.6m0 -15.6l-15.6 15.6M832.5 1292.1l15.6 15.6m0 -15.6l-15.6 15.6M833.6 1297.3l15.6 15.6m0 -15.6l-15.6 15.6M834.6 1300.2l15.6 15.6m0 -15.6l-15.6 15.6M835.7 1300l15.6 15.6m0 -15.6l-15.6 15.6M836.7 1301.2l15.6 15.6m0 -15.6l-15.6 15.6M837.8 1291.9l15.6 15.6m0 -15.6l-15.6 15.6M838.8 1292.9l15.6 15.6m0 -15.6l-15.6 15.6M839.8 1295.7l15.6 15.6m0 -15.6l-15.6 15.6M840.9 1299l15.6 15.6m0 -15.6l-15.6 15.6M841.9 1292.6l15.6 15.6m0 -15.6l-15.6 15.6M843 1298.4l15.6 15.6m0 -15.6l-15.6 15.6M844 1298l15.6 15.6m0 -15.6l-15.6 15.6M845 1291.5l15.6 15.6m0 -15.6l-15.6 15.6M846.1 1297.1l15.6 15.6m0 -15.6l-15.6 15.6M847.1 1294.5l15.6 15.6m0 -15.6l-15.6 15.6M848.2 1300.1l15.6 15.6m0 -15.6l-15.6 15.6M849.2 1289.6l15.6 15.6m0 -15.6l-15.6 15.6M850.3 1297l15.6 15.6m0 -15.6l-15.6 15.6M851.3 1293.3l15.6 15.6m0 -15.6l-15.6 15.6M852.3 1296.2l15.6 15.6m0 -15.6l-15.6 15.6M853.4 1295.3l15.6 15.6m0 -15.6l-15.6 15.6M854.4 1290.7l15.6 15.6m0 -15.6l-15.6 15.6M855.5 1293.8l15.6 15.6m0 -15.6l-15.6 15.6M856.5 1296.8l15.6 15.6m0 -15.6l-15.6 15.6M857.5 1301.2l15.6 15.6m0 -15.6l-15.6 15.6M858.6 1300.6l15.6 15.6m0 -15.6l-15.6 15.6M859.6 1298.8l15.6 15.6m0 -15.6l-15.6 15.6M860.7 1295.7l15.6 15.6m0 -15.6l-15.6 15.6M861.7 1299.9l15.6 15.6m0 -15.6l-15.6 15.6M862.8 1301.1l15.6 15.6m0 -15.6l-15.6 15.6M863.8 1293.1l15.6 15.6m0 -15.6l-15.6 15.6M864.8 1300.3l15.6 15.6m0 -15.6l-15.6 15.6M865.9 1299.2l15.6 15.6m0 -15.6l-15.6 15.6M866.9 1291.8l15.6 15.6m0 -15.6l-15.6 15.6M868 1291.2l15.6 15.6m0 -15.6l-15.6 15.6M869 1300.4l15.6 15.6m0 -15.6l-15.6 15.6M870.1 1300.2l15.6 15.6m0 -15.6l-15.6 15.6M871.1 1292.4l15.6 15.6m0 -15.6l-15.6 15.6M872.1 1286.3l15.6 15.6m0 -15.6l-15.6 15.6M873.2 1289.4l15.6 15.6m0 -15.6l-15.6 15.6M874.2 1291l15.6 15.6m0 -15.6l-15.6 15.6M875.3 1291l15.6 15.6m0 -15.6l-15.6 15.6M876.3 1286.9l15.6 15.6m0 -15.6l-15.6 15.6M877.3 1296l15.6 15.6m0 -15.6l-15.6 15.6M878.4 1290.7l15.6 15.6m0 -15.6l-15.6 15.6M879.4 1291.8l15.6 15.6m0 -15.6l-15.6 15.6M880.5 1300.2l15.6 15.6m0 -15.6l-15.6 15.6M881.5 1288.7l15.6 15.6m0 -15.6l-15.6 15.6M882.6 1292.7l15.6 15.6m0 -15.6l-15.6 15.6M883.6 1290.2l15.6 15.6m0 -15.6l-15.6 15.6M884.6 1288.2l15.6 15.6m0 -15.6l-15.6 15.6M885.7 1299.4l15.6 15.6m0 -15.6l-15.6 15.6M886.7 1293.3l15.6 15.6m0 -15.6l-15.6 15.6M887.8 1295.2l15.6 15.6m0 -15.6l-15.6 15.6M888.8 1300l15.6 15.6m0 -15.6l-15.6 15.6M889.8 1288.2l15.6 15.6m0 -15.6l-15.6 15.6M890.9 1290.9l15.6 15.6m0 -15.6l-15.6 15.6M891.9 1299.7l15.6 15.6m0 -15.6l-15.6 15.6M893 1297l15.6 15.6m0 -15.6l-15.6 15.6M894 1293.9l15.6 15.6m0 -15.6l-15.6 15.6M895.1 1299.9l15.6 15.6m0 -15.6l-15.6 15.6M896.1 1295.4l15.6 15.6m0 -15.6l-15.6 15.6M897.1 1293.6l15.6 15.6m0 -15.6l-15.6 15.6M898.2 1299.6l15.6 15.6m0 -15.6l-15.6 15.6M899.2 1287.8l15.6 15.6m0 -15.6l-15.6 15.6M900.3 1290.2l15.6 15.6m0 -15.6l-15.6 15.6M901.3 1292.7l15.6 15.6m0 -15.6l-15.6 15.6M902.4 1295.6l15.6 15.6m0 -15.6l-15.6 15.6M903.4 1289.2l15.6 15.6m0 -15.6l-15.6 15.6M904.4 1300.7l15.6 15.6m0 -15.6l-15.6 15.6M905.5 1291.9l15.6 15.6m0 -15.6l-15.6 15.6M906.5 1295.7l15.6 15.6m0 -15.6l-15.6 15.6M907.6 1301.1l15.6 15.6m0 -15.6l-15.6 15.6M908.6 1291.4l15.6 15.6m0 -15.6l-15.6 15.6M909.6 1298.3l15.6 15.6m0 -15.6l-15.6 15.6M910.7 1294.6l15.6 15.6m0 -15.6l-15.6 15.6M911.7 1296.9l15.6 15.6m0 -15.6l-15.6 15.6M912.8 1293.1l15.6 15.6m0 -15.6l-15.6 15.6M913.8 1296.2l15.6 15.6m0 -15.6l-15.6 15.6M914.9 1296.6l15.6 15.6m0 -15.6l-15.6 15.6M915.9 1288.8l15.6 15.6m0 -15.6l-15.6 15.6M916.9 1300.1l15.6 15.6m0 -15.6l-15.6 15.6M918 1294.1l15.6 15.6m0 -15.6l-15.6 15.6M919 1293l15.6 15.6m0 -15.6l-15.6 15.6M920.1 1288.9l15.6 15.6m0 -15.6l-15.6 15.6M921.1 1289.7l15.6 15.6m0 -15.6l-15.6 15.6M922.2 1297.1l15.6 15.6m0 -15.6l-15.6 15.6M923.2 1300.4l15.6 15.6m0 -15.6l-15.6 15.6M924.2 1288.4l15.6 15.6m0 -15.6l-15.6 15.6M925.3 1288.5l15.6 15.6m0 -15.6l-15.6 15.6M926.3 1289.2l15.6 15.6m0 -15.6l-15.6 15.6M927.4 1289.1l15.6 15.6m0 -15.6l-15.6 15.6M928.4 1301l15.6 15.6m0 -15.6l-15.6 15.6M929.4 1292.5l15.6 15.6m0 -15.6l-15.6 15.6M930.5 1299.4l15.6 15.6m0 -15.6l-15.6 15.6M931.5 1287.9l15.6 15.6m0 -15.6l-15.6 15.6M932.6 1288.5l15.6 15.6m0 -15.6l-15.6 15.6" stroke="#A5A5A5"/><path d="M169 919h13.8v13.8h-13.8zM170.4 940.5h13.8v13.8h-13.8zM171.9 949.7h13.8v13.8h-13.8zM173.3 965.1h13.8v13.8h-13.8zM174.8 981.2h13.8v13.8h-13.8zM176.2 1002.5h13.8v13.8h-13.8zM177.6 1024.6h13.8v13.8h-13.8zM179.1 1034.3h13.8v13.8h-13.8zM180.5 1047.4h13.8v13.8h-13.8zM181.9 1067h13.8v13.8h-13.8zM183.4 1080.8h13.8v13.8h-13.8zM184.8 1092.3h13.8v13.8h-13.8zM186.3 1105.1h13.8v13.8h-13.8zM187.7 1112.5h13.8v13.8h-13.8zM189.1 1119.4h13.8v13.8h-13.8zM190.6 1122.7h13.8v13.8h-13.8zM192 1125.4h13.8v13.8h-13.8zM193.5 1132.8h13.8v13.8h-13.8zM194.9 1144.8h13.8v13.8h-13.8zM196.3 1152.4h13.8v13.8h-13.8zM197.8 1166.5h13.8v13.8h-13.8zM199.2 1164.6h13.8v13.8h-13.8zM200.7 1171.2h13.8v13.8h-13.8zM202.1 1169h13.8v13.8h-13.8zM203.5 1171.2h13.8v13.8h-13.8zM205 1190.3h13.8v13.8h-13.8zM206.3 1180.9h13.8v13.8h-13.8zM207.3 1192.9h13.8v13.8h-13.8zM208.3 1188h13.8v13.8h-13.8zM209.4 1187.9h13.8v13.8h-13.8zM210.4 1186.6h13.8v13.8h-13.8zM211.5 1189h13.8v13.8h-13.8zM212.5 1193.3h13.8v13.8h-13.8zM213.6 1191.4h13.8v13.8h-13.8zM214.6 1198.9h13.8v13.8h-13.8zM215.6 1206.9h13.8v13.8h-13.8zM216.7 1207.6h13.8v13.8h-13.8zM217.7 1202.1h13.8v13.8h-13.8zM218.8 1197.1h13.8v13.8h-13.8zM219.8 1203.4h13.8v13.8h-13.8zM220.8 1198.6h13.8v13.8h-13.8zM221.9 1210.2h13.8v13.8h-13.8zM222.9 1193.7h13.8v13.8h-13.8zM224 1205.5h13.8v13.8h-13.8zM225 1195.6h13.8v13.8h-13.8zM226.1 1198.9h13.8v13.8h-13.8zM227.1 1198.7h13.8v13.8h-13.8zM228.1 1204.6h13.8v13.8h-13.8zM229.2 1211.8h13.8v13.8h-13.8zM230.2 1203.9h13.8v13.8h-13.8zM231.3 1209.6h13.8v13.8h-13.8zM232.3 1206.8h13.8v13.8h-13.8zM233.4 1190.8h13.8v13.8h-13.8zM234.4 1207.3h13.8v13.8h-13.8zM235.4 1197.2h13.8v13.8h-13.8zM236.5 1211.9h13.8v13.8h-13.8zM237.5 1202h13.8v13.8h-13.8zM238.6 1206.7h13.8v13.8h-13.8zM239.6 1209.5h13.8v13.8h-13.8zM240.6 1206.3h13.8v13.8h-13.8zM241.7 1196.8h13.8v13.8h-13.8zM242.7 1203.2h13.8v13.8h-13.8zM243.8 1204.1h13.8v13.8h-13.8zM244.8 1196.5h13.8v13.8h-13.8zM245.9 1202.8h13.8v13.8h-13.8zM246.9 1211.5h13.8v13.8h-13.8zM247.9 1211.6h13.8v13.8h-13.8zM249 1198.6h13.8v13.8h-13.8zM250 1202h13.8v13.8h-13.8zM251.1 1208.7h13.8v13.8h-13.8zM252.1 1190.7h13.8v13.8h-13.8zM253.1 1204.5h13.8v13.8h-13.8zM254.2 1193h13.8v13.8h-13.8zM255.2 1199.4h13.8v13.8h-13.8zM256.3 1191.8h13.8v13.8h-13.8zM257.3 1194.2h13.8v13.8h-13.8zM258.4 1202.5h13.8v13.8h-13.8zM259.4 1189h13.8v13.8h-13.8zM260.4 1197.5h13.8v13.8h-13.8zM261.5 1195.3h13.8v13.8h-13.8zM262.5 1185.1h13.8v13.8h-13.8zM263.6 1181.8h13.8v13.8h-13.8zM264.6 1194.1h13.8v13.8h-13.8zM265.7 1184.7h13.8v13.8h-13.8zM266.7 1191.3h13.8v13.8h-13.8zM267.7 1186.5h13.8v13.8h-13.8zM268.8 1196.1h13.8v13.8h-13.8zM269.8 1178.2h13.8v13.8h-13.8zM270.9 1196.9h13.8v13.8h-13.8zM271.9 1182.1h13.8v13.8h-13.8zM272.9 1193.9h13.8v13.8h-13.8zM274 1192.5h13.8v13.8h-13.8zM275 1176h13.8v13.8h-13.8zM276.1 1178.5h13.8v13.8h-13.8zM277.1 1192.2h13.8v13.8h-13.8zM278.2 1185.4h13.8v13.8h-13.8zM279.2 1189.9h13.8v13.8h-13.8zM280.2 1172.3h13.8v13.8h-13.8zM281.3 1172.8h13.8v13.8h-13.8zM282.3 1175.8h13.8v13.8h-13.8zM283.4 1175h13.8v13.8h-13.8zM284.4 1177.3h13.8v13.8h-13.8zM285.5 1190.1h13.8v13.8h-13.8zM286.5 1189.5h13.8v13.8h-13.8zM287.5 1187.3h13.8v13.8h-13.8zM288.6 1176.7h13.8v13.8h-13.8zM289.6 1172h13.8v13.8h-13.8zM290.7 1181.7h13.8v13.8h-13.8zM291.7 1185.9h13.8v13.8h-13.8zM292.7 1176.7h13.8v13.8h-13.8zM293.8 1169.9h13.8v13.8h-13.8zM294.8 1179.5h13.8v13.8h-13.8zM295.9 1178.4h13.8v13.8h-13.8zM296.9 1183.9h13.8v13.8h-13.8zM298 1174.4h13.8v13.8h-13.8zM299 1189.9h13.8v13.8h-13.8zM300 1178.8h13.8v13.8h-13.8zM301.1 1186.2h13.8v13.8h-13.8zM302.1 1176.7h13.8v13.8h-13.8zM303.2 1181.1h13.8v13.8h-13.8zM304.2 1176.1h13.8v13.8h-13.8zM305.2 1181.1h13.8v13.8h-13.8zM306.3 1174.3h13.8v13.8h-13.8zM307.3 1182.3h13.8v13.8h-13.8zM308.4 1193.5h13.8v13.8h-13.8zM309.4 1174.5h13.8v13.8h-13.8zM310.5 1178.5h13.8v13.8h-13.8zM311.5 1176.4h13.8v13.8h-13.8zM312.5 1175.1h13.8v13.8h-13.8zM313.6 1192.4h13.8v13.8h-13.8zM314.6 1175.6h13.8v13.8h-13.8zM315.7 1194h13.8v13.8h-13.8zM316.7 1189.8h13.8v13.8h-13.8zM317.8 1193.7h13.8v13.8h-13.8zM318.8 1185.7h13.8v13.8h-13.8zM319.8 1193.5h13.8v13.8h-13.8zM320.9 1191.8h13.8v13.8h-13.8zM321.9 1186.5h13.8v13.8h-13.8zM323 1192.7h13.8v13.8h-13.8zM324 1188.6h13.8v13.8h-13.8zM325 1185.1h13.8v13.8h-13.8zM326.1 1200.3h13.8v13.8h-13.8zM327.1 1180.9h13.8v13.8h-13.8zM328.2 1185.1h13.8v13.8h-13.8zM329.2 1185.9h13.8v13.8h-13.8zM330.3 1187h13.8v13.8h-13.8zM331.3 1183.6h13.8v13.8h-13.8zM332.3 1199.8h13.8v13.8h-13.8zM333.4 1200.5h13.8v13.8h-13.8zM334.4 1189.8h13.8v13.8h-13.8zM335.5 1203.3h13.8v13.8h-13.8zM336.5 1189.6h13.8v13.8h-13.8zM337.6 1192.9h13.8v13.8h-13.8zM338.6 1188.1h13.8v13.8h-13.8zM339.6 1202.7h13.8v13.8h-13.8zM340.7 1200.7h13.8v13.8h-13.8zM341.7 1191.1h13.8v13.8h-13.8zM342.8 1200.8h13.8v13.8h-13.8zM343.8 1203.7h13.8v13.8h-13.8zM344.8 1205.3h13.8v13.8h-13.8zM345.9 1209.3h13.8v13.8h-13.8zM346.9 1199.3h13.8v13.8h-13.8zM348 1209.5h13.8v13.8h-13.8zM349 1201.6h13.8v13.8h-13.8zM350.1 1200.3h13.8v13.8h-13.8zM351.1 1205h13.8v13.8h-13.8zM352.1 1201.2h13.8v13.8h-13.8zM353.2 1195.9h13.8v13.8h-13.8zM354.2 1210.6h13.8v13.8h-13.8zM355.3 1202.5h13.8v13.8h-13.8zM356.3 1202.8h13.8v13.8h-13.8zM357.3 1207h13.8v13.8h-13.8zM358.4 1210.3h13.8v13.8h-13.8zM359.4 1213.2h13.8v13.8h-13.8zM360.5 1211.2h13.8v13.8h-13.8zM361.5 1211.7h13.8v13.8h-13.8zM362.6 1205.2h13.8v13.8h-13.8zM363.6 1215.7h13.8v13.8h-13.8zM364.6 1206.8h13.8v13.8h-13.8zM365.7 1209.3h13.8v13.8h-13.8zM366.7 1215.6h13.8v13.8h-13.8zM367.8 1213.4h13.8v13.8h-13.8zM368.8 1222h13.8v13.8h-13.8zM369.9 1211.6h13.8v13.8h-13.8zM370.9 1217.6h13.8v13.8h-13.8zM371.9 1224.4h13.8v13.8h-13.8zM373 1218h13.8v13.8h-13.8zM374 1217.9h13.8v13.8h-13.8zM375.1 1222h13.8v13.8h-13.8zM376.1 1218h13.8v13.8h-13.8zM377.1 1226.9h13.8v13.8h-13.8zM378.2 1227h13.8v13.8h-13.8zM379.2 1229.9h13.8v13.8h-13.8zM380.3 1230.3h13.8v13.8h-13.8zM381.3 1234.1h13.8v13.8h-13.8zM382.4 1231.9h13.8v13.8h-13.8zM383.4 1236.1h13.8v13.8h-13.8zM384.4 1238.6h13.8v13.8h-13.8zM385.5 1235.5h13.8v13.8h-13.8zM386.5 1241.7h13.8v13.8h-13.8zM387.6 1242.2h13.8v13.8h-13.8zM388.6 1235.9h13.8v13.8h-13.8zM389.7 1244.9h13.8v13.8h-13.8zM390.7 1244.2h13.8v13.8h-13.8zM391.7 1237.8h13.8v13.8h-13.8zM392.8 1239.8h13.8v13.8h-13.8zM393.8 1241.2h13.8v13.8h-13.8zM394.9 1251.7h13.8v13.8h-13.8zM395.9 1242.2h13.8v13.8h-13.8zM396.9 1250.3h13.8v13.8h-13.8zM398 1245.5h13.8v13.8h-13.8zM399 1242.7h13.8v13.8h-13.8zM400.1 1245.9h13.8v13.8h-13.8zM401.1 1253.5h13.8v13.8h-13.8zM402.2 1248.4h13.8v13.8h-13.8zM403.2 1254.9h13.8v13.8h-13.8zM404.2 1246.5h13.8v13.8h-13.8zM405.3 1254.8h13.8v13.8h-13.8zM406.3 1256.5h13.8v13.8h-13.8zM407.4 1253.6h13.8v13.8h-13.8zM408.4 1254.5h13.8v13.8h-13.8zM409.4 1249.7h13.8v13.8h-13.8zM410.5 1259.1h13.8v13.8h-13.8zM411.5 1252.8h13.8v13.8h-13.8zM412.6 1258.2h13.8v13.8h-13.8zM413.6 1251.2h13.8v13.8h-13.8zM414.7 1258.2h13.8v13.8h-13.8zM415.7 1264h13.8v13.8h-13.8zM416.7 1261h13.8v13.8h-13.8zM417.8 1258.5h13.8v13.8h-13.8zM418.8 1257.9h13.8v13.8h-13.8zM419.9 1263.5h13.8v13.8h-13.8zM420.9 1266.7h13.8v13.8h-13.8zM422 1261.8h13.8v13.8h-13.8zM423 1270.6h13.8v13.8h-13.8zM424 1264h13.8v13.8h-13.8zM425.1 1270.5h13.8v13.8h-13.8zM426.1 1267.9h13.8v13.8h-13.8zM427.2 1275.3h13.8v13.8h-13.8zM428.2 1274h13.8v13.8h-13.8zM429.2 1274.2h13.8v13.8h-13.8zM430.3 1275.6h13.8v13.8h-13.8zM431.3 1268.3h13.8v13.8h-13.8zM432.4 1269.4h13.8v13.8h-13.8zM433.4 1281.3h13.8v13.8h-13.8zM434.5 1275.4h13.8v13.8h-13.8zM435.5 1270.7h13.8v13.8h-13.8zM436.5 1272.7h13.8v13.8h-13.8zM437.6 1283h13.8v13.8h-13.8zM438.6 1274.4h13.8v13.8h-13.8zM439.7 1275.5h13.8v13.8h-13.8zM440.7 1274.5h13.8v13.8h-13.8zM441.7 1279h13.8v13.8h-13.8zM442.8 1282.1h13.8v13.8h-13.8zM443.8 1286.9h13.8v13.8h-13.8zM444.9 1281.8h13.8v13.8h-13.8zM445.9 1286.3h13.8v13.8h-13.8zM447 1287.3h13.8v13.8h-13.8zM448 1283.9h13.8v13.8h-13.8zM449 1291.1h13.8v13.8h-13.8zM450.1 1287.4h13.8v13.8h-13.8zM451.1 1289.9h13.8v13.8h-13.8zM452.2 1288.7h13.8v13.8h-13.8zM453.2 1291.6h13.8v13.8h-13.8zM454.3 1287.7h13.8v13.8h-13.8zM455.3 1286.2h13.8v13.8h-13.8zM456.3 1287.7h13.8v13.8h-13.8zM457.4 1285.6h13.8v13.8h-13.8zM458.4 1286.5h13.8v13.8h-13.8zM459.5 1289.7h13.8v13.8h-13.8zM460.5 1289.6h13.8v13.8h-13.8zM461.5 1297.9h13.8v13.8h-13.8zM462.6 1292.4h13.8v13.8h-13.8zM463.6 1288.8h13.8v13.8h-13.8zM464.7 1291.6h13.8v13.8h-13.8zM465.7 1288.7h13.8v13.8h-13.8zM466.8 1298.5h13.8v13.8h-13.8zM467.8 1301h13.8v13.8h-13.8zM468.8 1303h13.8v13.8h-13.8zM469.9 1303.4h13.8v13.8h-13.8zM470.9 1296.7h13.8v13.8h-13.8zM472 1295.5h13.8v13.8h-13.8zM473 1303h13.8v13.8h-13.8zM474.1 1292.9h13.8v13.8h-13.8zM475.1 1303.1h13.8v13.8h-13.8zM476.1 1304.2h13.8v13.8h-13.8zM477.2 1299.2h13.8v13.8h-13.8zM478.2 1307h13.8v13.8h-13.8zM479.3 1303h13.8v13.8h-13.8zM480.3 1301.2h13.8v13.8h-13.8zM481.3 1303.8h13.8v13.8h-13.8zM482.4 1307.5h13.8v13.8h-13.8zM483.4 1300.2h13.8v13.8h-13.8zM484.5 1306.3h13.8v13.8h-13.8zM485.5 1305.5h13.8v13.8h-13.8zM486.6 1308.2h13.8v13.8h-13.8zM487.6 1301.2h13.8v13.8h-13.8zM488.6 1312.5h13.8v13.8h-13.8zM489.7 1310.8h13.8v13.8h-13.8zM490.7 1305.1h13.8v13.8h-13.8zM491.8 1310.6h13.8v13.8h-13.8zM492.8 1304.6h13.8v13.8h-13.8zM493.8 1306.3h13.8v13.8h-13.8zM494.9 1310.5h13.8v13.8h-13.8zM495.9 1306h13.8v13.8h-13.8zM497 1308h13.8v13.8h-13.8zM498 1309h13.8v13.8h-13.8zM499.1 1311.6h13.8v13.8h-13.8zM500.1 1310.6h13.8v13.8h-13.8zM501.1 1306h13.8v13.8h-13.8zM502.2 1309.1h13.8v13.8h-13.8zM503.2 1316.1h13.8v13.8h-13.8zM504.3 1308.4h13.8v13.8h-13.8zM505.3 1313.9h13.8v13.8h-13.8zM506.4 1312.9h13.8v13.8h-13.8zM507.4 1312.9h13.8v13.8h-13.8zM508.4 1313.4h13.8v13.8h-13.8zM509.5 1314.6h13.8v13.8h-13.8zM510.5 1310.3h13.8v13.8h-13.8zM511.6 1314.5h13.8v13.8h-13.8zM512.6 1321.3h13.8v13.8h-13.8zM513.6 1319.3h13.8v13.8h-13.8zM514.7 1318.8h13.8v13.8h-13.8zM515.7 1311.5h13.8v13.8h-13.8zM516.8 1316.1h13.8v13.8h-13.8zM517.8 1315.7h13.8v13.8h-13.8zM518.9 1312.5h13.8v13.8h-13.8zM519.9 1314.8h13.8v13.8h-13.8zM520.9 1320.6h13.8v13.8h-13.8zM522 1321.7h13.8v13.8h-13.8zM523 1318.2h13.8v13.8h-13.8zM524.1 1320.8h13.8v13.8h-13.8zM525.1 1327.6h13.8v13.8h-13.8zM526.2 1322.1h13.8v13.8h-13.8zM527.2 1315.4h13.8v13.8h-13.8zM528.2 1318.6h13.8v13.8h-13.8zM529.3 1326.2h13.8v13.8h-13.8zM530.3 1319.1h13.8v13.8h-13.8zM531.4 1326h13.8v13.8h-13.8zM532.4 1315.6h13.8v13.8h-13.8zM533.4 1323.4h13.8v13.8h-13.8zM534.5 1318.8h13.8v13.8h-13.8zM535.5 1319h13.8v13.8h-13.8zM536.6 1317.2h13.8v13.8h-13.8zM537.6 1323.1h13.8v13.8h-13.8zM538.7 1324.9h13.8v13.8h-13.8zM539.7 1328.8h13.8v13.8h-13.8zM540.7 1322.3h13.8v13.8h-13.8zM541.8 1328.4h13.8v13.8h-13.8zM542.8 1328.8h13.8v13.8h-13.8zM543.9 1324.1h13.8v13.8h-13.8zM544.9 1323.4h13.8v13.8h-13.8zM545.9 1330.9h13.8v13.8h-13.8zM547 1324.5h13.8v13.8h-13.8zM548 1331.9h13.8v13.8h-13.8zM549.1 1332.7h13.8v13.8h-13.8zM550.1 1326.5h13.8v13.8h-13.8zM551.2 1324.9h13.8v13.8h-13.8zM552.2 1328.2h13.8v13.8h-13.8zM553.2 1328.2h13.8v13.8h-13.8zM554.3 1323.4h13.8v13.8h-13.8zM555.3 1327.8h13.8v13.8h-13.8zM556.4 1321.8h13.8v13.8h-13.8zM557.4 1328.6h13.8v13.8h-13.8zM558.5 1324.9h13.8v13.8h-13.8zM559.5 1327.2h13.8v13.8h-13.8zM560.5 1328.1h13.8v13.8h-13.8zM561.6 1330.3h13.8v13.8h-13.8zM562.6 1326.1h13.8v13.8h-13.8zM563.7 1329.9h13.8v13.8h-13.8zM564.7 1325.6h13.8v13.8h-13.8zM565.7 1327.3h13.8v13.8h-13.8zM566.8 1329.1h13.8v13.8h-13.8zM567.8 1333.4h13.8v13.8h-13.8zM568.9 1324.8h13.8v13.8h-13.8zM569.9 1328.6h13.8v13.8h-13.8zM571 1333.5h13.8v13.8h-13.8zM572 1328h13.8v13.8h-13.8zM573 1335.9h13.8v13.8h-13.8zM574.1 1338.7h13.8v13.8h-13.8zM575.1 1327.3h13.8v13.8h-13.8zM576.2 1335.3h13.8v13.8h-13.8zM577.2 1334.3h13.8v13.8h-13.8zM578.3 1333.5h13.8v13.8h-13.8zM579.3 1337.1h13.8v13.8h-13.8zM580.3 1332.9h13.8v13.8h-13.8zM581.4 1334h13.8v13.8h-13.8zM582.4 1340.2h13.8v13.8h-13.8zM583.5 1335.7h13.8v13.8h-13.8zM584.5 1331.9h13.8v13.8h-13.8zM585.5 1329h13.8v13.8h-13.8zM586.6 1334.4h13.8v13.8h-13.8zM587.6 1328.9h13.8v13.8h-13.8zM588.7 1335h13.8v13.8h-13.8zM589.7 1336.7h13.8v13.8h-13.8zM590.8 1332.8h13.8v13.8h-13.8zM591.8 1333.5h13.8v13.8h-13.8zM592.8 1331.9h13.8v13.8h-13.8zM593.9 1337h13.8v13.8h-13.8zM594.9 1332.1h13.8v13.8h-13.8zM596 1341.5h13.8v13.8h-13.8zM597 1340.7h13.8v13.8h-13.8zM598 1339.3h13.8v13.8h-13.8zM599.1 1340.5h13.8v13.8h-13.8zM600.1 1341.5h13.8v13.8h-13.8zM601.2 1339.6h13.8v13.8h-13.8zM602.2 1334h13.8v13.8h-13.8zM603.3 1338.3h13.8v13.8h-13.8zM604.3 1342.4h13.8v13.8h-13.8zM605.3 1344.1h13.8v13.8h-13.8zM606.4 1335.2h13.8v13.8h-13.8zM607.4 1336.4h13.8v13.8h-13.8zM608.5 1335.7h13.8v13.8h-13.8zM609.5 1344.1h13.8v13.8h-13.8zM610.6 1347.5h13.8v13.8h-13.8zM611.6 1342.5h13.8v13.8h-13.8zM612.6 1346.8h13.8v13.8h-13.8zM613.7 1343.6h13.8v13.8h-13.8zM614.7 1334h13.8v13.8h-13.8zM615.8 1341.6h13.8v13.8h-13.8zM616.8 1338.1h13.8v13.8h-13.8zM617.8 1335.4h13.8v13.8h-13.8zM618.9 1341.5h13.8v13.8h-13.8zM619.9 1337.6h13.8v13.8h-13.8zM621 1340.5h13.8v13.8h-13.8zM622 1343.3h13.8v13.8h-13.8zM623.1 1337.8h13.8v13.8h-13.8zM624.1 1345.8h13.8v13.8h-13.8zM625.1 1345.5h13.8v13.8h-13.8zM626.2 1341.1h13.8v13.8h-13.8zM627.2 1344.9h13.8v13.8h-13.8zM628.3 1346.9h13.8v13.8h-13.8zM629.3 1340.6h13.8v13.8h-13.8zM630.4 1339.8h13.8v13.8h-13.8zM631.4 1344.2h13.8v13.8h-13.8zM632.4 1344.6h13.8v13.8h-13.8zM633.5 1342.8h13.8v13.8h-13.8zM634.5 1347.4h13.8v13.8h-13.8zM635.6 1345.5h13.8v13.8h-13.8zM636.6 1348h13.8v13.8h-13.8zM637.6 1340.6h13.8v13.8h-13.8zM638.7 1346.3h13.8v13.8h-13.8zM639.7 1340.7h13.8v13.8h-13.8zM640.8 1343.8h13.8v13.8h-13.8zM641.8 1340.4h13.8v13.8h-13.8zM642.9 1342.6h13.8v13.8h-13.8zM643.9 1346.5h13.8v13.8h-13.8zM644.9 1343.1h13.8v13.8h-13.8zM646 1341.5h13.8v13.8h-13.8zM647 1350.3h13.8v13.8h-13.8zM648.1 1345.2h13.8v13.8h-13.8zM649.1 1350.5h13.8v13.8h-13.8zM650.1 1341.7h13.8v13.8h-13.8zM651.2 1343.8h13.8v13.8h-13.8zM652.2 1340.8h13.8v13.8h-13.8zM653.3 1347h13.8v13.8h-13.8zM654.3 1340.1h13.8v13.8h-13.8zM655.4 1351.8h13.8v13.8h-13.8zM656.4 1350.5h13.8v13.8h-13.8zM657.4 1349.9h13.8v13.8h-13.8zM658.5 1350h13.8v13.8h-13.8zM659.5 1347.9h13.8v13.8h-13.8zM660.6 1350.5h13.8v13.8h-13.8zM661.6 1343.3h13.8v13.8h-13.8zM662.7 1343h13.8v13.8h-13.8zM663.7 1342.5h13.8v13.8h-13.8zM664.7 1340.9h13.8v13.8h-13.8zM665.8 1351.2h13.8v13.8h-13.8zM666.8 1347.4h13.8v13.8h-13.8zM667.9 1341.5h13.8v13.8h-13.8zM668.9 1341h13.8v13.8h-13.8zM669.9 1342.2h13.8v13.8h-13.8zM671 1340.9h13.8v13.8h-13.8zM672 1347h13.8v13.8h-13.8zM673.1 1349.6h13.8v13.8h-13.8zM674.1 1353.4h13.8v13.8h-13.8zM675.2 1347.5h13.8v13.8h-13.8zM676.2 1354.8h13.8v13.8h-13.8zM677.2 1345.5h13.8v13.8h-13.8zM678.3 1352.9h13.8v13.8h-13.8zM679.3 1353h13.8v13.8h-13.8zM680.4 1350.5h13.8v13.8h-13.8zM681.4 1349.2h13.8v13.8h-13.8zM682.5 1351.8h13.8v13.8h-13.8zM683.5 1350.4h13.8v13.8h-13.8zM684.5 1342.1h13.8v13.8h-13.8zM685.6 1350h13.8v13.8h-13.8zM686.6 1340.2h13.8v13.8h-13.8zM687.7 1348.1h13.8v13.8h-13.8zM688.7 1351.7h13.8v13.8h-13.8zM689.7 1349.5h13.8v13.8h-13.8zM690.8 1342.2h13.8v13.8h-13.8zM691.8 1345.6h13.8v13.8h-13.8zM692.9 1349.5h13.8v13.8h-13.8zM693.9 1352.6h13.8v13.8h-13.8zM695 1345.6h13.8v13.8h-13.8zM696 1350.5h13.8v13.8h-13.8zM697 1343.8h13.8v13.8h-13.8zM698.1 1352.2h13.8v13.8h-13.8zM699.1 1343.1h13.8v13.8h-13.8zM700.2 1344h13.8v13.8h-13.8zM701.2 1344.5h13.8v13.8h-13.8zM702.2 1345.6h13.8v13.8h-13.8zM703.3 1345.9h13.8v13.8h-13.8zM704.3 1351.7h13.8v13.8h-13.8zM705.4 1347.3h13.8v13.8h-13.8zM706.4 1346.5h13.8v13.8h-13.8zM707.5 1349.6h13.8v13.8h-13.8zM708.5 1347.8h13.8v13.8h-13.8zM709.5 1342.5h13.8v13.8h-13.8zM710.6 1349.3h13.8v13.8h-13.8zM711.6 1350.3h13.8v13.8h-13.8zM712.7 1348.1h13.8v13.8h-13.8zM713.7 1343.1h13.8v13.8h-13.8zM714.8 1352.1h13.8v13.8h-13.8zM715.8 1349.3h13.8v13.8h-13.8zM716.8 1346.7h13.8v13.8h-13.8zM717.9 1351.6h13.8v13.8h-13.8zM718.9 1348.9h13.8v13.8h-13.8zM720 1343.4h13.8v13.8h-13.8zM721 1351.1h13.8v13.8h-13.8zM722 1349.1h13.8v13.8h-13.8zM723.1 1353.6h13.8v13.8h-13.8zM724.1 1346.2h13.8v13.8h-13.8zM725.2 1354.3h13.8v13.8h-13.8zM726.2 1353.5h13.8v13.8h-13.8zM727.3 1346.9h13.8v13.8h-13.8zM728.3 1347.3h13.8v13.8h-13.8zM729.3 1343.9h13.8v13.8h-13.8zM730.4 1352.8h13.8v13.8h-13.8zM731.4 1354.6h13.8v13.8h-13.8zM732.5 1342.9h13.8v13.8h-13.8zM733.5 1344.1h13.8v13.8h-13.8zM734.6 1351.3h13.8v13.8h-13.8zM735.6 1353.4h13.8v13.8h-13.8zM736.6 1347.6h13.8v13.8h-13.8zM737.7 1347.5h13.8v13.8h-13.8zM738.7 1348.5h13.8v13.8h-13.8zM739.8 1354.5h13.8v13.8h-13.8zM740.8 1352.6h13.8v13.8h-13.8zM741.8 1350.5h13.8v13.8h-13.8zM742.9 1351h13.8v13.8h-13.8zM743.9 1345.7h13.8v13.8h-13.8zM745 1354.7h13.8v13.8h-13.8zM746 1345.9h13.8v13.8h-13.8zM747.1 1354.1h13.8v13.8h-13.8zM748.1 1349.2h13.8v13.8h-13.8zM749.1 1343.4h13.8v13.8h-13.8zM750.2 1353.7h13.8v13.8h-13.8zM751.2 1344.6h13.8v13.8h-13.8zM752.3 1347.6h13.8v13.8h-13.8zM753.3 1346.2h13.8v13.8h-13.8zM754.3 1349.5h13.8v13.8h-13.8zM755.4 1354.2h13.8v13.8h-13.8zM756.4 1344.5h13.8v13.8h-13.8zM757.5 1344.7h13.8v13.8h-13.8zM758.5 1355.8h13.8v13.8h-13.8zM759.6 1348.8h13.8v13.8h-13.8zM760.6 1354.9h13.8v13.8h-13.8zM761.6 1346.1h13.8v13.8h-13.8zM762.7 1352.2h13.8v13.8h-13.8zM763.7 1350.7h13.8v13.8h-13.8zM764.8 1346.2h13.8v13.8h-13.8zM765.8 1352.1h13.8v13.8h-13.8zM766.9 1356.3h13.8v13.8h-13.8zM767.9 1352.9h13.8v13.8h-13.8zM768.9 1351.5h13.8v13.8h-13.8zM770 1354.4h13.8v13.8h-13.8zM771 1345.7h13.8v13.8h-13.8zM772.1 1351.1h13.8v13.8h-13.8zM773.1 1351.3h13.8v13.8h-13.8zM774.1 1347.3h13.8v13.8h-13.8zM775.2 1350.8h13.8v13.8h-13.8zM776.2 1348.4h13.8v13.8h-13.8zM777.3 1348.2h13.8v13.8h-13.8zM778.3 1348.6h13.8v13.8h-13.8zM779.4 1355.4h13.8v13.8h-13.8zM780.4 1343.2h13.8v13.8h-13.8zM781.4 1343.2h13.8v13.8h-13.8zM782.5 1349h13.8v13.8h-13.8zM783.5 1350.2h13.8v13.8h-13.8zM784.6 1347.5h13.8v13.8h-13.8zM785.6 1351.8h13.8v13.8h-13.8zM786.6 1352.5h13.8v13.8h-13.8zM787.7 1351.6h13.8v13.8h-13.8zM788.7 1353.9h13.8v13.8h-13.8zM789.8 1344.7h13.8v13.8h-13.8zM790.8 1355.1h13.8v13.8h-13.8zM791.9 1352.6h13.8v13.8h-13.8zM792.9 1345.3h13.8v13.8h-13.8zM793.9 1346.3h13.8v13.8h-13.8zM795 1345.4h13.8v13.8h-13.8zM796 1355.7h13.8v13.8h-13.8zM797.1 1353h13.8v13.8h-13.8zM798.1 1350.2h13.8v13.8h-13.8zM799.2 1348h13.8v13.8h-13.8zM800.2 1352h13.8v13.8h-13.8zM801.2 1350.6h13.8v13.8h-13.8zM802.3 1344.5h13.8v13.8h-13.8zM803.3 1351.6h13.8v13.8h-13.8zM804.4 1346.4h13.8v13.8h-13.8zM805.4 1349.6h13.8v13.8h-13.8zM806.4 1344.6h13.8v13.8h-13.8zM807.5 1344.9h13.8v13.8h-13.8zM808.5 1357.1h13.8v13.8h-13.8zM809.6 1348.4h13.8v13.8h-13.8zM810.6 1347.1h13.8v13.8h-13.8zM811.7 1345.4h13.8v13.8h-13.8zM812.7 1351.5h13.8v13.8h-13.8zM813.7 1353.9h13.8v13.8h-13.8zM814.8 1342.7h13.8v13.8h-13.8zM815.8 1354.1h13.8v13.8h-13.8zM816.9 1352.1h13.8v13.8h-13.8zM817.9 1353.9h13.8v13.8h-13.8zM819 1351.9h13.8v13.8h-13.8zM820 1351.2h13.8v13.8h-13.8zM821 1351h13.8v13.8h-13.8zM822.1 1350.3h13.8v13.8h-13.8zM823.1 1346.2h13.8v13.8h-13.8zM824.2 1345.3h13.8v13.8h-13.8zM825.2 1351.5h13.8v13.8h-13.8zM826.2 1352.6h13.8v13.8h-13.8zM827.3 1354h13.8v13.8h-13.8zM828.3 1347.8h13.8v13.8h-13.8zM829.4 1346.8h13.8v13.8h-13.8zM830.4 1349.8h13.8v13.8h-13.8zM831.5 1345h13.8v13.8h-13.8zM832.5 1353h13.8v13.8h-13.8zM833.5 1349.2h13.8v13.8h-13.8zM834.6 1356.5h13.8v13.8h-13.8zM835.6 1351.6h13.8v13.8h-13.8zM836.7 1353.2h13.8v13.8h-13.8zM837.7 1350.3h13.8v13.8h-13.8zM838.7 1353h13.8v13.8h-13.8zM839.8 1349.5h13.8v13.8h-13.8zM840.8 1352.2h13.8v13.8h-13.8zM841.9 1353.5h13.8v13.8h-13.8zM842.9 1353.4h13.8v13.8h-13.8zM844 1352.9h13.8v13.8h-13.8zM845 1344.5h13.8v13.8h-13.8zM846 1350.4h13.8v13.8h-13.8zM847.1 1354h13.8v13.8h-13.8zM848.1 1346.5h13.8v13.8h-13.8zM849.2 1348.2h13.8v13.8h-13.8zM850.2 1349.7h13.8v13.8h-13.8zM851.3 1344.3h13.8v13.8h-13.8zM852.3 1348.8h13.8v13.8h-13.8zM853.3 1347.2h13.8v13.8h-13.8zM854.4 1350.1h13.8v13.8h-13.8zM855.4 1356.1h13.8v13.8h-13.8zM856.5 1352.6h13.8v13.8h-13.8zM857.5 1348h13.8v13.8h-13.8zM858.5 1347.1h13.8v13.8h-13.8zM859.6 1354.1h13.8v13.8h-13.8zM860.6 1354.9h13.8v13.8h-13.8zM861.7 1350.4h13.8v13.8h-13.8zM862.7 1347.3h13.8v13.8h-13.8zM863.8 1346.1h13.8v13.8h-13.8zM864.8 1355.8h13.8v13.8h-13.8zM865.8 1343.6h13.8v13.8h-13.8zM866.9 1345.3h13.8v13.8h-13.8zM867.9 1344h13.8v13.8h-13.8zM869 1353.7h13.8v13.8h-13.8zM870 1351.2h13.8v13.8h-13.8zM871.1 1351.7h13.8v13.8h-13.8zM872.1 1348h13.8v13.8h-13.8zM873.1 1354.9h13.8v13.8h-13.8zM874.2 1346.6h13.8v13.8h-13.8zM875.2 1354h13.8v13.8h-13.8zM876.3 1354.8h13.8v13.8h-13.8zM877.3 1353.7h13.8v13.8h-13.8zM878.3 1355.4h13.8v13.8h-13.8zM879.4 1352.7h13.8v13.8h-13.8zM880.4 1351.7h13.8v13.8h-13.8zM881.5 1345.3h13.8v13.8h-13.8zM882.5 1353.7h13.8v13.8h-13.8zM883.6 1346.9h13.8v13.8h-13.8zM884.6 1354h13.8v13.8h-13.8zM885.6 1352.9h13.8v13.8h-13.8zM886.7 1348.8h13.8v13.8h-13.8zM887.7 1352.2h13.8v13.8h-13.8zM888.8 1343.3h13.8v13.8h-13.8zM889.8 1353.5h13.8v13.8h-13.8zM890.8 1346.9h13.8v13.8h-13.8zM891.9 1344h13.8v13.8h-13.8zM892.9 1352.7h13.8v13.8h-13.8zM894 1351.4h13.8v13.8h-13.8zM895 1349.7h13.8v13.8h-13.8zM896.1 1348.1h13.8v13.8h-13.8zM897.1 1344.6h13.8v13.8h-13.8zM898.1 1353.7h13.8v13.8h-13.8zM899.2 1346.9h13.8v13.8h-13.8zM900.2 1344.3h13.8v13.8h-13.8zM901.3 1355h13.8v13.8h-13.8zM902.3 1353.4h13.8v13.8h-13.8zM903.4 1350.7h13.8v13.8h-13.8zM904.4 1345.3h13.8v13.8h-13.8zM905.4 1355.6h13.8v13.8h-13.8zM906.5 1352.1h13.8v13.8h-13.8zM907.5 1348.1h13.8v13.8h-13.8zM908.6 1346.8h13.8v13.8h-13.8zM909.6 1348.1h13.8v13.8h-13.8zM910.6 1343.2h13.8v13.8h-13.8zM911.7 1352.2h13.8v13.8h-13.8zM912.7 1352.3h13.8v13.8h-13.8zM913.8 1350.7h13.8v13.8h-13.8zM914.8 1356.7h13.8v13.8h-13.8zM915.9 1354.8h13.8v13.8h-13.8zM916.9 1353.7h13.8v13.8h-13.8zM917.9 1348.5h13.8v13.8h-13.8zM919 1355h13.8v13.8h-13.8zM920 1348.5h13.8v13.8h-13.8zM921.1 1348.2h13.8v13.8h-13.8zM922.1 1350.4h13.8v13.8h-13.8zM923.2 1345.1h13.8v13.8h-13.8zM924.2 1348.5h13.8v13.8h-13.8zM925.2 1354.1h13.8v13.8h-13.8zM926.3 1344.5h13.8v13.8h-13.8zM927.3 1344.8h13.8v13.8h-13.8zM928.4 1352.8h13.8v13.8h-13.8zM929.4 1348.5h13.8v13.8h-13.8zM930.4 1350.8h13.8v13.8h-13.8zM931.5 1347.8h13.8v13.8h-13.8zM932.5 1341.9h13.8v13.8h-13.8zM933.6 1348h13.8v13.8h-13.8z" stroke="#FFC000"/></g><path d="M147.70000000000002 911.4H956.2" fill="none" stroke="#000" stroke-width="3.9"/><g font-family="Liberation Serif, serif" font-size="48" fill="#000"><text x="17.5" y="850.9" font-family="Liberation Sans, sans-serif" font-size="33">(b)</text><text transform="translate(161.8 867.6) scale(1.035 1)" text-anchor="middle">0</text><text transform="translate(297.4 867.6) scale(1.035 1)" text-anchor="middle">0.01</text><text transform="translate(433.0 867.6) scale(1.035 1)" text-anchor="middle">0.02</text><text transform="translate(568.6 867.6) scale(1.035 1)" text-anchor="middle">0.03</text><text transform="translate(704.2 867.6) scale(1.035 1)" text-anchor="middle">0.04</text><text transform="translate(839.8 867.6) scale(1.035 1)" text-anchor="middle">0.05</text><text transform="translate(544.0 819.8) scale(1.047 1)" text-anchor="middle">Depth/µm</text><text transform="translate(162.3 1465.8) scale(1.035 1)" text-anchor="middle">0</text><text transform="translate(360.8 1465.8) scale(1.035 1)" text-anchor="middle">200</text><text transform="translate(559.2 1465.8) scale(1.035 1)" text-anchor="middle">400</text><text transform="translate(757.7 1465.8) scale(1.035 1)" text-anchor="middle">600</text><text transform="translate(956.2 1465.8) scale(1.035 1)" text-anchor="middle">800</text><text transform="translate(560.5 1515.1) scale(1.05 1)" text-anchor="middle">Sputter period/s</text><text transform="translate(119.5 927.2) scale(1.035 1)" text-anchor="end">2</text><text transform="translate(119.5 1046.4) scale(1.035 1)" text-anchor="end">1.6</text><text transform="translate(119.5 1167.2) scale(1.035 1)" text-anchor="end">1.2</text><text transform="translate(119.5 1287.2) scale(1.035 1)" text-anchor="end">0.8</text><text transform="translate(119.5 1408.3) scale(1.035 1)" text-anchor="end">0.4</text><text transform="translate(40.4 1087.5) rotate(-90) scale(1.055 1.16)" text-anchor="middle">O<tspan font-size="27" dy="-15.5">-</tspan><tspan dy="15.5">/C</tspan><tspan font-size="27" dy="-15.5">-</tspan><tspan dy="15.5"> intensity ratio</tspan></text></g>
</svg></body></html>
